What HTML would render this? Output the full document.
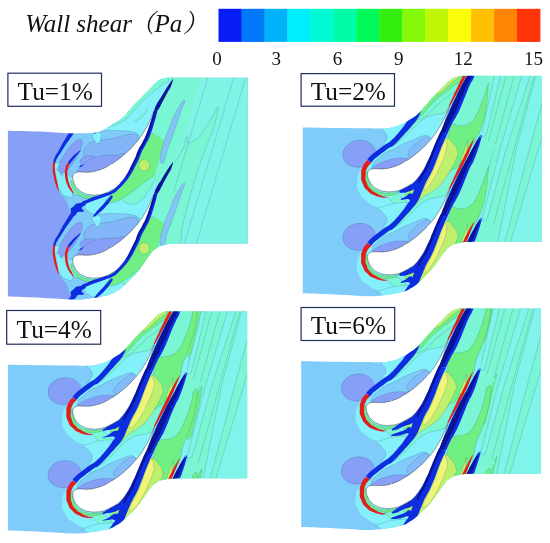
<!DOCTYPE html><html><head><meta charset="utf-8"><title>Wall shear</title>
<style>html,body{margin:0;padding:0;background:#fff}svg{display:block}.p{filter:blur(0.35px)}.s{font-family:"Liberation Serif","Noto Serif CJK SC",serif;fill:#111}</style></head><body>
<svg width="550" height="543" viewBox="0 0 550 543">
<rect width="550" height="543" fill="#fff"/>
<rect x="218.5" y="8.8" width="23.4" height="33.1" fill="rgb(8,28,246)"/>
<rect x="241.5" y="8.8" width="23.4" height="33.1" fill="rgb(0,120,250)"/>
<rect x="264.4" y="8.8" width="23.4" height="33.1" fill="rgb(0,178,250)"/>
<rect x="287.4" y="8.8" width="23.4" height="33.1" fill="rgb(0,238,252)"/>
<rect x="310.4" y="8.8" width="23.4" height="33.1" fill="rgb(0,250,212)"/>
<rect x="333.3" y="8.8" width="23.4" height="33.1" fill="rgb(0,252,168)"/>
<rect x="356.3" y="8.8" width="23.4" height="33.1" fill="rgb(0,250,90)"/>
<rect x="379.3" y="8.8" width="23.4" height="33.1" fill="rgb(52,238,16)"/>
<rect x="402.2" y="8.8" width="23.4" height="33.1" fill="rgb(132,250,8)"/>
<rect x="425.2" y="8.8" width="23.4" height="33.1" fill="rgb(190,246,6)"/>
<rect x="448.1" y="8.8" width="23.4" height="33.1" fill="rgb(252,252,8)"/>
<rect x="471.1" y="8.8" width="23.4" height="33.1" fill="rgb(255,192,4)"/>
<rect x="494.1" y="8.8" width="23.4" height="33.1" fill="rgb(255,132,4)"/>
<rect x="517" y="8.8" width="23.4" height="33.1" fill="rgb(255,52,8)"/>
<text x="217" y="65" font-size="19" text-anchor="middle" class="s">0</text>
<text x="276.2" y="65" font-size="19" text-anchor="middle" class="s">3</text>
<text x="337.4" y="65" font-size="19" text-anchor="middle" class="s">6</text>
<text x="398.8" y="65" font-size="19" text-anchor="middle" class="s">9</text>
<text x="463.3" y="65" font-size="19" text-anchor="middle" class="s">12</text>
<text x="533.6" y="65" font-size="19" text-anchor="middle" class="s">15</text>
<text x="25.2" y="32" font-size="25" font-style="italic" class="s">Wall shear</text>
<text y="32" font-size="25" font-style="italic" class="s"><tspan x="129.5">（</tspan><tspan x="154.5">Pa</tspan><tspan x="182.7">）</tspan></text>
<g class="p" transform="translate(7.7 130.8)">
<clipPath id="c1"><path d="M0 0C10 0.3 11.7 0.1 30 0.8C48.3 1.5 40 1.5 55 2.2C70 2.9 64.1 2.9 75 2.8C85.9 2.7 81.3 2.9 87.6 2C93.9 1.1 90.6 1.3 94 0C97.4 -1.3 95.2 -0.5 97.8 -2C100.4 -3.5 98.4 -2.3 101.8 -4.4C105.2 -6.5 103.3 -5.1 107.9 -8.2C112.5 -11.3 110.5 -9.2 115.5 -13.6C120.5 -18 118.6 -16.9 122.8 -21.5C127 -26.1 124.7 -23.9 128 -27.5C131.3 -31.1 127.7 -27.3 132.6 -32.3C137.5 -37.3 137.7 -37.3 142.8 -42.4C147.9 -47.5 144.4 -44.6 147.8 -47.5C151.2 -50.5 148.9 -49.4 153 -51.2C157.1 -53.1 157.7 -52.5 160 -53.1L240.1 -53.1L240.1 112.8L167.5 112.8C163.8 113.3 162.9 112.6 156.4 114.3C149.9 116 152.8 114.6 148 117.9C143.2 121.2 146 119.4 142 124.3C138 129.2 140.4 126.6 136 132.6C131.6 138.6 133.6 136.6 128.8 142.2C124 147.8 126.5 144.7 121.7 149.4C116.9 154.1 119.3 152.5 114.5 156.4C109.7 160.3 111.3 158.8 107.3 161.2C103.3 163.6 105.9 162.3 102.5 163.6C99.1 164.9 101.8 163.9 97 165C92.2 166.1 95.3 165.7 88 166.8C80.7 167.9 83.7 167.7 75.2 168.4C66.7 169.1 74.2 169.1 62.5 168.8C50.8 168.5 60.8 168.5 40 167.5C19.2 166.5 13.3 166.4 0 165.8Z"/></clipPath>
<g clip-path="url(#c1)">
<rect x="-2" y="-60" width="250" height="240" fill="rgb(134,160,248)"/>
<rect x="140" y="-60" width="110" height="240" fill="rgb(127,244,230)"/>
<path d="M165.5 -54 L193.5 -54 L186 -30 L176 6 L166 33.4 L165.5 33.4Z" fill="rgb(122,246,212)"/>
<path d="M147 64C149.2 56 153.3 52.2 157 46C160.7 39.8 162.7 37 165.5 33C168.3 29 168.9 29.4 171 26C173.1 22.6 174.4 20 176 16C177.6 12 178 6.8 179 6C180 5.2 178.6 12 181 12C183.4 12 187 10 191 6C195 2 197.3 -2.3 201 -8C204.7 -13.7 207.5 -19.9 209.3 -22.3C211.1 -24.7 210.9 -24.5 210 -20C209.1 -15.5 207.6 -8 205 0C202.4 8 200.6 10.2 197 20C193.4 29.8 191.2 35 187 49C182.8 63 179.4 76.6 176 90C172.6 103.4 175.2 110.8 170 116C164.8 121.2 154.8 122 150 116C145.2 110 146.6 96.4 146 86C145.4 75.6 144.8 72 147 64Z" fill="rgb(122,246,212)" stroke="rgb(40,80,110)" stroke-opacity="0.55" stroke-width="0.35"/>
<path d="M200 -53L150 115" fill="none" stroke="rgb(40,80,110)" stroke-opacity="0.55" stroke-width="0.35"/>
<path d="M226 -53L176 115" fill="none" stroke="rgb(40,80,110)" stroke-opacity="0.55" stroke-width="0.35"/>
<path d="M238 -53L188 115" fill="none" stroke="rgb(40,80,110)" stroke-opacity="0.55" stroke-width="0.35"/>
<g transform="translate(0 -83)">
<path d="M67.7 -2.7C69.7 -4.9 69.7 -5.9 73.8 -9.2C77.9 -12.5 75.3 -10.4 80 -12.6C84.7 -14.8 82.6 -13.8 87.9 -15.7C93.2 -17.6 90.6 -16.5 96 -18.4C101.4 -20.3 99.5 -19 104.2 -21.5C108.9 -24 106.3 -22.7 110 -26C113.7 -29.3 112.1 -27.9 115.2 -31.5C118.3 -35.1 116.6 -32.8 119.3 -36.8C122 -40.8 120.8 -38.8 123.3 -43.4C125.8 -48 124.7 -46.1 126.9 -50.6C129.1 -55.1 128.1 -52.7 129.9 -56.8C131.7 -60.9 130 -58.2 132.2 -62.8C134.4 -67.4 133.7 -65.3 136.4 -70.5C139.1 -75.7 137.6 -71.7 140.3 -78.5C143 -85.3 142.4 -84.2 144.6 -91C146.8 -97.8 145.9 -95 147 -99C148.1 -103 146.7 -99.7 148 -103C149.3 -106.3 148.7 -104.7 151 -109C153.3 -113.3 152.3 -111.3 155 -116C157.7 -120.7 156.5 -118.7 159 -123C161.5 -127.3 160.4 -125.2 162.5 -129C164.6 -132.8 164.3 -132.7 165.2 -134.5L165.2 -51.5C164.3 -49.7 164.6 -49.8 162.5 -46C160.4 -42.2 161.5 -44.3 159 -40C156.5 -35.7 157.7 -37.7 155 -33C152.3 -28.3 153.3 -30.3 151 -26C148.7 -21.7 149.3 -23.3 148 -20C146.7 -16.7 148.1 -20 147 -16C145.9 -12 146.8 -14.8 144.6 -8C142.4 -1.2 143 -2.3 140.3 4.5C137.6 11.3 139.1 7.3 136.4 12.5C133.7 17.7 134.4 15.6 132.2 20.2C130 24.8 131.7 22.1 129.9 26.2C128.1 30.3 129.1 27.9 126.9 32.4C124.7 36.9 125.8 35 123.3 39.6C120.8 44.2 122 42.2 119.3 46.2C116.6 50.2 118.3 47.9 115.2 51.5C112.1 55.1 113.7 53.7 110 57C106.3 60.3 108.9 59 104.2 61.5C99.5 64 101.4 62.7 96 64.6C90.6 66.5 93.2 65.4 87.9 67.3C82.6 69.2 84.7 68.2 80 70.4C75.3 72.6 77.9 70.5 73.8 73.8C69.7 77.1 69.7 78.1 67.7 80.3L67.7 80.3C65.8 80.4 64.4 81.6 62 80.5C59.6 79.4 62.1 80.7 60.6 77C59.1 73.3 60.9 75 57.6 69.3C54.3 63.6 53.8 65.6 50.8 59.8C47.8 54 49.9 56.9 48.6 52C47.3 47.1 47.8 49.7 47 45C46.2 40.3 46.3 42.3 46.1 38C45.9 33.7 45.7 35.8 46.5 32C47.3 28.2 46.4 30.6 48.4 26.7C50.4 22.8 50 24.3 52.5 20.2C55 16.1 53.4 18.3 55.8 14.4C58.2 10.5 57 12.5 59.6 8.5C62.2 4.5 60.9 6.1 63.6 2.4C66.3 -1.3 66.3 -1 67.7 -2.7Z" fill="rgb(132,240,250)"/>
<path d="M67.7 -2.7C65.3 -0.2 66.4 -1.6 63.6 2.4C60.8 6.4 59.3 8.7 55.8 14.4C52.3 20.1 50.6 22.6 48.4 26.7C46.2 30.8 45.7 30.8 46.5 32C47.3 33.2 49.3 31.1 52 32C54.7 32.9 56.1 33.2 58 36C59.9 38.8 57.2 41.9 60 44C62.8 46.1 60.7 46.9 70 45C79.3 43.1 90.2 40.2 100 36C109.8 31.8 106.2 32.1 112 27C117.8 21.9 120.5 18.6 125 14C129.5 9.4 130.1 9.8 131.2 7.2C132.3 4.6 132.1 4.6 129.6 3C127.1 1.4 126.5 1.3 120.5 0.5C114.5 -0.3 111.6 -0.2 103.9 -0.3C96.2 -0.4 92.9 0.8 87.3 0.2C81.7 -0.4 83.2 -1 80 -3C76.8 -5 76.7 -8.6 73.8 -8.5C70.9 -8.4 70.1 -5.2 67.7 -2.7Z" fill="rgb(127,203,250)" stroke="rgb(40,80,110)" stroke-opacity="0.55" stroke-width="0.35"/>
<path d="M80 14C83 10.9 80.9 12.1 87.3 10.5C93.7 8.9 96 9.6 103.9 8C111.8 6.4 111.2 5.7 117.1 4.5C123 3.3 122.6 2.8 126 3.5C129.4 4.2 130 4 130 7C130 10 129.2 10.4 125.9 14.6C122.6 18.8 122 19.9 117.8 22.7C113.6 25.5 115.3 24.4 110 25C104.7 25.6 103.9 24.5 98 25C92.1 25.5 92.8 25.7 88 27C83.2 28.3 83.2 31.3 80 30C76.8 28.7 76 26.3 76 22C76 17.7 77 17.1 80 14Z" fill="rgb(131,182,249)" stroke="rgb(40,80,110)" stroke-opacity="0.55" stroke-width="0.35"/>
<path d="M50.8 59.8C50.2 62 55.3 65.3 57.6 69.3C59.9 73.3 59.6 74.4 60.6 77C61.6 79.6 60.3 79.7 62 80.5C63.7 81.3 64.9 81.7 67.7 80.3C70.5 78.9 70.9 76.7 73.8 74.5C76.7 72.3 79.5 73 80 71C80.5 69 78.8 67.6 76 66C73.2 64.4 71.7 65.4 68 64C64.3 62.6 64 61 60 60C56 59 51.4 57.6 50.8 59.8Z" fill="rgb(127,203,250)" stroke="rgb(40,80,110)" stroke-opacity="0.55" stroke-width="0.35"/>
<ellipse cx="62.3" cy="26" rx="20.5" ry="6.2" transform="rotate(-57 62.3 26)" fill="rgb(134,160,248)" stroke="rgb(40,80,110)" stroke-opacity="0.55" stroke-width="0.35"/>
<ellipse cx="80.5" cy="29.5" rx="8.5" ry="4.6" transform="rotate(-12 80.5 29.5)" fill="rgb(134,160,248)" stroke="rgb(40,80,110)" stroke-opacity="0.55" stroke-width="0.35"/>
<path d="M69.2 41.5C69.6 39.4 70.4 38.8 74 35C77.6 31.2 75.3 32.8 80 30C84.7 27.2 82 28.3 88 26.5C94 24.7 91.2 25.3 98 24.6C104.8 23.9 103.2 24.8 108.5 24.3C113.8 23.8 111.5 22.9 114 23C116.5 23.1 118.1 21.8 116 24.5C113.9 27.2 111.9 27.9 107.6 31C103.3 34.1 106.3 31.8 103.1 33.7C99.9 35.6 101.5 35 98.1 36.7C94.7 38.4 96.4 37.7 93 38.9C89.6 40.1 91.4 39.6 88 40.4C84.6 41.2 86.3 41 82.9 41.4C79.5 41.8 81.2 41.6 77.8 41.6C74.4 41.6 75.7 41.4 72.8 41.4C69.9 41.4 68.8 43.6 69.2 41.5Z" fill="rgb(134,160,248)" stroke="rgb(40,80,110)" stroke-opacity="0.55" stroke-width="0.35"/>
<path d="M104 -21C102.7 -16 106 -19.7 112 -16C118 -12.3 115 -11 122 -10C129 -9 127 -9 133 -13C139 -17 136 -16.3 140 -22C144 -27.7 141.7 -24 145 -30C148.3 -36 147 -32.7 150 -40C153 -47.3 155.3 -45.3 154 -52C152.7 -58.7 151.3 -54 146 -60C140.7 -66 143 -71.3 138 -70C133 -68.7 135.7 -65 131 -56C126.3 -47 129 -51.3 124 -43C119 -34.7 122.7 -38.3 116 -31C109.3 -23.7 105.3 -26 104 -21Z" fill="rgb(122,246,212)" stroke="rgb(40,80,110)" stroke-opacity="0.55" stroke-width="0.35"/>
<path d="M98 -12C97.6 -14.3 100.8 -16.3 104.5 -20C108.2 -23.7 108.3 -22.4 112 -26C115.7 -29.6 115.6 -29.8 118.5 -33.5C121.4 -37.2 120.8 -36.3 123 -40C125.2 -43.7 124.9 -43.5 126.8 -47.5C128.7 -51.5 127.9 -50.1 130 -55C132.1 -59.9 131.8 -60.3 134.5 -66C137.2 -71.7 137.1 -72.8 140 -76.5C142.9 -80.2 142.6 -79.9 145.5 -80C148.4 -80.1 148 -78.9 151 -77C154 -75.1 155.6 -76.1 156.6 -72.9C157.6 -69.7 155.9 -68.8 154.8 -65C153.7 -61.2 153.9 -62.7 152.6 -58.7C151.3 -54.7 151.4 -55 150 -50C148.6 -45 151.4 -45.4 147.3 -40C143.2 -34.6 142.2 -35.8 134.5 -29.9C126.8 -24 125.9 -22.7 118.3 -17.8C110.7 -12.9 111.4 -13 106 -11.5C100.6 -10 98.4 -9.7 98 -12Z" fill="rgb(112,240,132)" stroke="rgb(40,80,110)" stroke-opacity="0.55" stroke-width="0.35"/>
<ellipse cx="136.5" cy="-48.5" rx="5.4" ry="5.8" fill="rgb(190,240,110)" stroke="rgb(40,80,110)" stroke-opacity="0.55" stroke-width="0.35"/>
<path d="M146 -80 L147 -102 L157 -120 L165.4 -134.6 L166.4 -134.6 L166.4 -50 L158 -33 L150 -21 L147.3 -40 L152.6 -58.7 L156.6 -72.9 L151 -77Z" fill="rgb(122,246,212)"/>
<path d="M176.9 -113.4C177.9 -112.1 175.6 -109.8 172 -99C168.4 -88.2 170 -92.3 166 -81C162 -69.7 163 -74 160 -65C157 -56 159 -58.7 157 -54C155 -49.3 155.4 -50 154 -51C152.6 -52 152.1 -50.3 152.8 -57C153.5 -63.7 152.9 -61 156 -71C159.1 -81 157.7 -76.3 162 -87C166.3 -97.7 164 -94.2 169 -103C174 -111.8 175.9 -114.7 176.9 -113.4Z" fill="rgb(132,196,246)" stroke="rgb(40,80,110)" stroke-opacity="0.55" stroke-width="0.35"/>
<path d="M63 50.1C63.3 51.6 62.6 51.3 63.8 54.5C65 57.6 63.9 56.2 66.6 59.6C69.3 63 67.7 62.1 71.9 64.7C76.1 67.3 73.9 66.4 79.3 67.4C84.7 68.4 82.5 68.6 88.1 67.7C93.8 66.8 93.5 65.7 96.1 64.7L95.9 63.7C93.2 64.3 93.2 65.1 87.9 65.5C82.5 65.9 84.6 66 79.7 65C74.9 64 77 64.8 73.3 62.5C69.6 60.1 71.1 61 68.6 58C66.1 55 67.4 56.2 65.8 53.5C64.2 50.8 64.4 51.1 63.8 49.9Z" fill="rgb(112,240,132)" stroke="rgb(40,80,110)" stroke-opacity="0.55" stroke-width="0.35"/>
<path d="M48.2 40C48.9 37 49.6 39.3 51.5 41C53.4 42.7 52 44.3 54 45C56 45.7 56.3 41.7 57.6 43C58.9 44.3 57.2 45 58 49C58.8 53 57.7 50.2 60 55C62.3 59.8 65 59.8 65 63.5C65 67.2 64.2 67.2 60 66C55.8 64.8 56 65.3 52.5 60C49 54.7 50.9 56.7 49.5 50C48.1 43.3 47.5 43 48.2 40Z" fill="rgb(132,240,250)" stroke="rgb(40,80,110)" stroke-opacity="0.55" stroke-width="0.35"/>
<path d="M85 3C87 0.8 89.8 0.8 92.5 2.5C95.2 4.2 93.8 4.7 93 8C92.2 11.3 92.2 12.2 90 12.5C87.8 12.8 88.2 12.2 86.5 9C84.8 5.8 83 5.2 85 3Z" fill="rgb(132,240,250)" stroke="rgb(40,80,110)" stroke-opacity="0.55" stroke-width="0.35"/>
</g>
<g transform="translate(0 0)">
<path d="M67.7 -2.7C69.7 -4.9 69.7 -5.9 73.8 -9.2C77.9 -12.5 75.3 -10.4 80 -12.6C84.7 -14.8 82.6 -13.8 87.9 -15.7C93.2 -17.6 90.6 -16.5 96 -18.4C101.4 -20.3 99.5 -19 104.2 -21.5C108.9 -24 106.3 -22.7 110 -26C113.7 -29.3 112.1 -27.9 115.2 -31.5C118.3 -35.1 116.6 -32.8 119.3 -36.8C122 -40.8 120.8 -38.8 123.3 -43.4C125.8 -48 124.7 -46.1 126.9 -50.6C129.1 -55.1 128.1 -52.7 129.9 -56.8C131.7 -60.9 130 -58.2 132.2 -62.8C134.4 -67.4 133.7 -65.3 136.4 -70.5C139.1 -75.7 137.6 -71.7 140.3 -78.5C143 -85.3 142.4 -84.2 144.6 -91C146.8 -97.8 145.9 -95 147 -99C148.1 -103 146.7 -99.7 148 -103C149.3 -106.3 148.7 -104.7 151 -109C153.3 -113.3 152.3 -111.3 155 -116C157.7 -120.7 156.5 -118.7 159 -123C161.5 -127.3 160.4 -125.2 162.5 -129C164.6 -132.8 164.3 -132.7 165.2 -134.5L165.2 -51.5C164.3 -49.7 164.6 -49.8 162.5 -46C160.4 -42.2 161.5 -44.3 159 -40C156.5 -35.7 157.7 -37.7 155 -33C152.3 -28.3 153.3 -30.3 151 -26C148.7 -21.7 149.3 -23.3 148 -20C146.7 -16.7 148.1 -20 147 -16C145.9 -12 146.8 -14.8 144.6 -8C142.4 -1.2 143 -2.3 140.3 4.5C137.6 11.3 139.1 7.3 136.4 12.5C133.7 17.7 134.4 15.6 132.2 20.2C130 24.8 131.7 22.1 129.9 26.2C128.1 30.3 129.1 27.9 126.9 32.4C124.7 36.9 125.8 35 123.3 39.6C120.8 44.2 122 42.2 119.3 46.2C116.6 50.2 118.3 47.9 115.2 51.5C112.1 55.1 113.7 53.7 110 57C106.3 60.3 108.9 59 104.2 61.5C99.5 64 101.4 62.7 96 64.6C90.6 66.5 93.2 65.4 87.9 67.3C82.6 69.2 84.7 68.2 80 70.4C75.3 72.6 77.9 70.5 73.8 73.8C69.7 77.1 69.7 78.1 67.7 80.3L67.7 80.3C65.8 80.4 64.4 81.6 62 80.5C59.6 79.4 62.1 80.7 60.6 77C59.1 73.3 60.9 75 57.6 69.3C54.3 63.6 53.8 65.6 50.8 59.8C47.8 54 49.9 56.9 48.6 52C47.3 47.1 47.8 49.7 47 45C46.2 40.3 46.3 42.3 46.1 38C45.9 33.7 45.7 35.8 46.5 32C47.3 28.2 46.4 30.6 48.4 26.7C50.4 22.8 50 24.3 52.5 20.2C55 16.1 53.4 18.3 55.8 14.4C58.2 10.5 57 12.5 59.6 8.5C62.2 4.5 60.9 6.1 63.6 2.4C66.3 -1.3 66.3 -1 67.7 -2.7Z" fill="rgb(132,240,250)"/>
<path d="M67.7 -2.7C65.3 -0.2 66.4 -1.6 63.6 2.4C60.8 6.4 59.3 8.7 55.8 14.4C52.3 20.1 50.6 22.6 48.4 26.7C46.2 30.8 45.7 30.8 46.5 32C47.3 33.2 49.3 31.1 52 32C54.7 32.9 56.1 33.2 58 36C59.9 38.8 57.2 41.9 60 44C62.8 46.1 60.7 46.9 70 45C79.3 43.1 90.2 40.2 100 36C109.8 31.8 106.2 32.1 112 27C117.8 21.9 120.5 18.6 125 14C129.5 9.4 130.1 9.8 131.2 7.2C132.3 4.6 132.1 4.6 129.6 3C127.1 1.4 126.5 1.3 120.5 0.5C114.5 -0.3 111.6 -0.2 103.9 -0.3C96.2 -0.4 92.9 0.8 87.3 0.2C81.7 -0.4 83.2 -1 80 -3C76.8 -5 76.7 -8.6 73.8 -8.5C70.9 -8.4 70.1 -5.2 67.7 -2.7Z" fill="rgb(127,203,250)" stroke="rgb(40,80,110)" stroke-opacity="0.55" stroke-width="0.35"/>
<path d="M80 14C83 10.9 80.9 12.1 87.3 10.5C93.7 8.9 96 9.6 103.9 8C111.8 6.4 111.2 5.7 117.1 4.5C123 3.3 122.6 2.8 126 3.5C129.4 4.2 130 4 130 7C130 10 129.2 10.4 125.9 14.6C122.6 18.8 122 19.9 117.8 22.7C113.6 25.5 115.3 24.4 110 25C104.7 25.6 103.9 24.5 98 25C92.1 25.5 92.8 25.7 88 27C83.2 28.3 83.2 31.3 80 30C76.8 28.7 76 26.3 76 22C76 17.7 77 17.1 80 14Z" fill="rgb(131,182,249)" stroke="rgb(40,80,110)" stroke-opacity="0.55" stroke-width="0.35"/>
<path d="M50.8 59.8C50.2 62 55.3 65.3 57.6 69.3C59.9 73.3 59.6 74.4 60.6 77C61.6 79.6 60.3 79.7 62 80.5C63.7 81.3 64.9 81.7 67.7 80.3C70.5 78.9 70.9 76.7 73.8 74.5C76.7 72.3 79.5 73 80 71C80.5 69 78.8 67.6 76 66C73.2 64.4 71.7 65.4 68 64C64.3 62.6 64 61 60 60C56 59 51.4 57.6 50.8 59.8Z" fill="rgb(127,203,250)" stroke="rgb(40,80,110)" stroke-opacity="0.55" stroke-width="0.35"/>
<ellipse cx="62.3" cy="26" rx="20.5" ry="6.2" transform="rotate(-57 62.3 26)" fill="rgb(134,160,248)" stroke="rgb(40,80,110)" stroke-opacity="0.55" stroke-width="0.35"/>
<ellipse cx="80.5" cy="29.5" rx="8.5" ry="4.6" transform="rotate(-12 80.5 29.5)" fill="rgb(134,160,248)" stroke="rgb(40,80,110)" stroke-opacity="0.55" stroke-width="0.35"/>
<path d="M69.2 41.5C69.6 39.4 70.4 38.8 74 35C77.6 31.2 75.3 32.8 80 30C84.7 27.2 82 28.3 88 26.5C94 24.7 91.2 25.3 98 24.6C104.8 23.9 103.2 24.8 108.5 24.3C113.8 23.8 111.5 22.9 114 23C116.5 23.1 118.1 21.8 116 24.5C113.9 27.2 111.9 27.9 107.6 31C103.3 34.1 106.3 31.8 103.1 33.7C99.9 35.6 101.5 35 98.1 36.7C94.7 38.4 96.4 37.7 93 38.9C89.6 40.1 91.4 39.6 88 40.4C84.6 41.2 86.3 41 82.9 41.4C79.5 41.8 81.2 41.6 77.8 41.6C74.4 41.6 75.7 41.4 72.8 41.4C69.9 41.4 68.8 43.6 69.2 41.5Z" fill="rgb(134,160,248)" stroke="rgb(40,80,110)" stroke-opacity="0.55" stroke-width="0.35"/>
<path d="M104 -21C102.7 -16 106 -19.7 112 -16C118 -12.3 115 -11 122 -10C129 -9 127 -9 133 -13C139 -17 136 -16.3 140 -22C144 -27.7 141.7 -24 145 -30C148.3 -36 147 -32.7 150 -40C153 -47.3 155.3 -45.3 154 -52C152.7 -58.7 151.3 -54 146 -60C140.7 -66 143 -71.3 138 -70C133 -68.7 135.7 -65 131 -56C126.3 -47 129 -51.3 124 -43C119 -34.7 122.7 -38.3 116 -31C109.3 -23.7 105.3 -26 104 -21Z" fill="rgb(122,246,212)" stroke="rgb(40,80,110)" stroke-opacity="0.55" stroke-width="0.35"/>
<path d="M98 -12C97.6 -14.3 100.8 -16.3 104.5 -20C108.2 -23.7 108.3 -22.4 112 -26C115.7 -29.6 115.6 -29.8 118.5 -33.5C121.4 -37.2 120.8 -36.3 123 -40C125.2 -43.7 124.9 -43.5 126.8 -47.5C128.7 -51.5 127.9 -50.1 130 -55C132.1 -59.9 131.8 -60.3 134.5 -66C137.2 -71.7 137.1 -72.8 140 -76.5C142.9 -80.2 142.6 -79.9 145.5 -80C148.4 -80.1 148 -78.9 151 -77C154 -75.1 155.6 -76.1 156.6 -72.9C157.6 -69.7 155.9 -68.8 154.8 -65C153.7 -61.2 153.9 -62.7 152.6 -58.7C151.3 -54.7 151.4 -55 150 -50C148.6 -45 151.4 -45.4 147.3 -40C143.2 -34.6 142.2 -35.8 134.5 -29.9C126.8 -24 125.9 -22.7 118.3 -17.8C110.7 -12.9 111.4 -13 106 -11.5C100.6 -10 98.4 -9.7 98 -12Z" fill="rgb(112,240,132)" stroke="rgb(40,80,110)" stroke-opacity="0.55" stroke-width="0.35"/>
<ellipse cx="136.5" cy="-48.5" rx="5.4" ry="5.8" fill="rgb(190,240,110)" stroke="rgb(40,80,110)" stroke-opacity="0.55" stroke-width="0.35"/>
<path d="M146 -80 L147 -102 L157 -120 L165.4 -134.6 L166.4 -134.6 L166.4 -50 L158 -33 L150 -21 L147.3 -40 L152.6 -58.7 L156.6 -72.9 L151 -77Z" fill="rgb(122,246,212)"/>
<path d="M176.9 -113.4C177.9 -112.1 175.6 -109.8 172 -99C168.4 -88.2 170 -92.3 166 -81C162 -69.7 163 -74 160 -65C157 -56 159 -58.7 157 -54C155 -49.3 155.4 -50 154 -51C152.6 -52 152.1 -50.3 152.8 -57C153.5 -63.7 152.9 -61 156 -71C159.1 -81 157.7 -76.3 162 -87C166.3 -97.7 164 -94.2 169 -103C174 -111.8 175.9 -114.7 176.9 -113.4Z" fill="rgb(132,196,246)" stroke="rgb(40,80,110)" stroke-opacity="0.55" stroke-width="0.35"/>
<path d="M63 50.1C63.3 51.6 62.6 51.3 63.8 54.5C65 57.6 63.9 56.2 66.6 59.6C69.3 63 67.7 62.1 71.9 64.7C76.1 67.3 73.9 66.4 79.3 67.4C84.7 68.4 82.5 68.6 88.1 67.7C93.8 66.8 93.5 65.7 96.1 64.7L95.9 63.7C93.2 64.3 93.2 65.1 87.9 65.5C82.5 65.9 84.6 66 79.7 65C74.9 64 77 64.8 73.3 62.5C69.6 60.1 71.1 61 68.6 58C66.1 55 67.4 56.2 65.8 53.5C64.2 50.8 64.4 51.1 63.8 49.9Z" fill="rgb(112,240,132)" stroke="rgb(40,80,110)" stroke-opacity="0.55" stroke-width="0.35"/>
<path d="M48.2 40C48.9 37 49.6 39.3 51.5 41C53.4 42.7 52 44.3 54 45C56 45.7 56.3 41.7 57.6 43C58.9 44.3 57.2 45 58 49C58.8 53 57.7 50.2 60 55C62.3 59.8 65 59.8 65 63.5C65 67.2 64.2 67.2 60 66C55.8 64.8 56 65.3 52.5 60C49 54.7 50.9 56.7 49.5 50C48.1 43.3 47.5 43 48.2 40Z" fill="rgb(132,240,250)" stroke="rgb(40,80,110)" stroke-opacity="0.55" stroke-width="0.35"/>
<path d="M85 3C87 0.8 89.8 0.8 92.5 2.5C95.2 4.2 93.8 4.7 93 8C92.2 11.3 92.2 12.2 90 12.5C87.8 12.8 88.2 12.2 86.5 9C84.8 5.8 83 5.2 85 3Z" fill="rgb(132,240,250)" stroke="rgb(40,80,110)" stroke-opacity="0.55" stroke-width="0.35"/>
</g>
<g transform="translate(0 83)">
<path d="M67.7 -2.7C69.7 -4.9 69.7 -5.9 73.8 -9.2C77.9 -12.5 75.3 -10.4 80 -12.6C84.7 -14.8 82.6 -13.8 87.9 -15.7C93.2 -17.6 90.6 -16.5 96 -18.4C101.4 -20.3 99.5 -19 104.2 -21.5C108.9 -24 106.3 -22.7 110 -26C113.7 -29.3 112.1 -27.9 115.2 -31.5C118.3 -35.1 116.6 -32.8 119.3 -36.8C122 -40.8 120.8 -38.8 123.3 -43.4C125.8 -48 124.7 -46.1 126.9 -50.6C129.1 -55.1 128.1 -52.7 129.9 -56.8C131.7 -60.9 130 -58.2 132.2 -62.8C134.4 -67.4 133.7 -65.3 136.4 -70.5C139.1 -75.7 137.6 -71.7 140.3 -78.5C143 -85.3 142.4 -84.2 144.6 -91C146.8 -97.8 145.9 -95 147 -99C148.1 -103 146.7 -99.7 148 -103C149.3 -106.3 148.7 -104.7 151 -109C153.3 -113.3 152.3 -111.3 155 -116C157.7 -120.7 156.5 -118.7 159 -123C161.5 -127.3 160.4 -125.2 162.5 -129C164.6 -132.8 164.3 -132.7 165.2 -134.5L165.2 -51.5C164.3 -49.7 164.6 -49.8 162.5 -46C160.4 -42.2 161.5 -44.3 159 -40C156.5 -35.7 157.7 -37.7 155 -33C152.3 -28.3 153.3 -30.3 151 -26C148.7 -21.7 149.3 -23.3 148 -20C146.7 -16.7 148.1 -20 147 -16C145.9 -12 146.8 -14.8 144.6 -8C142.4 -1.2 143 -2.3 140.3 4.5C137.6 11.3 139.1 7.3 136.4 12.5C133.7 17.7 134.4 15.6 132.2 20.2C130 24.8 131.7 22.1 129.9 26.2C128.1 30.3 129.1 27.9 126.9 32.4C124.7 36.9 125.8 35 123.3 39.6C120.8 44.2 122 42.2 119.3 46.2C116.6 50.2 118.3 47.9 115.2 51.5C112.1 55.1 113.7 53.7 110 57C106.3 60.3 108.9 59 104.2 61.5C99.5 64 101.4 62.7 96 64.6C90.6 66.5 93.2 65.4 87.9 67.3C82.6 69.2 84.7 68.2 80 70.4C75.3 72.6 77.9 70.5 73.8 73.8C69.7 77.1 69.7 78.1 67.7 80.3L67.7 80.3C65.8 80.4 64.4 81.6 62 80.5C59.6 79.4 62.1 80.7 60.6 77C59.1 73.3 60.9 75 57.6 69.3C54.3 63.6 53.8 65.6 50.8 59.8C47.8 54 49.9 56.9 48.6 52C47.3 47.1 47.8 49.7 47 45C46.2 40.3 46.3 42.3 46.1 38C45.9 33.7 45.7 35.8 46.5 32C47.3 28.2 46.4 30.6 48.4 26.7C50.4 22.8 50 24.3 52.5 20.2C55 16.1 53.4 18.3 55.8 14.4C58.2 10.5 57 12.5 59.6 8.5C62.2 4.5 60.9 6.1 63.6 2.4C66.3 -1.3 66.3 -1 67.7 -2.7Z" fill="rgb(132,240,250)"/>
<path d="M67.7 -2.7C65.3 -0.2 66.4 -1.6 63.6 2.4C60.8 6.4 59.3 8.7 55.8 14.4C52.3 20.1 50.6 22.6 48.4 26.7C46.2 30.8 45.7 30.8 46.5 32C47.3 33.2 49.3 31.1 52 32C54.7 32.9 56.1 33.2 58 36C59.9 38.8 57.2 41.9 60 44C62.8 46.1 60.7 46.9 70 45C79.3 43.1 90.2 40.2 100 36C109.8 31.8 106.2 32.1 112 27C117.8 21.9 120.5 18.6 125 14C129.5 9.4 130.1 9.8 131.2 7.2C132.3 4.6 132.1 4.6 129.6 3C127.1 1.4 126.5 1.3 120.5 0.5C114.5 -0.3 111.6 -0.2 103.9 -0.3C96.2 -0.4 92.9 0.8 87.3 0.2C81.7 -0.4 83.2 -1 80 -3C76.8 -5 76.7 -8.6 73.8 -8.5C70.9 -8.4 70.1 -5.2 67.7 -2.7Z" fill="rgb(127,203,250)" stroke="rgb(40,80,110)" stroke-opacity="0.55" stroke-width="0.35"/>
<path d="M80 14C83 10.9 80.9 12.1 87.3 10.5C93.7 8.9 96 9.6 103.9 8C111.8 6.4 111.2 5.7 117.1 4.5C123 3.3 122.6 2.8 126 3.5C129.4 4.2 130 4 130 7C130 10 129.2 10.4 125.9 14.6C122.6 18.8 122 19.9 117.8 22.7C113.6 25.5 115.3 24.4 110 25C104.7 25.6 103.9 24.5 98 25C92.1 25.5 92.8 25.7 88 27C83.2 28.3 83.2 31.3 80 30C76.8 28.7 76 26.3 76 22C76 17.7 77 17.1 80 14Z" fill="rgb(131,182,249)" stroke="rgb(40,80,110)" stroke-opacity="0.55" stroke-width="0.35"/>
<path d="M50.8 59.8C50.2 62 55.3 65.3 57.6 69.3C59.9 73.3 59.6 74.4 60.6 77C61.6 79.6 60.3 79.7 62 80.5C63.7 81.3 64.9 81.7 67.7 80.3C70.5 78.9 70.9 76.7 73.8 74.5C76.7 72.3 79.5 73 80 71C80.5 69 78.8 67.6 76 66C73.2 64.4 71.7 65.4 68 64C64.3 62.6 64 61 60 60C56 59 51.4 57.6 50.8 59.8Z" fill="rgb(127,203,250)" stroke="rgb(40,80,110)" stroke-opacity="0.55" stroke-width="0.35"/>
<ellipse cx="62.3" cy="26" rx="20.5" ry="6.2" transform="rotate(-57 62.3 26)" fill="rgb(134,160,248)" stroke="rgb(40,80,110)" stroke-opacity="0.55" stroke-width="0.35"/>
<ellipse cx="80.5" cy="29.5" rx="8.5" ry="4.6" transform="rotate(-12 80.5 29.5)" fill="rgb(134,160,248)" stroke="rgb(40,80,110)" stroke-opacity="0.55" stroke-width="0.35"/>
<path d="M69.2 41.5C69.6 39.4 70.4 38.8 74 35C77.6 31.2 75.3 32.8 80 30C84.7 27.2 82 28.3 88 26.5C94 24.7 91.2 25.3 98 24.6C104.8 23.9 103.2 24.8 108.5 24.3C113.8 23.8 111.5 22.9 114 23C116.5 23.1 118.1 21.8 116 24.5C113.9 27.2 111.9 27.9 107.6 31C103.3 34.1 106.3 31.8 103.1 33.7C99.9 35.6 101.5 35 98.1 36.7C94.7 38.4 96.4 37.7 93 38.9C89.6 40.1 91.4 39.6 88 40.4C84.6 41.2 86.3 41 82.9 41.4C79.5 41.8 81.2 41.6 77.8 41.6C74.4 41.6 75.7 41.4 72.8 41.4C69.9 41.4 68.8 43.6 69.2 41.5Z" fill="rgb(134,160,248)" stroke="rgb(40,80,110)" stroke-opacity="0.55" stroke-width="0.35"/>
<path d="M104 -21C102.7 -16 106 -19.7 112 -16C118 -12.3 115 -11 122 -10C129 -9 127 -9 133 -13C139 -17 136 -16.3 140 -22C144 -27.7 141.7 -24 145 -30C148.3 -36 147 -32.7 150 -40C153 -47.3 155.3 -45.3 154 -52C152.7 -58.7 151.3 -54 146 -60C140.7 -66 143 -71.3 138 -70C133 -68.7 135.7 -65 131 -56C126.3 -47 129 -51.3 124 -43C119 -34.7 122.7 -38.3 116 -31C109.3 -23.7 105.3 -26 104 -21Z" fill="rgb(122,246,212)" stroke="rgb(40,80,110)" stroke-opacity="0.55" stroke-width="0.35"/>
<path d="M98 -12C97.6 -14.3 100.8 -16.3 104.5 -20C108.2 -23.7 108.3 -22.4 112 -26C115.7 -29.6 115.6 -29.8 118.5 -33.5C121.4 -37.2 120.8 -36.3 123 -40C125.2 -43.7 124.9 -43.5 126.8 -47.5C128.7 -51.5 127.9 -50.1 130 -55C132.1 -59.9 131.8 -60.3 134.5 -66C137.2 -71.7 137.1 -72.8 140 -76.5C142.9 -80.2 142.6 -79.9 145.5 -80C148.4 -80.1 148 -78.9 151 -77C154 -75.1 155.6 -76.1 156.6 -72.9C157.6 -69.7 155.9 -68.8 154.8 -65C153.7 -61.2 153.9 -62.7 152.6 -58.7C151.3 -54.7 151.4 -55 150 -50C148.6 -45 151.4 -45.4 147.3 -40C143.2 -34.6 142.2 -35.8 134.5 -29.9C126.8 -24 125.9 -22.7 118.3 -17.8C110.7 -12.9 111.4 -13 106 -11.5C100.6 -10 98.4 -9.7 98 -12Z" fill="rgb(112,240,132)" stroke="rgb(40,80,110)" stroke-opacity="0.55" stroke-width="0.35"/>
<ellipse cx="136.5" cy="-48.5" rx="5.4" ry="5.8" fill="rgb(190,240,110)" stroke="rgb(40,80,110)" stroke-opacity="0.55" stroke-width="0.35"/>
<path d="M146 -80 L147 -102 L157 -120 L165.4 -134.6 L166.4 -134.6 L166.4 -50 L158 -33 L150 -21 L147.3 -40 L152.6 -58.7 L156.6 -72.9 L151 -77Z" fill="rgb(122,246,212)"/>
<path d="M176.9 -113.4C177.9 -112.1 175.6 -109.8 172 -99C168.4 -88.2 170 -92.3 166 -81C162 -69.7 163 -74 160 -65C157 -56 159 -58.7 157 -54C155 -49.3 155.4 -50 154 -51C152.6 -52 152.1 -50.3 152.8 -57C153.5 -63.7 152.9 -61 156 -71C159.1 -81 157.7 -76.3 162 -87C166.3 -97.7 164 -94.2 169 -103C174 -111.8 175.9 -114.7 176.9 -113.4Z" fill="rgb(132,196,246)" stroke="rgb(40,80,110)" stroke-opacity="0.55" stroke-width="0.35"/>
<path d="M63 50.1C63.3 51.6 62.6 51.3 63.8 54.5C65 57.6 63.9 56.2 66.6 59.6C69.3 63 67.7 62.1 71.9 64.7C76.1 67.3 73.9 66.4 79.3 67.4C84.7 68.4 82.5 68.6 88.1 67.7C93.8 66.8 93.5 65.7 96.1 64.7L95.9 63.7C93.2 64.3 93.2 65.1 87.9 65.5C82.5 65.9 84.6 66 79.7 65C74.9 64 77 64.8 73.3 62.5C69.6 60.1 71.1 61 68.6 58C66.1 55 67.4 56.2 65.8 53.5C64.2 50.8 64.4 51.1 63.8 49.9Z" fill="rgb(112,240,132)" stroke="rgb(40,80,110)" stroke-opacity="0.55" stroke-width="0.35"/>
<path d="M48.2 40C48.9 37 49.6 39.3 51.5 41C53.4 42.7 52 44.3 54 45C56 45.7 56.3 41.7 57.6 43C58.9 44.3 57.2 45 58 49C58.8 53 57.7 50.2 60 55C62.3 59.8 65 59.8 65 63.5C65 67.2 64.2 67.2 60 66C55.8 64.8 56 65.3 52.5 60C49 54.7 50.9 56.7 49.5 50C48.1 43.3 47.5 43 48.2 40Z" fill="rgb(132,240,250)" stroke="rgb(40,80,110)" stroke-opacity="0.55" stroke-width="0.35"/>
<path d="M85 3C87 0.8 89.8 0.8 92.5 2.5C95.2 4.2 93.8 4.7 93 8C92.2 11.3 92.2 12.2 90 12.5C87.8 12.8 88.2 12.2 86.5 9C84.8 5.8 83 5.2 85 3Z" fill="rgb(132,240,250)" stroke="rgb(40,80,110)" stroke-opacity="0.55" stroke-width="0.35"/>
</g>
<g transform="translate(0 166)">
<path d="M67.7 -2.7C69.7 -4.9 69.7 -5.9 73.8 -9.2C77.9 -12.5 75.3 -10.4 80 -12.6C84.7 -14.8 82.6 -13.8 87.9 -15.7C93.2 -17.6 90.6 -16.5 96 -18.4C101.4 -20.3 99.5 -19 104.2 -21.5C108.9 -24 106.3 -22.7 110 -26C113.7 -29.3 112.1 -27.9 115.2 -31.5C118.3 -35.1 116.6 -32.8 119.3 -36.8C122 -40.8 120.8 -38.8 123.3 -43.4C125.8 -48 124.7 -46.1 126.9 -50.6C129.1 -55.1 128.1 -52.7 129.9 -56.8C131.7 -60.9 130 -58.2 132.2 -62.8C134.4 -67.4 133.7 -65.3 136.4 -70.5C139.1 -75.7 137.6 -71.7 140.3 -78.5C143 -85.3 142.4 -84.2 144.6 -91C146.8 -97.8 145.9 -95 147 -99C148.1 -103 146.7 -99.7 148 -103C149.3 -106.3 148.7 -104.7 151 -109C153.3 -113.3 152.3 -111.3 155 -116C157.7 -120.7 156.5 -118.7 159 -123C161.5 -127.3 160.4 -125.2 162.5 -129C164.6 -132.8 164.3 -132.7 165.2 -134.5L165.2 -51.5C164.3 -49.7 164.6 -49.8 162.5 -46C160.4 -42.2 161.5 -44.3 159 -40C156.5 -35.7 157.7 -37.7 155 -33C152.3 -28.3 153.3 -30.3 151 -26C148.7 -21.7 149.3 -23.3 148 -20C146.7 -16.7 148.1 -20 147 -16C145.9 -12 146.8 -14.8 144.6 -8C142.4 -1.2 143 -2.3 140.3 4.5C137.6 11.3 139.1 7.3 136.4 12.5C133.7 17.7 134.4 15.6 132.2 20.2C130 24.8 131.7 22.1 129.9 26.2C128.1 30.3 129.1 27.9 126.9 32.4C124.7 36.9 125.8 35 123.3 39.6C120.8 44.2 122 42.2 119.3 46.2C116.6 50.2 118.3 47.9 115.2 51.5C112.1 55.1 113.7 53.7 110 57C106.3 60.3 108.9 59 104.2 61.5C99.5 64 101.4 62.7 96 64.6C90.6 66.5 93.2 65.4 87.9 67.3C82.6 69.2 84.7 68.2 80 70.4C75.3 72.6 77.9 70.5 73.8 73.8C69.7 77.1 69.7 78.1 67.7 80.3L67.7 80.3C65.8 80.4 64.4 81.6 62 80.5C59.6 79.4 62.1 80.7 60.6 77C59.1 73.3 60.9 75 57.6 69.3C54.3 63.6 53.8 65.6 50.8 59.8C47.8 54 49.9 56.9 48.6 52C47.3 47.1 47.8 49.7 47 45C46.2 40.3 46.3 42.3 46.1 38C45.9 33.7 45.7 35.8 46.5 32C47.3 28.2 46.4 30.6 48.4 26.7C50.4 22.8 50 24.3 52.5 20.2C55 16.1 53.4 18.3 55.8 14.4C58.2 10.5 57 12.5 59.6 8.5C62.2 4.5 60.9 6.1 63.6 2.4C66.3 -1.3 66.3 -1 67.7 -2.7Z" fill="rgb(132,240,250)"/>
<path d="M67.7 -2.7C65.3 -0.2 66.4 -1.6 63.6 2.4C60.8 6.4 59.3 8.7 55.8 14.4C52.3 20.1 50.6 22.6 48.4 26.7C46.2 30.8 45.7 30.8 46.5 32C47.3 33.2 49.3 31.1 52 32C54.7 32.9 56.1 33.2 58 36C59.9 38.8 57.2 41.9 60 44C62.8 46.1 60.7 46.9 70 45C79.3 43.1 90.2 40.2 100 36C109.8 31.8 106.2 32.1 112 27C117.8 21.9 120.5 18.6 125 14C129.5 9.4 130.1 9.8 131.2 7.2C132.3 4.6 132.1 4.6 129.6 3C127.1 1.4 126.5 1.3 120.5 0.5C114.5 -0.3 111.6 -0.2 103.9 -0.3C96.2 -0.4 92.9 0.8 87.3 0.2C81.7 -0.4 83.2 -1 80 -3C76.8 -5 76.7 -8.6 73.8 -8.5C70.9 -8.4 70.1 -5.2 67.7 -2.7Z" fill="rgb(127,203,250)" stroke="rgb(40,80,110)" stroke-opacity="0.55" stroke-width="0.35"/>
<path d="M80 14C83 10.9 80.9 12.1 87.3 10.5C93.7 8.9 96 9.6 103.9 8C111.8 6.4 111.2 5.7 117.1 4.5C123 3.3 122.6 2.8 126 3.5C129.4 4.2 130 4 130 7C130 10 129.2 10.4 125.9 14.6C122.6 18.8 122 19.9 117.8 22.7C113.6 25.5 115.3 24.4 110 25C104.7 25.6 103.9 24.5 98 25C92.1 25.5 92.8 25.7 88 27C83.2 28.3 83.2 31.3 80 30C76.8 28.7 76 26.3 76 22C76 17.7 77 17.1 80 14Z" fill="rgb(131,182,249)" stroke="rgb(40,80,110)" stroke-opacity="0.55" stroke-width="0.35"/>
<path d="M50.8 59.8C50.2 62 55.3 65.3 57.6 69.3C59.9 73.3 59.6 74.4 60.6 77C61.6 79.6 60.3 79.7 62 80.5C63.7 81.3 64.9 81.7 67.7 80.3C70.5 78.9 70.9 76.7 73.8 74.5C76.7 72.3 79.5 73 80 71C80.5 69 78.8 67.6 76 66C73.2 64.4 71.7 65.4 68 64C64.3 62.6 64 61 60 60C56 59 51.4 57.6 50.8 59.8Z" fill="rgb(127,203,250)" stroke="rgb(40,80,110)" stroke-opacity="0.55" stroke-width="0.35"/>
<ellipse cx="62.3" cy="26" rx="20.5" ry="6.2" transform="rotate(-57 62.3 26)" fill="rgb(134,160,248)" stroke="rgb(40,80,110)" stroke-opacity="0.55" stroke-width="0.35"/>
<ellipse cx="80.5" cy="29.5" rx="8.5" ry="4.6" transform="rotate(-12 80.5 29.5)" fill="rgb(134,160,248)" stroke="rgb(40,80,110)" stroke-opacity="0.55" stroke-width="0.35"/>
<path d="M69.2 41.5C69.6 39.4 70.4 38.8 74 35C77.6 31.2 75.3 32.8 80 30C84.7 27.2 82 28.3 88 26.5C94 24.7 91.2 25.3 98 24.6C104.8 23.9 103.2 24.8 108.5 24.3C113.8 23.8 111.5 22.9 114 23C116.5 23.1 118.1 21.8 116 24.5C113.9 27.2 111.9 27.9 107.6 31C103.3 34.1 106.3 31.8 103.1 33.7C99.9 35.6 101.5 35 98.1 36.7C94.7 38.4 96.4 37.7 93 38.9C89.6 40.1 91.4 39.6 88 40.4C84.6 41.2 86.3 41 82.9 41.4C79.5 41.8 81.2 41.6 77.8 41.6C74.4 41.6 75.7 41.4 72.8 41.4C69.9 41.4 68.8 43.6 69.2 41.5Z" fill="rgb(134,160,248)" stroke="rgb(40,80,110)" stroke-opacity="0.55" stroke-width="0.35"/>
<path d="M104 -21C102.7 -16 106 -19.7 112 -16C118 -12.3 115 -11 122 -10C129 -9 127 -9 133 -13C139 -17 136 -16.3 140 -22C144 -27.7 141.7 -24 145 -30C148.3 -36 147 -32.7 150 -40C153 -47.3 155.3 -45.3 154 -52C152.7 -58.7 151.3 -54 146 -60C140.7 -66 143 -71.3 138 -70C133 -68.7 135.7 -65 131 -56C126.3 -47 129 -51.3 124 -43C119 -34.7 122.7 -38.3 116 -31C109.3 -23.7 105.3 -26 104 -21Z" fill="rgb(122,246,212)" stroke="rgb(40,80,110)" stroke-opacity="0.55" stroke-width="0.35"/>
<path d="M98 -12C97.6 -14.3 100.8 -16.3 104.5 -20C108.2 -23.7 108.3 -22.4 112 -26C115.7 -29.6 115.6 -29.8 118.5 -33.5C121.4 -37.2 120.8 -36.3 123 -40C125.2 -43.7 124.9 -43.5 126.8 -47.5C128.7 -51.5 127.9 -50.1 130 -55C132.1 -59.9 131.8 -60.3 134.5 -66C137.2 -71.7 137.1 -72.8 140 -76.5C142.9 -80.2 142.6 -79.9 145.5 -80C148.4 -80.1 148 -78.9 151 -77C154 -75.1 155.6 -76.1 156.6 -72.9C157.6 -69.7 155.9 -68.8 154.8 -65C153.7 -61.2 153.9 -62.7 152.6 -58.7C151.3 -54.7 151.4 -55 150 -50C148.6 -45 151.4 -45.4 147.3 -40C143.2 -34.6 142.2 -35.8 134.5 -29.9C126.8 -24 125.9 -22.7 118.3 -17.8C110.7 -12.9 111.4 -13 106 -11.5C100.6 -10 98.4 -9.7 98 -12Z" fill="rgb(112,240,132)" stroke="rgb(40,80,110)" stroke-opacity="0.55" stroke-width="0.35"/>
<ellipse cx="136.5" cy="-48.5" rx="5.4" ry="5.8" fill="rgb(190,240,110)" stroke="rgb(40,80,110)" stroke-opacity="0.55" stroke-width="0.35"/>
<path d="M146 -80 L147 -102 L157 -120 L165.4 -134.6 L166.4 -134.6 L166.4 -50 L158 -33 L150 -21 L147.3 -40 L152.6 -58.7 L156.6 -72.9 L151 -77Z" fill="rgb(122,246,212)"/>
<path d="M176.9 -113.4C177.9 -112.1 175.6 -109.8 172 -99C168.4 -88.2 170 -92.3 166 -81C162 -69.7 163 -74 160 -65C157 -56 159 -58.7 157 -54C155 -49.3 155.4 -50 154 -51C152.6 -52 152.1 -50.3 152.8 -57C153.5 -63.7 152.9 -61 156 -71C159.1 -81 157.7 -76.3 162 -87C166.3 -97.7 164 -94.2 169 -103C174 -111.8 175.9 -114.7 176.9 -113.4Z" fill="rgb(132,196,246)" stroke="rgb(40,80,110)" stroke-opacity="0.55" stroke-width="0.35"/>
<path d="M63 50.1C63.3 51.6 62.6 51.3 63.8 54.5C65 57.6 63.9 56.2 66.6 59.6C69.3 63 67.7 62.1 71.9 64.7C76.1 67.3 73.9 66.4 79.3 67.4C84.7 68.4 82.5 68.6 88.1 67.7C93.8 66.8 93.5 65.7 96.1 64.7L95.9 63.7C93.2 64.3 93.2 65.1 87.9 65.5C82.5 65.9 84.6 66 79.7 65C74.9 64 77 64.8 73.3 62.5C69.6 60.1 71.1 61 68.6 58C66.1 55 67.4 56.2 65.8 53.5C64.2 50.8 64.4 51.1 63.8 49.9Z" fill="rgb(112,240,132)" stroke="rgb(40,80,110)" stroke-opacity="0.55" stroke-width="0.35"/>
<path d="M48.2 40C48.9 37 49.6 39.3 51.5 41C53.4 42.7 52 44.3 54 45C56 45.7 56.3 41.7 57.6 43C58.9 44.3 57.2 45 58 49C58.8 53 57.7 50.2 60 55C62.3 59.8 65 59.8 65 63.5C65 67.2 64.2 67.2 60 66C55.8 64.8 56 65.3 52.5 60C49 54.7 50.9 56.7 49.5 50C48.1 43.3 47.5 43 48.2 40Z" fill="rgb(132,240,250)" stroke="rgb(40,80,110)" stroke-opacity="0.55" stroke-width="0.35"/>
<path d="M85 3C87 0.8 89.8 0.8 92.5 2.5C95.2 4.2 93.8 4.7 93 8C92.2 11.3 92.2 12.2 90 12.5C87.8 12.8 88.2 12.2 86.5 9C84.8 5.8 83 5.2 85 3Z" fill="rgb(132,240,250)" stroke="rgb(40,80,110)" stroke-opacity="0.55" stroke-width="0.35"/>
</g>
<g transform="translate(0 249)">
<path d="M67.7 -2.7C69.7 -4.9 69.7 -5.9 73.8 -9.2C77.9 -12.5 75.3 -10.4 80 -12.6C84.7 -14.8 82.6 -13.8 87.9 -15.7C93.2 -17.6 90.6 -16.5 96 -18.4C101.4 -20.3 99.5 -19 104.2 -21.5C108.9 -24 106.3 -22.7 110 -26C113.7 -29.3 112.1 -27.9 115.2 -31.5C118.3 -35.1 116.6 -32.8 119.3 -36.8C122 -40.8 120.8 -38.8 123.3 -43.4C125.8 -48 124.7 -46.1 126.9 -50.6C129.1 -55.1 128.1 -52.7 129.9 -56.8C131.7 -60.9 130 -58.2 132.2 -62.8C134.4 -67.4 133.7 -65.3 136.4 -70.5C139.1 -75.7 137.6 -71.7 140.3 -78.5C143 -85.3 142.4 -84.2 144.6 -91C146.8 -97.8 145.9 -95 147 -99C148.1 -103 146.7 -99.7 148 -103C149.3 -106.3 148.7 -104.7 151 -109C153.3 -113.3 152.3 -111.3 155 -116C157.7 -120.7 156.5 -118.7 159 -123C161.5 -127.3 160.4 -125.2 162.5 -129C164.6 -132.8 164.3 -132.7 165.2 -134.5L165.2 -51.5C164.3 -49.7 164.6 -49.8 162.5 -46C160.4 -42.2 161.5 -44.3 159 -40C156.5 -35.7 157.7 -37.7 155 -33C152.3 -28.3 153.3 -30.3 151 -26C148.7 -21.7 149.3 -23.3 148 -20C146.7 -16.7 148.1 -20 147 -16C145.9 -12 146.8 -14.8 144.6 -8C142.4 -1.2 143 -2.3 140.3 4.5C137.6 11.3 139.1 7.3 136.4 12.5C133.7 17.7 134.4 15.6 132.2 20.2C130 24.8 131.7 22.1 129.9 26.2C128.1 30.3 129.1 27.9 126.9 32.4C124.7 36.9 125.8 35 123.3 39.6C120.8 44.2 122 42.2 119.3 46.2C116.6 50.2 118.3 47.9 115.2 51.5C112.1 55.1 113.7 53.7 110 57C106.3 60.3 108.9 59 104.2 61.5C99.5 64 101.4 62.7 96 64.6C90.6 66.5 93.2 65.4 87.9 67.3C82.6 69.2 84.7 68.2 80 70.4C75.3 72.6 77.9 70.5 73.8 73.8C69.7 77.1 69.7 78.1 67.7 80.3L67.7 80.3C65.8 80.4 64.4 81.6 62 80.5C59.6 79.4 62.1 80.7 60.6 77C59.1 73.3 60.9 75 57.6 69.3C54.3 63.6 53.8 65.6 50.8 59.8C47.8 54 49.9 56.9 48.6 52C47.3 47.1 47.8 49.7 47 45C46.2 40.3 46.3 42.3 46.1 38C45.9 33.7 45.7 35.8 46.5 32C47.3 28.2 46.4 30.6 48.4 26.7C50.4 22.8 50 24.3 52.5 20.2C55 16.1 53.4 18.3 55.8 14.4C58.2 10.5 57 12.5 59.6 8.5C62.2 4.5 60.9 6.1 63.6 2.4C66.3 -1.3 66.3 -1 67.7 -2.7Z" fill="rgb(132,240,250)"/>
<path d="M67.7 -2.7C65.3 -0.2 66.4 -1.6 63.6 2.4C60.8 6.4 59.3 8.7 55.8 14.4C52.3 20.1 50.6 22.6 48.4 26.7C46.2 30.8 45.7 30.8 46.5 32C47.3 33.2 49.3 31.1 52 32C54.7 32.9 56.1 33.2 58 36C59.9 38.8 57.2 41.9 60 44C62.8 46.1 60.7 46.9 70 45C79.3 43.1 90.2 40.2 100 36C109.8 31.8 106.2 32.1 112 27C117.8 21.9 120.5 18.6 125 14C129.5 9.4 130.1 9.8 131.2 7.2C132.3 4.6 132.1 4.6 129.6 3C127.1 1.4 126.5 1.3 120.5 0.5C114.5 -0.3 111.6 -0.2 103.9 -0.3C96.2 -0.4 92.9 0.8 87.3 0.2C81.7 -0.4 83.2 -1 80 -3C76.8 -5 76.7 -8.6 73.8 -8.5C70.9 -8.4 70.1 -5.2 67.7 -2.7Z" fill="rgb(127,203,250)" stroke="rgb(40,80,110)" stroke-opacity="0.55" stroke-width="0.35"/>
<path d="M80 14C83 10.9 80.9 12.1 87.3 10.5C93.7 8.9 96 9.6 103.9 8C111.8 6.4 111.2 5.7 117.1 4.5C123 3.3 122.6 2.8 126 3.5C129.4 4.2 130 4 130 7C130 10 129.2 10.4 125.9 14.6C122.6 18.8 122 19.9 117.8 22.7C113.6 25.5 115.3 24.4 110 25C104.7 25.6 103.9 24.5 98 25C92.1 25.5 92.8 25.7 88 27C83.2 28.3 83.2 31.3 80 30C76.8 28.7 76 26.3 76 22C76 17.7 77 17.1 80 14Z" fill="rgb(131,182,249)" stroke="rgb(40,80,110)" stroke-opacity="0.55" stroke-width="0.35"/>
<path d="M50.8 59.8C50.2 62 55.3 65.3 57.6 69.3C59.9 73.3 59.6 74.4 60.6 77C61.6 79.6 60.3 79.7 62 80.5C63.7 81.3 64.9 81.7 67.7 80.3C70.5 78.9 70.9 76.7 73.8 74.5C76.7 72.3 79.5 73 80 71C80.5 69 78.8 67.6 76 66C73.2 64.4 71.7 65.4 68 64C64.3 62.6 64 61 60 60C56 59 51.4 57.6 50.8 59.8Z" fill="rgb(127,203,250)" stroke="rgb(40,80,110)" stroke-opacity="0.55" stroke-width="0.35"/>
<ellipse cx="62.3" cy="26" rx="20.5" ry="6.2" transform="rotate(-57 62.3 26)" fill="rgb(134,160,248)" stroke="rgb(40,80,110)" stroke-opacity="0.55" stroke-width="0.35"/>
<ellipse cx="80.5" cy="29.5" rx="8.5" ry="4.6" transform="rotate(-12 80.5 29.5)" fill="rgb(134,160,248)" stroke="rgb(40,80,110)" stroke-opacity="0.55" stroke-width="0.35"/>
<path d="M69.2 41.5C69.6 39.4 70.4 38.8 74 35C77.6 31.2 75.3 32.8 80 30C84.7 27.2 82 28.3 88 26.5C94 24.7 91.2 25.3 98 24.6C104.8 23.9 103.2 24.8 108.5 24.3C113.8 23.8 111.5 22.9 114 23C116.5 23.1 118.1 21.8 116 24.5C113.9 27.2 111.9 27.9 107.6 31C103.3 34.1 106.3 31.8 103.1 33.7C99.9 35.6 101.5 35 98.1 36.7C94.7 38.4 96.4 37.7 93 38.9C89.6 40.1 91.4 39.6 88 40.4C84.6 41.2 86.3 41 82.9 41.4C79.5 41.8 81.2 41.6 77.8 41.6C74.4 41.6 75.7 41.4 72.8 41.4C69.9 41.4 68.8 43.6 69.2 41.5Z" fill="rgb(134,160,248)" stroke="rgb(40,80,110)" stroke-opacity="0.55" stroke-width="0.35"/>
<path d="M104 -21C102.7 -16 106 -19.7 112 -16C118 -12.3 115 -11 122 -10C129 -9 127 -9 133 -13C139 -17 136 -16.3 140 -22C144 -27.7 141.7 -24 145 -30C148.3 -36 147 -32.7 150 -40C153 -47.3 155.3 -45.3 154 -52C152.7 -58.7 151.3 -54 146 -60C140.7 -66 143 -71.3 138 -70C133 -68.7 135.7 -65 131 -56C126.3 -47 129 -51.3 124 -43C119 -34.7 122.7 -38.3 116 -31C109.3 -23.7 105.3 -26 104 -21Z" fill="rgb(122,246,212)" stroke="rgb(40,80,110)" stroke-opacity="0.55" stroke-width="0.35"/>
<path d="M98 -12C97.6 -14.3 100.8 -16.3 104.5 -20C108.2 -23.7 108.3 -22.4 112 -26C115.7 -29.6 115.6 -29.8 118.5 -33.5C121.4 -37.2 120.8 -36.3 123 -40C125.2 -43.7 124.9 -43.5 126.8 -47.5C128.7 -51.5 127.9 -50.1 130 -55C132.1 -59.9 131.8 -60.3 134.5 -66C137.2 -71.7 137.1 -72.8 140 -76.5C142.9 -80.2 142.6 -79.9 145.5 -80C148.4 -80.1 148 -78.9 151 -77C154 -75.1 155.6 -76.1 156.6 -72.9C157.6 -69.7 155.9 -68.8 154.8 -65C153.7 -61.2 153.9 -62.7 152.6 -58.7C151.3 -54.7 151.4 -55 150 -50C148.6 -45 151.4 -45.4 147.3 -40C143.2 -34.6 142.2 -35.8 134.5 -29.9C126.8 -24 125.9 -22.7 118.3 -17.8C110.7 -12.9 111.4 -13 106 -11.5C100.6 -10 98.4 -9.7 98 -12Z" fill="rgb(112,240,132)" stroke="rgb(40,80,110)" stroke-opacity="0.55" stroke-width="0.35"/>
<ellipse cx="136.5" cy="-48.5" rx="5.4" ry="5.8" fill="rgb(190,240,110)" stroke="rgb(40,80,110)" stroke-opacity="0.55" stroke-width="0.35"/>
<path d="M146 -80 L147 -102 L157 -120 L165.4 -134.6 L166.4 -134.6 L166.4 -50 L158 -33 L150 -21 L147.3 -40 L152.6 -58.7 L156.6 -72.9 L151 -77Z" fill="rgb(122,246,212)"/>
<path d="M176.9 -113.4C177.9 -112.1 175.6 -109.8 172 -99C168.4 -88.2 170 -92.3 166 -81C162 -69.7 163 -74 160 -65C157 -56 159 -58.7 157 -54C155 -49.3 155.4 -50 154 -51C152.6 -52 152.1 -50.3 152.8 -57C153.5 -63.7 152.9 -61 156 -71C159.1 -81 157.7 -76.3 162 -87C166.3 -97.7 164 -94.2 169 -103C174 -111.8 175.9 -114.7 176.9 -113.4Z" fill="rgb(132,196,246)" stroke="rgb(40,80,110)" stroke-opacity="0.55" stroke-width="0.35"/>
<path d="M63 50.1C63.3 51.6 62.6 51.3 63.8 54.5C65 57.6 63.9 56.2 66.6 59.6C69.3 63 67.7 62.1 71.9 64.7C76.1 67.3 73.9 66.4 79.3 67.4C84.7 68.4 82.5 68.6 88.1 67.7C93.8 66.8 93.5 65.7 96.1 64.7L95.9 63.7C93.2 64.3 93.2 65.1 87.9 65.5C82.5 65.9 84.6 66 79.7 65C74.9 64 77 64.8 73.3 62.5C69.6 60.1 71.1 61 68.6 58C66.1 55 67.4 56.2 65.8 53.5C64.2 50.8 64.4 51.1 63.8 49.9Z" fill="rgb(112,240,132)" stroke="rgb(40,80,110)" stroke-opacity="0.55" stroke-width="0.35"/>
<path d="M48.2 40C48.9 37 49.6 39.3 51.5 41C53.4 42.7 52 44.3 54 45C56 45.7 56.3 41.7 57.6 43C58.9 44.3 57.2 45 58 49C58.8 53 57.7 50.2 60 55C62.3 59.8 65 59.8 65 63.5C65 67.2 64.2 67.2 60 66C55.8 64.8 56 65.3 52.5 60C49 54.7 50.9 56.7 49.5 50C48.1 43.3 47.5 43 48.2 40Z" fill="rgb(132,240,250)" stroke="rgb(40,80,110)" stroke-opacity="0.55" stroke-width="0.35"/>
<path d="M85 3C87 0.8 89.8 0.8 92.5 2.5C95.2 4.2 93.8 4.7 93 8C92.2 11.3 92.2 12.2 90 12.5C87.8 12.8 88.2 12.2 86.5 9C84.8 5.8 83 5.2 85 3Z" fill="rgb(132,240,250)" stroke="rgb(40,80,110)" stroke-opacity="0.55" stroke-width="0.35"/>
</g>
<path d="M100.5 -2.6C103.9 -3.1 103.6 -2.6 110.6 -4C117.6 -5.4 114.7 -3.5 121.5 -6.9C128.3 -10.3 125.8 -10 131 -14.1C136.1 -18.3 133.3 -16.4 136.9 -19.4C140.5 -22.4 138.2 -20.4 141.8 -23.2C145.5 -25.9 144.3 -24.6 147.9 -27.7C151.4 -30.7 149.5 -29.4 152.5 -32.3C155.4 -35.1 154.5 -33.8 156.7 -36.2C158.9 -38.5 156.8 -36.7 159.1 -39.3C161.4 -42 162.1 -42.6 163.6 -44.2L156.4 -62.8C153.2 -62.6 152.7 -63.9 146.9 -62.3C141.1 -60.6 143.5 -61.1 138.9 -57.8C134.3 -54.6 136.7 -55.9 133.1 -52.5C129.5 -49.1 131.4 -51.2 128.1 -47.5C124.9 -43.9 126.4 -45.4 123.4 -41.4C120.3 -37.5 122 -39.8 119.1 -35.6C116.2 -31.4 117.8 -33.9 114.6 -28.9C111.4 -23.8 112.7 -25.8 109.5 -20.3C106.4 -14.8 108.5 -17.7 105.2 -12.4C101.8 -7.1 101.4 -7 99.5 -4.4Z" fill="rgb(132,240,250)"/>
<path d="M100.2 -3.2C103 -4.5 102.9 -4.2 108.7 -6.9C114.5 -9.6 111.9 -7.3 117.5 -11.4C123.1 -15.4 121 -14.6 125.4 -19.2C129.8 -23.8 127.4 -21.6 130.6 -25.1C133.8 -28.7 131.7 -26.6 135.1 -29.8C138.5 -33 137.2 -31.7 140.8 -34.8C144.4 -37.9 142.5 -36.4 145.9 -39.2C149.3 -41.9 147.8 -40.7 151 -43.1C154.1 -45.6 151.9 -44.2 155.4 -46.4C158.8 -48.6 159.4 -48.6 161.4 -49.8L158.6 -57.2C155.9 -56.6 155.3 -57.3 150.6 -55.2C146 -53.1 148.3 -54 144.6 -50.9C141 -47.7 142.8 -49.1 139.7 -45.6C136.5 -42.2 138.4 -44.1 135.2 -40.4C132 -36.8 133.4 -38.3 130.1 -34.8C126.9 -31.2 128.7 -33.5 125.4 -29.9C122.1 -26.2 124.2 -28.5 120.2 -23.8C116.2 -19.2 117.9 -20.6 113.5 -15.8C109.1 -11 111.6 -13.5 107.1 -9.5C102.5 -5.4 102.3 -5.7 99.8 -3.8Z" fill="rgb(122,246,212)" stroke="rgb(40,80,110)" stroke-opacity="0.55" stroke-width="0.35"/>
<g transform="translate(0 -83)">
<path d="M68.6 -1.8C70.7 -3.9 70.8 -4.9 74.8 -8C78.8 -11 76.2 -9 80.7 -11.1C85.3 -13.1 83.2 -12.2 88.5 -14.1C93.8 -16 91.1 -14.9 96.5 -16.9C102 -18.9 100.1 -17.5 104.9 -20.2C109.7 -22.8 107.2 -21.5 111 -24.9C114.8 -28.3 113.2 -26.8 116.4 -30.5C119.6 -34.1 117.9 -31.8 120.7 -35.8C123.6 -39.9 122.3 -37.9 125 -42.5C127.6 -47.1 126.4 -45.2 128.7 -49.7C131 -54.2 130 -51.9 131.7 -56C133.5 -60.1 131.9 -57.4 134 -61.9C136.2 -66.5 135.5 -64.3 138.2 -69.6C140.9 -74.9 139.4 -70.8 142.2 -77.8C144.9 -84.7 144.2 -83.5 146.4 -90.4C148.6 -97.3 147.7 -94.5 148.7 -98.5C149.8 -102.6 149.3 -101.2 149.6 -102.6L146.4 -103.4C146 -102.1 146.5 -103.4 145.3 -99.5C144.1 -95.5 145.1 -98.3 142.8 -91.6C140.5 -84.8 141.2 -86 138.4 -79.2C135.7 -72.5 137.3 -76.6 134.6 -71.4C131.9 -66.2 132.6 -68.3 130.4 -63.7C128.2 -59.1 129.8 -61.7 128.1 -57.6C126.3 -53.5 127.2 -55.9 125.1 -51.5C123 -47.1 124 -48.9 121.6 -44.3C119.2 -39.7 120.4 -41.7 117.9 -37.8C115.3 -33.8 117 -36.1 114 -32.5C111 -29 112.5 -30.4 109 -27.1C105.5 -23.9 108 -25.2 103.5 -22.8C99 -20.4 100.9 -21.7 95.5 -19.9C90.1 -18.1 92.7 -19.2 87.3 -17.3C81.9 -15.4 84.1 -16.4 79.3 -14.1C74.4 -11.9 77 -14 72.8 -10.4C68.6 -6.9 68.8 -5.9 66.8 -3.6Z" fill="rgb(14,44,224)"/>
<path d="M119 -37C120.4 -39.2 120.5 -38.9 123.2 -43.4C125.9 -48 124.7 -46.1 127 -50.6C129.3 -55 128.3 -52.7 130.1 -56.7C131.9 -60.8 130.2 -58.2 132.4 -62.7C134.5 -67.3 133.9 -65.2 136.6 -70.4C139.3 -75.6 137.7 -71.6 140.5 -78.4C143.2 -85.3 142.6 -84.1 144.8 -90.9C147 -97.8 146.1 -94.9 147.2 -98.9C148.3 -103 147.9 -101.6 148.2 -103L146.4 -103.4C146.1 -102.1 146.6 -103.4 145.5 -99.4C144.3 -95.5 145.3 -98.3 143.1 -91.5C140.9 -84.7 141.5 -85.8 138.8 -79.1C136.1 -72.3 137.7 -76.4 135 -71.2C132.3 -66 132.9 -68.1 130.8 -63.5C128.6 -58.9 130.2 -61.5 128.4 -57.4C126.7 -53.4 127.6 -55.7 125.6 -51.3C123.5 -46.8 124.5 -48.7 122.2 -44C119.8 -39.4 119.7 -39.6 118.4 -37.3Z" fill="rgb(10,20,150)"/>
<path d="M149.4 -102.3C150.6 -104.2 150.5 -103.7 152.8 -108C155.2 -112.3 154 -110.4 156.5 -115.2C159 -119.9 157.9 -117.8 160.3 -122.3C162.7 -126.7 161.9 -124.4 163.6 -128.4C165.2 -132.5 164.8 -132.4 165.4 -134.4L165 -134.6C163.8 -132.9 163.9 -133.2 161.4 -129.6C159 -126 160.3 -128 157.7 -123.7C155.1 -119.5 156.4 -121.4 153.5 -116.8C150.7 -112.3 151.5 -114.4 149.2 -110C146.8 -105.6 147.4 -105.8 146.6 -103.7Z" fill="rgb(10,20,150)"/>
<path d="M63 -3C62.7 -6 63.3 -5 66 -7.5C68.7 -10 67 -9.8 71 -10.5C75 -11.2 77 -11 78 -9.5C79 -8 74.7 -8.3 74 -6C73.3 -3.7 77.3 -4 76 -2.5C74.7 -1 73 -2.8 70 -1.5C67 -0.2 69.3 2 67 1.5C64.7 1 63.3 0 63 -3Z" fill="rgb(14,44,224)"/>
<path d="M86.6 3.3C88.4 1.7 88.5 1.8 92.1 -1.5C95.7 -4.7 94.1 -3 97.3 -6.4C100.6 -9.9 99.1 -8.1 101.7 -11.8C104.4 -15.4 104.1 -15.5 105.3 -17.4L103.7 -18.6C102.2 -17 102.2 -17.1 99.3 -13.8C96.3 -10.5 98 -12.2 94.9 -8.8C91.7 -5.3 93.1 -7.2 89.9 -3.5C86.8 0.1 86.9 0.3 85.4 2.3Z" fill="rgb(14,44,224)"/>
<path d="M47.6 32.4C48.3 30.7 47.5 31.1 49.5 27.3C51.6 23.5 51.2 24.9 53.7 20.9C56.3 16.9 54.7 19.1 57.2 15.3C59.7 11.5 58.5 13.4 61.2 9.5C63.9 5.7 62.6 7.3 65.3 3.7C68.1 0.1 68.1 0.4 69.5 -1.3L65.9 -4.1C64.6 -2.4 64.5 -2.7 61.9 1.1C59.2 5 60.5 3.3 58 7.5C55.5 11.6 56.6 9.5 54.4 13.5C52.1 17.5 53.6 15.3 51.3 19.5C48.9 23.7 49.2 22.1 47.3 26.1C45.4 30.2 46.1 29.8 45.6 31.6Z" fill="rgb(14,44,224)"/>
<path d="M70.7 36.7 L73 34.4 L76.3 33.2 L74 35.6Z" fill="rgb(14,44,224)"/>
<path d="M61.7 33.7C63.4 31.7 62.8 32.1 66.6 27.5C70.4 22.9 70.9 22.5 73.1 20L72.5 19.4C69.9 21.6 69 21.6 64.8 25.9C60.6 30.2 61.5 30.1 59.9 32.3Z" fill="rgb(14,44,224)"/>
<path d="M45.5 31.1C45.3 33.4 44.9 33.4 45 38C45.1 42.7 45 40.5 45.9 45.2C46.8 49.9 46.1 47.3 47.6 52.2C49.1 57.2 49.5 57.4 50.4 59.9L51.2 59.7C50.6 57 50.6 56.7 49.6 51.8C48.5 46.8 48.9 49.4 48.1 44.8C47.3 40.2 47.4 42.5 47.2 38C47 33.4 47.4 33.5 47.5 31.3Z" fill="rgb(226,30,28)"/>
<path d="M59.8 32.2C59.1 34.1 58.5 34.1 57.7 37.7C56.9 41.3 57.2 39.5 57.3 43C57.4 46.5 57.2 44.7 57.9 48.2C58.6 51.7 58.1 50.1 59.5 53.5C60.8 56.9 60 55.3 62 58.5C64.1 61.6 64.5 61.4 65.7 62.8L66.3 62.4C65.4 60.8 65.2 60.8 63.6 57.5C62 54.3 62.6 56 61.5 52.7C60.4 49.5 60.9 51 60.3 47.8C59.7 44.5 59.8 46.1 59.7 43C59.6 39.8 59.4 41.6 60.1 38.3C60.8 34.9 61.2 34.7 61.8 33Z" fill="rgb(226,30,28)"/>
<path d="M65.2 45.5C65.5 44 65 44.6 66.2 43.3C67.4 42 66.5 42.4 68.7 41.7C70.9 41 69.8 41.3 72.8 41.2C75.8 41.1 74.4 41.4 77.8 41.4C81.2 41.4 79.5 41.6 82.9 41.2C86.3 40.8 84.6 41 88 40.2C91.4 39.4 89.6 39.9 93 38.7C96.4 37.5 94.7 38.2 98.1 36.5C101.5 34.8 99.9 35.4 103.1 33.5C106.3 31.6 102.7 34.4 107.6 30.8C112.5 27.2 111.7 28.1 117.8 22.7C123.9 17.3 121.2 19.7 125.9 14.6C130.6 9.5 128.3 12.3 131.9 7.5C135.5 2.7 133.4 5.6 136.7 0.1C140 -5.4 138.5 -2.4 141.7 -9C144.9 -15.6 145.2 -17.9 146.3 -19.6C147.4 -21.3 146.2 -18.2 145 -14C143.8 -9.8 145.1 -14.2 142.8 -7C140.5 0.2 141 0.2 138.2 7.5C135.4 14.8 137.1 10 134.5 15C131.9 20 132.4 18 130.3 22.5C128.2 27 129.8 24.5 128.1 28.4C126.4 32.3 127.4 29.9 125.2 34.3C123 38.7 124.2 37 121.5 41.7C118.8 46.4 120.3 44.1 117.1 48.3C113.9 52.5 115.1 51.2 111.9 54.2C108.7 57.2 110.5 55.4 107.5 57.3C104.5 59.2 105.8 58.3 103 59.8C100.2 61.3 101.7 60.7 99 61.8C96.3 62.9 98 62.5 95 63.2C92 63.9 94 63.7 90 64C86 64.3 87.6 64.7 82.9 64C78.2 63.3 80 64 75.8 62C71.6 60 73.2 61 70.2 58C67.2 55 68.4 56.3 66.7 52.9C65 49.5 65.7 50.3 65.2 47.8C64.7 45.3 64.9 47 65.2 45.5Z" fill="#fff" stroke="#444" stroke-width="0.5"/>
</g>
<g transform="translate(0 0)">
<path d="M68.6 -1.8C70.7 -3.9 70.8 -4.9 74.8 -8C78.8 -11 76.2 -9 80.7 -11.1C85.3 -13.1 83.2 -12.2 88.5 -14.1C93.8 -16 91.1 -14.9 96.5 -16.9C102 -18.9 100.1 -17.5 104.9 -20.2C109.7 -22.8 107.2 -21.5 111 -24.9C114.8 -28.3 113.2 -26.8 116.4 -30.5C119.6 -34.1 117.9 -31.8 120.7 -35.8C123.6 -39.9 122.3 -37.9 125 -42.5C127.6 -47.1 126.4 -45.2 128.7 -49.7C131 -54.2 130 -51.9 131.7 -56C133.5 -60.1 131.9 -57.4 134 -61.9C136.2 -66.5 135.5 -64.3 138.2 -69.6C140.9 -74.9 139.4 -70.8 142.2 -77.8C144.9 -84.7 144.2 -83.5 146.4 -90.4C148.6 -97.3 147.7 -94.5 148.7 -98.5C149.8 -102.6 149.3 -101.2 149.6 -102.6L146.4 -103.4C146 -102.1 146.5 -103.4 145.3 -99.5C144.1 -95.5 145.1 -98.3 142.8 -91.6C140.5 -84.8 141.2 -86 138.4 -79.2C135.7 -72.5 137.3 -76.6 134.6 -71.4C131.9 -66.2 132.6 -68.3 130.4 -63.7C128.2 -59.1 129.8 -61.7 128.1 -57.6C126.3 -53.5 127.2 -55.9 125.1 -51.5C123 -47.1 124 -48.9 121.6 -44.3C119.2 -39.7 120.4 -41.7 117.9 -37.8C115.3 -33.8 117 -36.1 114 -32.5C111 -29 112.5 -30.4 109 -27.1C105.5 -23.9 108 -25.2 103.5 -22.8C99 -20.4 100.9 -21.7 95.5 -19.9C90.1 -18.1 92.7 -19.2 87.3 -17.3C81.9 -15.4 84.1 -16.4 79.3 -14.1C74.4 -11.9 77 -14 72.8 -10.4C68.6 -6.9 68.8 -5.9 66.8 -3.6Z" fill="rgb(14,44,224)"/>
<path d="M119 -37C120.4 -39.2 120.5 -38.9 123.2 -43.4C125.9 -48 124.7 -46.1 127 -50.6C129.3 -55 128.3 -52.7 130.1 -56.7C131.9 -60.8 130.2 -58.2 132.4 -62.7C134.5 -67.3 133.9 -65.2 136.6 -70.4C139.3 -75.6 137.7 -71.6 140.5 -78.4C143.2 -85.3 142.6 -84.1 144.8 -90.9C147 -97.8 146.1 -94.9 147.2 -98.9C148.3 -103 147.9 -101.6 148.2 -103L146.4 -103.4C146.1 -102.1 146.6 -103.4 145.5 -99.4C144.3 -95.5 145.3 -98.3 143.1 -91.5C140.9 -84.7 141.5 -85.8 138.8 -79.1C136.1 -72.3 137.7 -76.4 135 -71.2C132.3 -66 132.9 -68.1 130.8 -63.5C128.6 -58.9 130.2 -61.5 128.4 -57.4C126.7 -53.4 127.6 -55.7 125.6 -51.3C123.5 -46.8 124.5 -48.7 122.2 -44C119.8 -39.4 119.7 -39.6 118.4 -37.3Z" fill="rgb(10,20,150)"/>
<path d="M149.4 -102.3C150.6 -104.2 150.5 -103.7 152.8 -108C155.2 -112.3 154 -110.4 156.5 -115.2C159 -119.9 157.9 -117.8 160.3 -122.3C162.7 -126.7 161.9 -124.4 163.6 -128.4C165.2 -132.5 164.8 -132.4 165.4 -134.4L165 -134.6C163.8 -132.9 163.9 -133.2 161.4 -129.6C159 -126 160.3 -128 157.7 -123.7C155.1 -119.5 156.4 -121.4 153.5 -116.8C150.7 -112.3 151.5 -114.4 149.2 -110C146.8 -105.6 147.4 -105.8 146.6 -103.7Z" fill="rgb(10,20,150)"/>
<path d="M63 -3C62.7 -6 63.3 -5 66 -7.5C68.7 -10 67 -9.8 71 -10.5C75 -11.2 77 -11 78 -9.5C79 -8 74.7 -8.3 74 -6C73.3 -3.7 77.3 -4 76 -2.5C74.7 -1 73 -2.8 70 -1.5C67 -0.2 69.3 2 67 1.5C64.7 1 63.3 0 63 -3Z" fill="rgb(14,44,224)"/>
<path d="M86.6 3.3C88.4 1.7 88.5 1.8 92.1 -1.5C95.7 -4.7 94.1 -3 97.3 -6.4C100.6 -9.9 99.1 -8.1 101.7 -11.8C104.4 -15.4 104.1 -15.5 105.3 -17.4L103.7 -18.6C102.2 -17 102.2 -17.1 99.3 -13.8C96.3 -10.5 98 -12.2 94.9 -8.8C91.7 -5.3 93.1 -7.2 89.9 -3.5C86.8 0.1 86.9 0.3 85.4 2.3Z" fill="rgb(14,44,224)"/>
<path d="M47.6 32.4C48.3 30.7 47.5 31.1 49.5 27.3C51.6 23.5 51.2 24.9 53.7 20.9C56.3 16.9 54.7 19.1 57.2 15.3C59.7 11.5 58.5 13.4 61.2 9.5C63.9 5.7 62.6 7.3 65.3 3.7C68.1 0.1 68.1 0.4 69.5 -1.3L65.9 -4.1C64.6 -2.4 64.5 -2.7 61.9 1.1C59.2 5 60.5 3.3 58 7.5C55.5 11.6 56.6 9.5 54.4 13.5C52.1 17.5 53.6 15.3 51.3 19.5C48.9 23.7 49.2 22.1 47.3 26.1C45.4 30.2 46.1 29.8 45.6 31.6Z" fill="rgb(14,44,224)"/>
<path d="M70.7 36.7 L73 34.4 L76.3 33.2 L74 35.6Z" fill="rgb(14,44,224)"/>
<path d="M61.7 33.7C63.4 31.7 62.8 32.1 66.6 27.5C70.4 22.9 70.9 22.5 73.1 20L72.5 19.4C69.9 21.6 69 21.6 64.8 25.9C60.6 30.2 61.5 30.1 59.9 32.3Z" fill="rgb(14,44,224)"/>
<path d="M45.5 31.1C45.3 33.4 44.9 33.4 45 38C45.1 42.7 45 40.5 45.9 45.2C46.8 49.9 46.1 47.3 47.6 52.2C49.1 57.2 49.5 57.4 50.4 59.9L51.2 59.7C50.6 57 50.6 56.7 49.6 51.8C48.5 46.8 48.9 49.4 48.1 44.8C47.3 40.2 47.4 42.5 47.2 38C47 33.4 47.4 33.5 47.5 31.3Z" fill="rgb(226,30,28)"/>
<path d="M59.8 32.2C59.1 34.1 58.5 34.1 57.7 37.7C56.9 41.3 57.2 39.5 57.3 43C57.4 46.5 57.2 44.7 57.9 48.2C58.6 51.7 58.1 50.1 59.5 53.5C60.8 56.9 60 55.3 62 58.5C64.1 61.6 64.5 61.4 65.7 62.8L66.3 62.4C65.4 60.8 65.2 60.8 63.6 57.5C62 54.3 62.6 56 61.5 52.7C60.4 49.5 60.9 51 60.3 47.8C59.7 44.5 59.8 46.1 59.7 43C59.6 39.8 59.4 41.6 60.1 38.3C60.8 34.9 61.2 34.7 61.8 33Z" fill="rgb(226,30,28)"/>
<path d="M65.2 45.5C65.5 44 65 44.6 66.2 43.3C67.4 42 66.5 42.4 68.7 41.7C70.9 41 69.8 41.3 72.8 41.2C75.8 41.1 74.4 41.4 77.8 41.4C81.2 41.4 79.5 41.6 82.9 41.2C86.3 40.8 84.6 41 88 40.2C91.4 39.4 89.6 39.9 93 38.7C96.4 37.5 94.7 38.2 98.1 36.5C101.5 34.8 99.9 35.4 103.1 33.5C106.3 31.6 102.7 34.4 107.6 30.8C112.5 27.2 111.7 28.1 117.8 22.7C123.9 17.3 121.2 19.7 125.9 14.6C130.6 9.5 128.3 12.3 131.9 7.5C135.5 2.7 133.4 5.6 136.7 0.1C140 -5.4 138.5 -2.4 141.7 -9C144.9 -15.6 145.2 -17.9 146.3 -19.6C147.4 -21.3 146.2 -18.2 145 -14C143.8 -9.8 145.1 -14.2 142.8 -7C140.5 0.2 141 0.2 138.2 7.5C135.4 14.8 137.1 10 134.5 15C131.9 20 132.4 18 130.3 22.5C128.2 27 129.8 24.5 128.1 28.4C126.4 32.3 127.4 29.9 125.2 34.3C123 38.7 124.2 37 121.5 41.7C118.8 46.4 120.3 44.1 117.1 48.3C113.9 52.5 115.1 51.2 111.9 54.2C108.7 57.2 110.5 55.4 107.5 57.3C104.5 59.2 105.8 58.3 103 59.8C100.2 61.3 101.7 60.7 99 61.8C96.3 62.9 98 62.5 95 63.2C92 63.9 94 63.7 90 64C86 64.3 87.6 64.7 82.9 64C78.2 63.3 80 64 75.8 62C71.6 60 73.2 61 70.2 58C67.2 55 68.4 56.3 66.7 52.9C65 49.5 65.7 50.3 65.2 47.8C64.7 45.3 64.9 47 65.2 45.5Z" fill="#fff" stroke="#444" stroke-width="0.5"/>
</g>
<g transform="translate(0 83)">
<path d="M68.6 -1.8C70.7 -3.9 70.8 -4.9 74.8 -8C78.8 -11 76.2 -9 80.7 -11.1C85.3 -13.1 83.2 -12.2 88.5 -14.1C93.8 -16 91.1 -14.9 96.5 -16.9C102 -18.9 100.1 -17.5 104.9 -20.2C109.7 -22.8 107.2 -21.5 111 -24.9C114.8 -28.3 113.2 -26.8 116.4 -30.5C119.6 -34.1 117.9 -31.8 120.7 -35.8C123.6 -39.9 122.3 -37.9 125 -42.5C127.6 -47.1 126.4 -45.2 128.7 -49.7C131 -54.2 130 -51.9 131.7 -56C133.5 -60.1 131.9 -57.4 134 -61.9C136.2 -66.5 135.5 -64.3 138.2 -69.6C140.9 -74.9 139.4 -70.8 142.2 -77.8C144.9 -84.7 144.2 -83.5 146.4 -90.4C148.6 -97.3 147.7 -94.5 148.7 -98.5C149.8 -102.6 149.3 -101.2 149.6 -102.6L146.4 -103.4C146 -102.1 146.5 -103.4 145.3 -99.5C144.1 -95.5 145.1 -98.3 142.8 -91.6C140.5 -84.8 141.2 -86 138.4 -79.2C135.7 -72.5 137.3 -76.6 134.6 -71.4C131.9 -66.2 132.6 -68.3 130.4 -63.7C128.2 -59.1 129.8 -61.7 128.1 -57.6C126.3 -53.5 127.2 -55.9 125.1 -51.5C123 -47.1 124 -48.9 121.6 -44.3C119.2 -39.7 120.4 -41.7 117.9 -37.8C115.3 -33.8 117 -36.1 114 -32.5C111 -29 112.5 -30.4 109 -27.1C105.5 -23.9 108 -25.2 103.5 -22.8C99 -20.4 100.9 -21.7 95.5 -19.9C90.1 -18.1 92.7 -19.2 87.3 -17.3C81.9 -15.4 84.1 -16.4 79.3 -14.1C74.4 -11.9 77 -14 72.8 -10.4C68.6 -6.9 68.8 -5.9 66.8 -3.6Z" fill="rgb(14,44,224)"/>
<path d="M119 -37C120.4 -39.2 120.5 -38.9 123.2 -43.4C125.9 -48 124.7 -46.1 127 -50.6C129.3 -55 128.3 -52.7 130.1 -56.7C131.9 -60.8 130.2 -58.2 132.4 -62.7C134.5 -67.3 133.9 -65.2 136.6 -70.4C139.3 -75.6 137.7 -71.6 140.5 -78.4C143.2 -85.3 142.6 -84.1 144.8 -90.9C147 -97.8 146.1 -94.9 147.2 -98.9C148.3 -103 147.9 -101.6 148.2 -103L146.4 -103.4C146.1 -102.1 146.6 -103.4 145.5 -99.4C144.3 -95.5 145.3 -98.3 143.1 -91.5C140.9 -84.7 141.5 -85.8 138.8 -79.1C136.1 -72.3 137.7 -76.4 135 -71.2C132.3 -66 132.9 -68.1 130.8 -63.5C128.6 -58.9 130.2 -61.5 128.4 -57.4C126.7 -53.4 127.6 -55.7 125.6 -51.3C123.5 -46.8 124.5 -48.7 122.2 -44C119.8 -39.4 119.7 -39.6 118.4 -37.3Z" fill="rgb(10,20,150)"/>
<path d="M149.4 -102.3C150.6 -104.2 150.5 -103.7 152.8 -108C155.2 -112.3 154 -110.4 156.5 -115.2C159 -119.9 157.9 -117.8 160.3 -122.3C162.7 -126.7 161.9 -124.4 163.6 -128.4C165.2 -132.5 164.8 -132.4 165.4 -134.4L165 -134.6C163.8 -132.9 163.9 -133.2 161.4 -129.6C159 -126 160.3 -128 157.7 -123.7C155.1 -119.5 156.4 -121.4 153.5 -116.8C150.7 -112.3 151.5 -114.4 149.2 -110C146.8 -105.6 147.4 -105.8 146.6 -103.7Z" fill="rgb(10,20,150)"/>
<path d="M63 -3C62.7 -6 63.3 -5 66 -7.5C68.7 -10 67 -9.8 71 -10.5C75 -11.2 77 -11 78 -9.5C79 -8 74.7 -8.3 74 -6C73.3 -3.7 77.3 -4 76 -2.5C74.7 -1 73 -2.8 70 -1.5C67 -0.2 69.3 2 67 1.5C64.7 1 63.3 0 63 -3Z" fill="rgb(14,44,224)"/>
<path d="M86.6 3.3C88.4 1.7 88.5 1.8 92.1 -1.5C95.7 -4.7 94.1 -3 97.3 -6.4C100.6 -9.9 99.1 -8.1 101.7 -11.8C104.4 -15.4 104.1 -15.5 105.3 -17.4L103.7 -18.6C102.2 -17 102.2 -17.1 99.3 -13.8C96.3 -10.5 98 -12.2 94.9 -8.8C91.7 -5.3 93.1 -7.2 89.9 -3.5C86.8 0.1 86.9 0.3 85.4 2.3Z" fill="rgb(14,44,224)"/>
<path d="M47.6 32.4C48.3 30.7 47.5 31.1 49.5 27.3C51.6 23.5 51.2 24.9 53.7 20.9C56.3 16.9 54.7 19.1 57.2 15.3C59.7 11.5 58.5 13.4 61.2 9.5C63.9 5.7 62.6 7.3 65.3 3.7C68.1 0.1 68.1 0.4 69.5 -1.3L65.9 -4.1C64.6 -2.4 64.5 -2.7 61.9 1.1C59.2 5 60.5 3.3 58 7.5C55.5 11.6 56.6 9.5 54.4 13.5C52.1 17.5 53.6 15.3 51.3 19.5C48.9 23.7 49.2 22.1 47.3 26.1C45.4 30.2 46.1 29.8 45.6 31.6Z" fill="rgb(14,44,224)"/>
<path d="M70.7 36.7 L73 34.4 L76.3 33.2 L74 35.6Z" fill="rgb(14,44,224)"/>
<path d="M61.7 33.7C63.4 31.7 62.8 32.1 66.6 27.5C70.4 22.9 70.9 22.5 73.1 20L72.5 19.4C69.9 21.6 69 21.6 64.8 25.9C60.6 30.2 61.5 30.1 59.9 32.3Z" fill="rgb(14,44,224)"/>
<path d="M45.5 31.1C45.3 33.4 44.9 33.4 45 38C45.1 42.7 45 40.5 45.9 45.2C46.8 49.9 46.1 47.3 47.6 52.2C49.1 57.2 49.5 57.4 50.4 59.9L51.2 59.7C50.6 57 50.6 56.7 49.6 51.8C48.5 46.8 48.9 49.4 48.1 44.8C47.3 40.2 47.4 42.5 47.2 38C47 33.4 47.4 33.5 47.5 31.3Z" fill="rgb(226,30,28)"/>
<path d="M59.8 32.2C59.1 34.1 58.5 34.1 57.7 37.7C56.9 41.3 57.2 39.5 57.3 43C57.4 46.5 57.2 44.7 57.9 48.2C58.6 51.7 58.1 50.1 59.5 53.5C60.8 56.9 60 55.3 62 58.5C64.1 61.6 64.5 61.4 65.7 62.8L66.3 62.4C65.4 60.8 65.2 60.8 63.6 57.5C62 54.3 62.6 56 61.5 52.7C60.4 49.5 60.9 51 60.3 47.8C59.7 44.5 59.8 46.1 59.7 43C59.6 39.8 59.4 41.6 60.1 38.3C60.8 34.9 61.2 34.7 61.8 33Z" fill="rgb(226,30,28)"/>
<path d="M65.2 45.5C65.5 44 65 44.6 66.2 43.3C67.4 42 66.5 42.4 68.7 41.7C70.9 41 69.8 41.3 72.8 41.2C75.8 41.1 74.4 41.4 77.8 41.4C81.2 41.4 79.5 41.6 82.9 41.2C86.3 40.8 84.6 41 88 40.2C91.4 39.4 89.6 39.9 93 38.7C96.4 37.5 94.7 38.2 98.1 36.5C101.5 34.8 99.9 35.4 103.1 33.5C106.3 31.6 102.7 34.4 107.6 30.8C112.5 27.2 111.7 28.1 117.8 22.7C123.9 17.3 121.2 19.7 125.9 14.6C130.6 9.5 128.3 12.3 131.9 7.5C135.5 2.7 133.4 5.6 136.7 0.1C140 -5.4 138.5 -2.4 141.7 -9C144.9 -15.6 145.2 -17.9 146.3 -19.6C147.4 -21.3 146.2 -18.2 145 -14C143.8 -9.8 145.1 -14.2 142.8 -7C140.5 0.2 141 0.2 138.2 7.5C135.4 14.8 137.1 10 134.5 15C131.9 20 132.4 18 130.3 22.5C128.2 27 129.8 24.5 128.1 28.4C126.4 32.3 127.4 29.9 125.2 34.3C123 38.7 124.2 37 121.5 41.7C118.8 46.4 120.3 44.1 117.1 48.3C113.9 52.5 115.1 51.2 111.9 54.2C108.7 57.2 110.5 55.4 107.5 57.3C104.5 59.2 105.8 58.3 103 59.8C100.2 61.3 101.7 60.7 99 61.8C96.3 62.9 98 62.5 95 63.2C92 63.9 94 63.7 90 64C86 64.3 87.6 64.7 82.9 64C78.2 63.3 80 64 75.8 62C71.6 60 73.2 61 70.2 58C67.2 55 68.4 56.3 66.7 52.9C65 49.5 65.7 50.3 65.2 47.8C64.7 45.3 64.9 47 65.2 45.5Z" fill="#fff" stroke="#444" stroke-width="0.5"/>
</g>
<g transform="translate(0 166)">
<path d="M68.6 -1.8C70.7 -3.9 70.8 -4.9 74.8 -8C78.8 -11 76.2 -9 80.7 -11.1C85.3 -13.1 83.2 -12.2 88.5 -14.1C93.8 -16 91.1 -14.9 96.5 -16.9C102 -18.9 100.1 -17.5 104.9 -20.2C109.7 -22.8 107.2 -21.5 111 -24.9C114.8 -28.3 113.2 -26.8 116.4 -30.5C119.6 -34.1 117.9 -31.8 120.7 -35.8C123.6 -39.9 122.3 -37.9 125 -42.5C127.6 -47.1 126.4 -45.2 128.7 -49.7C131 -54.2 130 -51.9 131.7 -56C133.5 -60.1 131.9 -57.4 134 -61.9C136.2 -66.5 135.5 -64.3 138.2 -69.6C140.9 -74.9 139.4 -70.8 142.2 -77.8C144.9 -84.7 144.2 -83.5 146.4 -90.4C148.6 -97.3 147.7 -94.5 148.7 -98.5C149.8 -102.6 149.3 -101.2 149.6 -102.6L146.4 -103.4C146 -102.1 146.5 -103.4 145.3 -99.5C144.1 -95.5 145.1 -98.3 142.8 -91.6C140.5 -84.8 141.2 -86 138.4 -79.2C135.7 -72.5 137.3 -76.6 134.6 -71.4C131.9 -66.2 132.6 -68.3 130.4 -63.7C128.2 -59.1 129.8 -61.7 128.1 -57.6C126.3 -53.5 127.2 -55.9 125.1 -51.5C123 -47.1 124 -48.9 121.6 -44.3C119.2 -39.7 120.4 -41.7 117.9 -37.8C115.3 -33.8 117 -36.1 114 -32.5C111 -29 112.5 -30.4 109 -27.1C105.5 -23.9 108 -25.2 103.5 -22.8C99 -20.4 100.9 -21.7 95.5 -19.9C90.1 -18.1 92.7 -19.2 87.3 -17.3C81.9 -15.4 84.1 -16.4 79.3 -14.1C74.4 -11.9 77 -14 72.8 -10.4C68.6 -6.9 68.8 -5.9 66.8 -3.6Z" fill="rgb(14,44,224)"/>
<path d="M119 -37C120.4 -39.2 120.5 -38.9 123.2 -43.4C125.9 -48 124.7 -46.1 127 -50.6C129.3 -55 128.3 -52.7 130.1 -56.7C131.9 -60.8 130.2 -58.2 132.4 -62.7C134.5 -67.3 133.9 -65.2 136.6 -70.4C139.3 -75.6 137.7 -71.6 140.5 -78.4C143.2 -85.3 142.6 -84.1 144.8 -90.9C147 -97.8 146.1 -94.9 147.2 -98.9C148.3 -103 147.9 -101.6 148.2 -103L146.4 -103.4C146.1 -102.1 146.6 -103.4 145.5 -99.4C144.3 -95.5 145.3 -98.3 143.1 -91.5C140.9 -84.7 141.5 -85.8 138.8 -79.1C136.1 -72.3 137.7 -76.4 135 -71.2C132.3 -66 132.9 -68.1 130.8 -63.5C128.6 -58.9 130.2 -61.5 128.4 -57.4C126.7 -53.4 127.6 -55.7 125.6 -51.3C123.5 -46.8 124.5 -48.7 122.2 -44C119.8 -39.4 119.7 -39.6 118.4 -37.3Z" fill="rgb(10,20,150)"/>
<path d="M149.4 -102.3C150.6 -104.2 150.5 -103.7 152.8 -108C155.2 -112.3 154 -110.4 156.5 -115.2C159 -119.9 157.9 -117.8 160.3 -122.3C162.7 -126.7 161.9 -124.4 163.6 -128.4C165.2 -132.5 164.8 -132.4 165.4 -134.4L165 -134.6C163.8 -132.9 163.9 -133.2 161.4 -129.6C159 -126 160.3 -128 157.7 -123.7C155.1 -119.5 156.4 -121.4 153.5 -116.8C150.7 -112.3 151.5 -114.4 149.2 -110C146.8 -105.6 147.4 -105.8 146.6 -103.7Z" fill="rgb(10,20,150)"/>
<path d="M63 -3C62.7 -6 63.3 -5 66 -7.5C68.7 -10 67 -9.8 71 -10.5C75 -11.2 77 -11 78 -9.5C79 -8 74.7 -8.3 74 -6C73.3 -3.7 77.3 -4 76 -2.5C74.7 -1 73 -2.8 70 -1.5C67 -0.2 69.3 2 67 1.5C64.7 1 63.3 0 63 -3Z" fill="rgb(14,44,224)"/>
<path d="M86.6 3.3C88.4 1.7 88.5 1.8 92.1 -1.5C95.7 -4.7 94.1 -3 97.3 -6.4C100.6 -9.9 99.1 -8.1 101.7 -11.8C104.4 -15.4 104.1 -15.5 105.3 -17.4L103.7 -18.6C102.2 -17 102.2 -17.1 99.3 -13.8C96.3 -10.5 98 -12.2 94.9 -8.8C91.7 -5.3 93.1 -7.2 89.9 -3.5C86.8 0.1 86.9 0.3 85.4 2.3Z" fill="rgb(14,44,224)"/>
<path d="M47.6 32.4C48.3 30.7 47.5 31.1 49.5 27.3C51.6 23.5 51.2 24.9 53.7 20.9C56.3 16.9 54.7 19.1 57.2 15.3C59.7 11.5 58.5 13.4 61.2 9.5C63.9 5.7 62.6 7.3 65.3 3.7C68.1 0.1 68.1 0.4 69.5 -1.3L65.9 -4.1C64.6 -2.4 64.5 -2.7 61.9 1.1C59.2 5 60.5 3.3 58 7.5C55.5 11.6 56.6 9.5 54.4 13.5C52.1 17.5 53.6 15.3 51.3 19.5C48.9 23.7 49.2 22.1 47.3 26.1C45.4 30.2 46.1 29.8 45.6 31.6Z" fill="rgb(14,44,224)"/>
<path d="M70.7 36.7 L73 34.4 L76.3 33.2 L74 35.6Z" fill="rgb(14,44,224)"/>
<path d="M61.7 33.7C63.4 31.7 62.8 32.1 66.6 27.5C70.4 22.9 70.9 22.5 73.1 20L72.5 19.4C69.9 21.6 69 21.6 64.8 25.9C60.6 30.2 61.5 30.1 59.9 32.3Z" fill="rgb(14,44,224)"/>
<path d="M45.5 31.1C45.3 33.4 44.9 33.4 45 38C45.1 42.7 45 40.5 45.9 45.2C46.8 49.9 46.1 47.3 47.6 52.2C49.1 57.2 49.5 57.4 50.4 59.9L51.2 59.7C50.6 57 50.6 56.7 49.6 51.8C48.5 46.8 48.9 49.4 48.1 44.8C47.3 40.2 47.4 42.5 47.2 38C47 33.4 47.4 33.5 47.5 31.3Z" fill="rgb(226,30,28)"/>
<path d="M59.8 32.2C59.1 34.1 58.5 34.1 57.7 37.7C56.9 41.3 57.2 39.5 57.3 43C57.4 46.5 57.2 44.7 57.9 48.2C58.6 51.7 58.1 50.1 59.5 53.5C60.8 56.9 60 55.3 62 58.5C64.1 61.6 64.5 61.4 65.7 62.8L66.3 62.4C65.4 60.8 65.2 60.8 63.6 57.5C62 54.3 62.6 56 61.5 52.7C60.4 49.5 60.9 51 60.3 47.8C59.7 44.5 59.8 46.1 59.7 43C59.6 39.8 59.4 41.6 60.1 38.3C60.8 34.9 61.2 34.7 61.8 33Z" fill="rgb(226,30,28)"/>
<path d="M65.2 45.5C65.5 44 65 44.6 66.2 43.3C67.4 42 66.5 42.4 68.7 41.7C70.9 41 69.8 41.3 72.8 41.2C75.8 41.1 74.4 41.4 77.8 41.4C81.2 41.4 79.5 41.6 82.9 41.2C86.3 40.8 84.6 41 88 40.2C91.4 39.4 89.6 39.9 93 38.7C96.4 37.5 94.7 38.2 98.1 36.5C101.5 34.8 99.9 35.4 103.1 33.5C106.3 31.6 102.7 34.4 107.6 30.8C112.5 27.2 111.7 28.1 117.8 22.7C123.9 17.3 121.2 19.7 125.9 14.6C130.6 9.5 128.3 12.3 131.9 7.5C135.5 2.7 133.4 5.6 136.7 0.1C140 -5.4 138.5 -2.4 141.7 -9C144.9 -15.6 145.2 -17.9 146.3 -19.6C147.4 -21.3 146.2 -18.2 145 -14C143.8 -9.8 145.1 -14.2 142.8 -7C140.5 0.2 141 0.2 138.2 7.5C135.4 14.8 137.1 10 134.5 15C131.9 20 132.4 18 130.3 22.5C128.2 27 129.8 24.5 128.1 28.4C126.4 32.3 127.4 29.9 125.2 34.3C123 38.7 124.2 37 121.5 41.7C118.8 46.4 120.3 44.1 117.1 48.3C113.9 52.5 115.1 51.2 111.9 54.2C108.7 57.2 110.5 55.4 107.5 57.3C104.5 59.2 105.8 58.3 103 59.8C100.2 61.3 101.7 60.7 99 61.8C96.3 62.9 98 62.5 95 63.2C92 63.9 94 63.7 90 64C86 64.3 87.6 64.7 82.9 64C78.2 63.3 80 64 75.8 62C71.6 60 73.2 61 70.2 58C67.2 55 68.4 56.3 66.7 52.9C65 49.5 65.7 50.3 65.2 47.8C64.7 45.3 64.9 47 65.2 45.5Z" fill="#fff" stroke="#444" stroke-width="0.5"/>
</g>
<g transform="translate(0 249)">
<path d="M68.6 -1.8C70.7 -3.9 70.8 -4.9 74.8 -8C78.8 -11 76.2 -9 80.7 -11.1C85.3 -13.1 83.2 -12.2 88.5 -14.1C93.8 -16 91.1 -14.9 96.5 -16.9C102 -18.9 100.1 -17.5 104.9 -20.2C109.7 -22.8 107.2 -21.5 111 -24.9C114.8 -28.3 113.2 -26.8 116.4 -30.5C119.6 -34.1 117.9 -31.8 120.7 -35.8C123.6 -39.9 122.3 -37.9 125 -42.5C127.6 -47.1 126.4 -45.2 128.7 -49.7C131 -54.2 130 -51.9 131.7 -56C133.5 -60.1 131.9 -57.4 134 -61.9C136.2 -66.5 135.5 -64.3 138.2 -69.6C140.9 -74.9 139.4 -70.8 142.2 -77.8C144.9 -84.7 144.2 -83.5 146.4 -90.4C148.6 -97.3 147.7 -94.5 148.7 -98.5C149.8 -102.6 149.3 -101.2 149.6 -102.6L146.4 -103.4C146 -102.1 146.5 -103.4 145.3 -99.5C144.1 -95.5 145.1 -98.3 142.8 -91.6C140.5 -84.8 141.2 -86 138.4 -79.2C135.7 -72.5 137.3 -76.6 134.6 -71.4C131.9 -66.2 132.6 -68.3 130.4 -63.7C128.2 -59.1 129.8 -61.7 128.1 -57.6C126.3 -53.5 127.2 -55.9 125.1 -51.5C123 -47.1 124 -48.9 121.6 -44.3C119.2 -39.7 120.4 -41.7 117.9 -37.8C115.3 -33.8 117 -36.1 114 -32.5C111 -29 112.5 -30.4 109 -27.1C105.5 -23.9 108 -25.2 103.5 -22.8C99 -20.4 100.9 -21.7 95.5 -19.9C90.1 -18.1 92.7 -19.2 87.3 -17.3C81.9 -15.4 84.1 -16.4 79.3 -14.1C74.4 -11.9 77 -14 72.8 -10.4C68.6 -6.9 68.8 -5.9 66.8 -3.6Z" fill="rgb(14,44,224)"/>
<path d="M119 -37C120.4 -39.2 120.5 -38.9 123.2 -43.4C125.9 -48 124.7 -46.1 127 -50.6C129.3 -55 128.3 -52.7 130.1 -56.7C131.9 -60.8 130.2 -58.2 132.4 -62.7C134.5 -67.3 133.9 -65.2 136.6 -70.4C139.3 -75.6 137.7 -71.6 140.5 -78.4C143.2 -85.3 142.6 -84.1 144.8 -90.9C147 -97.8 146.1 -94.9 147.2 -98.9C148.3 -103 147.9 -101.6 148.2 -103L146.4 -103.4C146.1 -102.1 146.6 -103.4 145.5 -99.4C144.3 -95.5 145.3 -98.3 143.1 -91.5C140.9 -84.7 141.5 -85.8 138.8 -79.1C136.1 -72.3 137.7 -76.4 135 -71.2C132.3 -66 132.9 -68.1 130.8 -63.5C128.6 -58.9 130.2 -61.5 128.4 -57.4C126.7 -53.4 127.6 -55.7 125.6 -51.3C123.5 -46.8 124.5 -48.7 122.2 -44C119.8 -39.4 119.7 -39.6 118.4 -37.3Z" fill="rgb(10,20,150)"/>
<path d="M149.4 -102.3C150.6 -104.2 150.5 -103.7 152.8 -108C155.2 -112.3 154 -110.4 156.5 -115.2C159 -119.9 157.9 -117.8 160.3 -122.3C162.7 -126.7 161.9 -124.4 163.6 -128.4C165.2 -132.5 164.8 -132.4 165.4 -134.4L165 -134.6C163.8 -132.9 163.9 -133.2 161.4 -129.6C159 -126 160.3 -128 157.7 -123.7C155.1 -119.5 156.4 -121.4 153.5 -116.8C150.7 -112.3 151.5 -114.4 149.2 -110C146.8 -105.6 147.4 -105.8 146.6 -103.7Z" fill="rgb(10,20,150)"/>
<path d="M63 -3C62.7 -6 63.3 -5 66 -7.5C68.7 -10 67 -9.8 71 -10.5C75 -11.2 77 -11 78 -9.5C79 -8 74.7 -8.3 74 -6C73.3 -3.7 77.3 -4 76 -2.5C74.7 -1 73 -2.8 70 -1.5C67 -0.2 69.3 2 67 1.5C64.7 1 63.3 0 63 -3Z" fill="rgb(14,44,224)"/>
<path d="M86.6 3.3C88.4 1.7 88.5 1.8 92.1 -1.5C95.7 -4.7 94.1 -3 97.3 -6.4C100.6 -9.9 99.1 -8.1 101.7 -11.8C104.4 -15.4 104.1 -15.5 105.3 -17.4L103.7 -18.6C102.2 -17 102.2 -17.1 99.3 -13.8C96.3 -10.5 98 -12.2 94.9 -8.8C91.7 -5.3 93.1 -7.2 89.9 -3.5C86.8 0.1 86.9 0.3 85.4 2.3Z" fill="rgb(14,44,224)"/>
<path d="M47.6 32.4C48.3 30.7 47.5 31.1 49.5 27.3C51.6 23.5 51.2 24.9 53.7 20.9C56.3 16.9 54.7 19.1 57.2 15.3C59.7 11.5 58.5 13.4 61.2 9.5C63.9 5.7 62.6 7.3 65.3 3.7C68.1 0.1 68.1 0.4 69.5 -1.3L65.9 -4.1C64.6 -2.4 64.5 -2.7 61.9 1.1C59.2 5 60.5 3.3 58 7.5C55.5 11.6 56.6 9.5 54.4 13.5C52.1 17.5 53.6 15.3 51.3 19.5C48.9 23.7 49.2 22.1 47.3 26.1C45.4 30.2 46.1 29.8 45.6 31.6Z" fill="rgb(14,44,224)"/>
<path d="M70.7 36.7 L73 34.4 L76.3 33.2 L74 35.6Z" fill="rgb(14,44,224)"/>
<path d="M61.7 33.7C63.4 31.7 62.8 32.1 66.6 27.5C70.4 22.9 70.9 22.5 73.1 20L72.5 19.4C69.9 21.6 69 21.6 64.8 25.9C60.6 30.2 61.5 30.1 59.9 32.3Z" fill="rgb(14,44,224)"/>
<path d="M45.5 31.1C45.3 33.4 44.9 33.4 45 38C45.1 42.7 45 40.5 45.9 45.2C46.8 49.9 46.1 47.3 47.6 52.2C49.1 57.2 49.5 57.4 50.4 59.9L51.2 59.7C50.6 57 50.6 56.7 49.6 51.8C48.5 46.8 48.9 49.4 48.1 44.8C47.3 40.2 47.4 42.5 47.2 38C47 33.4 47.4 33.5 47.5 31.3Z" fill="rgb(226,30,28)"/>
<path d="M59.8 32.2C59.1 34.1 58.5 34.1 57.7 37.7C56.9 41.3 57.2 39.5 57.3 43C57.4 46.5 57.2 44.7 57.9 48.2C58.6 51.7 58.1 50.1 59.5 53.5C60.8 56.9 60 55.3 62 58.5C64.1 61.6 64.5 61.4 65.7 62.8L66.3 62.4C65.4 60.8 65.2 60.8 63.6 57.5C62 54.3 62.6 56 61.5 52.7C60.4 49.5 60.9 51 60.3 47.8C59.7 44.5 59.8 46.1 59.7 43C59.6 39.8 59.4 41.6 60.1 38.3C60.8 34.9 61.2 34.7 61.8 33Z" fill="rgb(226,30,28)"/>
<path d="M65.2 45.5C65.5 44 65 44.6 66.2 43.3C67.4 42 66.5 42.4 68.7 41.7C70.9 41 69.8 41.3 72.8 41.2C75.8 41.1 74.4 41.4 77.8 41.4C81.2 41.4 79.5 41.6 82.9 41.2C86.3 40.8 84.6 41 88 40.2C91.4 39.4 89.6 39.9 93 38.7C96.4 37.5 94.7 38.2 98.1 36.5C101.5 34.8 99.9 35.4 103.1 33.5C106.3 31.6 102.7 34.4 107.6 30.8C112.5 27.2 111.7 28.1 117.8 22.7C123.9 17.3 121.2 19.7 125.9 14.6C130.6 9.5 128.3 12.3 131.9 7.5C135.5 2.7 133.4 5.6 136.7 0.1C140 -5.4 138.5 -2.4 141.7 -9C144.9 -15.6 145.2 -17.9 146.3 -19.6C147.4 -21.3 146.2 -18.2 145 -14C143.8 -9.8 145.1 -14.2 142.8 -7C140.5 0.2 141 0.2 138.2 7.5C135.4 14.8 137.1 10 134.5 15C131.9 20 132.4 18 130.3 22.5C128.2 27 129.8 24.5 128.1 28.4C126.4 32.3 127.4 29.9 125.2 34.3C123 38.7 124.2 37 121.5 41.7C118.8 46.4 120.3 44.1 117.1 48.3C113.9 52.5 115.1 51.2 111.9 54.2C108.7 57.2 110.5 55.4 107.5 57.3C104.5 59.2 105.8 58.3 103 59.8C100.2 61.3 101.7 60.7 99 61.8C96.3 62.9 98 62.5 95 63.2C92 63.9 94 63.7 90 64C86 64.3 87.6 64.7 82.9 64C78.2 63.3 80 64 75.8 62C71.6 60 73.2 61 70.2 58C67.2 55 68.4 56.3 66.7 52.9C65 49.5 65.7 50.3 65.2 47.8C64.7 45.3 64.9 47 65.2 45.5Z" fill="#fff" stroke="#444" stroke-width="0.5"/>
</g>
</g>
</g>
<g class="p" transform="translate(302.5 127.5)">
<clipPath id="c2"><path d="M0 0C20 0.3 33.3 0.5 60 0.8C86.7 1.1 70.8 1.1 80 1C89.2 0.9 82.9 1.1 87.6 0.4C92.3 -0.3 90.6 -0.2 94 -1.2C97.4 -2.2 95.2 -1.6 97.8 -2.7C100.4 -3.8 98.4 -2.6 101.8 -4.4C105.2 -6.2 103.3 -5.1 107.9 -8.2C112.5 -11.3 110.5 -9.2 115.5 -13.6C120.5 -18 118.6 -16.9 122.8 -21.5C127 -26.1 124.7 -23.9 128 -27.5C131.3 -31.1 127.7 -27.3 132.6 -32.3C137.5 -37.3 137.7 -37.5 142.8 -42.4C147.9 -47.3 144.4 -44.3 147.8 -46.9C151.2 -49.5 148.9 -48.5 153 -50.1C157.1 -51.8 157.7 -51.2 160 -51.8L239.4 -51.8L239.4 114.2L167.5 114.2C163.8 114.6 162.9 114 156.4 115.5C149.9 116.9 152.8 115.7 148 118.6C143.2 121.5 146 119.6 142 124.3C138 129 140.4 126.6 136 132.6C131.6 138.6 133.6 136.6 128.8 142.2C124 147.8 126.5 144.7 121.7 149.4C116.9 154.1 119.3 152.5 114.5 156.4C109.7 160.3 111.3 158.8 107.3 161.2C103.3 163.6 105.9 162.3 102.5 163.6C99.1 164.9 101.8 163.9 97 165C92.2 166.1 95.3 165.7 88 166.8C80.7 167.9 83.7 167.7 75.2 168.4C66.7 169.1 74.2 169.1 62.5 168.8C50.8 168.5 60.8 168.5 40 167.5C19.2 166.5 13.3 166.4 0 165.8Z"/></clipPath>
<g clip-path="url(#c2)">
<rect x="-2" y="-60" width="250" height="240" fill="rgb(127,203,250)"/>
<rect x="150" y="-60" width="100" height="240" fill="rgb(122,246,212)"/>
<path d="M178.5 10 L183.5 8 L198.3 -53 L192.2 -53Z" fill="rgb(128,244,234)" stroke="rgb(40,80,110)" stroke-opacity="0.55" stroke-width="0.35"/>
<path d="M179 94 L184.5 92 L203.5 22.5 L228 -53 L219.6 -53 L197.3 22.5Z" fill="rgb(128,244,234)" stroke="rgb(40,80,110)" stroke-opacity="0.55" stroke-width="0.35"/>
<path d="M195.2 115 L202.3 115 L226.6 22.5 L241 -30 L241 -53 L233.6 -53 L213.5 22.5Z" fill="rgb(128,244,234)" stroke="rgb(40,80,110)" stroke-opacity="0.55" stroke-width="0.35"/>
<path d="M241 5 L226.6 52.5 L207.8 115 L241 115Z" fill="rgb(128,244,234)" stroke="rgb(40,80,110)" stroke-opacity="0.55" stroke-width="0.35"/>
<path d="M204 -53L158 115" fill="none" stroke="rgb(40,80,110)" stroke-opacity="0.55" stroke-width="0.35"/>
<path d="M212 -53L166 115" fill="none" stroke="rgb(40,80,110)" stroke-opacity="0.55" stroke-width="0.35"/>
<path d="M232 -53L186 115" fill="none" stroke="rgb(40,80,110)" stroke-opacity="0.55" stroke-width="0.35"/>
<g transform="translate(0 -83)">
<path d="M66.8 33.6C67.9 32.4 67.5 32.4 70 30C72.5 27.6 71.1 29 74.3 26.5C77.5 24 75.9 25.2 79.5 22.5C83.1 19.8 81.3 21.1 85 18.5C88.7 15.9 85.5 19.4 90.5 14.8C95.5 10.2 94.7 10.7 100 4.7C105.3 -1.3 102.7 1.8 106.5 -3.2C110.3 -8.2 108.7 -5.1 111.5 -10.2C114.3 -15.3 112.8 -13.1 115 -18.5C117.2 -23.9 116 -21.7 118 -26.5C120 -31.3 118.7 -28.4 121.1 -32.9C123.5 -37.4 122.7 -35.1 125.2 -39.9C127.7 -44.7 126.4 -42.5 128.5 -47.2C130.6 -51.9 129.6 -49.5 131.4 -53.9C133.2 -58.3 131.8 -55.1 134 -60.5C136.2 -65.9 135.5 -64.3 138 -70C140.5 -75.7 138.8 -71.5 141.5 -77.5C144.2 -83.5 143.2 -81.8 146 -88C148.8 -94.2 147.7 -91.1 150 -96C152.3 -100.9 150.7 -97.4 153 -102.6C155.3 -107.8 154.3 -105.6 157 -111.5C159.7 -117.4 158.3 -114.7 161 -120.4C163.7 -126.1 162.5 -123.6 165 -128.5C167.5 -133.4 165.5 -128.8 168.5 -135C171.5 -141.2 170.3 -139.2 174 -147C177.7 -154.8 177.7 -154.7 179.5 -158.5L179.5 -75.5C177.7 -71.7 177.7 -71.8 174 -64C170.3 -56.2 171.5 -58.2 168.5 -52C165.5 -45.8 167.5 -50.4 165 -45.5C162.5 -40.6 163.7 -43.1 161 -37.4C158.3 -31.7 159.7 -34.4 157 -28.5C154.3 -22.6 155.3 -24.8 153 -19.6C150.7 -14.4 152.3 -17.9 150 -13C147.7 -8.1 148.8 -11.2 146 -5C143.2 1.2 144.2 -0.5 141.5 5.5C138.8 11.5 140.5 7.3 138 13C135.5 18.7 136.2 17.1 134 22.5C131.8 27.9 133.2 24.7 131.4 29.1C129.6 33.5 130.6 31.1 128.5 35.8C126.4 40.5 127.7 38.3 125.2 43.1C122.7 47.9 123.5 45.6 121.1 50.1C118.7 54.6 120 51.7 118 56.5C116 61.3 117.2 59.1 115 64.5C112.8 69.9 114.3 67.7 111.5 72.8C108.7 77.9 110.3 74.8 106.5 79.8C102.7 84.8 105.3 81.7 100 87.7C94.7 93.7 95.5 93.2 90.5 97.8C85.5 102.4 88.7 98.9 85 101.5C81.3 104.1 83.1 102.8 79.5 105.5C75.9 108.2 77.5 107 74.3 109.5C71.1 112 72.5 110.6 70 113C67.5 115.4 67.9 115.4 66.8 116.6L69 114C71 111.8 71 111.5 75 107.3C79 103.1 77.4 106 81.1 101.3C84.8 96.6 84.8 98.2 86.1 93.1C87.4 88 87.8 90.1 85.1 86.1C82.4 82.1 84.4 84.7 78 81C71.6 77.3 73 80.3 65.9 74.9C58.8 69.5 60.4 72.2 56.7 64.8C53 57.4 54.3 60 54.7 52.6C55.1 45.2 56.2 46.9 57.8 42.5C59.4 38.1 57.8 41.5 59.5 39.5C61.2 37.5 61.8 37.5 63 36.5Z" fill="rgb(132,240,250)"/>
<path d="M146 -85.5C146.6 -84.4 145.8 -87 149.7 -86.8C153.6 -86.6 151.7 -84.5 157.8 -84.8C163.9 -85.1 162.5 -84.1 167.9 -87.8C173.3 -91.5 170 -88.5 174 -95.9C178 -103.3 176.3 -100.6 180 -110.1C183.7 -119.6 181.8 -114.3 185.1 -124.3C188.4 -134.3 187.7 -131.4 190 -140C192.3 -148.6 196.7 -146.7 192 -150C187.3 -153.3 183.6 -154 176 -150C168.4 -146 175 -150 169.2 -138C163.4 -126 165.6 -130 158.5 -114C151.4 -98 152 -99.5 147.8 -90C143.6 -80.5 145.4 -86.6 146 -85.5Z" fill="rgb(122,246,212)"/>
<path d="M78 -3C86 -6.3 95 -8.3 104 -8C113 -7.7 106.3 -6.2 105 -2C103.7 2.2 104.8 -0.9 100 4.7C95.2 10.3 95.5 10.2 90.5 14.8C85.5 19.4 88.5 16.4 85 18.5C81.5 20.6 81.2 21.8 80 21C78.8 20.2 80 20 81.5 16C83 12 85 13.7 84.5 9C84 4.3 82.2 6 80 2C77.8 -2 70 0.3 78 -3Z" fill="rgb(132,240,250)" stroke="rgb(40,80,110)" stroke-opacity="0.55" stroke-width="0.35"/>
<path d="M70.5 36.5C72.2 32.8 72.7 33.8 77 30C81.3 26.2 78.3 28.1 83.5 25C88.7 21.9 86.1 24 92.5 20.8C98.9 17.6 95.8 18.6 102.6 15.5C109.4 12.4 106.4 13.9 112.8 11.4C119.2 8.9 117.4 8.8 121.9 8.1C126.4 7.4 124.2 8.1 126.4 9.4C128.6 10.7 128.7 10.3 128.5 12C128.3 13.7 129.5 11 125.9 14.6C122.3 18.2 123.9 17.3 117.8 22.7C111.7 28.1 114.2 26.2 107.6 30.8C101 35.4 104.5 33.4 98 36.5C91.5 39.6 94.7 38.5 88 40C81.3 41.5 83.3 40.7 78 41C72.7 41.3 74.5 42.5 72 41C69.5 39.5 68.8 40.2 70.5 36.5Z" fill="rgb(127,203,250)" stroke="rgb(40,80,110)" stroke-opacity="0.55" stroke-width="0.35"/>
<path d="M106.5 24C108.2 20.4 108 21.4 112 17.5C116 13.6 114.5 15 118.5 12.4C122.5 9.8 121 10.2 124 9.6C127 9 126.1 9.5 127.4 10.5C128.7 11.5 128.5 11.2 128 12.6C127.5 14 129.3 11.4 125.9 14.8C122.5 18.2 122.8 18.4 117.8 22.9C112.8 27.4 114.6 26.5 111 28.3C107.4 30.1 108.5 29.8 107 28.4C105.5 27 104.8 27.6 106.5 24Z" fill="rgb(131,186,249)" stroke="rgb(40,80,110)" stroke-opacity="0.55" stroke-width="0.35"/>
<ellipse cx="56.7" cy="26.3" rx="16.5" ry="13.6" transform="rotate(-8 56.7 26.3)" fill="rgb(134,160,248)" stroke="rgb(40,80,110)" stroke-opacity="0.55" stroke-width="0.35"/>
<path d="M69.2 41.5C69.9 40 70.4 39.6 75 37C79.6 34.4 77.6 35.5 82.9 33.6C88.2 31.7 85.9 32.3 91 31.3C96.1 30.3 93.8 30.8 98.1 30.6C102.4 30.4 100.5 30.8 104 30.8C107.5 30.8 108.8 29.6 108.5 30.6C108.2 31.6 106.6 31.7 103.1 33.7C99.6 35.7 101.5 35 98.1 36.7C94.7 38.4 96.4 37.7 93 38.9C89.6 40.1 91.4 39.6 88 40.4C84.6 41.2 86.3 41 82.9 41.4C79.5 41.8 81.2 41.6 77.8 41.6C74.4 41.6 75.7 41.4 72.8 41.4C69.9 41.4 68.5 43 69.2 41.5Z" fill="rgb(134,160,248)" stroke="rgb(40,80,110)" stroke-opacity="0.55" stroke-width="0.35"/>
<path d="M92.3 17C93.5 17.3 95.8 15 102.6 8.9C109.4 2.8 106 4.8 112.8 -1.3C119.6 -7.4 116.2 -5.5 122.9 -9.4C129.6 -13.3 127.3 -11.2 133 -12.9C138.7 -14.6 136.1 -12.5 140.1 -14.4C144.1 -16.3 141.7 -13.3 145 -18.5C148.3 -23.7 146 -21.2 150 -30C154 -38.8 152.7 -35.7 157 -45C161.3 -54.3 159 -49.3 163 -58C167 -66.7 166.3 -65.3 169 -71C171.7 -76.7 171.3 -75.3 171 -75C170.7 -74.7 170.7 -74.7 168 -70C165.3 -65.3 167 -66.3 163 -61C159 -55.7 161 -61.2 155.9 -54C150.8 -46.8 154.8 -48.8 147.8 -39.5C140.8 -30.2 143.3 -33.5 135 -26C126.7 -18.5 130.5 -22.7 122.8 -17C115.1 -11.3 117.6 -14.3 112 -9C106.4 -3.7 110.3 -6.7 106 -1C101.7 4.7 103.6 2 99 8C94.4 14 91.1 16.7 92.3 17Z" fill="rgb(122,246,212)" stroke="rgb(40,80,110)" stroke-opacity="0.55" stroke-width="0.35"/>
<path d="M114.5 -8.8C116.4 -11.3 116.7 -13.2 119 -18.5C121.3 -23.8 121 -23.5 123.3 -28.7C125.6 -33.9 125.1 -33.5 127.7 -38C130.3 -42.5 130.1 -39.9 133 -45.5C135.9 -51.1 135.2 -51.3 138.6 -59C142 -66.7 143.8 -67.4 145.8 -74.5C147.8 -81.6 145 -82.2 146 -85.5C147 -88.8 146.6 -87 149.7 -86.8C152.8 -86.6 152.9 -84.5 157.8 -84.8C162.7 -85.1 163.6 -84.8 167.9 -87.8C172.2 -90.8 170.8 -90 174 -95.9C177.2 -101.8 177 -102.5 180 -110.1C183 -117.7 183.6 -121 185.1 -124.3C186.6 -127.6 186 -128.8 185.5 -122.3C185 -115.8 184.8 -110.3 183.1 -100C181.4 -89.7 181.4 -91.4 179 -83.8C176.6 -76.2 176.4 -76.5 174 -71.6C171.6 -66.7 173.2 -70.3 170 -65.5C166.8 -60.7 166.3 -59.5 162 -53.5C157.7 -47.5 157.8 -46.7 154 -43C150.2 -39.3 152.9 -44 147.8 -39.5C142.7 -35 141.7 -32 135 -26C128.3 -20 128.9 -21.5 122.8 -17C116.7 -12.5 114.2 -11.2 112 -9C109.8 -6.8 112.6 -6.3 114.5 -8.8Z" fill="rgb(112,240,132)" stroke="rgb(40,80,110)" stroke-opacity="0.55" stroke-width="0.35"/>
<path d="M114 -8C114.3 -5 115.2 -8.7 117.9 -10.9C120.6 -13.1 117.4 -11.1 122.2 -14.5C127 -17.9 126.1 -15.9 132.4 -21C138.7 -26.1 135.8 -23 141.1 -29.8C146.4 -36.6 144.3 -34.1 148.4 -41.4C152.5 -48.7 151.3 -45.8 153.5 -51.6C155.7 -57.4 156.2 -53.4 155 -58.9C153.8 -64.4 153.5 -63.5 150 -68C146.5 -72.5 147.5 -71.2 144.5 -72.5C141.5 -73.8 144.5 -77.2 141 -72C137.5 -66.8 138.3 -65.7 134 -57C129.7 -48.3 132 -53.7 128 -46C124 -38.3 125.7 -42.7 122 -34C118.3 -25.3 119.7 -28.7 117 -20C114.3 -11.3 113.7 -11 114 -8Z" fill="rgb(190,240,110)" stroke="rgb(40,80,110)" stroke-opacity="0.55" stroke-width="0.35"/>
<path d="M165.4 -70.2 L164 -50 L157.8 -50 L162 -61Z" fill="rgb(190,240,110)" stroke="rgb(40,80,110)" stroke-opacity="0.55" stroke-width="0.35"/>
<path d="M121.8 -20.5C122.5 -19.8 121.4 -18.6 124.8 -22.8C128.2 -27 127.5 -25.6 131.9 -33C136.3 -40.4 134.6 -37.7 138 -45.1C141.4 -52.5 140.1 -48.8 142.1 -55.2C144.1 -61.6 143.8 -59.7 144.1 -64.4C144.4 -69.1 144.1 -68.4 143.1 -69.4C142.1 -70.4 143.1 -71.4 141.1 -67.4C139.1 -63.4 139.7 -64.4 137 -57.3C134.3 -50.2 136 -53.5 133 -46.1C130 -38.7 131.3 -42.1 127.9 -35C124.5 -27.9 124.8 -29.7 122.8 -24.9C120.8 -20.1 121.1 -21.2 121.8 -20.5Z" fill="rgb(240,245,120)" stroke="rgb(40,80,110)" stroke-opacity="0.55" stroke-width="0.35"/>
<path d="M84.1 66.8C85.1 64.7 86.3 65.8 91 66.5C95.7 67.2 93.8 65.3 98.3 68.8C102.8 72.3 104.4 72.8 104.4 76.9C104.4 81 103.7 82.3 98.3 81C92.9 79.7 92.8 77.6 88.1 72.9C83.4 68.2 83.1 68.9 84.1 66.8Z" fill="rgb(122,246,212)" stroke="rgb(40,80,110)" stroke-opacity="0.55" stroke-width="0.35"/>
<path d="M63.7 43.9C63.3 45.3 62.6 44.9 62.5 48C62.4 51.2 62.1 49.6 63.5 53.4C64.9 57.2 63.8 55.8 66.6 59.5C69.5 63.3 67.8 62 72 64.6C76.2 67.2 73.9 66.4 79.3 67.4C84.7 68.4 82.5 68.6 88.1 67.7C93.8 66.8 93.5 65.7 96.1 64.7L95.9 63.7C93.2 64.3 93.2 65.1 87.9 65.5C82.5 65.9 84.6 66 79.7 65C74.9 64 77 64.9 73.2 62.6C69.5 60.3 71.1 61.4 68.6 58.1C66.1 54.7 67 56 65.7 52.6C64.4 49.2 65 50.8 64.7 48C64.4 45.1 64.7 45.4 64.7 44.1Z" fill="rgb(112,240,132)" stroke="rgb(40,80,110)" stroke-opacity="0.55" stroke-width="0.35"/>
</g>
<g transform="translate(0 0)">
<path d="M66.8 33.6C67.9 32.4 67.5 32.4 70 30C72.5 27.6 71.1 29 74.3 26.5C77.5 24 75.9 25.2 79.5 22.5C83.1 19.8 81.3 21.1 85 18.5C88.7 15.9 85.5 19.4 90.5 14.8C95.5 10.2 94.7 10.7 100 4.7C105.3 -1.3 102.7 1.8 106.5 -3.2C110.3 -8.2 108.7 -5.1 111.5 -10.2C114.3 -15.3 112.8 -13.1 115 -18.5C117.2 -23.9 116 -21.7 118 -26.5C120 -31.3 118.7 -28.4 121.1 -32.9C123.5 -37.4 122.7 -35.1 125.2 -39.9C127.7 -44.7 126.4 -42.5 128.5 -47.2C130.6 -51.9 129.6 -49.5 131.4 -53.9C133.2 -58.3 131.8 -55.1 134 -60.5C136.2 -65.9 135.5 -64.3 138 -70C140.5 -75.7 138.8 -71.5 141.5 -77.5C144.2 -83.5 143.2 -81.8 146 -88C148.8 -94.2 147.7 -91.1 150 -96C152.3 -100.9 150.7 -97.4 153 -102.6C155.3 -107.8 154.3 -105.6 157 -111.5C159.7 -117.4 158.3 -114.7 161 -120.4C163.7 -126.1 162.5 -123.6 165 -128.5C167.5 -133.4 165.5 -128.8 168.5 -135C171.5 -141.2 170.3 -139.2 174 -147C177.7 -154.8 177.7 -154.7 179.5 -158.5L179.5 -75.5C177.7 -71.7 177.7 -71.8 174 -64C170.3 -56.2 171.5 -58.2 168.5 -52C165.5 -45.8 167.5 -50.4 165 -45.5C162.5 -40.6 163.7 -43.1 161 -37.4C158.3 -31.7 159.7 -34.4 157 -28.5C154.3 -22.6 155.3 -24.8 153 -19.6C150.7 -14.4 152.3 -17.9 150 -13C147.7 -8.1 148.8 -11.2 146 -5C143.2 1.2 144.2 -0.5 141.5 5.5C138.8 11.5 140.5 7.3 138 13C135.5 18.7 136.2 17.1 134 22.5C131.8 27.9 133.2 24.7 131.4 29.1C129.6 33.5 130.6 31.1 128.5 35.8C126.4 40.5 127.7 38.3 125.2 43.1C122.7 47.9 123.5 45.6 121.1 50.1C118.7 54.6 120 51.7 118 56.5C116 61.3 117.2 59.1 115 64.5C112.8 69.9 114.3 67.7 111.5 72.8C108.7 77.9 110.3 74.8 106.5 79.8C102.7 84.8 105.3 81.7 100 87.7C94.7 93.7 95.5 93.2 90.5 97.8C85.5 102.4 88.7 98.9 85 101.5C81.3 104.1 83.1 102.8 79.5 105.5C75.9 108.2 77.5 107 74.3 109.5C71.1 112 72.5 110.6 70 113C67.5 115.4 67.9 115.4 66.8 116.6L69 114C71 111.8 71 111.5 75 107.3C79 103.1 77.4 106 81.1 101.3C84.8 96.6 84.8 98.2 86.1 93.1C87.4 88 87.8 90.1 85.1 86.1C82.4 82.1 84.4 84.7 78 81C71.6 77.3 73 80.3 65.9 74.9C58.8 69.5 60.4 72.2 56.7 64.8C53 57.4 54.3 60 54.7 52.6C55.1 45.2 56.2 46.9 57.8 42.5C59.4 38.1 57.8 41.5 59.5 39.5C61.2 37.5 61.8 37.5 63 36.5Z" fill="rgb(132,240,250)"/>
<path d="M146 -85.5C146.6 -84.4 145.8 -87 149.7 -86.8C153.6 -86.6 151.7 -84.5 157.8 -84.8C163.9 -85.1 162.5 -84.1 167.9 -87.8C173.3 -91.5 170 -88.5 174 -95.9C178 -103.3 176.3 -100.6 180 -110.1C183.7 -119.6 181.8 -114.3 185.1 -124.3C188.4 -134.3 187.7 -131.4 190 -140C192.3 -148.6 196.7 -146.7 192 -150C187.3 -153.3 183.6 -154 176 -150C168.4 -146 175 -150 169.2 -138C163.4 -126 165.6 -130 158.5 -114C151.4 -98 152 -99.5 147.8 -90C143.6 -80.5 145.4 -86.6 146 -85.5Z" fill="rgb(122,246,212)"/>
<path d="M78 -3C86 -6.3 95 -8.3 104 -8C113 -7.7 106.3 -6.2 105 -2C103.7 2.2 104.8 -0.9 100 4.7C95.2 10.3 95.5 10.2 90.5 14.8C85.5 19.4 88.5 16.4 85 18.5C81.5 20.6 81.2 21.8 80 21C78.8 20.2 80 20 81.5 16C83 12 85 13.7 84.5 9C84 4.3 82.2 6 80 2C77.8 -2 70 0.3 78 -3Z" fill="rgb(132,240,250)" stroke="rgb(40,80,110)" stroke-opacity="0.55" stroke-width="0.35"/>
<path d="M70.5 36.5C72.2 32.8 72.7 33.8 77 30C81.3 26.2 78.3 28.1 83.5 25C88.7 21.9 86.1 24 92.5 20.8C98.9 17.6 95.8 18.6 102.6 15.5C109.4 12.4 106.4 13.9 112.8 11.4C119.2 8.9 117.4 8.8 121.9 8.1C126.4 7.4 124.2 8.1 126.4 9.4C128.6 10.7 128.7 10.3 128.5 12C128.3 13.7 129.5 11 125.9 14.6C122.3 18.2 123.9 17.3 117.8 22.7C111.7 28.1 114.2 26.2 107.6 30.8C101 35.4 104.5 33.4 98 36.5C91.5 39.6 94.7 38.5 88 40C81.3 41.5 83.3 40.7 78 41C72.7 41.3 74.5 42.5 72 41C69.5 39.5 68.8 40.2 70.5 36.5Z" fill="rgb(127,203,250)" stroke="rgb(40,80,110)" stroke-opacity="0.55" stroke-width="0.35"/>
<path d="M106.5 24C108.2 20.4 108 21.4 112 17.5C116 13.6 114.5 15 118.5 12.4C122.5 9.8 121 10.2 124 9.6C127 9 126.1 9.5 127.4 10.5C128.7 11.5 128.5 11.2 128 12.6C127.5 14 129.3 11.4 125.9 14.8C122.5 18.2 122.8 18.4 117.8 22.9C112.8 27.4 114.6 26.5 111 28.3C107.4 30.1 108.5 29.8 107 28.4C105.5 27 104.8 27.6 106.5 24Z" fill="rgb(131,186,249)" stroke="rgb(40,80,110)" stroke-opacity="0.55" stroke-width="0.35"/>
<ellipse cx="56.7" cy="26.3" rx="16.5" ry="13.6" transform="rotate(-8 56.7 26.3)" fill="rgb(134,160,248)" stroke="rgb(40,80,110)" stroke-opacity="0.55" stroke-width="0.35"/>
<path d="M69.2 41.5C69.9 40 70.4 39.6 75 37C79.6 34.4 77.6 35.5 82.9 33.6C88.2 31.7 85.9 32.3 91 31.3C96.1 30.3 93.8 30.8 98.1 30.6C102.4 30.4 100.5 30.8 104 30.8C107.5 30.8 108.8 29.6 108.5 30.6C108.2 31.6 106.6 31.7 103.1 33.7C99.6 35.7 101.5 35 98.1 36.7C94.7 38.4 96.4 37.7 93 38.9C89.6 40.1 91.4 39.6 88 40.4C84.6 41.2 86.3 41 82.9 41.4C79.5 41.8 81.2 41.6 77.8 41.6C74.4 41.6 75.7 41.4 72.8 41.4C69.9 41.4 68.5 43 69.2 41.5Z" fill="rgb(134,160,248)" stroke="rgb(40,80,110)" stroke-opacity="0.55" stroke-width="0.35"/>
<path d="M92.3 17C93.5 17.3 95.8 15 102.6 8.9C109.4 2.8 106 4.8 112.8 -1.3C119.6 -7.4 116.2 -5.5 122.9 -9.4C129.6 -13.3 127.3 -11.2 133 -12.9C138.7 -14.6 136.1 -12.5 140.1 -14.4C144.1 -16.3 141.7 -13.3 145 -18.5C148.3 -23.7 146 -21.2 150 -30C154 -38.8 152.7 -35.7 157 -45C161.3 -54.3 159 -49.3 163 -58C167 -66.7 166.3 -65.3 169 -71C171.7 -76.7 171.3 -75.3 171 -75C170.7 -74.7 170.7 -74.7 168 -70C165.3 -65.3 167 -66.3 163 -61C159 -55.7 161 -61.2 155.9 -54C150.8 -46.8 154.8 -48.8 147.8 -39.5C140.8 -30.2 143.3 -33.5 135 -26C126.7 -18.5 130.5 -22.7 122.8 -17C115.1 -11.3 117.6 -14.3 112 -9C106.4 -3.7 110.3 -6.7 106 -1C101.7 4.7 103.6 2 99 8C94.4 14 91.1 16.7 92.3 17Z" fill="rgb(122,246,212)" stroke="rgb(40,80,110)" stroke-opacity="0.55" stroke-width="0.35"/>
<path d="M114.5 -8.8C116.4 -11.3 116.7 -13.2 119 -18.5C121.3 -23.8 121 -23.5 123.3 -28.7C125.6 -33.9 125.1 -33.5 127.7 -38C130.3 -42.5 130.1 -39.9 133 -45.5C135.9 -51.1 135.2 -51.3 138.6 -59C142 -66.7 143.8 -67.4 145.8 -74.5C147.8 -81.6 145 -82.2 146 -85.5C147 -88.8 146.6 -87 149.7 -86.8C152.8 -86.6 152.9 -84.5 157.8 -84.8C162.7 -85.1 163.6 -84.8 167.9 -87.8C172.2 -90.8 170.8 -90 174 -95.9C177.2 -101.8 177 -102.5 180 -110.1C183 -117.7 183.6 -121 185.1 -124.3C186.6 -127.6 186 -128.8 185.5 -122.3C185 -115.8 184.8 -110.3 183.1 -100C181.4 -89.7 181.4 -91.4 179 -83.8C176.6 -76.2 176.4 -76.5 174 -71.6C171.6 -66.7 173.2 -70.3 170 -65.5C166.8 -60.7 166.3 -59.5 162 -53.5C157.7 -47.5 157.8 -46.7 154 -43C150.2 -39.3 152.9 -44 147.8 -39.5C142.7 -35 141.7 -32 135 -26C128.3 -20 128.9 -21.5 122.8 -17C116.7 -12.5 114.2 -11.2 112 -9C109.8 -6.8 112.6 -6.3 114.5 -8.8Z" fill="rgb(112,240,132)" stroke="rgb(40,80,110)" stroke-opacity="0.55" stroke-width="0.35"/>
<path d="M114 -8C114.3 -5 115.2 -8.7 117.9 -10.9C120.6 -13.1 117.4 -11.1 122.2 -14.5C127 -17.9 126.1 -15.9 132.4 -21C138.7 -26.1 135.8 -23 141.1 -29.8C146.4 -36.6 144.3 -34.1 148.4 -41.4C152.5 -48.7 151.3 -45.8 153.5 -51.6C155.7 -57.4 156.2 -53.4 155 -58.9C153.8 -64.4 153.5 -63.5 150 -68C146.5 -72.5 147.5 -71.2 144.5 -72.5C141.5 -73.8 144.5 -77.2 141 -72C137.5 -66.8 138.3 -65.7 134 -57C129.7 -48.3 132 -53.7 128 -46C124 -38.3 125.7 -42.7 122 -34C118.3 -25.3 119.7 -28.7 117 -20C114.3 -11.3 113.7 -11 114 -8Z" fill="rgb(190,240,110)" stroke="rgb(40,80,110)" stroke-opacity="0.55" stroke-width="0.35"/>
<path d="M165.4 -70.2 L164 -50 L157.8 -50 L162 -61Z" fill="rgb(190,240,110)" stroke="rgb(40,80,110)" stroke-opacity="0.55" stroke-width="0.35"/>
<path d="M121.8 -20.5C122.5 -19.8 121.4 -18.6 124.8 -22.8C128.2 -27 127.5 -25.6 131.9 -33C136.3 -40.4 134.6 -37.7 138 -45.1C141.4 -52.5 140.1 -48.8 142.1 -55.2C144.1 -61.6 143.8 -59.7 144.1 -64.4C144.4 -69.1 144.1 -68.4 143.1 -69.4C142.1 -70.4 143.1 -71.4 141.1 -67.4C139.1 -63.4 139.7 -64.4 137 -57.3C134.3 -50.2 136 -53.5 133 -46.1C130 -38.7 131.3 -42.1 127.9 -35C124.5 -27.9 124.8 -29.7 122.8 -24.9C120.8 -20.1 121.1 -21.2 121.8 -20.5Z" fill="rgb(240,245,120)" stroke="rgb(40,80,110)" stroke-opacity="0.55" stroke-width="0.35"/>
<path d="M84.1 66.8C85.1 64.7 86.3 65.8 91 66.5C95.7 67.2 93.8 65.3 98.3 68.8C102.8 72.3 104.4 72.8 104.4 76.9C104.4 81 103.7 82.3 98.3 81C92.9 79.7 92.8 77.6 88.1 72.9C83.4 68.2 83.1 68.9 84.1 66.8Z" fill="rgb(122,246,212)" stroke="rgb(40,80,110)" stroke-opacity="0.55" stroke-width="0.35"/>
<path d="M63.7 43.9C63.3 45.3 62.6 44.9 62.5 48C62.4 51.2 62.1 49.6 63.5 53.4C64.9 57.2 63.8 55.8 66.6 59.5C69.5 63.3 67.8 62 72 64.6C76.2 67.2 73.9 66.4 79.3 67.4C84.7 68.4 82.5 68.6 88.1 67.7C93.8 66.8 93.5 65.7 96.1 64.7L95.9 63.7C93.2 64.3 93.2 65.1 87.9 65.5C82.5 65.9 84.6 66 79.7 65C74.9 64 77 64.9 73.2 62.6C69.5 60.3 71.1 61.4 68.6 58.1C66.1 54.7 67 56 65.7 52.6C64.4 49.2 65 50.8 64.7 48C64.4 45.1 64.7 45.4 64.7 44.1Z" fill="rgb(112,240,132)" stroke="rgb(40,80,110)" stroke-opacity="0.55" stroke-width="0.35"/>
</g>
<g transform="translate(0 83)">
<path d="M66.8 33.6C67.9 32.4 67.5 32.4 70 30C72.5 27.6 71.1 29 74.3 26.5C77.5 24 75.9 25.2 79.5 22.5C83.1 19.8 81.3 21.1 85 18.5C88.7 15.9 85.5 19.4 90.5 14.8C95.5 10.2 94.7 10.7 100 4.7C105.3 -1.3 102.7 1.8 106.5 -3.2C110.3 -8.2 108.7 -5.1 111.5 -10.2C114.3 -15.3 112.8 -13.1 115 -18.5C117.2 -23.9 116 -21.7 118 -26.5C120 -31.3 118.7 -28.4 121.1 -32.9C123.5 -37.4 122.7 -35.1 125.2 -39.9C127.7 -44.7 126.4 -42.5 128.5 -47.2C130.6 -51.9 129.6 -49.5 131.4 -53.9C133.2 -58.3 131.8 -55.1 134 -60.5C136.2 -65.9 135.5 -64.3 138 -70C140.5 -75.7 138.8 -71.5 141.5 -77.5C144.2 -83.5 143.2 -81.8 146 -88C148.8 -94.2 147.7 -91.1 150 -96C152.3 -100.9 150.7 -97.4 153 -102.6C155.3 -107.8 154.3 -105.6 157 -111.5C159.7 -117.4 158.3 -114.7 161 -120.4C163.7 -126.1 162.5 -123.6 165 -128.5C167.5 -133.4 165.5 -128.8 168.5 -135C171.5 -141.2 170.3 -139.2 174 -147C177.7 -154.8 177.7 -154.7 179.5 -158.5L179.5 -75.5C177.7 -71.7 177.7 -71.8 174 -64C170.3 -56.2 171.5 -58.2 168.5 -52C165.5 -45.8 167.5 -50.4 165 -45.5C162.5 -40.6 163.7 -43.1 161 -37.4C158.3 -31.7 159.7 -34.4 157 -28.5C154.3 -22.6 155.3 -24.8 153 -19.6C150.7 -14.4 152.3 -17.9 150 -13C147.7 -8.1 148.8 -11.2 146 -5C143.2 1.2 144.2 -0.5 141.5 5.5C138.8 11.5 140.5 7.3 138 13C135.5 18.7 136.2 17.1 134 22.5C131.8 27.9 133.2 24.7 131.4 29.1C129.6 33.5 130.6 31.1 128.5 35.8C126.4 40.5 127.7 38.3 125.2 43.1C122.7 47.9 123.5 45.6 121.1 50.1C118.7 54.6 120 51.7 118 56.5C116 61.3 117.2 59.1 115 64.5C112.8 69.9 114.3 67.7 111.5 72.8C108.7 77.9 110.3 74.8 106.5 79.8C102.7 84.8 105.3 81.7 100 87.7C94.7 93.7 95.5 93.2 90.5 97.8C85.5 102.4 88.7 98.9 85 101.5C81.3 104.1 83.1 102.8 79.5 105.5C75.9 108.2 77.5 107 74.3 109.5C71.1 112 72.5 110.6 70 113C67.5 115.4 67.9 115.4 66.8 116.6L69 114C71 111.8 71 111.5 75 107.3C79 103.1 77.4 106 81.1 101.3C84.8 96.6 84.8 98.2 86.1 93.1C87.4 88 87.8 90.1 85.1 86.1C82.4 82.1 84.4 84.7 78 81C71.6 77.3 73 80.3 65.9 74.9C58.8 69.5 60.4 72.2 56.7 64.8C53 57.4 54.3 60 54.7 52.6C55.1 45.2 56.2 46.9 57.8 42.5C59.4 38.1 57.8 41.5 59.5 39.5C61.2 37.5 61.8 37.5 63 36.5Z" fill="rgb(132,240,250)"/>
<path d="M146 -85.5C146.6 -84.4 145.8 -87 149.7 -86.8C153.6 -86.6 151.7 -84.5 157.8 -84.8C163.9 -85.1 162.5 -84.1 167.9 -87.8C173.3 -91.5 170 -88.5 174 -95.9C178 -103.3 176.3 -100.6 180 -110.1C183.7 -119.6 181.8 -114.3 185.1 -124.3C188.4 -134.3 187.7 -131.4 190 -140C192.3 -148.6 196.7 -146.7 192 -150C187.3 -153.3 183.6 -154 176 -150C168.4 -146 175 -150 169.2 -138C163.4 -126 165.6 -130 158.5 -114C151.4 -98 152 -99.5 147.8 -90C143.6 -80.5 145.4 -86.6 146 -85.5Z" fill="rgb(122,246,212)"/>
<path d="M78 -3C86 -6.3 95 -8.3 104 -8C113 -7.7 106.3 -6.2 105 -2C103.7 2.2 104.8 -0.9 100 4.7C95.2 10.3 95.5 10.2 90.5 14.8C85.5 19.4 88.5 16.4 85 18.5C81.5 20.6 81.2 21.8 80 21C78.8 20.2 80 20 81.5 16C83 12 85 13.7 84.5 9C84 4.3 82.2 6 80 2C77.8 -2 70 0.3 78 -3Z" fill="rgb(132,240,250)" stroke="rgb(40,80,110)" stroke-opacity="0.55" stroke-width="0.35"/>
<path d="M70.5 36.5C72.2 32.8 72.7 33.8 77 30C81.3 26.2 78.3 28.1 83.5 25C88.7 21.9 86.1 24 92.5 20.8C98.9 17.6 95.8 18.6 102.6 15.5C109.4 12.4 106.4 13.9 112.8 11.4C119.2 8.9 117.4 8.8 121.9 8.1C126.4 7.4 124.2 8.1 126.4 9.4C128.6 10.7 128.7 10.3 128.5 12C128.3 13.7 129.5 11 125.9 14.6C122.3 18.2 123.9 17.3 117.8 22.7C111.7 28.1 114.2 26.2 107.6 30.8C101 35.4 104.5 33.4 98 36.5C91.5 39.6 94.7 38.5 88 40C81.3 41.5 83.3 40.7 78 41C72.7 41.3 74.5 42.5 72 41C69.5 39.5 68.8 40.2 70.5 36.5Z" fill="rgb(127,203,250)" stroke="rgb(40,80,110)" stroke-opacity="0.55" stroke-width="0.35"/>
<path d="M106.5 24C108.2 20.4 108 21.4 112 17.5C116 13.6 114.5 15 118.5 12.4C122.5 9.8 121 10.2 124 9.6C127 9 126.1 9.5 127.4 10.5C128.7 11.5 128.5 11.2 128 12.6C127.5 14 129.3 11.4 125.9 14.8C122.5 18.2 122.8 18.4 117.8 22.9C112.8 27.4 114.6 26.5 111 28.3C107.4 30.1 108.5 29.8 107 28.4C105.5 27 104.8 27.6 106.5 24Z" fill="rgb(131,186,249)" stroke="rgb(40,80,110)" stroke-opacity="0.55" stroke-width="0.35"/>
<ellipse cx="56.7" cy="26.3" rx="16.5" ry="13.6" transform="rotate(-8 56.7 26.3)" fill="rgb(134,160,248)" stroke="rgb(40,80,110)" stroke-opacity="0.55" stroke-width="0.35"/>
<path d="M69.2 41.5C69.9 40 70.4 39.6 75 37C79.6 34.4 77.6 35.5 82.9 33.6C88.2 31.7 85.9 32.3 91 31.3C96.1 30.3 93.8 30.8 98.1 30.6C102.4 30.4 100.5 30.8 104 30.8C107.5 30.8 108.8 29.6 108.5 30.6C108.2 31.6 106.6 31.7 103.1 33.7C99.6 35.7 101.5 35 98.1 36.7C94.7 38.4 96.4 37.7 93 38.9C89.6 40.1 91.4 39.6 88 40.4C84.6 41.2 86.3 41 82.9 41.4C79.5 41.8 81.2 41.6 77.8 41.6C74.4 41.6 75.7 41.4 72.8 41.4C69.9 41.4 68.5 43 69.2 41.5Z" fill="rgb(134,160,248)" stroke="rgb(40,80,110)" stroke-opacity="0.55" stroke-width="0.35"/>
<path d="M92.3 17C93.5 17.3 95.8 15 102.6 8.9C109.4 2.8 106 4.8 112.8 -1.3C119.6 -7.4 116.2 -5.5 122.9 -9.4C129.6 -13.3 127.3 -11.2 133 -12.9C138.7 -14.6 136.1 -12.5 140.1 -14.4C144.1 -16.3 141.7 -13.3 145 -18.5C148.3 -23.7 146 -21.2 150 -30C154 -38.8 152.7 -35.7 157 -45C161.3 -54.3 159 -49.3 163 -58C167 -66.7 166.3 -65.3 169 -71C171.7 -76.7 171.3 -75.3 171 -75C170.7 -74.7 170.7 -74.7 168 -70C165.3 -65.3 167 -66.3 163 -61C159 -55.7 161 -61.2 155.9 -54C150.8 -46.8 154.8 -48.8 147.8 -39.5C140.8 -30.2 143.3 -33.5 135 -26C126.7 -18.5 130.5 -22.7 122.8 -17C115.1 -11.3 117.6 -14.3 112 -9C106.4 -3.7 110.3 -6.7 106 -1C101.7 4.7 103.6 2 99 8C94.4 14 91.1 16.7 92.3 17Z" fill="rgb(122,246,212)" stroke="rgb(40,80,110)" stroke-opacity="0.55" stroke-width="0.35"/>
<path d="M114.5 -8.8C116.4 -11.3 116.7 -13.2 119 -18.5C121.3 -23.8 121 -23.5 123.3 -28.7C125.6 -33.9 125.1 -33.5 127.7 -38C130.3 -42.5 130.1 -39.9 133 -45.5C135.9 -51.1 135.2 -51.3 138.6 -59C142 -66.7 143.8 -67.4 145.8 -74.5C147.8 -81.6 145 -82.2 146 -85.5C147 -88.8 146.6 -87 149.7 -86.8C152.8 -86.6 152.9 -84.5 157.8 -84.8C162.7 -85.1 163.6 -84.8 167.9 -87.8C172.2 -90.8 170.8 -90 174 -95.9C177.2 -101.8 177 -102.5 180 -110.1C183 -117.7 183.6 -121 185.1 -124.3C186.6 -127.6 186 -128.8 185.5 -122.3C185 -115.8 184.8 -110.3 183.1 -100C181.4 -89.7 181.4 -91.4 179 -83.8C176.6 -76.2 176.4 -76.5 174 -71.6C171.6 -66.7 173.2 -70.3 170 -65.5C166.8 -60.7 166.3 -59.5 162 -53.5C157.7 -47.5 157.8 -46.7 154 -43C150.2 -39.3 152.9 -44 147.8 -39.5C142.7 -35 141.7 -32 135 -26C128.3 -20 128.9 -21.5 122.8 -17C116.7 -12.5 114.2 -11.2 112 -9C109.8 -6.8 112.6 -6.3 114.5 -8.8Z" fill="rgb(112,240,132)" stroke="rgb(40,80,110)" stroke-opacity="0.55" stroke-width="0.35"/>
<path d="M114 -8C114.3 -5 115.2 -8.7 117.9 -10.9C120.6 -13.1 117.4 -11.1 122.2 -14.5C127 -17.9 126.1 -15.9 132.4 -21C138.7 -26.1 135.8 -23 141.1 -29.8C146.4 -36.6 144.3 -34.1 148.4 -41.4C152.5 -48.7 151.3 -45.8 153.5 -51.6C155.7 -57.4 156.2 -53.4 155 -58.9C153.8 -64.4 153.5 -63.5 150 -68C146.5 -72.5 147.5 -71.2 144.5 -72.5C141.5 -73.8 144.5 -77.2 141 -72C137.5 -66.8 138.3 -65.7 134 -57C129.7 -48.3 132 -53.7 128 -46C124 -38.3 125.7 -42.7 122 -34C118.3 -25.3 119.7 -28.7 117 -20C114.3 -11.3 113.7 -11 114 -8Z" fill="rgb(190,240,110)" stroke="rgb(40,80,110)" stroke-opacity="0.55" stroke-width="0.35"/>
<path d="M165.4 -70.2 L164 -50 L157.8 -50 L162 -61Z" fill="rgb(190,240,110)" stroke="rgb(40,80,110)" stroke-opacity="0.55" stroke-width="0.35"/>
<path d="M121.8 -20.5C122.5 -19.8 121.4 -18.6 124.8 -22.8C128.2 -27 127.5 -25.6 131.9 -33C136.3 -40.4 134.6 -37.7 138 -45.1C141.4 -52.5 140.1 -48.8 142.1 -55.2C144.1 -61.6 143.8 -59.7 144.1 -64.4C144.4 -69.1 144.1 -68.4 143.1 -69.4C142.1 -70.4 143.1 -71.4 141.1 -67.4C139.1 -63.4 139.7 -64.4 137 -57.3C134.3 -50.2 136 -53.5 133 -46.1C130 -38.7 131.3 -42.1 127.9 -35C124.5 -27.9 124.8 -29.7 122.8 -24.9C120.8 -20.1 121.1 -21.2 121.8 -20.5Z" fill="rgb(240,245,120)" stroke="rgb(40,80,110)" stroke-opacity="0.55" stroke-width="0.35"/>
<path d="M84.1 66.8C85.1 64.7 86.3 65.8 91 66.5C95.7 67.2 93.8 65.3 98.3 68.8C102.8 72.3 104.4 72.8 104.4 76.9C104.4 81 103.7 82.3 98.3 81C92.9 79.7 92.8 77.6 88.1 72.9C83.4 68.2 83.1 68.9 84.1 66.8Z" fill="rgb(122,246,212)" stroke="rgb(40,80,110)" stroke-opacity="0.55" stroke-width="0.35"/>
<path d="M63.7 43.9C63.3 45.3 62.6 44.9 62.5 48C62.4 51.2 62.1 49.6 63.5 53.4C64.9 57.2 63.8 55.8 66.6 59.5C69.5 63.3 67.8 62 72 64.6C76.2 67.2 73.9 66.4 79.3 67.4C84.7 68.4 82.5 68.6 88.1 67.7C93.8 66.8 93.5 65.7 96.1 64.7L95.9 63.7C93.2 64.3 93.2 65.1 87.9 65.5C82.5 65.9 84.6 66 79.7 65C74.9 64 77 64.9 73.2 62.6C69.5 60.3 71.1 61.4 68.6 58.1C66.1 54.7 67 56 65.7 52.6C64.4 49.2 65 50.8 64.7 48C64.4 45.1 64.7 45.4 64.7 44.1Z" fill="rgb(112,240,132)" stroke="rgb(40,80,110)" stroke-opacity="0.55" stroke-width="0.35"/>
</g>
<g transform="translate(0 166)">
<path d="M66.8 33.6C67.9 32.4 67.5 32.4 70 30C72.5 27.6 71.1 29 74.3 26.5C77.5 24 75.9 25.2 79.5 22.5C83.1 19.8 81.3 21.1 85 18.5C88.7 15.9 85.5 19.4 90.5 14.8C95.5 10.2 94.7 10.7 100 4.7C105.3 -1.3 102.7 1.8 106.5 -3.2C110.3 -8.2 108.7 -5.1 111.5 -10.2C114.3 -15.3 112.8 -13.1 115 -18.5C117.2 -23.9 116 -21.7 118 -26.5C120 -31.3 118.7 -28.4 121.1 -32.9C123.5 -37.4 122.7 -35.1 125.2 -39.9C127.7 -44.7 126.4 -42.5 128.5 -47.2C130.6 -51.9 129.6 -49.5 131.4 -53.9C133.2 -58.3 131.8 -55.1 134 -60.5C136.2 -65.9 135.5 -64.3 138 -70C140.5 -75.7 138.8 -71.5 141.5 -77.5C144.2 -83.5 143.2 -81.8 146 -88C148.8 -94.2 147.7 -91.1 150 -96C152.3 -100.9 150.7 -97.4 153 -102.6C155.3 -107.8 154.3 -105.6 157 -111.5C159.7 -117.4 158.3 -114.7 161 -120.4C163.7 -126.1 162.5 -123.6 165 -128.5C167.5 -133.4 165.5 -128.8 168.5 -135C171.5 -141.2 170.3 -139.2 174 -147C177.7 -154.8 177.7 -154.7 179.5 -158.5L179.5 -75.5C177.7 -71.7 177.7 -71.8 174 -64C170.3 -56.2 171.5 -58.2 168.5 -52C165.5 -45.8 167.5 -50.4 165 -45.5C162.5 -40.6 163.7 -43.1 161 -37.4C158.3 -31.7 159.7 -34.4 157 -28.5C154.3 -22.6 155.3 -24.8 153 -19.6C150.7 -14.4 152.3 -17.9 150 -13C147.7 -8.1 148.8 -11.2 146 -5C143.2 1.2 144.2 -0.5 141.5 5.5C138.8 11.5 140.5 7.3 138 13C135.5 18.7 136.2 17.1 134 22.5C131.8 27.9 133.2 24.7 131.4 29.1C129.6 33.5 130.6 31.1 128.5 35.8C126.4 40.5 127.7 38.3 125.2 43.1C122.7 47.9 123.5 45.6 121.1 50.1C118.7 54.6 120 51.7 118 56.5C116 61.3 117.2 59.1 115 64.5C112.8 69.9 114.3 67.7 111.5 72.8C108.7 77.9 110.3 74.8 106.5 79.8C102.7 84.8 105.3 81.7 100 87.7C94.7 93.7 95.5 93.2 90.5 97.8C85.5 102.4 88.7 98.9 85 101.5C81.3 104.1 83.1 102.8 79.5 105.5C75.9 108.2 77.5 107 74.3 109.5C71.1 112 72.5 110.6 70 113C67.5 115.4 67.9 115.4 66.8 116.6L69 114C71 111.8 71 111.5 75 107.3C79 103.1 77.4 106 81.1 101.3C84.8 96.6 84.8 98.2 86.1 93.1C87.4 88 87.8 90.1 85.1 86.1C82.4 82.1 84.4 84.7 78 81C71.6 77.3 73 80.3 65.9 74.9C58.8 69.5 60.4 72.2 56.7 64.8C53 57.4 54.3 60 54.7 52.6C55.1 45.2 56.2 46.9 57.8 42.5C59.4 38.1 57.8 41.5 59.5 39.5C61.2 37.5 61.8 37.5 63 36.5Z" fill="rgb(132,240,250)"/>
<path d="M146 -85.5C146.6 -84.4 145.8 -87 149.7 -86.8C153.6 -86.6 151.7 -84.5 157.8 -84.8C163.9 -85.1 162.5 -84.1 167.9 -87.8C173.3 -91.5 170 -88.5 174 -95.9C178 -103.3 176.3 -100.6 180 -110.1C183.7 -119.6 181.8 -114.3 185.1 -124.3C188.4 -134.3 187.7 -131.4 190 -140C192.3 -148.6 196.7 -146.7 192 -150C187.3 -153.3 183.6 -154 176 -150C168.4 -146 175 -150 169.2 -138C163.4 -126 165.6 -130 158.5 -114C151.4 -98 152 -99.5 147.8 -90C143.6 -80.5 145.4 -86.6 146 -85.5Z" fill="rgb(122,246,212)"/>
<path d="M78 -3C86 -6.3 95 -8.3 104 -8C113 -7.7 106.3 -6.2 105 -2C103.7 2.2 104.8 -0.9 100 4.7C95.2 10.3 95.5 10.2 90.5 14.8C85.5 19.4 88.5 16.4 85 18.5C81.5 20.6 81.2 21.8 80 21C78.8 20.2 80 20 81.5 16C83 12 85 13.7 84.5 9C84 4.3 82.2 6 80 2C77.8 -2 70 0.3 78 -3Z" fill="rgb(132,240,250)" stroke="rgb(40,80,110)" stroke-opacity="0.55" stroke-width="0.35"/>
<path d="M70.5 36.5C72.2 32.8 72.7 33.8 77 30C81.3 26.2 78.3 28.1 83.5 25C88.7 21.9 86.1 24 92.5 20.8C98.9 17.6 95.8 18.6 102.6 15.5C109.4 12.4 106.4 13.9 112.8 11.4C119.2 8.9 117.4 8.8 121.9 8.1C126.4 7.4 124.2 8.1 126.4 9.4C128.6 10.7 128.7 10.3 128.5 12C128.3 13.7 129.5 11 125.9 14.6C122.3 18.2 123.9 17.3 117.8 22.7C111.7 28.1 114.2 26.2 107.6 30.8C101 35.4 104.5 33.4 98 36.5C91.5 39.6 94.7 38.5 88 40C81.3 41.5 83.3 40.7 78 41C72.7 41.3 74.5 42.5 72 41C69.5 39.5 68.8 40.2 70.5 36.5Z" fill="rgb(127,203,250)" stroke="rgb(40,80,110)" stroke-opacity="0.55" stroke-width="0.35"/>
<path d="M106.5 24C108.2 20.4 108 21.4 112 17.5C116 13.6 114.5 15 118.5 12.4C122.5 9.8 121 10.2 124 9.6C127 9 126.1 9.5 127.4 10.5C128.7 11.5 128.5 11.2 128 12.6C127.5 14 129.3 11.4 125.9 14.8C122.5 18.2 122.8 18.4 117.8 22.9C112.8 27.4 114.6 26.5 111 28.3C107.4 30.1 108.5 29.8 107 28.4C105.5 27 104.8 27.6 106.5 24Z" fill="rgb(131,186,249)" stroke="rgb(40,80,110)" stroke-opacity="0.55" stroke-width="0.35"/>
<ellipse cx="56.7" cy="26.3" rx="16.5" ry="13.6" transform="rotate(-8 56.7 26.3)" fill="rgb(134,160,248)" stroke="rgb(40,80,110)" stroke-opacity="0.55" stroke-width="0.35"/>
<path d="M69.2 41.5C69.9 40 70.4 39.6 75 37C79.6 34.4 77.6 35.5 82.9 33.6C88.2 31.7 85.9 32.3 91 31.3C96.1 30.3 93.8 30.8 98.1 30.6C102.4 30.4 100.5 30.8 104 30.8C107.5 30.8 108.8 29.6 108.5 30.6C108.2 31.6 106.6 31.7 103.1 33.7C99.6 35.7 101.5 35 98.1 36.7C94.7 38.4 96.4 37.7 93 38.9C89.6 40.1 91.4 39.6 88 40.4C84.6 41.2 86.3 41 82.9 41.4C79.5 41.8 81.2 41.6 77.8 41.6C74.4 41.6 75.7 41.4 72.8 41.4C69.9 41.4 68.5 43 69.2 41.5Z" fill="rgb(134,160,248)" stroke="rgb(40,80,110)" stroke-opacity="0.55" stroke-width="0.35"/>
<path d="M92.3 17C93.5 17.3 95.8 15 102.6 8.9C109.4 2.8 106 4.8 112.8 -1.3C119.6 -7.4 116.2 -5.5 122.9 -9.4C129.6 -13.3 127.3 -11.2 133 -12.9C138.7 -14.6 136.1 -12.5 140.1 -14.4C144.1 -16.3 141.7 -13.3 145 -18.5C148.3 -23.7 146 -21.2 150 -30C154 -38.8 152.7 -35.7 157 -45C161.3 -54.3 159 -49.3 163 -58C167 -66.7 166.3 -65.3 169 -71C171.7 -76.7 171.3 -75.3 171 -75C170.7 -74.7 170.7 -74.7 168 -70C165.3 -65.3 167 -66.3 163 -61C159 -55.7 161 -61.2 155.9 -54C150.8 -46.8 154.8 -48.8 147.8 -39.5C140.8 -30.2 143.3 -33.5 135 -26C126.7 -18.5 130.5 -22.7 122.8 -17C115.1 -11.3 117.6 -14.3 112 -9C106.4 -3.7 110.3 -6.7 106 -1C101.7 4.7 103.6 2 99 8C94.4 14 91.1 16.7 92.3 17Z" fill="rgb(122,246,212)" stroke="rgb(40,80,110)" stroke-opacity="0.55" stroke-width="0.35"/>
<path d="M114.5 -8.8C116.4 -11.3 116.7 -13.2 119 -18.5C121.3 -23.8 121 -23.5 123.3 -28.7C125.6 -33.9 125.1 -33.5 127.7 -38C130.3 -42.5 130.1 -39.9 133 -45.5C135.9 -51.1 135.2 -51.3 138.6 -59C142 -66.7 143.8 -67.4 145.8 -74.5C147.8 -81.6 145 -82.2 146 -85.5C147 -88.8 146.6 -87 149.7 -86.8C152.8 -86.6 152.9 -84.5 157.8 -84.8C162.7 -85.1 163.6 -84.8 167.9 -87.8C172.2 -90.8 170.8 -90 174 -95.9C177.2 -101.8 177 -102.5 180 -110.1C183 -117.7 183.6 -121 185.1 -124.3C186.6 -127.6 186 -128.8 185.5 -122.3C185 -115.8 184.8 -110.3 183.1 -100C181.4 -89.7 181.4 -91.4 179 -83.8C176.6 -76.2 176.4 -76.5 174 -71.6C171.6 -66.7 173.2 -70.3 170 -65.5C166.8 -60.7 166.3 -59.5 162 -53.5C157.7 -47.5 157.8 -46.7 154 -43C150.2 -39.3 152.9 -44 147.8 -39.5C142.7 -35 141.7 -32 135 -26C128.3 -20 128.9 -21.5 122.8 -17C116.7 -12.5 114.2 -11.2 112 -9C109.8 -6.8 112.6 -6.3 114.5 -8.8Z" fill="rgb(112,240,132)" stroke="rgb(40,80,110)" stroke-opacity="0.55" stroke-width="0.35"/>
<path d="M114 -8C114.3 -5 115.2 -8.7 117.9 -10.9C120.6 -13.1 117.4 -11.1 122.2 -14.5C127 -17.9 126.1 -15.9 132.4 -21C138.7 -26.1 135.8 -23 141.1 -29.8C146.4 -36.6 144.3 -34.1 148.4 -41.4C152.5 -48.7 151.3 -45.8 153.5 -51.6C155.7 -57.4 156.2 -53.4 155 -58.9C153.8 -64.4 153.5 -63.5 150 -68C146.5 -72.5 147.5 -71.2 144.5 -72.5C141.5 -73.8 144.5 -77.2 141 -72C137.5 -66.8 138.3 -65.7 134 -57C129.7 -48.3 132 -53.7 128 -46C124 -38.3 125.7 -42.7 122 -34C118.3 -25.3 119.7 -28.7 117 -20C114.3 -11.3 113.7 -11 114 -8Z" fill="rgb(190,240,110)" stroke="rgb(40,80,110)" stroke-opacity="0.55" stroke-width="0.35"/>
<path d="M165.4 -70.2 L164 -50 L157.8 -50 L162 -61Z" fill="rgb(190,240,110)" stroke="rgb(40,80,110)" stroke-opacity="0.55" stroke-width="0.35"/>
<path d="M121.8 -20.5C122.5 -19.8 121.4 -18.6 124.8 -22.8C128.2 -27 127.5 -25.6 131.9 -33C136.3 -40.4 134.6 -37.7 138 -45.1C141.4 -52.5 140.1 -48.8 142.1 -55.2C144.1 -61.6 143.8 -59.7 144.1 -64.4C144.4 -69.1 144.1 -68.4 143.1 -69.4C142.1 -70.4 143.1 -71.4 141.1 -67.4C139.1 -63.4 139.7 -64.4 137 -57.3C134.3 -50.2 136 -53.5 133 -46.1C130 -38.7 131.3 -42.1 127.9 -35C124.5 -27.9 124.8 -29.7 122.8 -24.9C120.8 -20.1 121.1 -21.2 121.8 -20.5Z" fill="rgb(240,245,120)" stroke="rgb(40,80,110)" stroke-opacity="0.55" stroke-width="0.35"/>
<path d="M84.1 66.8C85.1 64.7 86.3 65.8 91 66.5C95.7 67.2 93.8 65.3 98.3 68.8C102.8 72.3 104.4 72.8 104.4 76.9C104.4 81 103.7 82.3 98.3 81C92.9 79.7 92.8 77.6 88.1 72.9C83.4 68.2 83.1 68.9 84.1 66.8Z" fill="rgb(122,246,212)" stroke="rgb(40,80,110)" stroke-opacity="0.55" stroke-width="0.35"/>
<path d="M63.7 43.9C63.3 45.3 62.6 44.9 62.5 48C62.4 51.2 62.1 49.6 63.5 53.4C64.9 57.2 63.8 55.8 66.6 59.5C69.5 63.3 67.8 62 72 64.6C76.2 67.2 73.9 66.4 79.3 67.4C84.7 68.4 82.5 68.6 88.1 67.7C93.8 66.8 93.5 65.7 96.1 64.7L95.9 63.7C93.2 64.3 93.2 65.1 87.9 65.5C82.5 65.9 84.6 66 79.7 65C74.9 64 77 64.9 73.2 62.6C69.5 60.3 71.1 61.4 68.6 58.1C66.1 54.7 67 56 65.7 52.6C64.4 49.2 65 50.8 64.7 48C64.4 45.1 64.7 45.4 64.7 44.1Z" fill="rgb(112,240,132)" stroke="rgb(40,80,110)" stroke-opacity="0.55" stroke-width="0.35"/>
</g>
<g transform="translate(0 249)">
<path d="M66.8 33.6C67.9 32.4 67.5 32.4 70 30C72.5 27.6 71.1 29 74.3 26.5C77.5 24 75.9 25.2 79.5 22.5C83.1 19.8 81.3 21.1 85 18.5C88.7 15.9 85.5 19.4 90.5 14.8C95.5 10.2 94.7 10.7 100 4.7C105.3 -1.3 102.7 1.8 106.5 -3.2C110.3 -8.2 108.7 -5.1 111.5 -10.2C114.3 -15.3 112.8 -13.1 115 -18.5C117.2 -23.9 116 -21.7 118 -26.5C120 -31.3 118.7 -28.4 121.1 -32.9C123.5 -37.4 122.7 -35.1 125.2 -39.9C127.7 -44.7 126.4 -42.5 128.5 -47.2C130.6 -51.9 129.6 -49.5 131.4 -53.9C133.2 -58.3 131.8 -55.1 134 -60.5C136.2 -65.9 135.5 -64.3 138 -70C140.5 -75.7 138.8 -71.5 141.5 -77.5C144.2 -83.5 143.2 -81.8 146 -88C148.8 -94.2 147.7 -91.1 150 -96C152.3 -100.9 150.7 -97.4 153 -102.6C155.3 -107.8 154.3 -105.6 157 -111.5C159.7 -117.4 158.3 -114.7 161 -120.4C163.7 -126.1 162.5 -123.6 165 -128.5C167.5 -133.4 165.5 -128.8 168.5 -135C171.5 -141.2 170.3 -139.2 174 -147C177.7 -154.8 177.7 -154.7 179.5 -158.5L179.5 -75.5C177.7 -71.7 177.7 -71.8 174 -64C170.3 -56.2 171.5 -58.2 168.5 -52C165.5 -45.8 167.5 -50.4 165 -45.5C162.5 -40.6 163.7 -43.1 161 -37.4C158.3 -31.7 159.7 -34.4 157 -28.5C154.3 -22.6 155.3 -24.8 153 -19.6C150.7 -14.4 152.3 -17.9 150 -13C147.7 -8.1 148.8 -11.2 146 -5C143.2 1.2 144.2 -0.5 141.5 5.5C138.8 11.5 140.5 7.3 138 13C135.5 18.7 136.2 17.1 134 22.5C131.8 27.9 133.2 24.7 131.4 29.1C129.6 33.5 130.6 31.1 128.5 35.8C126.4 40.5 127.7 38.3 125.2 43.1C122.7 47.9 123.5 45.6 121.1 50.1C118.7 54.6 120 51.7 118 56.5C116 61.3 117.2 59.1 115 64.5C112.8 69.9 114.3 67.7 111.5 72.8C108.7 77.9 110.3 74.8 106.5 79.8C102.7 84.8 105.3 81.7 100 87.7C94.7 93.7 95.5 93.2 90.5 97.8C85.5 102.4 88.7 98.9 85 101.5C81.3 104.1 83.1 102.8 79.5 105.5C75.9 108.2 77.5 107 74.3 109.5C71.1 112 72.5 110.6 70 113C67.5 115.4 67.9 115.4 66.8 116.6L69 114C71 111.8 71 111.5 75 107.3C79 103.1 77.4 106 81.1 101.3C84.8 96.6 84.8 98.2 86.1 93.1C87.4 88 87.8 90.1 85.1 86.1C82.4 82.1 84.4 84.7 78 81C71.6 77.3 73 80.3 65.9 74.9C58.8 69.5 60.4 72.2 56.7 64.8C53 57.4 54.3 60 54.7 52.6C55.1 45.2 56.2 46.9 57.8 42.5C59.4 38.1 57.8 41.5 59.5 39.5C61.2 37.5 61.8 37.5 63 36.5Z" fill="rgb(132,240,250)"/>
<path d="M146 -85.5C146.6 -84.4 145.8 -87 149.7 -86.8C153.6 -86.6 151.7 -84.5 157.8 -84.8C163.9 -85.1 162.5 -84.1 167.9 -87.8C173.3 -91.5 170 -88.5 174 -95.9C178 -103.3 176.3 -100.6 180 -110.1C183.7 -119.6 181.8 -114.3 185.1 -124.3C188.4 -134.3 187.7 -131.4 190 -140C192.3 -148.6 196.7 -146.7 192 -150C187.3 -153.3 183.6 -154 176 -150C168.4 -146 175 -150 169.2 -138C163.4 -126 165.6 -130 158.5 -114C151.4 -98 152 -99.5 147.8 -90C143.6 -80.5 145.4 -86.6 146 -85.5Z" fill="rgb(122,246,212)"/>
<path d="M78 -3C86 -6.3 95 -8.3 104 -8C113 -7.7 106.3 -6.2 105 -2C103.7 2.2 104.8 -0.9 100 4.7C95.2 10.3 95.5 10.2 90.5 14.8C85.5 19.4 88.5 16.4 85 18.5C81.5 20.6 81.2 21.8 80 21C78.8 20.2 80 20 81.5 16C83 12 85 13.7 84.5 9C84 4.3 82.2 6 80 2C77.8 -2 70 0.3 78 -3Z" fill="rgb(132,240,250)" stroke="rgb(40,80,110)" stroke-opacity="0.55" stroke-width="0.35"/>
<path d="M70.5 36.5C72.2 32.8 72.7 33.8 77 30C81.3 26.2 78.3 28.1 83.5 25C88.7 21.9 86.1 24 92.5 20.8C98.9 17.6 95.8 18.6 102.6 15.5C109.4 12.4 106.4 13.9 112.8 11.4C119.2 8.9 117.4 8.8 121.9 8.1C126.4 7.4 124.2 8.1 126.4 9.4C128.6 10.7 128.7 10.3 128.5 12C128.3 13.7 129.5 11 125.9 14.6C122.3 18.2 123.9 17.3 117.8 22.7C111.7 28.1 114.2 26.2 107.6 30.8C101 35.4 104.5 33.4 98 36.5C91.5 39.6 94.7 38.5 88 40C81.3 41.5 83.3 40.7 78 41C72.7 41.3 74.5 42.5 72 41C69.5 39.5 68.8 40.2 70.5 36.5Z" fill="rgb(127,203,250)" stroke="rgb(40,80,110)" stroke-opacity="0.55" stroke-width="0.35"/>
<path d="M106.5 24C108.2 20.4 108 21.4 112 17.5C116 13.6 114.5 15 118.5 12.4C122.5 9.8 121 10.2 124 9.6C127 9 126.1 9.5 127.4 10.5C128.7 11.5 128.5 11.2 128 12.6C127.5 14 129.3 11.4 125.9 14.8C122.5 18.2 122.8 18.4 117.8 22.9C112.8 27.4 114.6 26.5 111 28.3C107.4 30.1 108.5 29.8 107 28.4C105.5 27 104.8 27.6 106.5 24Z" fill="rgb(131,186,249)" stroke="rgb(40,80,110)" stroke-opacity="0.55" stroke-width="0.35"/>
<ellipse cx="56.7" cy="26.3" rx="16.5" ry="13.6" transform="rotate(-8 56.7 26.3)" fill="rgb(134,160,248)" stroke="rgb(40,80,110)" stroke-opacity="0.55" stroke-width="0.35"/>
<path d="M69.2 41.5C69.9 40 70.4 39.6 75 37C79.6 34.4 77.6 35.5 82.9 33.6C88.2 31.7 85.9 32.3 91 31.3C96.1 30.3 93.8 30.8 98.1 30.6C102.4 30.4 100.5 30.8 104 30.8C107.5 30.8 108.8 29.6 108.5 30.6C108.2 31.6 106.6 31.7 103.1 33.7C99.6 35.7 101.5 35 98.1 36.7C94.7 38.4 96.4 37.7 93 38.9C89.6 40.1 91.4 39.6 88 40.4C84.6 41.2 86.3 41 82.9 41.4C79.5 41.8 81.2 41.6 77.8 41.6C74.4 41.6 75.7 41.4 72.8 41.4C69.9 41.4 68.5 43 69.2 41.5Z" fill="rgb(134,160,248)" stroke="rgb(40,80,110)" stroke-opacity="0.55" stroke-width="0.35"/>
<path d="M92.3 17C93.5 17.3 95.8 15 102.6 8.9C109.4 2.8 106 4.8 112.8 -1.3C119.6 -7.4 116.2 -5.5 122.9 -9.4C129.6 -13.3 127.3 -11.2 133 -12.9C138.7 -14.6 136.1 -12.5 140.1 -14.4C144.1 -16.3 141.7 -13.3 145 -18.5C148.3 -23.7 146 -21.2 150 -30C154 -38.8 152.7 -35.7 157 -45C161.3 -54.3 159 -49.3 163 -58C167 -66.7 166.3 -65.3 169 -71C171.7 -76.7 171.3 -75.3 171 -75C170.7 -74.7 170.7 -74.7 168 -70C165.3 -65.3 167 -66.3 163 -61C159 -55.7 161 -61.2 155.9 -54C150.8 -46.8 154.8 -48.8 147.8 -39.5C140.8 -30.2 143.3 -33.5 135 -26C126.7 -18.5 130.5 -22.7 122.8 -17C115.1 -11.3 117.6 -14.3 112 -9C106.4 -3.7 110.3 -6.7 106 -1C101.7 4.7 103.6 2 99 8C94.4 14 91.1 16.7 92.3 17Z" fill="rgb(122,246,212)" stroke="rgb(40,80,110)" stroke-opacity="0.55" stroke-width="0.35"/>
<path d="M114.5 -8.8C116.4 -11.3 116.7 -13.2 119 -18.5C121.3 -23.8 121 -23.5 123.3 -28.7C125.6 -33.9 125.1 -33.5 127.7 -38C130.3 -42.5 130.1 -39.9 133 -45.5C135.9 -51.1 135.2 -51.3 138.6 -59C142 -66.7 143.8 -67.4 145.8 -74.5C147.8 -81.6 145 -82.2 146 -85.5C147 -88.8 146.6 -87 149.7 -86.8C152.8 -86.6 152.9 -84.5 157.8 -84.8C162.7 -85.1 163.6 -84.8 167.9 -87.8C172.2 -90.8 170.8 -90 174 -95.9C177.2 -101.8 177 -102.5 180 -110.1C183 -117.7 183.6 -121 185.1 -124.3C186.6 -127.6 186 -128.8 185.5 -122.3C185 -115.8 184.8 -110.3 183.1 -100C181.4 -89.7 181.4 -91.4 179 -83.8C176.6 -76.2 176.4 -76.5 174 -71.6C171.6 -66.7 173.2 -70.3 170 -65.5C166.8 -60.7 166.3 -59.5 162 -53.5C157.7 -47.5 157.8 -46.7 154 -43C150.2 -39.3 152.9 -44 147.8 -39.5C142.7 -35 141.7 -32 135 -26C128.3 -20 128.9 -21.5 122.8 -17C116.7 -12.5 114.2 -11.2 112 -9C109.8 -6.8 112.6 -6.3 114.5 -8.8Z" fill="rgb(112,240,132)" stroke="rgb(40,80,110)" stroke-opacity="0.55" stroke-width="0.35"/>
<path d="M114 -8C114.3 -5 115.2 -8.7 117.9 -10.9C120.6 -13.1 117.4 -11.1 122.2 -14.5C127 -17.9 126.1 -15.9 132.4 -21C138.7 -26.1 135.8 -23 141.1 -29.8C146.4 -36.6 144.3 -34.1 148.4 -41.4C152.5 -48.7 151.3 -45.8 153.5 -51.6C155.7 -57.4 156.2 -53.4 155 -58.9C153.8 -64.4 153.5 -63.5 150 -68C146.5 -72.5 147.5 -71.2 144.5 -72.5C141.5 -73.8 144.5 -77.2 141 -72C137.5 -66.8 138.3 -65.7 134 -57C129.7 -48.3 132 -53.7 128 -46C124 -38.3 125.7 -42.7 122 -34C118.3 -25.3 119.7 -28.7 117 -20C114.3 -11.3 113.7 -11 114 -8Z" fill="rgb(190,240,110)" stroke="rgb(40,80,110)" stroke-opacity="0.55" stroke-width="0.35"/>
<path d="M165.4 -70.2 L164 -50 L157.8 -50 L162 -61Z" fill="rgb(190,240,110)" stroke="rgb(40,80,110)" stroke-opacity="0.55" stroke-width="0.35"/>
<path d="M121.8 -20.5C122.5 -19.8 121.4 -18.6 124.8 -22.8C128.2 -27 127.5 -25.6 131.9 -33C136.3 -40.4 134.6 -37.7 138 -45.1C141.4 -52.5 140.1 -48.8 142.1 -55.2C144.1 -61.6 143.8 -59.7 144.1 -64.4C144.4 -69.1 144.1 -68.4 143.1 -69.4C142.1 -70.4 143.1 -71.4 141.1 -67.4C139.1 -63.4 139.7 -64.4 137 -57.3C134.3 -50.2 136 -53.5 133 -46.1C130 -38.7 131.3 -42.1 127.9 -35C124.5 -27.9 124.8 -29.7 122.8 -24.9C120.8 -20.1 121.1 -21.2 121.8 -20.5Z" fill="rgb(240,245,120)" stroke="rgb(40,80,110)" stroke-opacity="0.55" stroke-width="0.35"/>
<path d="M84.1 66.8C85.1 64.7 86.3 65.8 91 66.5C95.7 67.2 93.8 65.3 98.3 68.8C102.8 72.3 104.4 72.8 104.4 76.9C104.4 81 103.7 82.3 98.3 81C92.9 79.7 92.8 77.6 88.1 72.9C83.4 68.2 83.1 68.9 84.1 66.8Z" fill="rgb(122,246,212)" stroke="rgb(40,80,110)" stroke-opacity="0.55" stroke-width="0.35"/>
<path d="M63.7 43.9C63.3 45.3 62.6 44.9 62.5 48C62.4 51.2 62.1 49.6 63.5 53.4C64.9 57.2 63.8 55.8 66.6 59.5C69.5 63.3 67.8 62 72 64.6C76.2 67.2 73.9 66.4 79.3 67.4C84.7 68.4 82.5 68.6 88.1 67.7C93.8 66.8 93.5 65.7 96.1 64.7L95.9 63.7C93.2 64.3 93.2 65.1 87.9 65.5C82.5 65.9 84.6 66 79.7 65C74.9 64 77 64.9 73.2 62.6C69.5 60.3 71.1 61.4 68.6 58.1C66.1 54.7 67 56 65.7 52.6C64.4 49.2 65 50.8 64.7 48C64.4 45.1 64.7 45.4 64.7 44.1Z" fill="rgb(112,240,132)" stroke="rgb(40,80,110)" stroke-opacity="0.55" stroke-width="0.35"/>
</g>
<path d="M112.7 -9.8C115 -9.6 114.4 -7.3 119.8 -9.4C125.1 -11.5 123.9 -12 128.7 -16.2C133.6 -20.3 130.9 -18.5 134.3 -21.8C137.7 -25.1 135.4 -23.1 139 -26C142.6 -28.9 141.2 -27.7 145 -30.5C148.8 -33.3 147 -32.1 150.4 -34.5C153.8 -36.8 152.7 -35.9 155.1 -37.5C157.6 -39.1 155.3 -37.6 157.9 -39.3C160.4 -41.1 161.2 -41.7 162.9 -42.8L157.1 -62C154.1 -61.7 153.7 -63.1 148.1 -61.3C142.6 -59.4 144.8 -60.1 140.5 -56.5C136.1 -52.8 138.3 -54.3 135.2 -50.3C132 -46.4 134 -48.6 131 -44.7C128 -40.8 129.3 -42.5 126.2 -38.6C123.1 -34.8 124.8 -37.1 121.7 -33.2C118.6 -29.3 120.3 -32 116.9 -26.8C113.4 -21.7 113.1 -23 111.2 -17.8C109.4 -12.6 111.3 -13.4 111.3 -11.2Z" fill="rgb(122,246,212)" stroke="rgb(40,80,110)" stroke-opacity="0.55" stroke-width="0.35"/>
<path d="M112.3 -10.1C114.1 -10.6 113.3 -8.5 117.6 -11.5C122 -14.5 121.1 -14.6 125.4 -19.2C129.7 -23.7 127.2 -21.7 130.6 -25.1C133.9 -28.6 131.8 -26.5 135.4 -29.5C139.1 -32.5 137.7 -31.2 141.5 -34C145.4 -36.9 143.5 -35.5 147 -38.1C150.4 -40.7 148.9 -39.8 151.8 -41.9C154.7 -44 152.4 -42.4 155.6 -44.4C158.8 -46.3 159.5 -46.5 161.4 -47.6L158.6 -57.2C155.8 -56.9 155.3 -57.9 150.4 -56.2C145.5 -54.6 147.7 -55.3 143.8 -52.1C139.9 -49 141.8 -50.4 138.6 -46.7C135.5 -43.1 137.4 -45 134.5 -41.2C131.5 -37.3 132.8 -38.9 129.8 -35.1C126.7 -31.3 128.6 -33.6 125.4 -29.9C122.2 -26.1 124.2 -28.6 120.2 -23.8C116.2 -19.1 116.2 -20 113.4 -15.7C110.5 -11.4 112.2 -12.5 111.7 -10.9Z" fill="rgb(112,240,132)" stroke="rgb(40,80,110)" stroke-opacity="0.55" stroke-width="0.35"/>
<path d="M132.7 -32.2C135.1 -33.4 135.7 -33.2 139.7 -35.9C143.7 -38.6 141.5 -37.4 144.7 -40.4C148 -43.3 146.4 -42.2 149.5 -44.8C152.6 -47.4 150.4 -45.7 154 -48.1C157.5 -50.5 158.1 -50.7 160.1 -52L159.9 -52.8C157.3 -52.7 156.6 -53.7 152 -52.5C147.4 -51.3 149.8 -51.9 146.1 -49.2C142.4 -46.5 144.1 -47.7 140.9 -44.4C137.6 -41.1 139.1 -43.3 136.3 -39.3C133.5 -35.3 133.7 -34.7 132.5 -32.4Z" fill="rgb(190,240,110)" stroke="rgb(40,80,110)" stroke-opacity="0.55" stroke-width="0.35"/>
<g transform="translate(0 -83)">
<path d="M68.7 35.3C69.7 34.1 69.3 34.1 71.7 31.8C74.1 29.5 72.8 30.9 75.8 28.5C78.9 26 77.5 27.1 81 24.5C84.5 21.9 82.7 23.1 86.4 20.5C90.2 18 87.1 21.4 92.3 16.7C97.5 12 96.5 12.5 102.1 6.5C107.6 0.5 104.8 3.7 109 -1.2C113.3 -6.2 111.5 -3.2 114.7 -8.4C118 -13.6 116.4 -11.5 118.8 -17C121.2 -22.5 119.9 -20.2 122 -24.8C124 -29.5 122.6 -26.5 124.9 -30.9C127.2 -35.3 126.4 -33.1 128.8 -38C131.2 -42.9 130.1 -40.8 132.1 -45.6C134.1 -50.4 133.1 -48 134.8 -52.5C136.6 -57 135.2 -53.8 137.3 -59.1C139.5 -64.5 138.8 -63 141.2 -68.6C143.6 -74.2 143.5 -73.5 144.7 -76L138.3 -79C137.2 -76.5 137.4 -77.1 134.8 -71.4C132.2 -65.7 132.9 -67.2 130.7 -61.9C128.4 -56.5 129.9 -59.7 128 -55.3C126.1 -51 127.1 -53.3 124.9 -48.8C122.8 -44.3 124.1 -46.4 121.6 -41.8C119 -37.2 119.8 -39.5 117.3 -34.9C114.8 -30.4 116.1 -33.1 114 -28.2C112 -23.2 113.1 -25.4 111.2 -20C109.3 -14.6 110.7 -17 108.3 -12C105.9 -7 107.4 -10.1 104 -5.2C100.5 -0.2 103 -3.1 97.9 2.9C92.9 8.9 93.5 8.4 88.7 12.9C83.9 17.4 87.1 13.9 83.6 16.5C80 19 81.6 17.8 78 20.5C74.4 23.2 76 22 72.8 24.5C69.5 27.1 70.9 25.7 68.3 28.2C65.7 30.7 66 30.7 64.9 31.9Z" fill="rgb(14,44,224)"/>
<path d="M116.6 -27.2C117.8 -29.3 117.5 -29.1 120 -33.5C122.6 -37.9 121.7 -35.7 124.2 -40.4C126.7 -45.1 125.4 -43 127.5 -47.6C129.5 -52.3 128.6 -49.9 130.4 -54.3C132.2 -58.7 130.7 -55.6 133 -60.9C135.2 -66.3 134.5 -64.7 137.1 -70.4C139.7 -76.1 139.5 -75.4 140.7 -77.9L138.1 -79.1C137 -76.5 137.2 -77.2 134.7 -71.5C132.2 -65.7 132.9 -67.2 130.8 -61.8C128.6 -56.4 130 -59.6 128.2 -55.2C126.3 -50.8 127.3 -53.2 125.3 -48.6C123.3 -44 124.5 -46.2 122.1 -41.5C119.7 -36.8 120.4 -39.1 118.1 -34.5C115.8 -29.9 116.2 -30.1 115.3 -27.8Z" fill="rgb(10,20,150)"/>
<path d="M144.7 -76.1C146.3 -79.6 146.4 -80.4 149.4 -86.4C152.4 -92.4 151.3 -89.4 153.8 -94.2C156.4 -98.9 154.8 -95.5 157.1 -100.7C159.4 -105.9 158.4 -103.8 160.9 -109.8C163.4 -115.8 162.1 -113 164.5 -118.7C166.9 -124.5 165.8 -122 168.1 -126.9C170.4 -131.8 168.8 -127.2 171.5 -133.6C174.1 -139.9 173.3 -137.7 176.1 -146C178.8 -154.3 178.5 -154.3 179.7 -158.4L179.3 -158.6C176.9 -155 176.5 -155.4 171.9 -148C167.3 -140.6 168.9 -142.4 165.5 -136.4C162.2 -130.5 164.6 -134.9 161.9 -130.1C159.2 -125.3 160.4 -127.7 157.5 -122.1C154.6 -116.4 156 -119.1 153.1 -113.2C150.3 -107.4 151.2 -109.6 148.9 -104.5C146.6 -99.3 148.3 -102.8 146.2 -97.8C144.1 -92.9 145.2 -95.9 142.6 -89.6C140 -83.2 139.7 -82.4 138.3 -78.9Z" fill="rgb(14,44,224)"/>
<path d="M142.4 -77.1C143.9 -80.6 144.1 -81.4 147 -87.5C150 -93.6 148.8 -90.6 151.3 -95.4C153.8 -100.2 152.1 -96.8 154.4 -101.9C156.8 -107.1 155.8 -104.9 158.3 -110.9C160.9 -116.9 159.6 -114.2 162.1 -119.9C164.6 -125.6 163.5 -123.1 165.9 -128.1C168.2 -133 166.5 -128.3 169.3 -134.6C172 -140.9 171.1 -138.8 174.2 -146.9C177.3 -155 177.1 -154.9 178.5 -159L178.3 -159.1C176.1 -155.4 175.9 -155.7 171.6 -148.1C167.4 -140.6 168.8 -142.4 165.6 -136.4C162.4 -130.4 164.6 -134.9 162 -130C159.4 -125.2 160.6 -127.6 157.7 -121.9C154.9 -116.3 156.3 -119 153.5 -113.1C150.7 -107.2 151.7 -109.4 149.4 -104.2C147 -99.1 148.7 -102.6 146.5 -97.7C144.4 -92.7 145.5 -95.7 142.8 -89.5C140.1 -83.2 139.9 -82.4 138.4 -78.8Z" fill="rgb(10,20,150)"/>
<path d="M147.1 -103.5C149 -107 149.2 -107.1 152.8 -113.9C156.4 -120.6 154.7 -117.5 158.1 -123.8C161.4 -130.2 159.6 -126.3 162.8 -132.9C165.9 -139.4 164.5 -136 167.6 -143.5C170.6 -151 170.5 -151.5 171.9 -155.4L171.7 -155.6C169.6 -151.9 169.2 -151.7 165.4 -144.5C161.6 -137.4 163.5 -140.6 160.2 -134.1C157 -127.6 158.8 -131.4 155.7 -125C152.7 -118.5 154.2 -121.7 151 -114.7C147.8 -107.8 147.7 -107.6 146.1 -104.1Z" fill="rgb(226,30,28)"/>
<path d="M104 64.5 L116 58 L112 70 L106 68Z" fill="rgb(190,240,110)"/>
<path d="M101 66.5 L110 64 L108 69 L103 69.5Z" fill="rgb(112,240,132)"/>
<path d="M96.7 64.6C96.4 63.5 96.9 63.6 99 62.1C101.1 60.6 100.2 61.5 103 60C105.8 58.5 104.5 59.4 107.5 57.5C110.5 55.6 108.7 57.4 111.9 54.4C115.1 51.4 114.1 49.6 117.1 48.5C120.1 47.4 121.4 47.5 121 51C120.6 54.5 119.7 55.1 116 59C112.3 62.9 113.7 60.8 110 62.6C106.3 64.4 108.3 63.5 105 64.4C101.7 65.3 102.8 65.2 100 65.3C97.2 65.4 97 65.7 96.7 64.6Z" fill="rgb(14,44,224)"/>
<path d="M98.3 71.9C98.6 70.9 99.6 71 103 69C106.4 67 105.5 65.7 108.5 66C111.5 66.3 111.8 67.8 112 70C112.2 72.2 111.3 72 109 72.5C106.7 73 107.3 71.8 105 71.6C102.7 71.4 104.2 71.9 102 72C99.8 72.1 98 72.9 98.3 71.9Z" fill="rgb(14,44,224)"/>
<path d="M64.9 32.6C63.4 34.9 62.3 34.3 60.2 39.3C58.1 44.3 58.7 42.2 58.7 47.8C58.7 53.4 58 50.8 60.2 56.1C62.5 61.4 61.3 59.7 65.5 63.7C69.6 67.7 68.1 65.9 72.7 68.1C77.3 70.2 75.4 69.3 79.3 70C83.2 70.7 82.7 70.1 84.5 70.1L84.5 69.5C82.9 69.1 83.3 69.6 79.7 68.4C76.2 67.1 77.8 68.1 73.9 65.7C70 63.4 71.2 65 67.9 61.3C64.6 57.6 65.6 59.2 64 54.7C62.4 50.2 62.9 52.3 63.1 47.8C63.3 43.3 62.6 45.3 64.4 41.1C66.3 36.9 67.2 37.3 68.7 35.4Z" fill="rgb(226,30,28)"/>
<path d="M65.2 45.5C65.5 44 65 44.6 66.2 43.3C67.4 42 66.5 42.4 68.7 41.7C70.9 41 69.8 41.3 72.8 41.2C75.8 41.1 74.4 41.4 77.8 41.4C81.2 41.4 79.5 41.6 82.9 41.2C86.3 40.8 84.6 41 88 40.2C91.4 39.4 89.6 39.9 93 38.7C96.4 37.5 94.7 38.2 98.1 36.5C101.5 34.8 99.9 35.4 103.1 33.5C106.3 31.6 102.7 34.4 107.6 30.8C112.5 27.2 111.7 28.1 117.8 22.7C123.9 17.3 121.2 19.7 125.9 14.6C130.6 9.5 128.3 12.3 131.9 7.5C135.5 2.7 133.4 5.6 136.7 0.1C140 -5.4 138.5 -2.4 141.7 -9C144.9 -15.6 145.2 -17.9 146.3 -19.6C147.4 -21.3 146.2 -18.2 145 -14C143.8 -9.8 145.1 -14.2 142.8 -7C140.5 0.2 141 0.2 138.2 7.5C135.4 14.8 137.1 10 134.5 15C131.9 20 132.4 18 130.3 22.5C128.2 27 129.8 24.5 128.1 28.4C126.4 32.3 127.4 29.9 125.2 34.3C123 38.7 124.2 37 121.5 41.7C118.8 46.4 120.3 44.1 117.1 48.3C113.9 52.5 115.1 51.2 111.9 54.2C108.7 57.2 110.5 55.4 107.5 57.3C104.5 59.2 105.8 58.3 103 59.8C100.2 61.3 101.7 60.7 99 61.8C96.3 62.9 98 62.5 95 63.2C92 63.9 94 63.7 90 64C86 64.3 87.6 64.7 82.9 64C78.2 63.3 80 64 75.8 62C71.6 60 73.2 61 70.2 58C67.2 55 68.4 56.3 66.7 52.9C65 49.5 65.7 50.3 65.2 47.8C64.7 45.3 64.9 47 65.2 45.5Z" fill="#fff" stroke="#444" stroke-width="0.5"/>
</g>
<g transform="translate(0 0)">
<path d="M68.7 35.3C69.7 34.1 69.3 34.1 71.7 31.8C74.1 29.5 72.8 30.9 75.8 28.5C78.9 26 77.5 27.1 81 24.5C84.5 21.9 82.7 23.1 86.4 20.5C90.2 18 87.1 21.4 92.3 16.7C97.5 12 96.5 12.5 102.1 6.5C107.6 0.5 104.8 3.7 109 -1.2C113.3 -6.2 111.5 -3.2 114.7 -8.4C118 -13.6 116.4 -11.5 118.8 -17C121.2 -22.5 119.9 -20.2 122 -24.8C124 -29.5 122.6 -26.5 124.9 -30.9C127.2 -35.3 126.4 -33.1 128.8 -38C131.2 -42.9 130.1 -40.8 132.1 -45.6C134.1 -50.4 133.1 -48 134.8 -52.5C136.6 -57 135.2 -53.8 137.3 -59.1C139.5 -64.5 138.8 -63 141.2 -68.6C143.6 -74.2 143.5 -73.5 144.7 -76L138.3 -79C137.2 -76.5 137.4 -77.1 134.8 -71.4C132.2 -65.7 132.9 -67.2 130.7 -61.9C128.4 -56.5 129.9 -59.7 128 -55.3C126.1 -51 127.1 -53.3 124.9 -48.8C122.8 -44.3 124.1 -46.4 121.6 -41.8C119 -37.2 119.8 -39.5 117.3 -34.9C114.8 -30.4 116.1 -33.1 114 -28.2C112 -23.2 113.1 -25.4 111.2 -20C109.3 -14.6 110.7 -17 108.3 -12C105.9 -7 107.4 -10.1 104 -5.2C100.5 -0.2 103 -3.1 97.9 2.9C92.9 8.9 93.5 8.4 88.7 12.9C83.9 17.4 87.1 13.9 83.6 16.5C80 19 81.6 17.8 78 20.5C74.4 23.2 76 22 72.8 24.5C69.5 27.1 70.9 25.7 68.3 28.2C65.7 30.7 66 30.7 64.9 31.9Z" fill="rgb(14,44,224)"/>
<path d="M116.6 -27.2C117.8 -29.3 117.5 -29.1 120 -33.5C122.6 -37.9 121.7 -35.7 124.2 -40.4C126.7 -45.1 125.4 -43 127.5 -47.6C129.5 -52.3 128.6 -49.9 130.4 -54.3C132.2 -58.7 130.7 -55.6 133 -60.9C135.2 -66.3 134.5 -64.7 137.1 -70.4C139.7 -76.1 139.5 -75.4 140.7 -77.9L138.1 -79.1C137 -76.5 137.2 -77.2 134.7 -71.5C132.2 -65.7 132.9 -67.2 130.8 -61.8C128.6 -56.4 130 -59.6 128.2 -55.2C126.3 -50.8 127.3 -53.2 125.3 -48.6C123.3 -44 124.5 -46.2 122.1 -41.5C119.7 -36.8 120.4 -39.1 118.1 -34.5C115.8 -29.9 116.2 -30.1 115.3 -27.8Z" fill="rgb(10,20,150)"/>
<path d="M144.7 -76.1C146.3 -79.6 146.4 -80.4 149.4 -86.4C152.4 -92.4 151.3 -89.4 153.8 -94.2C156.4 -98.9 154.8 -95.5 157.1 -100.7C159.4 -105.9 158.4 -103.8 160.9 -109.8C163.4 -115.8 162.1 -113 164.5 -118.7C166.9 -124.5 165.8 -122 168.1 -126.9C170.4 -131.8 168.8 -127.2 171.5 -133.6C174.1 -139.9 173.3 -137.7 176.1 -146C178.8 -154.3 178.5 -154.3 179.7 -158.4L179.3 -158.6C176.9 -155 176.5 -155.4 171.9 -148C167.3 -140.6 168.9 -142.4 165.5 -136.4C162.2 -130.5 164.6 -134.9 161.9 -130.1C159.2 -125.3 160.4 -127.7 157.5 -122.1C154.6 -116.4 156 -119.1 153.1 -113.2C150.3 -107.4 151.2 -109.6 148.9 -104.5C146.6 -99.3 148.3 -102.8 146.2 -97.8C144.1 -92.9 145.2 -95.9 142.6 -89.6C140 -83.2 139.7 -82.4 138.3 -78.9Z" fill="rgb(14,44,224)"/>
<path d="M142.4 -77.1C143.9 -80.6 144.1 -81.4 147 -87.5C150 -93.6 148.8 -90.6 151.3 -95.4C153.8 -100.2 152.1 -96.8 154.4 -101.9C156.8 -107.1 155.8 -104.9 158.3 -110.9C160.9 -116.9 159.6 -114.2 162.1 -119.9C164.6 -125.6 163.5 -123.1 165.9 -128.1C168.2 -133 166.5 -128.3 169.3 -134.6C172 -140.9 171.1 -138.8 174.2 -146.9C177.3 -155 177.1 -154.9 178.5 -159L178.3 -159.1C176.1 -155.4 175.9 -155.7 171.6 -148.1C167.4 -140.6 168.8 -142.4 165.6 -136.4C162.4 -130.4 164.6 -134.9 162 -130C159.4 -125.2 160.6 -127.6 157.7 -121.9C154.9 -116.3 156.3 -119 153.5 -113.1C150.7 -107.2 151.7 -109.4 149.4 -104.2C147 -99.1 148.7 -102.6 146.5 -97.7C144.4 -92.7 145.5 -95.7 142.8 -89.5C140.1 -83.2 139.9 -82.4 138.4 -78.8Z" fill="rgb(10,20,150)"/>
<path d="M147.1 -103.5C149 -107 149.2 -107.1 152.8 -113.9C156.4 -120.6 154.7 -117.5 158.1 -123.8C161.4 -130.2 159.6 -126.3 162.8 -132.9C165.9 -139.4 164.5 -136 167.6 -143.5C170.6 -151 170.5 -151.5 171.9 -155.4L171.7 -155.6C169.6 -151.9 169.2 -151.7 165.4 -144.5C161.6 -137.4 163.5 -140.6 160.2 -134.1C157 -127.6 158.8 -131.4 155.7 -125C152.7 -118.5 154.2 -121.7 151 -114.7C147.8 -107.8 147.7 -107.6 146.1 -104.1Z" fill="rgb(226,30,28)"/>
<path d="M104 64.5 L116 58 L112 70 L106 68Z" fill="rgb(190,240,110)"/>
<path d="M101 66.5 L110 64 L108 69 L103 69.5Z" fill="rgb(112,240,132)"/>
<path d="M96.7 64.6C96.4 63.5 96.9 63.6 99 62.1C101.1 60.6 100.2 61.5 103 60C105.8 58.5 104.5 59.4 107.5 57.5C110.5 55.6 108.7 57.4 111.9 54.4C115.1 51.4 114.1 49.6 117.1 48.5C120.1 47.4 121.4 47.5 121 51C120.6 54.5 119.7 55.1 116 59C112.3 62.9 113.7 60.8 110 62.6C106.3 64.4 108.3 63.5 105 64.4C101.7 65.3 102.8 65.2 100 65.3C97.2 65.4 97 65.7 96.7 64.6Z" fill="rgb(14,44,224)"/>
<path d="M98.3 71.9C98.6 70.9 99.6 71 103 69C106.4 67 105.5 65.7 108.5 66C111.5 66.3 111.8 67.8 112 70C112.2 72.2 111.3 72 109 72.5C106.7 73 107.3 71.8 105 71.6C102.7 71.4 104.2 71.9 102 72C99.8 72.1 98 72.9 98.3 71.9Z" fill="rgb(14,44,224)"/>
<path d="M64.9 32.6C63.4 34.9 62.3 34.3 60.2 39.3C58.1 44.3 58.7 42.2 58.7 47.8C58.7 53.4 58 50.8 60.2 56.1C62.5 61.4 61.3 59.7 65.5 63.7C69.6 67.7 68.1 65.9 72.7 68.1C77.3 70.2 75.4 69.3 79.3 70C83.2 70.7 82.7 70.1 84.5 70.1L84.5 69.5C82.9 69.1 83.3 69.6 79.7 68.4C76.2 67.1 77.8 68.1 73.9 65.7C70 63.4 71.2 65 67.9 61.3C64.6 57.6 65.6 59.2 64 54.7C62.4 50.2 62.9 52.3 63.1 47.8C63.3 43.3 62.6 45.3 64.4 41.1C66.3 36.9 67.2 37.3 68.7 35.4Z" fill="rgb(226,30,28)"/>
<path d="M65.2 45.5C65.5 44 65 44.6 66.2 43.3C67.4 42 66.5 42.4 68.7 41.7C70.9 41 69.8 41.3 72.8 41.2C75.8 41.1 74.4 41.4 77.8 41.4C81.2 41.4 79.5 41.6 82.9 41.2C86.3 40.8 84.6 41 88 40.2C91.4 39.4 89.6 39.9 93 38.7C96.4 37.5 94.7 38.2 98.1 36.5C101.5 34.8 99.9 35.4 103.1 33.5C106.3 31.6 102.7 34.4 107.6 30.8C112.5 27.2 111.7 28.1 117.8 22.7C123.9 17.3 121.2 19.7 125.9 14.6C130.6 9.5 128.3 12.3 131.9 7.5C135.5 2.7 133.4 5.6 136.7 0.1C140 -5.4 138.5 -2.4 141.7 -9C144.9 -15.6 145.2 -17.9 146.3 -19.6C147.4 -21.3 146.2 -18.2 145 -14C143.8 -9.8 145.1 -14.2 142.8 -7C140.5 0.2 141 0.2 138.2 7.5C135.4 14.8 137.1 10 134.5 15C131.9 20 132.4 18 130.3 22.5C128.2 27 129.8 24.5 128.1 28.4C126.4 32.3 127.4 29.9 125.2 34.3C123 38.7 124.2 37 121.5 41.7C118.8 46.4 120.3 44.1 117.1 48.3C113.9 52.5 115.1 51.2 111.9 54.2C108.7 57.2 110.5 55.4 107.5 57.3C104.5 59.2 105.8 58.3 103 59.8C100.2 61.3 101.7 60.7 99 61.8C96.3 62.9 98 62.5 95 63.2C92 63.9 94 63.7 90 64C86 64.3 87.6 64.7 82.9 64C78.2 63.3 80 64 75.8 62C71.6 60 73.2 61 70.2 58C67.2 55 68.4 56.3 66.7 52.9C65 49.5 65.7 50.3 65.2 47.8C64.7 45.3 64.9 47 65.2 45.5Z" fill="#fff" stroke="#444" stroke-width="0.5"/>
</g>
<g transform="translate(0 83)">
<path d="M68.7 35.3C69.7 34.1 69.3 34.1 71.7 31.8C74.1 29.5 72.8 30.9 75.8 28.5C78.9 26 77.5 27.1 81 24.5C84.5 21.9 82.7 23.1 86.4 20.5C90.2 18 87.1 21.4 92.3 16.7C97.5 12 96.5 12.5 102.1 6.5C107.6 0.5 104.8 3.7 109 -1.2C113.3 -6.2 111.5 -3.2 114.7 -8.4C118 -13.6 116.4 -11.5 118.8 -17C121.2 -22.5 119.9 -20.2 122 -24.8C124 -29.5 122.6 -26.5 124.9 -30.9C127.2 -35.3 126.4 -33.1 128.8 -38C131.2 -42.9 130.1 -40.8 132.1 -45.6C134.1 -50.4 133.1 -48 134.8 -52.5C136.6 -57 135.2 -53.8 137.3 -59.1C139.5 -64.5 138.8 -63 141.2 -68.6C143.6 -74.2 143.5 -73.5 144.7 -76L138.3 -79C137.2 -76.5 137.4 -77.1 134.8 -71.4C132.2 -65.7 132.9 -67.2 130.7 -61.9C128.4 -56.5 129.9 -59.7 128 -55.3C126.1 -51 127.1 -53.3 124.9 -48.8C122.8 -44.3 124.1 -46.4 121.6 -41.8C119 -37.2 119.8 -39.5 117.3 -34.9C114.8 -30.4 116.1 -33.1 114 -28.2C112 -23.2 113.1 -25.4 111.2 -20C109.3 -14.6 110.7 -17 108.3 -12C105.9 -7 107.4 -10.1 104 -5.2C100.5 -0.2 103 -3.1 97.9 2.9C92.9 8.9 93.5 8.4 88.7 12.9C83.9 17.4 87.1 13.9 83.6 16.5C80 19 81.6 17.8 78 20.5C74.4 23.2 76 22 72.8 24.5C69.5 27.1 70.9 25.7 68.3 28.2C65.7 30.7 66 30.7 64.9 31.9Z" fill="rgb(14,44,224)"/>
<path d="M116.6 -27.2C117.8 -29.3 117.5 -29.1 120 -33.5C122.6 -37.9 121.7 -35.7 124.2 -40.4C126.7 -45.1 125.4 -43 127.5 -47.6C129.5 -52.3 128.6 -49.9 130.4 -54.3C132.2 -58.7 130.7 -55.6 133 -60.9C135.2 -66.3 134.5 -64.7 137.1 -70.4C139.7 -76.1 139.5 -75.4 140.7 -77.9L138.1 -79.1C137 -76.5 137.2 -77.2 134.7 -71.5C132.2 -65.7 132.9 -67.2 130.8 -61.8C128.6 -56.4 130 -59.6 128.2 -55.2C126.3 -50.8 127.3 -53.2 125.3 -48.6C123.3 -44 124.5 -46.2 122.1 -41.5C119.7 -36.8 120.4 -39.1 118.1 -34.5C115.8 -29.9 116.2 -30.1 115.3 -27.8Z" fill="rgb(10,20,150)"/>
<path d="M144.7 -76.1C146.3 -79.6 146.4 -80.4 149.4 -86.4C152.4 -92.4 151.3 -89.4 153.8 -94.2C156.4 -98.9 154.8 -95.5 157.1 -100.7C159.4 -105.9 158.4 -103.8 160.9 -109.8C163.4 -115.8 162.1 -113 164.5 -118.7C166.9 -124.5 165.8 -122 168.1 -126.9C170.4 -131.8 168.8 -127.2 171.5 -133.6C174.1 -139.9 173.3 -137.7 176.1 -146C178.8 -154.3 178.5 -154.3 179.7 -158.4L179.3 -158.6C176.9 -155 176.5 -155.4 171.9 -148C167.3 -140.6 168.9 -142.4 165.5 -136.4C162.2 -130.5 164.6 -134.9 161.9 -130.1C159.2 -125.3 160.4 -127.7 157.5 -122.1C154.6 -116.4 156 -119.1 153.1 -113.2C150.3 -107.4 151.2 -109.6 148.9 -104.5C146.6 -99.3 148.3 -102.8 146.2 -97.8C144.1 -92.9 145.2 -95.9 142.6 -89.6C140 -83.2 139.7 -82.4 138.3 -78.9Z" fill="rgb(14,44,224)"/>
<path d="M142.4 -77.1C143.9 -80.6 144.1 -81.4 147 -87.5C150 -93.6 148.8 -90.6 151.3 -95.4C153.8 -100.2 152.1 -96.8 154.4 -101.9C156.8 -107.1 155.8 -104.9 158.3 -110.9C160.9 -116.9 159.6 -114.2 162.1 -119.9C164.6 -125.6 163.5 -123.1 165.9 -128.1C168.2 -133 166.5 -128.3 169.3 -134.6C172 -140.9 171.1 -138.8 174.2 -146.9C177.3 -155 177.1 -154.9 178.5 -159L178.3 -159.1C176.1 -155.4 175.9 -155.7 171.6 -148.1C167.4 -140.6 168.8 -142.4 165.6 -136.4C162.4 -130.4 164.6 -134.9 162 -130C159.4 -125.2 160.6 -127.6 157.7 -121.9C154.9 -116.3 156.3 -119 153.5 -113.1C150.7 -107.2 151.7 -109.4 149.4 -104.2C147 -99.1 148.7 -102.6 146.5 -97.7C144.4 -92.7 145.5 -95.7 142.8 -89.5C140.1 -83.2 139.9 -82.4 138.4 -78.8Z" fill="rgb(10,20,150)"/>
<path d="M147.1 -103.5C149 -107 149.2 -107.1 152.8 -113.9C156.4 -120.6 154.7 -117.5 158.1 -123.8C161.4 -130.2 159.6 -126.3 162.8 -132.9C165.9 -139.4 164.5 -136 167.6 -143.5C170.6 -151 170.5 -151.5 171.9 -155.4L171.7 -155.6C169.6 -151.9 169.2 -151.7 165.4 -144.5C161.6 -137.4 163.5 -140.6 160.2 -134.1C157 -127.6 158.8 -131.4 155.7 -125C152.7 -118.5 154.2 -121.7 151 -114.7C147.8 -107.8 147.7 -107.6 146.1 -104.1Z" fill="rgb(226,30,28)"/>
<path d="M104 64.5 L116 58 L112 70 L106 68Z" fill="rgb(190,240,110)"/>
<path d="M101 66.5 L110 64 L108 69 L103 69.5Z" fill="rgb(112,240,132)"/>
<path d="M96.7 64.6C96.4 63.5 96.9 63.6 99 62.1C101.1 60.6 100.2 61.5 103 60C105.8 58.5 104.5 59.4 107.5 57.5C110.5 55.6 108.7 57.4 111.9 54.4C115.1 51.4 114.1 49.6 117.1 48.5C120.1 47.4 121.4 47.5 121 51C120.6 54.5 119.7 55.1 116 59C112.3 62.9 113.7 60.8 110 62.6C106.3 64.4 108.3 63.5 105 64.4C101.7 65.3 102.8 65.2 100 65.3C97.2 65.4 97 65.7 96.7 64.6Z" fill="rgb(14,44,224)"/>
<path d="M98.3 71.9C98.6 70.9 99.6 71 103 69C106.4 67 105.5 65.7 108.5 66C111.5 66.3 111.8 67.8 112 70C112.2 72.2 111.3 72 109 72.5C106.7 73 107.3 71.8 105 71.6C102.7 71.4 104.2 71.9 102 72C99.8 72.1 98 72.9 98.3 71.9Z" fill="rgb(14,44,224)"/>
<path d="M64.9 32.6C63.4 34.9 62.3 34.3 60.2 39.3C58.1 44.3 58.7 42.2 58.7 47.8C58.7 53.4 58 50.8 60.2 56.1C62.5 61.4 61.3 59.7 65.5 63.7C69.6 67.7 68.1 65.9 72.7 68.1C77.3 70.2 75.4 69.3 79.3 70C83.2 70.7 82.7 70.1 84.5 70.1L84.5 69.5C82.9 69.1 83.3 69.6 79.7 68.4C76.2 67.1 77.8 68.1 73.9 65.7C70 63.4 71.2 65 67.9 61.3C64.6 57.6 65.6 59.2 64 54.7C62.4 50.2 62.9 52.3 63.1 47.8C63.3 43.3 62.6 45.3 64.4 41.1C66.3 36.9 67.2 37.3 68.7 35.4Z" fill="rgb(226,30,28)"/>
<path d="M65.2 45.5C65.5 44 65 44.6 66.2 43.3C67.4 42 66.5 42.4 68.7 41.7C70.9 41 69.8 41.3 72.8 41.2C75.8 41.1 74.4 41.4 77.8 41.4C81.2 41.4 79.5 41.6 82.9 41.2C86.3 40.8 84.6 41 88 40.2C91.4 39.4 89.6 39.9 93 38.7C96.4 37.5 94.7 38.2 98.1 36.5C101.5 34.8 99.9 35.4 103.1 33.5C106.3 31.6 102.7 34.4 107.6 30.8C112.5 27.2 111.7 28.1 117.8 22.7C123.9 17.3 121.2 19.7 125.9 14.6C130.6 9.5 128.3 12.3 131.9 7.5C135.5 2.7 133.4 5.6 136.7 0.1C140 -5.4 138.5 -2.4 141.7 -9C144.9 -15.6 145.2 -17.9 146.3 -19.6C147.4 -21.3 146.2 -18.2 145 -14C143.8 -9.8 145.1 -14.2 142.8 -7C140.5 0.2 141 0.2 138.2 7.5C135.4 14.8 137.1 10 134.5 15C131.9 20 132.4 18 130.3 22.5C128.2 27 129.8 24.5 128.1 28.4C126.4 32.3 127.4 29.9 125.2 34.3C123 38.7 124.2 37 121.5 41.7C118.8 46.4 120.3 44.1 117.1 48.3C113.9 52.5 115.1 51.2 111.9 54.2C108.7 57.2 110.5 55.4 107.5 57.3C104.5 59.2 105.8 58.3 103 59.8C100.2 61.3 101.7 60.7 99 61.8C96.3 62.9 98 62.5 95 63.2C92 63.9 94 63.7 90 64C86 64.3 87.6 64.7 82.9 64C78.2 63.3 80 64 75.8 62C71.6 60 73.2 61 70.2 58C67.2 55 68.4 56.3 66.7 52.9C65 49.5 65.7 50.3 65.2 47.8C64.7 45.3 64.9 47 65.2 45.5Z" fill="#fff" stroke="#444" stroke-width="0.5"/>
</g>
<g transform="translate(0 166)">
<path d="M68.7 35.3C69.7 34.1 69.3 34.1 71.7 31.8C74.1 29.5 72.8 30.9 75.8 28.5C78.9 26 77.5 27.1 81 24.5C84.5 21.9 82.7 23.1 86.4 20.5C90.2 18 87.1 21.4 92.3 16.7C97.5 12 96.5 12.5 102.1 6.5C107.6 0.5 104.8 3.7 109 -1.2C113.3 -6.2 111.5 -3.2 114.7 -8.4C118 -13.6 116.4 -11.5 118.8 -17C121.2 -22.5 119.9 -20.2 122 -24.8C124 -29.5 122.6 -26.5 124.9 -30.9C127.2 -35.3 126.4 -33.1 128.8 -38C131.2 -42.9 130.1 -40.8 132.1 -45.6C134.1 -50.4 133.1 -48 134.8 -52.5C136.6 -57 135.2 -53.8 137.3 -59.1C139.5 -64.5 138.8 -63 141.2 -68.6C143.6 -74.2 143.5 -73.5 144.7 -76L138.3 -79C137.2 -76.5 137.4 -77.1 134.8 -71.4C132.2 -65.7 132.9 -67.2 130.7 -61.9C128.4 -56.5 129.9 -59.7 128 -55.3C126.1 -51 127.1 -53.3 124.9 -48.8C122.8 -44.3 124.1 -46.4 121.6 -41.8C119 -37.2 119.8 -39.5 117.3 -34.9C114.8 -30.4 116.1 -33.1 114 -28.2C112 -23.2 113.1 -25.4 111.2 -20C109.3 -14.6 110.7 -17 108.3 -12C105.9 -7 107.4 -10.1 104 -5.2C100.5 -0.2 103 -3.1 97.9 2.9C92.9 8.9 93.5 8.4 88.7 12.9C83.9 17.4 87.1 13.9 83.6 16.5C80 19 81.6 17.8 78 20.5C74.4 23.2 76 22 72.8 24.5C69.5 27.1 70.9 25.7 68.3 28.2C65.7 30.7 66 30.7 64.9 31.9Z" fill="rgb(14,44,224)"/>
<path d="M116.6 -27.2C117.8 -29.3 117.5 -29.1 120 -33.5C122.6 -37.9 121.7 -35.7 124.2 -40.4C126.7 -45.1 125.4 -43 127.5 -47.6C129.5 -52.3 128.6 -49.9 130.4 -54.3C132.2 -58.7 130.7 -55.6 133 -60.9C135.2 -66.3 134.5 -64.7 137.1 -70.4C139.7 -76.1 139.5 -75.4 140.7 -77.9L138.1 -79.1C137 -76.5 137.2 -77.2 134.7 -71.5C132.2 -65.7 132.9 -67.2 130.8 -61.8C128.6 -56.4 130 -59.6 128.2 -55.2C126.3 -50.8 127.3 -53.2 125.3 -48.6C123.3 -44 124.5 -46.2 122.1 -41.5C119.7 -36.8 120.4 -39.1 118.1 -34.5C115.8 -29.9 116.2 -30.1 115.3 -27.8Z" fill="rgb(10,20,150)"/>
<path d="M144.7 -76.1C146.3 -79.6 146.4 -80.4 149.4 -86.4C152.4 -92.4 151.3 -89.4 153.8 -94.2C156.4 -98.9 154.8 -95.5 157.1 -100.7C159.4 -105.9 158.4 -103.8 160.9 -109.8C163.4 -115.8 162.1 -113 164.5 -118.7C166.9 -124.5 165.8 -122 168.1 -126.9C170.4 -131.8 168.8 -127.2 171.5 -133.6C174.1 -139.9 173.3 -137.7 176.1 -146C178.8 -154.3 178.5 -154.3 179.7 -158.4L179.3 -158.6C176.9 -155 176.5 -155.4 171.9 -148C167.3 -140.6 168.9 -142.4 165.5 -136.4C162.2 -130.5 164.6 -134.9 161.9 -130.1C159.2 -125.3 160.4 -127.7 157.5 -122.1C154.6 -116.4 156 -119.1 153.1 -113.2C150.3 -107.4 151.2 -109.6 148.9 -104.5C146.6 -99.3 148.3 -102.8 146.2 -97.8C144.1 -92.9 145.2 -95.9 142.6 -89.6C140 -83.2 139.7 -82.4 138.3 -78.9Z" fill="rgb(14,44,224)"/>
<path d="M142.4 -77.1C143.9 -80.6 144.1 -81.4 147 -87.5C150 -93.6 148.8 -90.6 151.3 -95.4C153.8 -100.2 152.1 -96.8 154.4 -101.9C156.8 -107.1 155.8 -104.9 158.3 -110.9C160.9 -116.9 159.6 -114.2 162.1 -119.9C164.6 -125.6 163.5 -123.1 165.9 -128.1C168.2 -133 166.5 -128.3 169.3 -134.6C172 -140.9 171.1 -138.8 174.2 -146.9C177.3 -155 177.1 -154.9 178.5 -159L178.3 -159.1C176.1 -155.4 175.9 -155.7 171.6 -148.1C167.4 -140.6 168.8 -142.4 165.6 -136.4C162.4 -130.4 164.6 -134.9 162 -130C159.4 -125.2 160.6 -127.6 157.7 -121.9C154.9 -116.3 156.3 -119 153.5 -113.1C150.7 -107.2 151.7 -109.4 149.4 -104.2C147 -99.1 148.7 -102.6 146.5 -97.7C144.4 -92.7 145.5 -95.7 142.8 -89.5C140.1 -83.2 139.9 -82.4 138.4 -78.8Z" fill="rgb(10,20,150)"/>
<path d="M147.1 -103.5C149 -107 149.2 -107.1 152.8 -113.9C156.4 -120.6 154.7 -117.5 158.1 -123.8C161.4 -130.2 159.6 -126.3 162.8 -132.9C165.9 -139.4 164.5 -136 167.6 -143.5C170.6 -151 170.5 -151.5 171.9 -155.4L171.7 -155.6C169.6 -151.9 169.2 -151.7 165.4 -144.5C161.6 -137.4 163.5 -140.6 160.2 -134.1C157 -127.6 158.8 -131.4 155.7 -125C152.7 -118.5 154.2 -121.7 151 -114.7C147.8 -107.8 147.7 -107.6 146.1 -104.1Z" fill="rgb(226,30,28)"/>
<path d="M104 64.5 L116 58 L112 70 L106 68Z" fill="rgb(190,240,110)"/>
<path d="M101 66.5 L110 64 L108 69 L103 69.5Z" fill="rgb(112,240,132)"/>
<path d="M96.7 64.6C96.4 63.5 96.9 63.6 99 62.1C101.1 60.6 100.2 61.5 103 60C105.8 58.5 104.5 59.4 107.5 57.5C110.5 55.6 108.7 57.4 111.9 54.4C115.1 51.4 114.1 49.6 117.1 48.5C120.1 47.4 121.4 47.5 121 51C120.6 54.5 119.7 55.1 116 59C112.3 62.9 113.7 60.8 110 62.6C106.3 64.4 108.3 63.5 105 64.4C101.7 65.3 102.8 65.2 100 65.3C97.2 65.4 97 65.7 96.7 64.6Z" fill="rgb(14,44,224)"/>
<path d="M98.3 71.9C98.6 70.9 99.6 71 103 69C106.4 67 105.5 65.7 108.5 66C111.5 66.3 111.8 67.8 112 70C112.2 72.2 111.3 72 109 72.5C106.7 73 107.3 71.8 105 71.6C102.7 71.4 104.2 71.9 102 72C99.8 72.1 98 72.9 98.3 71.9Z" fill="rgb(14,44,224)"/>
<path d="M64.9 32.6C63.4 34.9 62.3 34.3 60.2 39.3C58.1 44.3 58.7 42.2 58.7 47.8C58.7 53.4 58 50.8 60.2 56.1C62.5 61.4 61.3 59.7 65.5 63.7C69.6 67.7 68.1 65.9 72.7 68.1C77.3 70.2 75.4 69.3 79.3 70C83.2 70.7 82.7 70.1 84.5 70.1L84.5 69.5C82.9 69.1 83.3 69.6 79.7 68.4C76.2 67.1 77.8 68.1 73.9 65.7C70 63.4 71.2 65 67.9 61.3C64.6 57.6 65.6 59.2 64 54.7C62.4 50.2 62.9 52.3 63.1 47.8C63.3 43.3 62.6 45.3 64.4 41.1C66.3 36.9 67.2 37.3 68.7 35.4Z" fill="rgb(226,30,28)"/>
<path d="M65.2 45.5C65.5 44 65 44.6 66.2 43.3C67.4 42 66.5 42.4 68.7 41.7C70.9 41 69.8 41.3 72.8 41.2C75.8 41.1 74.4 41.4 77.8 41.4C81.2 41.4 79.5 41.6 82.9 41.2C86.3 40.8 84.6 41 88 40.2C91.4 39.4 89.6 39.9 93 38.7C96.4 37.5 94.7 38.2 98.1 36.5C101.5 34.8 99.9 35.4 103.1 33.5C106.3 31.6 102.7 34.4 107.6 30.8C112.5 27.2 111.7 28.1 117.8 22.7C123.9 17.3 121.2 19.7 125.9 14.6C130.6 9.5 128.3 12.3 131.9 7.5C135.5 2.7 133.4 5.6 136.7 0.1C140 -5.4 138.5 -2.4 141.7 -9C144.9 -15.6 145.2 -17.9 146.3 -19.6C147.4 -21.3 146.2 -18.2 145 -14C143.8 -9.8 145.1 -14.2 142.8 -7C140.5 0.2 141 0.2 138.2 7.5C135.4 14.8 137.1 10 134.5 15C131.9 20 132.4 18 130.3 22.5C128.2 27 129.8 24.5 128.1 28.4C126.4 32.3 127.4 29.9 125.2 34.3C123 38.7 124.2 37 121.5 41.7C118.8 46.4 120.3 44.1 117.1 48.3C113.9 52.5 115.1 51.2 111.9 54.2C108.7 57.2 110.5 55.4 107.5 57.3C104.5 59.2 105.8 58.3 103 59.8C100.2 61.3 101.7 60.7 99 61.8C96.3 62.9 98 62.5 95 63.2C92 63.9 94 63.7 90 64C86 64.3 87.6 64.7 82.9 64C78.2 63.3 80 64 75.8 62C71.6 60 73.2 61 70.2 58C67.2 55 68.4 56.3 66.7 52.9C65 49.5 65.7 50.3 65.2 47.8C64.7 45.3 64.9 47 65.2 45.5Z" fill="#fff" stroke="#444" stroke-width="0.5"/>
</g>
<g transform="translate(0 249)">
<path d="M68.7 35.3C69.7 34.1 69.3 34.1 71.7 31.8C74.1 29.5 72.8 30.9 75.8 28.5C78.9 26 77.5 27.1 81 24.5C84.5 21.9 82.7 23.1 86.4 20.5C90.2 18 87.1 21.4 92.3 16.7C97.5 12 96.5 12.5 102.1 6.5C107.6 0.5 104.8 3.7 109 -1.2C113.3 -6.2 111.5 -3.2 114.7 -8.4C118 -13.6 116.4 -11.5 118.8 -17C121.2 -22.5 119.9 -20.2 122 -24.8C124 -29.5 122.6 -26.5 124.9 -30.9C127.2 -35.3 126.4 -33.1 128.8 -38C131.2 -42.9 130.1 -40.8 132.1 -45.6C134.1 -50.4 133.1 -48 134.8 -52.5C136.6 -57 135.2 -53.8 137.3 -59.1C139.5 -64.5 138.8 -63 141.2 -68.6C143.6 -74.2 143.5 -73.5 144.7 -76L138.3 -79C137.2 -76.5 137.4 -77.1 134.8 -71.4C132.2 -65.7 132.9 -67.2 130.7 -61.9C128.4 -56.5 129.9 -59.7 128 -55.3C126.1 -51 127.1 -53.3 124.9 -48.8C122.8 -44.3 124.1 -46.4 121.6 -41.8C119 -37.2 119.8 -39.5 117.3 -34.9C114.8 -30.4 116.1 -33.1 114 -28.2C112 -23.2 113.1 -25.4 111.2 -20C109.3 -14.6 110.7 -17 108.3 -12C105.9 -7 107.4 -10.1 104 -5.2C100.5 -0.2 103 -3.1 97.9 2.9C92.9 8.9 93.5 8.4 88.7 12.9C83.9 17.4 87.1 13.9 83.6 16.5C80 19 81.6 17.8 78 20.5C74.4 23.2 76 22 72.8 24.5C69.5 27.1 70.9 25.7 68.3 28.2C65.7 30.7 66 30.7 64.9 31.9Z" fill="rgb(14,44,224)"/>
<path d="M116.6 -27.2C117.8 -29.3 117.5 -29.1 120 -33.5C122.6 -37.9 121.7 -35.7 124.2 -40.4C126.7 -45.1 125.4 -43 127.5 -47.6C129.5 -52.3 128.6 -49.9 130.4 -54.3C132.2 -58.7 130.7 -55.6 133 -60.9C135.2 -66.3 134.5 -64.7 137.1 -70.4C139.7 -76.1 139.5 -75.4 140.7 -77.9L138.1 -79.1C137 -76.5 137.2 -77.2 134.7 -71.5C132.2 -65.7 132.9 -67.2 130.8 -61.8C128.6 -56.4 130 -59.6 128.2 -55.2C126.3 -50.8 127.3 -53.2 125.3 -48.6C123.3 -44 124.5 -46.2 122.1 -41.5C119.7 -36.8 120.4 -39.1 118.1 -34.5C115.8 -29.9 116.2 -30.1 115.3 -27.8Z" fill="rgb(10,20,150)"/>
<path d="M144.7 -76.1C146.3 -79.6 146.4 -80.4 149.4 -86.4C152.4 -92.4 151.3 -89.4 153.8 -94.2C156.4 -98.9 154.8 -95.5 157.1 -100.7C159.4 -105.9 158.4 -103.8 160.9 -109.8C163.4 -115.8 162.1 -113 164.5 -118.7C166.9 -124.5 165.8 -122 168.1 -126.9C170.4 -131.8 168.8 -127.2 171.5 -133.6C174.1 -139.9 173.3 -137.7 176.1 -146C178.8 -154.3 178.5 -154.3 179.7 -158.4L179.3 -158.6C176.9 -155 176.5 -155.4 171.9 -148C167.3 -140.6 168.9 -142.4 165.5 -136.4C162.2 -130.5 164.6 -134.9 161.9 -130.1C159.2 -125.3 160.4 -127.7 157.5 -122.1C154.6 -116.4 156 -119.1 153.1 -113.2C150.3 -107.4 151.2 -109.6 148.9 -104.5C146.6 -99.3 148.3 -102.8 146.2 -97.8C144.1 -92.9 145.2 -95.9 142.6 -89.6C140 -83.2 139.7 -82.4 138.3 -78.9Z" fill="rgb(14,44,224)"/>
<path d="M142.4 -77.1C143.9 -80.6 144.1 -81.4 147 -87.5C150 -93.6 148.8 -90.6 151.3 -95.4C153.8 -100.2 152.1 -96.8 154.4 -101.9C156.8 -107.1 155.8 -104.9 158.3 -110.9C160.9 -116.9 159.6 -114.2 162.1 -119.9C164.6 -125.6 163.5 -123.1 165.9 -128.1C168.2 -133 166.5 -128.3 169.3 -134.6C172 -140.9 171.1 -138.8 174.2 -146.9C177.3 -155 177.1 -154.9 178.5 -159L178.3 -159.1C176.1 -155.4 175.9 -155.7 171.6 -148.1C167.4 -140.6 168.8 -142.4 165.6 -136.4C162.4 -130.4 164.6 -134.9 162 -130C159.4 -125.2 160.6 -127.6 157.7 -121.9C154.9 -116.3 156.3 -119 153.5 -113.1C150.7 -107.2 151.7 -109.4 149.4 -104.2C147 -99.1 148.7 -102.6 146.5 -97.7C144.4 -92.7 145.5 -95.7 142.8 -89.5C140.1 -83.2 139.9 -82.4 138.4 -78.8Z" fill="rgb(10,20,150)"/>
<path d="M147.1 -103.5C149 -107 149.2 -107.1 152.8 -113.9C156.4 -120.6 154.7 -117.5 158.1 -123.8C161.4 -130.2 159.6 -126.3 162.8 -132.9C165.9 -139.4 164.5 -136 167.6 -143.5C170.6 -151 170.5 -151.5 171.9 -155.4L171.7 -155.6C169.6 -151.9 169.2 -151.7 165.4 -144.5C161.6 -137.4 163.5 -140.6 160.2 -134.1C157 -127.6 158.8 -131.4 155.7 -125C152.7 -118.5 154.2 -121.7 151 -114.7C147.8 -107.8 147.7 -107.6 146.1 -104.1Z" fill="rgb(226,30,28)"/>
<path d="M104 64.5 L116 58 L112 70 L106 68Z" fill="rgb(190,240,110)"/>
<path d="M101 66.5 L110 64 L108 69 L103 69.5Z" fill="rgb(112,240,132)"/>
<path d="M96.7 64.6C96.4 63.5 96.9 63.6 99 62.1C101.1 60.6 100.2 61.5 103 60C105.8 58.5 104.5 59.4 107.5 57.5C110.5 55.6 108.7 57.4 111.9 54.4C115.1 51.4 114.1 49.6 117.1 48.5C120.1 47.4 121.4 47.5 121 51C120.6 54.5 119.7 55.1 116 59C112.3 62.9 113.7 60.8 110 62.6C106.3 64.4 108.3 63.5 105 64.4C101.7 65.3 102.8 65.2 100 65.3C97.2 65.4 97 65.7 96.7 64.6Z" fill="rgb(14,44,224)"/>
<path d="M98.3 71.9C98.6 70.9 99.6 71 103 69C106.4 67 105.5 65.7 108.5 66C111.5 66.3 111.8 67.8 112 70C112.2 72.2 111.3 72 109 72.5C106.7 73 107.3 71.8 105 71.6C102.7 71.4 104.2 71.9 102 72C99.8 72.1 98 72.9 98.3 71.9Z" fill="rgb(14,44,224)"/>
<path d="M64.9 32.6C63.4 34.9 62.3 34.3 60.2 39.3C58.1 44.3 58.7 42.2 58.7 47.8C58.7 53.4 58 50.8 60.2 56.1C62.5 61.4 61.3 59.7 65.5 63.7C69.6 67.7 68.1 65.9 72.7 68.1C77.3 70.2 75.4 69.3 79.3 70C83.2 70.7 82.7 70.1 84.5 70.1L84.5 69.5C82.9 69.1 83.3 69.6 79.7 68.4C76.2 67.1 77.8 68.1 73.9 65.7C70 63.4 71.2 65 67.9 61.3C64.6 57.6 65.6 59.2 64 54.7C62.4 50.2 62.9 52.3 63.1 47.8C63.3 43.3 62.6 45.3 64.4 41.1C66.3 36.9 67.2 37.3 68.7 35.4Z" fill="rgb(226,30,28)"/>
<path d="M65.2 45.5C65.5 44 65 44.6 66.2 43.3C67.4 42 66.5 42.4 68.7 41.7C70.9 41 69.8 41.3 72.8 41.2C75.8 41.1 74.4 41.4 77.8 41.4C81.2 41.4 79.5 41.6 82.9 41.2C86.3 40.8 84.6 41 88 40.2C91.4 39.4 89.6 39.9 93 38.7C96.4 37.5 94.7 38.2 98.1 36.5C101.5 34.8 99.9 35.4 103.1 33.5C106.3 31.6 102.7 34.4 107.6 30.8C112.5 27.2 111.7 28.1 117.8 22.7C123.9 17.3 121.2 19.7 125.9 14.6C130.6 9.5 128.3 12.3 131.9 7.5C135.5 2.7 133.4 5.6 136.7 0.1C140 -5.4 138.5 -2.4 141.7 -9C144.9 -15.6 145.2 -17.9 146.3 -19.6C147.4 -21.3 146.2 -18.2 145 -14C143.8 -9.8 145.1 -14.2 142.8 -7C140.5 0.2 141 0.2 138.2 7.5C135.4 14.8 137.1 10 134.5 15C131.9 20 132.4 18 130.3 22.5C128.2 27 129.8 24.5 128.1 28.4C126.4 32.3 127.4 29.9 125.2 34.3C123 38.7 124.2 37 121.5 41.7C118.8 46.4 120.3 44.1 117.1 48.3C113.9 52.5 115.1 51.2 111.9 54.2C108.7 57.2 110.5 55.4 107.5 57.3C104.5 59.2 105.8 58.3 103 59.8C100.2 61.3 101.7 60.7 99 61.8C96.3 62.9 98 62.5 95 63.2C92 63.9 94 63.7 90 64C86 64.3 87.6 64.7 82.9 64C78.2 63.3 80 64 75.8 62C71.6 60 73.2 61 70.2 58C67.2 55 68.4 56.3 66.7 52.9C65 49.5 65.7 50.3 65.2 47.8C64.7 45.3 64.9 47 65.2 45.5Z" fill="#fff" stroke="#444" stroke-width="0.5"/>
</g>
</g>
</g>
<g class="p" transform="translate(7.7 364.8)">
<clipPath id="c3"><path d="M0 0C20 0.3 33.3 0.5 60 0.8C86.7 1.1 70.8 1.1 80 1C89.2 0.9 82.9 1.1 87.6 0.4C92.3 -0.3 90.6 -0.2 94 -1.2C97.4 -2.2 95.2 -1.6 97.8 -2.7C100.4 -3.8 98.4 -2.6 101.8 -4.4C105.2 -6.2 103.3 -5.1 107.9 -8.2C112.5 -11.3 110.5 -9.2 115.5 -13.6C120.5 -18 118.6 -16.9 122.8 -21.5C127 -26.1 124.7 -23.9 128 -27.5C131.3 -31.1 127.7 -27.3 132.6 -32.3C137.5 -37.3 137.7 -37.3 142.8 -42.4C147.9 -47.5 144.4 -44.6 147.8 -47.6C151.2 -50.7 148.9 -49.5 153 -51.4C157.1 -53.3 157.7 -52.7 160 -53.3L239.5 -53.3L239.5 113.4L167.5 113.4C163.8 113.9 162.9 113.2 156.4 114.8C149.9 116.4 152.8 115 148 118.2C143.2 121.4 146 119.5 142 124.3C138 129.1 140.4 126.6 136 132.6C131.6 138.6 133.6 136.6 128.8 142.2C124 147.8 126.5 144.7 121.7 149.4C116.9 154.1 119.3 152.5 114.5 156.4C109.7 160.3 111.3 158.8 107.3 161.2C103.3 163.6 105.9 162.3 102.5 163.6C99.1 164.9 101.8 163.9 97 165C92.2 166.1 95.3 165.7 88 166.8C80.7 167.9 83.7 167.7 75.2 168.4C66.7 169.1 74.2 169.1 62.5 168.8C50.8 168.5 60.8 168.5 40 167.5C19.2 166.5 13.3 166.4 0 165.8Z"/></clipPath>
<g clip-path="url(#c3)">
<rect x="-2" y="-60" width="250" height="240" fill="rgb(127,203,250)"/>
<rect x="150" y="-60" width="100" height="240" fill="rgb(122,246,212)"/>
<path d="M178.5 10 L183.5 8 L198.3 -53 L192.2 -53Z" fill="rgb(128,244,234)" stroke="rgb(40,80,110)" stroke-opacity="0.55" stroke-width="0.35"/>
<path d="M179 94 L184.5 92 L203.5 22.5 L228 -53 L219.6 -53 L197.3 22.5Z" fill="rgb(128,244,234)" stroke="rgb(40,80,110)" stroke-opacity="0.55" stroke-width="0.35"/>
<path d="M195.2 115 L202.3 115 L226.6 22.5 L241 -30 L241 -53 L233.6 -53 L213.5 22.5Z" fill="rgb(128,244,234)" stroke="rgb(40,80,110)" stroke-opacity="0.55" stroke-width="0.35"/>
<path d="M241 5 L226.6 52.5 L207.8 115 L241 115Z" fill="rgb(128,244,234)" stroke="rgb(40,80,110)" stroke-opacity="0.55" stroke-width="0.35"/>
<path d="M204 -53L158 115" fill="none" stroke="rgb(40,80,110)" stroke-opacity="0.55" stroke-width="0.35"/>
<path d="M212 -53L166 115" fill="none" stroke="rgb(40,80,110)" stroke-opacity="0.55" stroke-width="0.35"/>
<path d="M232 -53L186 115" fill="none" stroke="rgb(40,80,110)" stroke-opacity="0.55" stroke-width="0.35"/>
<g transform="translate(0 -83)">
<path d="M66.8 33.6C67.9 32.4 67.5 32.4 70 30C72.5 27.6 71.1 29 74.3 26.5C77.5 24 75.9 25.2 79.5 22.5C83.1 19.8 81.3 21.1 85 18.5C88.7 15.9 85.5 19.4 90.5 14.8C95.5 10.2 94.7 10.7 100 4.7C105.3 -1.3 102.7 1.8 106.5 -3.2C110.3 -8.2 108.7 -5.1 111.5 -10.2C114.3 -15.3 112.8 -13.1 115 -18.5C117.2 -23.9 116 -21.7 118 -26.5C120 -31.3 118.7 -28.4 121.1 -32.9C123.5 -37.4 122.7 -35.1 125.2 -39.9C127.7 -44.7 126.4 -42.5 128.5 -47.2C130.6 -51.9 129.6 -49.5 131.4 -53.9C133.2 -58.3 131.8 -55.1 134 -60.5C136.2 -65.9 135.5 -64.3 138 -70C140.5 -75.7 138.8 -71.5 141.5 -77.5C144.2 -83.5 143.2 -81.8 146 -88C148.8 -94.2 147.7 -91.1 150 -96C152.3 -100.9 150.7 -97.4 153 -102.6C155.3 -107.8 154.3 -105.6 157 -111.5C159.7 -117.4 158.3 -114.7 161 -120.4C163.7 -126.1 162.5 -123.6 165 -128.5C167.5 -133.4 165.5 -128.8 168.5 -135C171.5 -141.2 170.3 -139.2 174 -147C177.7 -154.8 177.7 -154.7 179.5 -158.5L179.5 -75.5C177.7 -71.7 177.7 -71.8 174 -64C170.3 -56.2 171.5 -58.2 168.5 -52C165.5 -45.8 167.5 -50.4 165 -45.5C162.5 -40.6 163.7 -43.1 161 -37.4C158.3 -31.7 159.7 -34.4 157 -28.5C154.3 -22.6 155.3 -24.8 153 -19.6C150.7 -14.4 152.3 -17.9 150 -13C147.7 -8.1 148.8 -11.2 146 -5C143.2 1.2 144.2 -0.5 141.5 5.5C138.8 11.5 140.5 7.3 138 13C135.5 18.7 136.2 17.1 134 22.5C131.8 27.9 133.2 24.7 131.4 29.1C129.6 33.5 130.6 31.1 128.5 35.8C126.4 40.5 127.7 38.3 125.2 43.1C122.7 47.9 123.5 45.6 121.1 50.1C118.7 54.6 120 51.7 118 56.5C116 61.3 117.2 59.1 115 64.5C112.8 69.9 114.3 67.7 111.5 72.8C108.7 77.9 110.3 74.8 106.5 79.8C102.7 84.8 105.3 81.7 100 87.7C94.7 93.7 95.5 93.2 90.5 97.8C85.5 102.4 88.7 98.9 85 101.5C81.3 104.1 83.1 102.8 79.5 105.5C75.9 108.2 77.5 107 74.3 109.5C71.1 112 72.5 110.6 70 113C67.5 115.4 67.9 115.4 66.8 116.6L69 114C71 111.8 71 111.5 75 107.3C79 103.1 77.4 106 81.1 101.3C84.8 96.6 84.8 98.2 86.1 93.1C87.4 88 87.8 90.1 85.1 86.1C82.4 82.1 84.4 84.7 78 81C71.6 77.3 73 80.3 65.9 74.9C58.8 69.5 60.4 72.2 56.7 64.8C53 57.4 54.3 60 54.7 52.6C55.1 45.2 56.2 46.9 57.8 42.5C59.4 38.1 57.8 41.5 59.5 39.5C61.2 37.5 61.8 37.5 63 36.5Z" fill="rgb(132,240,250)"/>
<path d="M146 -85.5C146.6 -84.4 145.8 -87 149.7 -86.8C153.6 -86.6 151.7 -84.5 157.8 -84.8C163.9 -85.1 162.5 -84.1 167.9 -87.8C173.3 -91.5 170 -88.5 174 -95.9C178 -103.3 176.3 -100.6 180 -110.1C183.7 -119.6 181.8 -114.3 185.1 -124.3C188.4 -134.3 187.7 -131.4 190 -140C192.3 -148.6 196.7 -146.7 192 -150C187.3 -153.3 183.6 -154 176 -150C168.4 -146 175 -150 169.2 -138C163.4 -126 165.6 -130 158.5 -114C151.4 -98 152 -99.5 147.8 -90C143.6 -80.5 145.4 -86.6 146 -85.5Z" fill="rgb(122,246,212)"/>
<path d="M78 -3C86 -6.3 95 -8.3 104 -8C113 -7.7 106.3 -6.2 105 -2C103.7 2.2 104.8 -0.9 100 4.7C95.2 10.3 95.5 10.2 90.5 14.8C85.5 19.4 88.5 16.4 85 18.5C81.5 20.6 81.2 21.8 80 21C78.8 20.2 80 20 81.5 16C83 12 85 13.7 84.5 9C84 4.3 82.2 6 80 2C77.8 -2 70 0.3 78 -3Z" fill="rgb(132,240,250)" stroke="rgb(40,80,110)" stroke-opacity="0.55" stroke-width="0.35"/>
<path d="M70.5 36.5C72.2 32.8 72.7 33.8 77 30C81.3 26.2 78.3 28.1 83.5 25C88.7 21.9 86.1 24 92.5 20.8C98.9 17.6 95.8 18.6 102.6 15.5C109.4 12.4 106.4 13.9 112.8 11.4C119.2 8.9 117.4 8.8 121.9 8.1C126.4 7.4 124.2 8.1 126.4 9.4C128.6 10.7 128.7 10.3 128.5 12C128.3 13.7 129.5 11 125.9 14.6C122.3 18.2 123.9 17.3 117.8 22.7C111.7 28.1 114.2 26.2 107.6 30.8C101 35.4 104.5 33.4 98 36.5C91.5 39.6 94.7 38.5 88 40C81.3 41.5 83.3 40.7 78 41C72.7 41.3 74.5 42.5 72 41C69.5 39.5 68.8 40.2 70.5 36.5Z" fill="rgb(127,203,250)" stroke="rgb(40,80,110)" stroke-opacity="0.55" stroke-width="0.35"/>
<path d="M106.5 24C108.2 20.4 108 21.4 112 17.5C116 13.6 114.5 15 118.5 12.4C122.5 9.8 121 10.2 124 9.6C127 9 126.1 9.5 127.4 10.5C128.7 11.5 128.5 11.2 128 12.6C127.5 14 129.3 11.4 125.9 14.8C122.5 18.2 122.8 18.4 117.8 22.9C112.8 27.4 114.6 26.5 111 28.3C107.4 30.1 108.5 29.8 107 28.4C105.5 27 104.8 27.6 106.5 24Z" fill="rgb(131,186,249)" stroke="rgb(40,80,110)" stroke-opacity="0.55" stroke-width="0.35"/>
<ellipse cx="56.7" cy="26.3" rx="16.5" ry="13.6" transform="rotate(-8 56.7 26.3)" fill="rgb(134,160,248)" stroke="rgb(40,80,110)" stroke-opacity="0.55" stroke-width="0.35"/>
<path d="M69.2 41.5C69.9 40 70.4 39.6 75 37C79.6 34.4 77.6 35.5 82.9 33.6C88.2 31.7 85.9 32.3 91 31.3C96.1 30.3 93.8 30.8 98.1 30.6C102.4 30.4 100.5 30.8 104 30.8C107.5 30.8 108.8 29.6 108.5 30.6C108.2 31.6 106.6 31.7 103.1 33.7C99.6 35.7 101.5 35 98.1 36.7C94.7 38.4 96.4 37.7 93 38.9C89.6 40.1 91.4 39.6 88 40.4C84.6 41.2 86.3 41 82.9 41.4C79.5 41.8 81.2 41.6 77.8 41.6C74.4 41.6 75.7 41.4 72.8 41.4C69.9 41.4 68.5 43 69.2 41.5Z" fill="rgb(134,160,248)" stroke="rgb(40,80,110)" stroke-opacity="0.55" stroke-width="0.35"/>
<path d="M92.3 17C93.5 17.3 95.8 15 102.6 8.9C109.4 2.8 106 4.8 112.8 -1.3C119.6 -7.4 116.2 -5.5 122.9 -9.4C129.6 -13.3 127.3 -11.2 133 -12.9C138.7 -14.6 136.1 -12.5 140.1 -14.4C144.1 -16.3 141.7 -13.3 145 -18.5C148.3 -23.7 146 -21.2 150 -30C154 -38.8 152.7 -35.7 157 -45C161.3 -54.3 159 -49.3 163 -58C167 -66.7 166.3 -65.3 169 -71C171.7 -76.7 171.3 -75.3 171 -75C170.7 -74.7 170.7 -74.7 168 -70C165.3 -65.3 167 -66.3 163 -61C159 -55.7 161 -61.2 155.9 -54C150.8 -46.8 154.8 -48.8 147.8 -39.5C140.8 -30.2 143.3 -33.5 135 -26C126.7 -18.5 130.5 -22.7 122.8 -17C115.1 -11.3 117.6 -14.3 112 -9C106.4 -3.7 110.3 -6.7 106 -1C101.7 4.7 103.6 2 99 8C94.4 14 91.1 16.7 92.3 17Z" fill="rgb(122,246,212)" stroke="rgb(40,80,110)" stroke-opacity="0.55" stroke-width="0.35"/>
<path d="M114.5 -8.8C116.4 -11.3 116.7 -13.2 119 -18.5C121.3 -23.8 121 -23.5 123.3 -28.7C125.6 -33.9 125.1 -33.5 127.7 -38C130.3 -42.5 130.1 -39.9 133 -45.5C135.9 -51.1 135.2 -51.3 138.6 -59C142 -66.7 143.8 -67.4 145.8 -74.5C147.8 -81.6 145 -81.6 146 -85.5C147 -89.4 147.4 -87.5 149.7 -89C152 -90.5 151.1 -90.2 154.6 -91.1C158.1 -92 158.4 -90.3 162.7 -92.2C167 -94.1 166.5 -92.3 170.8 -98.2C175.1 -104.1 175.4 -105.8 178.9 -114.4C182.4 -123 182.2 -124 184 -130.6C185.8 -137.2 184 -136.8 185.5 -139C187 -141.2 189.1 -144.5 189.5 -139C189.9 -133.5 189 -128.3 187 -118.5C185 -108.7 184.5 -109.9 182 -102.3C179.5 -94.7 179.5 -95.5 177.5 -90.1C175.5 -84.7 175.8 -87 174.5 -82C173.2 -77 174.2 -76.4 172.5 -71.3C170.8 -66.2 170.8 -67.7 168 -63C165.2 -58.3 165.7 -58.8 162 -53.5C158.3 -48.2 157.8 -46.7 154 -43C150.2 -39.3 152.9 -44 147.8 -39.5C142.7 -35 141.7 -32 135 -26C128.3 -20 128.9 -21.5 122.8 -17C116.7 -12.5 114.2 -11.2 112 -9C109.8 -6.8 112.6 -6.3 114.5 -8.8Z" fill="rgb(112,240,132)" stroke="rgb(40,80,110)" stroke-opacity="0.55" stroke-width="0.35"/>
<path d="M194 -61.8C194.6 -61.4 193.4 -55 192.5 -49.8C191.6 -44.6 190.8 -41.4 189.5 -35.8C188.2 -30.2 187.5 -27 186 -21.8C184.5 -16.6 184.4 -12.2 182 -9.8C179.6 -7.4 174.6 -6.6 174 -9.8C173.4 -13 176.9 -19.8 179 -25.8C181.1 -31.8 182.4 -34.6 184.5 -39.8C186.6 -45 187.6 -47.4 189.5 -51.8C191.4 -56.2 193.4 -62.2 194 -61.8Z" fill="rgb(112,240,132)" stroke="rgb(40,80,110)" stroke-opacity="0.55" stroke-width="0.35"/>
<path d="M114 -8C114.3 -5 115.2 -8.7 117.9 -10.9C120.6 -13.1 117.4 -11.1 122.2 -14.5C127 -17.9 126.1 -15.9 132.4 -21C138.7 -26.1 135.8 -23 141.1 -29.8C146.4 -36.6 144.3 -34.1 148.4 -41.4C152.5 -48.7 151.3 -45.8 153.5 -51.6C155.7 -57.4 156.2 -53.4 155 -58.9C153.8 -64.4 153.5 -63.5 150 -68C146.5 -72.5 147.5 -71.2 144.5 -72.5C141.5 -73.8 144.5 -77.2 141 -72C137.5 -66.8 138.3 -65.7 134 -57C129.7 -48.3 132 -53.7 128 -46C124 -38.3 125.7 -42.7 122 -34C118.3 -25.3 119.7 -28.7 117 -20C114.3 -11.3 113.7 -11 114 -8Z" fill="rgb(190,240,110)" stroke="rgb(40,80,110)" stroke-opacity="0.55" stroke-width="0.35"/>
<path d="M165.4 -70.2 L164 -50 L157.8 -50 L162 -61Z" fill="rgb(190,240,110)" stroke="rgb(40,80,110)" stroke-opacity="0.55" stroke-width="0.35"/>
<path d="M121.8 -20.5C123.2 -19.8 122.9 -18.6 127 -22.8C131.1 -27 129.7 -25.6 134.1 -33C138.5 -40.4 136.8 -37.7 140.2 -45.1C143.6 -52.5 142.3 -48.8 144.3 -55.2C146.3 -61.6 146.7 -58.9 146.3 -64.4C145.9 -69.9 144.8 -70.6 143.1 -71.6C141.4 -72.6 143.1 -72.2 141.1 -67.4C139.1 -62.6 139.7 -64.4 137 -57.3C134.3 -50.2 136 -53.5 133 -46.1C130 -38.7 131.3 -42.1 127.9 -35C124.5 -27.9 124.8 -29.7 122.8 -24.9C120.8 -20.1 120.4 -21.2 121.8 -20.5Z" fill="rgb(240,245,120)" stroke="rgb(40,80,110)" stroke-opacity="0.55" stroke-width="0.35"/>
<path d="M84.1 66.8C85.1 64.7 86.3 65.8 91 66.5C95.7 67.2 93.8 65.3 98.3 68.8C102.8 72.3 104.4 72.8 104.4 76.9C104.4 81 103.7 82.3 98.3 81C92.9 79.7 92.8 77.6 88.1 72.9C83.4 68.2 83.1 68.9 84.1 66.8Z" fill="rgb(122,246,212)" stroke="rgb(40,80,110)" stroke-opacity="0.55" stroke-width="0.35"/>
<path d="M63.7 43.9C63.3 45.3 62.6 44.9 62.5 48C62.4 51.2 62.1 49.6 63.5 53.4C64.9 57.2 63.8 55.8 66.6 59.5C69.5 63.3 67.8 62 72 64.6C76.2 67.2 73.9 66.4 79.3 67.4C84.7 68.4 82.5 68.6 88.1 67.7C93.8 66.8 93.5 65.7 96.1 64.7L95.9 63.7C93.2 64.3 93.2 65.1 87.9 65.5C82.5 65.9 84.6 66 79.7 65C74.9 64 77 64.9 73.2 62.6C69.5 60.3 71.1 61.4 68.6 58.1C66.1 54.7 67 56 65.7 52.6C64.4 49.2 65 50.8 64.7 48C64.4 45.1 64.7 45.4 64.7 44.1Z" fill="rgb(112,240,132)" stroke="rgb(40,80,110)" stroke-opacity="0.55" stroke-width="0.35"/>
</g>
<g transform="translate(0 0)">
<path d="M66.8 33.6C67.9 32.4 67.5 32.4 70 30C72.5 27.6 71.1 29 74.3 26.5C77.5 24 75.9 25.2 79.5 22.5C83.1 19.8 81.3 21.1 85 18.5C88.7 15.9 85.5 19.4 90.5 14.8C95.5 10.2 94.7 10.7 100 4.7C105.3 -1.3 102.7 1.8 106.5 -3.2C110.3 -8.2 108.7 -5.1 111.5 -10.2C114.3 -15.3 112.8 -13.1 115 -18.5C117.2 -23.9 116 -21.7 118 -26.5C120 -31.3 118.7 -28.4 121.1 -32.9C123.5 -37.4 122.7 -35.1 125.2 -39.9C127.7 -44.7 126.4 -42.5 128.5 -47.2C130.6 -51.9 129.6 -49.5 131.4 -53.9C133.2 -58.3 131.8 -55.1 134 -60.5C136.2 -65.9 135.5 -64.3 138 -70C140.5 -75.7 138.8 -71.5 141.5 -77.5C144.2 -83.5 143.2 -81.8 146 -88C148.8 -94.2 147.7 -91.1 150 -96C152.3 -100.9 150.7 -97.4 153 -102.6C155.3 -107.8 154.3 -105.6 157 -111.5C159.7 -117.4 158.3 -114.7 161 -120.4C163.7 -126.1 162.5 -123.6 165 -128.5C167.5 -133.4 165.5 -128.8 168.5 -135C171.5 -141.2 170.3 -139.2 174 -147C177.7 -154.8 177.7 -154.7 179.5 -158.5L179.5 -75.5C177.7 -71.7 177.7 -71.8 174 -64C170.3 -56.2 171.5 -58.2 168.5 -52C165.5 -45.8 167.5 -50.4 165 -45.5C162.5 -40.6 163.7 -43.1 161 -37.4C158.3 -31.7 159.7 -34.4 157 -28.5C154.3 -22.6 155.3 -24.8 153 -19.6C150.7 -14.4 152.3 -17.9 150 -13C147.7 -8.1 148.8 -11.2 146 -5C143.2 1.2 144.2 -0.5 141.5 5.5C138.8 11.5 140.5 7.3 138 13C135.5 18.7 136.2 17.1 134 22.5C131.8 27.9 133.2 24.7 131.4 29.1C129.6 33.5 130.6 31.1 128.5 35.8C126.4 40.5 127.7 38.3 125.2 43.1C122.7 47.9 123.5 45.6 121.1 50.1C118.7 54.6 120 51.7 118 56.5C116 61.3 117.2 59.1 115 64.5C112.8 69.9 114.3 67.7 111.5 72.8C108.7 77.9 110.3 74.8 106.5 79.8C102.7 84.8 105.3 81.7 100 87.7C94.7 93.7 95.5 93.2 90.5 97.8C85.5 102.4 88.7 98.9 85 101.5C81.3 104.1 83.1 102.8 79.5 105.5C75.9 108.2 77.5 107 74.3 109.5C71.1 112 72.5 110.6 70 113C67.5 115.4 67.9 115.4 66.8 116.6L69 114C71 111.8 71 111.5 75 107.3C79 103.1 77.4 106 81.1 101.3C84.8 96.6 84.8 98.2 86.1 93.1C87.4 88 87.8 90.1 85.1 86.1C82.4 82.1 84.4 84.7 78 81C71.6 77.3 73 80.3 65.9 74.9C58.8 69.5 60.4 72.2 56.7 64.8C53 57.4 54.3 60 54.7 52.6C55.1 45.2 56.2 46.9 57.8 42.5C59.4 38.1 57.8 41.5 59.5 39.5C61.2 37.5 61.8 37.5 63 36.5Z" fill="rgb(132,240,250)"/>
<path d="M146 -85.5C146.6 -84.4 145.8 -87 149.7 -86.8C153.6 -86.6 151.7 -84.5 157.8 -84.8C163.9 -85.1 162.5 -84.1 167.9 -87.8C173.3 -91.5 170 -88.5 174 -95.9C178 -103.3 176.3 -100.6 180 -110.1C183.7 -119.6 181.8 -114.3 185.1 -124.3C188.4 -134.3 187.7 -131.4 190 -140C192.3 -148.6 196.7 -146.7 192 -150C187.3 -153.3 183.6 -154 176 -150C168.4 -146 175 -150 169.2 -138C163.4 -126 165.6 -130 158.5 -114C151.4 -98 152 -99.5 147.8 -90C143.6 -80.5 145.4 -86.6 146 -85.5Z" fill="rgb(122,246,212)"/>
<path d="M78 -3C86 -6.3 95 -8.3 104 -8C113 -7.7 106.3 -6.2 105 -2C103.7 2.2 104.8 -0.9 100 4.7C95.2 10.3 95.5 10.2 90.5 14.8C85.5 19.4 88.5 16.4 85 18.5C81.5 20.6 81.2 21.8 80 21C78.8 20.2 80 20 81.5 16C83 12 85 13.7 84.5 9C84 4.3 82.2 6 80 2C77.8 -2 70 0.3 78 -3Z" fill="rgb(132,240,250)" stroke="rgb(40,80,110)" stroke-opacity="0.55" stroke-width="0.35"/>
<path d="M70.5 36.5C72.2 32.8 72.7 33.8 77 30C81.3 26.2 78.3 28.1 83.5 25C88.7 21.9 86.1 24 92.5 20.8C98.9 17.6 95.8 18.6 102.6 15.5C109.4 12.4 106.4 13.9 112.8 11.4C119.2 8.9 117.4 8.8 121.9 8.1C126.4 7.4 124.2 8.1 126.4 9.4C128.6 10.7 128.7 10.3 128.5 12C128.3 13.7 129.5 11 125.9 14.6C122.3 18.2 123.9 17.3 117.8 22.7C111.7 28.1 114.2 26.2 107.6 30.8C101 35.4 104.5 33.4 98 36.5C91.5 39.6 94.7 38.5 88 40C81.3 41.5 83.3 40.7 78 41C72.7 41.3 74.5 42.5 72 41C69.5 39.5 68.8 40.2 70.5 36.5Z" fill="rgb(127,203,250)" stroke="rgb(40,80,110)" stroke-opacity="0.55" stroke-width="0.35"/>
<path d="M106.5 24C108.2 20.4 108 21.4 112 17.5C116 13.6 114.5 15 118.5 12.4C122.5 9.8 121 10.2 124 9.6C127 9 126.1 9.5 127.4 10.5C128.7 11.5 128.5 11.2 128 12.6C127.5 14 129.3 11.4 125.9 14.8C122.5 18.2 122.8 18.4 117.8 22.9C112.8 27.4 114.6 26.5 111 28.3C107.4 30.1 108.5 29.8 107 28.4C105.5 27 104.8 27.6 106.5 24Z" fill="rgb(131,186,249)" stroke="rgb(40,80,110)" stroke-opacity="0.55" stroke-width="0.35"/>
<ellipse cx="56.7" cy="26.3" rx="16.5" ry="13.6" transform="rotate(-8 56.7 26.3)" fill="rgb(134,160,248)" stroke="rgb(40,80,110)" stroke-opacity="0.55" stroke-width="0.35"/>
<path d="M69.2 41.5C69.9 40 70.4 39.6 75 37C79.6 34.4 77.6 35.5 82.9 33.6C88.2 31.7 85.9 32.3 91 31.3C96.1 30.3 93.8 30.8 98.1 30.6C102.4 30.4 100.5 30.8 104 30.8C107.5 30.8 108.8 29.6 108.5 30.6C108.2 31.6 106.6 31.7 103.1 33.7C99.6 35.7 101.5 35 98.1 36.7C94.7 38.4 96.4 37.7 93 38.9C89.6 40.1 91.4 39.6 88 40.4C84.6 41.2 86.3 41 82.9 41.4C79.5 41.8 81.2 41.6 77.8 41.6C74.4 41.6 75.7 41.4 72.8 41.4C69.9 41.4 68.5 43 69.2 41.5Z" fill="rgb(134,160,248)" stroke="rgb(40,80,110)" stroke-opacity="0.55" stroke-width="0.35"/>
<path d="M92.3 17C93.5 17.3 95.8 15 102.6 8.9C109.4 2.8 106 4.8 112.8 -1.3C119.6 -7.4 116.2 -5.5 122.9 -9.4C129.6 -13.3 127.3 -11.2 133 -12.9C138.7 -14.6 136.1 -12.5 140.1 -14.4C144.1 -16.3 141.7 -13.3 145 -18.5C148.3 -23.7 146 -21.2 150 -30C154 -38.8 152.7 -35.7 157 -45C161.3 -54.3 159 -49.3 163 -58C167 -66.7 166.3 -65.3 169 -71C171.7 -76.7 171.3 -75.3 171 -75C170.7 -74.7 170.7 -74.7 168 -70C165.3 -65.3 167 -66.3 163 -61C159 -55.7 161 -61.2 155.9 -54C150.8 -46.8 154.8 -48.8 147.8 -39.5C140.8 -30.2 143.3 -33.5 135 -26C126.7 -18.5 130.5 -22.7 122.8 -17C115.1 -11.3 117.6 -14.3 112 -9C106.4 -3.7 110.3 -6.7 106 -1C101.7 4.7 103.6 2 99 8C94.4 14 91.1 16.7 92.3 17Z" fill="rgb(122,246,212)" stroke="rgb(40,80,110)" stroke-opacity="0.55" stroke-width="0.35"/>
<path d="M114.5 -8.8C116.4 -11.3 116.7 -13.2 119 -18.5C121.3 -23.8 121 -23.5 123.3 -28.7C125.6 -33.9 125.1 -33.5 127.7 -38C130.3 -42.5 130.1 -39.9 133 -45.5C135.9 -51.1 135.2 -51.3 138.6 -59C142 -66.7 143.8 -67.4 145.8 -74.5C147.8 -81.6 145 -81.6 146 -85.5C147 -89.4 147.4 -87.5 149.7 -89C152 -90.5 151.1 -90.2 154.6 -91.1C158.1 -92 158.4 -90.3 162.7 -92.2C167 -94.1 166.5 -92.3 170.8 -98.2C175.1 -104.1 175.4 -105.8 178.9 -114.4C182.4 -123 182.2 -124 184 -130.6C185.8 -137.2 184 -136.8 185.5 -139C187 -141.2 189.1 -144.5 189.5 -139C189.9 -133.5 189 -128.3 187 -118.5C185 -108.7 184.5 -109.9 182 -102.3C179.5 -94.7 179.5 -95.5 177.5 -90.1C175.5 -84.7 175.8 -87 174.5 -82C173.2 -77 174.2 -76.4 172.5 -71.3C170.8 -66.2 170.8 -67.7 168 -63C165.2 -58.3 165.7 -58.8 162 -53.5C158.3 -48.2 157.8 -46.7 154 -43C150.2 -39.3 152.9 -44 147.8 -39.5C142.7 -35 141.7 -32 135 -26C128.3 -20 128.9 -21.5 122.8 -17C116.7 -12.5 114.2 -11.2 112 -9C109.8 -6.8 112.6 -6.3 114.5 -8.8Z" fill="rgb(112,240,132)" stroke="rgb(40,80,110)" stroke-opacity="0.55" stroke-width="0.35"/>
<path d="M194 -61.8C194.6 -61.4 193.4 -55 192.5 -49.8C191.6 -44.6 190.8 -41.4 189.5 -35.8C188.2 -30.2 187.5 -27 186 -21.8C184.5 -16.6 184.4 -12.2 182 -9.8C179.6 -7.4 174.6 -6.6 174 -9.8C173.4 -13 176.9 -19.8 179 -25.8C181.1 -31.8 182.4 -34.6 184.5 -39.8C186.6 -45 187.6 -47.4 189.5 -51.8C191.4 -56.2 193.4 -62.2 194 -61.8Z" fill="rgb(112,240,132)" stroke="rgb(40,80,110)" stroke-opacity="0.55" stroke-width="0.35"/>
<path d="M114 -8C114.3 -5 115.2 -8.7 117.9 -10.9C120.6 -13.1 117.4 -11.1 122.2 -14.5C127 -17.9 126.1 -15.9 132.4 -21C138.7 -26.1 135.8 -23 141.1 -29.8C146.4 -36.6 144.3 -34.1 148.4 -41.4C152.5 -48.7 151.3 -45.8 153.5 -51.6C155.7 -57.4 156.2 -53.4 155 -58.9C153.8 -64.4 153.5 -63.5 150 -68C146.5 -72.5 147.5 -71.2 144.5 -72.5C141.5 -73.8 144.5 -77.2 141 -72C137.5 -66.8 138.3 -65.7 134 -57C129.7 -48.3 132 -53.7 128 -46C124 -38.3 125.7 -42.7 122 -34C118.3 -25.3 119.7 -28.7 117 -20C114.3 -11.3 113.7 -11 114 -8Z" fill="rgb(190,240,110)" stroke="rgb(40,80,110)" stroke-opacity="0.55" stroke-width="0.35"/>
<path d="M165.4 -70.2 L164 -50 L157.8 -50 L162 -61Z" fill="rgb(190,240,110)" stroke="rgb(40,80,110)" stroke-opacity="0.55" stroke-width="0.35"/>
<path d="M121.8 -20.5C123.2 -19.8 122.9 -18.6 127 -22.8C131.1 -27 129.7 -25.6 134.1 -33C138.5 -40.4 136.8 -37.7 140.2 -45.1C143.6 -52.5 142.3 -48.8 144.3 -55.2C146.3 -61.6 146.7 -58.9 146.3 -64.4C145.9 -69.9 144.8 -70.6 143.1 -71.6C141.4 -72.6 143.1 -72.2 141.1 -67.4C139.1 -62.6 139.7 -64.4 137 -57.3C134.3 -50.2 136 -53.5 133 -46.1C130 -38.7 131.3 -42.1 127.9 -35C124.5 -27.9 124.8 -29.7 122.8 -24.9C120.8 -20.1 120.4 -21.2 121.8 -20.5Z" fill="rgb(240,245,120)" stroke="rgb(40,80,110)" stroke-opacity="0.55" stroke-width="0.35"/>
<path d="M84.1 66.8C85.1 64.7 86.3 65.8 91 66.5C95.7 67.2 93.8 65.3 98.3 68.8C102.8 72.3 104.4 72.8 104.4 76.9C104.4 81 103.7 82.3 98.3 81C92.9 79.7 92.8 77.6 88.1 72.9C83.4 68.2 83.1 68.9 84.1 66.8Z" fill="rgb(122,246,212)" stroke="rgb(40,80,110)" stroke-opacity="0.55" stroke-width="0.35"/>
<path d="M63.7 43.9C63.3 45.3 62.6 44.9 62.5 48C62.4 51.2 62.1 49.6 63.5 53.4C64.9 57.2 63.8 55.8 66.6 59.5C69.5 63.3 67.8 62 72 64.6C76.2 67.2 73.9 66.4 79.3 67.4C84.7 68.4 82.5 68.6 88.1 67.7C93.8 66.8 93.5 65.7 96.1 64.7L95.9 63.7C93.2 64.3 93.2 65.1 87.9 65.5C82.5 65.9 84.6 66 79.7 65C74.9 64 77 64.9 73.2 62.6C69.5 60.3 71.1 61.4 68.6 58.1C66.1 54.7 67 56 65.7 52.6C64.4 49.2 65 50.8 64.7 48C64.4 45.1 64.7 45.4 64.7 44.1Z" fill="rgb(112,240,132)" stroke="rgb(40,80,110)" stroke-opacity="0.55" stroke-width="0.35"/>
</g>
<g transform="translate(0 83)">
<path d="M66.8 33.6C67.9 32.4 67.5 32.4 70 30C72.5 27.6 71.1 29 74.3 26.5C77.5 24 75.9 25.2 79.5 22.5C83.1 19.8 81.3 21.1 85 18.5C88.7 15.9 85.5 19.4 90.5 14.8C95.5 10.2 94.7 10.7 100 4.7C105.3 -1.3 102.7 1.8 106.5 -3.2C110.3 -8.2 108.7 -5.1 111.5 -10.2C114.3 -15.3 112.8 -13.1 115 -18.5C117.2 -23.9 116 -21.7 118 -26.5C120 -31.3 118.7 -28.4 121.1 -32.9C123.5 -37.4 122.7 -35.1 125.2 -39.9C127.7 -44.7 126.4 -42.5 128.5 -47.2C130.6 -51.9 129.6 -49.5 131.4 -53.9C133.2 -58.3 131.8 -55.1 134 -60.5C136.2 -65.9 135.5 -64.3 138 -70C140.5 -75.7 138.8 -71.5 141.5 -77.5C144.2 -83.5 143.2 -81.8 146 -88C148.8 -94.2 147.7 -91.1 150 -96C152.3 -100.9 150.7 -97.4 153 -102.6C155.3 -107.8 154.3 -105.6 157 -111.5C159.7 -117.4 158.3 -114.7 161 -120.4C163.7 -126.1 162.5 -123.6 165 -128.5C167.5 -133.4 165.5 -128.8 168.5 -135C171.5 -141.2 170.3 -139.2 174 -147C177.7 -154.8 177.7 -154.7 179.5 -158.5L179.5 -75.5C177.7 -71.7 177.7 -71.8 174 -64C170.3 -56.2 171.5 -58.2 168.5 -52C165.5 -45.8 167.5 -50.4 165 -45.5C162.5 -40.6 163.7 -43.1 161 -37.4C158.3 -31.7 159.7 -34.4 157 -28.5C154.3 -22.6 155.3 -24.8 153 -19.6C150.7 -14.4 152.3 -17.9 150 -13C147.7 -8.1 148.8 -11.2 146 -5C143.2 1.2 144.2 -0.5 141.5 5.5C138.8 11.5 140.5 7.3 138 13C135.5 18.7 136.2 17.1 134 22.5C131.8 27.9 133.2 24.7 131.4 29.1C129.6 33.5 130.6 31.1 128.5 35.8C126.4 40.5 127.7 38.3 125.2 43.1C122.7 47.9 123.5 45.6 121.1 50.1C118.7 54.6 120 51.7 118 56.5C116 61.3 117.2 59.1 115 64.5C112.8 69.9 114.3 67.7 111.5 72.8C108.7 77.9 110.3 74.8 106.5 79.8C102.7 84.8 105.3 81.7 100 87.7C94.7 93.7 95.5 93.2 90.5 97.8C85.5 102.4 88.7 98.9 85 101.5C81.3 104.1 83.1 102.8 79.5 105.5C75.9 108.2 77.5 107 74.3 109.5C71.1 112 72.5 110.6 70 113C67.5 115.4 67.9 115.4 66.8 116.6L69 114C71 111.8 71 111.5 75 107.3C79 103.1 77.4 106 81.1 101.3C84.8 96.6 84.8 98.2 86.1 93.1C87.4 88 87.8 90.1 85.1 86.1C82.4 82.1 84.4 84.7 78 81C71.6 77.3 73 80.3 65.9 74.9C58.8 69.5 60.4 72.2 56.7 64.8C53 57.4 54.3 60 54.7 52.6C55.1 45.2 56.2 46.9 57.8 42.5C59.4 38.1 57.8 41.5 59.5 39.5C61.2 37.5 61.8 37.5 63 36.5Z" fill="rgb(132,240,250)"/>
<path d="M146 -85.5C146.6 -84.4 145.8 -87 149.7 -86.8C153.6 -86.6 151.7 -84.5 157.8 -84.8C163.9 -85.1 162.5 -84.1 167.9 -87.8C173.3 -91.5 170 -88.5 174 -95.9C178 -103.3 176.3 -100.6 180 -110.1C183.7 -119.6 181.8 -114.3 185.1 -124.3C188.4 -134.3 187.7 -131.4 190 -140C192.3 -148.6 196.7 -146.7 192 -150C187.3 -153.3 183.6 -154 176 -150C168.4 -146 175 -150 169.2 -138C163.4 -126 165.6 -130 158.5 -114C151.4 -98 152 -99.5 147.8 -90C143.6 -80.5 145.4 -86.6 146 -85.5Z" fill="rgb(122,246,212)"/>
<path d="M78 -3C86 -6.3 95 -8.3 104 -8C113 -7.7 106.3 -6.2 105 -2C103.7 2.2 104.8 -0.9 100 4.7C95.2 10.3 95.5 10.2 90.5 14.8C85.5 19.4 88.5 16.4 85 18.5C81.5 20.6 81.2 21.8 80 21C78.8 20.2 80 20 81.5 16C83 12 85 13.7 84.5 9C84 4.3 82.2 6 80 2C77.8 -2 70 0.3 78 -3Z" fill="rgb(132,240,250)" stroke="rgb(40,80,110)" stroke-opacity="0.55" stroke-width="0.35"/>
<path d="M70.5 36.5C72.2 32.8 72.7 33.8 77 30C81.3 26.2 78.3 28.1 83.5 25C88.7 21.9 86.1 24 92.5 20.8C98.9 17.6 95.8 18.6 102.6 15.5C109.4 12.4 106.4 13.9 112.8 11.4C119.2 8.9 117.4 8.8 121.9 8.1C126.4 7.4 124.2 8.1 126.4 9.4C128.6 10.7 128.7 10.3 128.5 12C128.3 13.7 129.5 11 125.9 14.6C122.3 18.2 123.9 17.3 117.8 22.7C111.7 28.1 114.2 26.2 107.6 30.8C101 35.4 104.5 33.4 98 36.5C91.5 39.6 94.7 38.5 88 40C81.3 41.5 83.3 40.7 78 41C72.7 41.3 74.5 42.5 72 41C69.5 39.5 68.8 40.2 70.5 36.5Z" fill="rgb(127,203,250)" stroke="rgb(40,80,110)" stroke-opacity="0.55" stroke-width="0.35"/>
<path d="M106.5 24C108.2 20.4 108 21.4 112 17.5C116 13.6 114.5 15 118.5 12.4C122.5 9.8 121 10.2 124 9.6C127 9 126.1 9.5 127.4 10.5C128.7 11.5 128.5 11.2 128 12.6C127.5 14 129.3 11.4 125.9 14.8C122.5 18.2 122.8 18.4 117.8 22.9C112.8 27.4 114.6 26.5 111 28.3C107.4 30.1 108.5 29.8 107 28.4C105.5 27 104.8 27.6 106.5 24Z" fill="rgb(131,186,249)" stroke="rgb(40,80,110)" stroke-opacity="0.55" stroke-width="0.35"/>
<ellipse cx="56.7" cy="26.3" rx="16.5" ry="13.6" transform="rotate(-8 56.7 26.3)" fill="rgb(134,160,248)" stroke="rgb(40,80,110)" stroke-opacity="0.55" stroke-width="0.35"/>
<path d="M69.2 41.5C69.9 40 70.4 39.6 75 37C79.6 34.4 77.6 35.5 82.9 33.6C88.2 31.7 85.9 32.3 91 31.3C96.1 30.3 93.8 30.8 98.1 30.6C102.4 30.4 100.5 30.8 104 30.8C107.5 30.8 108.8 29.6 108.5 30.6C108.2 31.6 106.6 31.7 103.1 33.7C99.6 35.7 101.5 35 98.1 36.7C94.7 38.4 96.4 37.7 93 38.9C89.6 40.1 91.4 39.6 88 40.4C84.6 41.2 86.3 41 82.9 41.4C79.5 41.8 81.2 41.6 77.8 41.6C74.4 41.6 75.7 41.4 72.8 41.4C69.9 41.4 68.5 43 69.2 41.5Z" fill="rgb(134,160,248)" stroke="rgb(40,80,110)" stroke-opacity="0.55" stroke-width="0.35"/>
<path d="M92.3 17C93.5 17.3 95.8 15 102.6 8.9C109.4 2.8 106 4.8 112.8 -1.3C119.6 -7.4 116.2 -5.5 122.9 -9.4C129.6 -13.3 127.3 -11.2 133 -12.9C138.7 -14.6 136.1 -12.5 140.1 -14.4C144.1 -16.3 141.7 -13.3 145 -18.5C148.3 -23.7 146 -21.2 150 -30C154 -38.8 152.7 -35.7 157 -45C161.3 -54.3 159 -49.3 163 -58C167 -66.7 166.3 -65.3 169 -71C171.7 -76.7 171.3 -75.3 171 -75C170.7 -74.7 170.7 -74.7 168 -70C165.3 -65.3 167 -66.3 163 -61C159 -55.7 161 -61.2 155.9 -54C150.8 -46.8 154.8 -48.8 147.8 -39.5C140.8 -30.2 143.3 -33.5 135 -26C126.7 -18.5 130.5 -22.7 122.8 -17C115.1 -11.3 117.6 -14.3 112 -9C106.4 -3.7 110.3 -6.7 106 -1C101.7 4.7 103.6 2 99 8C94.4 14 91.1 16.7 92.3 17Z" fill="rgb(122,246,212)" stroke="rgb(40,80,110)" stroke-opacity="0.55" stroke-width="0.35"/>
<path d="M114.5 -8.8C116.4 -11.3 116.7 -13.2 119 -18.5C121.3 -23.8 121 -23.5 123.3 -28.7C125.6 -33.9 125.1 -33.5 127.7 -38C130.3 -42.5 130.1 -39.9 133 -45.5C135.9 -51.1 135.2 -51.3 138.6 -59C142 -66.7 143.8 -67.4 145.8 -74.5C147.8 -81.6 145 -81.6 146 -85.5C147 -89.4 147.4 -87.5 149.7 -89C152 -90.5 151.1 -90.2 154.6 -91.1C158.1 -92 158.4 -90.3 162.7 -92.2C167 -94.1 166.5 -92.3 170.8 -98.2C175.1 -104.1 175.4 -105.8 178.9 -114.4C182.4 -123 182.2 -124 184 -130.6C185.8 -137.2 184 -136.8 185.5 -139C187 -141.2 189.1 -144.5 189.5 -139C189.9 -133.5 189 -128.3 187 -118.5C185 -108.7 184.5 -109.9 182 -102.3C179.5 -94.7 179.5 -95.5 177.5 -90.1C175.5 -84.7 175.8 -87 174.5 -82C173.2 -77 174.2 -76.4 172.5 -71.3C170.8 -66.2 170.8 -67.7 168 -63C165.2 -58.3 165.7 -58.8 162 -53.5C158.3 -48.2 157.8 -46.7 154 -43C150.2 -39.3 152.9 -44 147.8 -39.5C142.7 -35 141.7 -32 135 -26C128.3 -20 128.9 -21.5 122.8 -17C116.7 -12.5 114.2 -11.2 112 -9C109.8 -6.8 112.6 -6.3 114.5 -8.8Z" fill="rgb(112,240,132)" stroke="rgb(40,80,110)" stroke-opacity="0.55" stroke-width="0.35"/>
<path d="M194 -61.8C194.6 -61.4 193.4 -55 192.5 -49.8C191.6 -44.6 190.8 -41.4 189.5 -35.8C188.2 -30.2 187.5 -27 186 -21.8C184.5 -16.6 184.4 -12.2 182 -9.8C179.6 -7.4 174.6 -6.6 174 -9.8C173.4 -13 176.9 -19.8 179 -25.8C181.1 -31.8 182.4 -34.6 184.5 -39.8C186.6 -45 187.6 -47.4 189.5 -51.8C191.4 -56.2 193.4 -62.2 194 -61.8Z" fill="rgb(112,240,132)" stroke="rgb(40,80,110)" stroke-opacity="0.55" stroke-width="0.35"/>
<path d="M114 -8C114.3 -5 115.2 -8.7 117.9 -10.9C120.6 -13.1 117.4 -11.1 122.2 -14.5C127 -17.9 126.1 -15.9 132.4 -21C138.7 -26.1 135.8 -23 141.1 -29.8C146.4 -36.6 144.3 -34.1 148.4 -41.4C152.5 -48.7 151.3 -45.8 153.5 -51.6C155.7 -57.4 156.2 -53.4 155 -58.9C153.8 -64.4 153.5 -63.5 150 -68C146.5 -72.5 147.5 -71.2 144.5 -72.5C141.5 -73.8 144.5 -77.2 141 -72C137.5 -66.8 138.3 -65.7 134 -57C129.7 -48.3 132 -53.7 128 -46C124 -38.3 125.7 -42.7 122 -34C118.3 -25.3 119.7 -28.7 117 -20C114.3 -11.3 113.7 -11 114 -8Z" fill="rgb(190,240,110)" stroke="rgb(40,80,110)" stroke-opacity="0.55" stroke-width="0.35"/>
<path d="M165.4 -70.2 L164 -50 L157.8 -50 L162 -61Z" fill="rgb(190,240,110)" stroke="rgb(40,80,110)" stroke-opacity="0.55" stroke-width="0.35"/>
<path d="M121.8 -20.5C123.2 -19.8 122.9 -18.6 127 -22.8C131.1 -27 129.7 -25.6 134.1 -33C138.5 -40.4 136.8 -37.7 140.2 -45.1C143.6 -52.5 142.3 -48.8 144.3 -55.2C146.3 -61.6 146.7 -58.9 146.3 -64.4C145.9 -69.9 144.8 -70.6 143.1 -71.6C141.4 -72.6 143.1 -72.2 141.1 -67.4C139.1 -62.6 139.7 -64.4 137 -57.3C134.3 -50.2 136 -53.5 133 -46.1C130 -38.7 131.3 -42.1 127.9 -35C124.5 -27.9 124.8 -29.7 122.8 -24.9C120.8 -20.1 120.4 -21.2 121.8 -20.5Z" fill="rgb(240,245,120)" stroke="rgb(40,80,110)" stroke-opacity="0.55" stroke-width="0.35"/>
<path d="M84.1 66.8C85.1 64.7 86.3 65.8 91 66.5C95.7 67.2 93.8 65.3 98.3 68.8C102.8 72.3 104.4 72.8 104.4 76.9C104.4 81 103.7 82.3 98.3 81C92.9 79.7 92.8 77.6 88.1 72.9C83.4 68.2 83.1 68.9 84.1 66.8Z" fill="rgb(122,246,212)" stroke="rgb(40,80,110)" stroke-opacity="0.55" stroke-width="0.35"/>
<path d="M63.7 43.9C63.3 45.3 62.6 44.9 62.5 48C62.4 51.2 62.1 49.6 63.5 53.4C64.9 57.2 63.8 55.8 66.6 59.5C69.5 63.3 67.8 62 72 64.6C76.2 67.2 73.9 66.4 79.3 67.4C84.7 68.4 82.5 68.6 88.1 67.7C93.8 66.8 93.5 65.7 96.1 64.7L95.9 63.7C93.2 64.3 93.2 65.1 87.9 65.5C82.5 65.9 84.6 66 79.7 65C74.9 64 77 64.9 73.2 62.6C69.5 60.3 71.1 61.4 68.6 58.1C66.1 54.7 67 56 65.7 52.6C64.4 49.2 65 50.8 64.7 48C64.4 45.1 64.7 45.4 64.7 44.1Z" fill="rgb(112,240,132)" stroke="rgb(40,80,110)" stroke-opacity="0.55" stroke-width="0.35"/>
</g>
<g transform="translate(0 166)">
<path d="M66.8 33.6C67.9 32.4 67.5 32.4 70 30C72.5 27.6 71.1 29 74.3 26.5C77.5 24 75.9 25.2 79.5 22.5C83.1 19.8 81.3 21.1 85 18.5C88.7 15.9 85.5 19.4 90.5 14.8C95.5 10.2 94.7 10.7 100 4.7C105.3 -1.3 102.7 1.8 106.5 -3.2C110.3 -8.2 108.7 -5.1 111.5 -10.2C114.3 -15.3 112.8 -13.1 115 -18.5C117.2 -23.9 116 -21.7 118 -26.5C120 -31.3 118.7 -28.4 121.1 -32.9C123.5 -37.4 122.7 -35.1 125.2 -39.9C127.7 -44.7 126.4 -42.5 128.5 -47.2C130.6 -51.9 129.6 -49.5 131.4 -53.9C133.2 -58.3 131.8 -55.1 134 -60.5C136.2 -65.9 135.5 -64.3 138 -70C140.5 -75.7 138.8 -71.5 141.5 -77.5C144.2 -83.5 143.2 -81.8 146 -88C148.8 -94.2 147.7 -91.1 150 -96C152.3 -100.9 150.7 -97.4 153 -102.6C155.3 -107.8 154.3 -105.6 157 -111.5C159.7 -117.4 158.3 -114.7 161 -120.4C163.7 -126.1 162.5 -123.6 165 -128.5C167.5 -133.4 165.5 -128.8 168.5 -135C171.5 -141.2 170.3 -139.2 174 -147C177.7 -154.8 177.7 -154.7 179.5 -158.5L179.5 -75.5C177.7 -71.7 177.7 -71.8 174 -64C170.3 -56.2 171.5 -58.2 168.5 -52C165.5 -45.8 167.5 -50.4 165 -45.5C162.5 -40.6 163.7 -43.1 161 -37.4C158.3 -31.7 159.7 -34.4 157 -28.5C154.3 -22.6 155.3 -24.8 153 -19.6C150.7 -14.4 152.3 -17.9 150 -13C147.7 -8.1 148.8 -11.2 146 -5C143.2 1.2 144.2 -0.5 141.5 5.5C138.8 11.5 140.5 7.3 138 13C135.5 18.7 136.2 17.1 134 22.5C131.8 27.9 133.2 24.7 131.4 29.1C129.6 33.5 130.6 31.1 128.5 35.8C126.4 40.5 127.7 38.3 125.2 43.1C122.7 47.9 123.5 45.6 121.1 50.1C118.7 54.6 120 51.7 118 56.5C116 61.3 117.2 59.1 115 64.5C112.8 69.9 114.3 67.7 111.5 72.8C108.7 77.9 110.3 74.8 106.5 79.8C102.7 84.8 105.3 81.7 100 87.7C94.7 93.7 95.5 93.2 90.5 97.8C85.5 102.4 88.7 98.9 85 101.5C81.3 104.1 83.1 102.8 79.5 105.5C75.9 108.2 77.5 107 74.3 109.5C71.1 112 72.5 110.6 70 113C67.5 115.4 67.9 115.4 66.8 116.6L69 114C71 111.8 71 111.5 75 107.3C79 103.1 77.4 106 81.1 101.3C84.8 96.6 84.8 98.2 86.1 93.1C87.4 88 87.8 90.1 85.1 86.1C82.4 82.1 84.4 84.7 78 81C71.6 77.3 73 80.3 65.9 74.9C58.8 69.5 60.4 72.2 56.7 64.8C53 57.4 54.3 60 54.7 52.6C55.1 45.2 56.2 46.9 57.8 42.5C59.4 38.1 57.8 41.5 59.5 39.5C61.2 37.5 61.8 37.5 63 36.5Z" fill="rgb(132,240,250)"/>
<path d="M146 -85.5C146.6 -84.4 145.8 -87 149.7 -86.8C153.6 -86.6 151.7 -84.5 157.8 -84.8C163.9 -85.1 162.5 -84.1 167.9 -87.8C173.3 -91.5 170 -88.5 174 -95.9C178 -103.3 176.3 -100.6 180 -110.1C183.7 -119.6 181.8 -114.3 185.1 -124.3C188.4 -134.3 187.7 -131.4 190 -140C192.3 -148.6 196.7 -146.7 192 -150C187.3 -153.3 183.6 -154 176 -150C168.4 -146 175 -150 169.2 -138C163.4 -126 165.6 -130 158.5 -114C151.4 -98 152 -99.5 147.8 -90C143.6 -80.5 145.4 -86.6 146 -85.5Z" fill="rgb(122,246,212)"/>
<path d="M78 -3C86 -6.3 95 -8.3 104 -8C113 -7.7 106.3 -6.2 105 -2C103.7 2.2 104.8 -0.9 100 4.7C95.2 10.3 95.5 10.2 90.5 14.8C85.5 19.4 88.5 16.4 85 18.5C81.5 20.6 81.2 21.8 80 21C78.8 20.2 80 20 81.5 16C83 12 85 13.7 84.5 9C84 4.3 82.2 6 80 2C77.8 -2 70 0.3 78 -3Z" fill="rgb(132,240,250)" stroke="rgb(40,80,110)" stroke-opacity="0.55" stroke-width="0.35"/>
<path d="M70.5 36.5C72.2 32.8 72.7 33.8 77 30C81.3 26.2 78.3 28.1 83.5 25C88.7 21.9 86.1 24 92.5 20.8C98.9 17.6 95.8 18.6 102.6 15.5C109.4 12.4 106.4 13.9 112.8 11.4C119.2 8.9 117.4 8.8 121.9 8.1C126.4 7.4 124.2 8.1 126.4 9.4C128.6 10.7 128.7 10.3 128.5 12C128.3 13.7 129.5 11 125.9 14.6C122.3 18.2 123.9 17.3 117.8 22.7C111.7 28.1 114.2 26.2 107.6 30.8C101 35.4 104.5 33.4 98 36.5C91.5 39.6 94.7 38.5 88 40C81.3 41.5 83.3 40.7 78 41C72.7 41.3 74.5 42.5 72 41C69.5 39.5 68.8 40.2 70.5 36.5Z" fill="rgb(127,203,250)" stroke="rgb(40,80,110)" stroke-opacity="0.55" stroke-width="0.35"/>
<path d="M106.5 24C108.2 20.4 108 21.4 112 17.5C116 13.6 114.5 15 118.5 12.4C122.5 9.8 121 10.2 124 9.6C127 9 126.1 9.5 127.4 10.5C128.7 11.5 128.5 11.2 128 12.6C127.5 14 129.3 11.4 125.9 14.8C122.5 18.2 122.8 18.4 117.8 22.9C112.8 27.4 114.6 26.5 111 28.3C107.4 30.1 108.5 29.8 107 28.4C105.5 27 104.8 27.6 106.5 24Z" fill="rgb(131,186,249)" stroke="rgb(40,80,110)" stroke-opacity="0.55" stroke-width="0.35"/>
<ellipse cx="56.7" cy="26.3" rx="16.5" ry="13.6" transform="rotate(-8 56.7 26.3)" fill="rgb(134,160,248)" stroke="rgb(40,80,110)" stroke-opacity="0.55" stroke-width="0.35"/>
<path d="M69.2 41.5C69.9 40 70.4 39.6 75 37C79.6 34.4 77.6 35.5 82.9 33.6C88.2 31.7 85.9 32.3 91 31.3C96.1 30.3 93.8 30.8 98.1 30.6C102.4 30.4 100.5 30.8 104 30.8C107.5 30.8 108.8 29.6 108.5 30.6C108.2 31.6 106.6 31.7 103.1 33.7C99.6 35.7 101.5 35 98.1 36.7C94.7 38.4 96.4 37.7 93 38.9C89.6 40.1 91.4 39.6 88 40.4C84.6 41.2 86.3 41 82.9 41.4C79.5 41.8 81.2 41.6 77.8 41.6C74.4 41.6 75.7 41.4 72.8 41.4C69.9 41.4 68.5 43 69.2 41.5Z" fill="rgb(134,160,248)" stroke="rgb(40,80,110)" stroke-opacity="0.55" stroke-width="0.35"/>
<path d="M92.3 17C93.5 17.3 95.8 15 102.6 8.9C109.4 2.8 106 4.8 112.8 -1.3C119.6 -7.4 116.2 -5.5 122.9 -9.4C129.6 -13.3 127.3 -11.2 133 -12.9C138.7 -14.6 136.1 -12.5 140.1 -14.4C144.1 -16.3 141.7 -13.3 145 -18.5C148.3 -23.7 146 -21.2 150 -30C154 -38.8 152.7 -35.7 157 -45C161.3 -54.3 159 -49.3 163 -58C167 -66.7 166.3 -65.3 169 -71C171.7 -76.7 171.3 -75.3 171 -75C170.7 -74.7 170.7 -74.7 168 -70C165.3 -65.3 167 -66.3 163 -61C159 -55.7 161 -61.2 155.9 -54C150.8 -46.8 154.8 -48.8 147.8 -39.5C140.8 -30.2 143.3 -33.5 135 -26C126.7 -18.5 130.5 -22.7 122.8 -17C115.1 -11.3 117.6 -14.3 112 -9C106.4 -3.7 110.3 -6.7 106 -1C101.7 4.7 103.6 2 99 8C94.4 14 91.1 16.7 92.3 17Z" fill="rgb(122,246,212)" stroke="rgb(40,80,110)" stroke-opacity="0.55" stroke-width="0.35"/>
<path d="M114.5 -8.8C116.4 -11.3 116.7 -13.2 119 -18.5C121.3 -23.8 121 -23.5 123.3 -28.7C125.6 -33.9 125.1 -33.5 127.7 -38C130.3 -42.5 130.1 -39.9 133 -45.5C135.9 -51.1 135.2 -51.3 138.6 -59C142 -66.7 143.8 -67.4 145.8 -74.5C147.8 -81.6 145 -81.6 146 -85.5C147 -89.4 147.4 -87.5 149.7 -89C152 -90.5 151.1 -90.2 154.6 -91.1C158.1 -92 158.4 -90.3 162.7 -92.2C167 -94.1 166.5 -92.3 170.8 -98.2C175.1 -104.1 175.4 -105.8 178.9 -114.4C182.4 -123 182.2 -124 184 -130.6C185.8 -137.2 184 -136.8 185.5 -139C187 -141.2 189.1 -144.5 189.5 -139C189.9 -133.5 189 -128.3 187 -118.5C185 -108.7 184.5 -109.9 182 -102.3C179.5 -94.7 179.5 -95.5 177.5 -90.1C175.5 -84.7 175.8 -87 174.5 -82C173.2 -77 174.2 -76.4 172.5 -71.3C170.8 -66.2 170.8 -67.7 168 -63C165.2 -58.3 165.7 -58.8 162 -53.5C158.3 -48.2 157.8 -46.7 154 -43C150.2 -39.3 152.9 -44 147.8 -39.5C142.7 -35 141.7 -32 135 -26C128.3 -20 128.9 -21.5 122.8 -17C116.7 -12.5 114.2 -11.2 112 -9C109.8 -6.8 112.6 -6.3 114.5 -8.8Z" fill="rgb(112,240,132)" stroke="rgb(40,80,110)" stroke-opacity="0.55" stroke-width="0.35"/>
<path d="M194 -61.8C194.6 -61.4 193.4 -55 192.5 -49.8C191.6 -44.6 190.8 -41.4 189.5 -35.8C188.2 -30.2 187.5 -27 186 -21.8C184.5 -16.6 184.4 -12.2 182 -9.8C179.6 -7.4 174.6 -6.6 174 -9.8C173.4 -13 176.9 -19.8 179 -25.8C181.1 -31.8 182.4 -34.6 184.5 -39.8C186.6 -45 187.6 -47.4 189.5 -51.8C191.4 -56.2 193.4 -62.2 194 -61.8Z" fill="rgb(112,240,132)" stroke="rgb(40,80,110)" stroke-opacity="0.55" stroke-width="0.35"/>
<path d="M114 -8C114.3 -5 115.2 -8.7 117.9 -10.9C120.6 -13.1 117.4 -11.1 122.2 -14.5C127 -17.9 126.1 -15.9 132.4 -21C138.7 -26.1 135.8 -23 141.1 -29.8C146.4 -36.6 144.3 -34.1 148.4 -41.4C152.5 -48.7 151.3 -45.8 153.5 -51.6C155.7 -57.4 156.2 -53.4 155 -58.9C153.8 -64.4 153.5 -63.5 150 -68C146.5 -72.5 147.5 -71.2 144.5 -72.5C141.5 -73.8 144.5 -77.2 141 -72C137.5 -66.8 138.3 -65.7 134 -57C129.7 -48.3 132 -53.7 128 -46C124 -38.3 125.7 -42.7 122 -34C118.3 -25.3 119.7 -28.7 117 -20C114.3 -11.3 113.7 -11 114 -8Z" fill="rgb(190,240,110)" stroke="rgb(40,80,110)" stroke-opacity="0.55" stroke-width="0.35"/>
<path d="M165.4 -70.2 L164 -50 L157.8 -50 L162 -61Z" fill="rgb(190,240,110)" stroke="rgb(40,80,110)" stroke-opacity="0.55" stroke-width="0.35"/>
<path d="M121.8 -20.5C123.2 -19.8 122.9 -18.6 127 -22.8C131.1 -27 129.7 -25.6 134.1 -33C138.5 -40.4 136.8 -37.7 140.2 -45.1C143.6 -52.5 142.3 -48.8 144.3 -55.2C146.3 -61.6 146.7 -58.9 146.3 -64.4C145.9 -69.9 144.8 -70.6 143.1 -71.6C141.4 -72.6 143.1 -72.2 141.1 -67.4C139.1 -62.6 139.7 -64.4 137 -57.3C134.3 -50.2 136 -53.5 133 -46.1C130 -38.7 131.3 -42.1 127.9 -35C124.5 -27.9 124.8 -29.7 122.8 -24.9C120.8 -20.1 120.4 -21.2 121.8 -20.5Z" fill="rgb(240,245,120)" stroke="rgb(40,80,110)" stroke-opacity="0.55" stroke-width="0.35"/>
<path d="M84.1 66.8C85.1 64.7 86.3 65.8 91 66.5C95.7 67.2 93.8 65.3 98.3 68.8C102.8 72.3 104.4 72.8 104.4 76.9C104.4 81 103.7 82.3 98.3 81C92.9 79.7 92.8 77.6 88.1 72.9C83.4 68.2 83.1 68.9 84.1 66.8Z" fill="rgb(122,246,212)" stroke="rgb(40,80,110)" stroke-opacity="0.55" stroke-width="0.35"/>
<path d="M63.7 43.9C63.3 45.3 62.6 44.9 62.5 48C62.4 51.2 62.1 49.6 63.5 53.4C64.9 57.2 63.8 55.8 66.6 59.5C69.5 63.3 67.8 62 72 64.6C76.2 67.2 73.9 66.4 79.3 67.4C84.7 68.4 82.5 68.6 88.1 67.7C93.8 66.8 93.5 65.7 96.1 64.7L95.9 63.7C93.2 64.3 93.2 65.1 87.9 65.5C82.5 65.9 84.6 66 79.7 65C74.9 64 77 64.9 73.2 62.6C69.5 60.3 71.1 61.4 68.6 58.1C66.1 54.7 67 56 65.7 52.6C64.4 49.2 65 50.8 64.7 48C64.4 45.1 64.7 45.4 64.7 44.1Z" fill="rgb(112,240,132)" stroke="rgb(40,80,110)" stroke-opacity="0.55" stroke-width="0.35"/>
</g>
<g transform="translate(0 249)">
<path d="M66.8 33.6C67.9 32.4 67.5 32.4 70 30C72.5 27.6 71.1 29 74.3 26.5C77.5 24 75.9 25.2 79.5 22.5C83.1 19.8 81.3 21.1 85 18.5C88.7 15.9 85.5 19.4 90.5 14.8C95.5 10.2 94.7 10.7 100 4.7C105.3 -1.3 102.7 1.8 106.5 -3.2C110.3 -8.2 108.7 -5.1 111.5 -10.2C114.3 -15.3 112.8 -13.1 115 -18.5C117.2 -23.9 116 -21.7 118 -26.5C120 -31.3 118.7 -28.4 121.1 -32.9C123.5 -37.4 122.7 -35.1 125.2 -39.9C127.7 -44.7 126.4 -42.5 128.5 -47.2C130.6 -51.9 129.6 -49.5 131.4 -53.9C133.2 -58.3 131.8 -55.1 134 -60.5C136.2 -65.9 135.5 -64.3 138 -70C140.5 -75.7 138.8 -71.5 141.5 -77.5C144.2 -83.5 143.2 -81.8 146 -88C148.8 -94.2 147.7 -91.1 150 -96C152.3 -100.9 150.7 -97.4 153 -102.6C155.3 -107.8 154.3 -105.6 157 -111.5C159.7 -117.4 158.3 -114.7 161 -120.4C163.7 -126.1 162.5 -123.6 165 -128.5C167.5 -133.4 165.5 -128.8 168.5 -135C171.5 -141.2 170.3 -139.2 174 -147C177.7 -154.8 177.7 -154.7 179.5 -158.5L179.5 -75.5C177.7 -71.7 177.7 -71.8 174 -64C170.3 -56.2 171.5 -58.2 168.5 -52C165.5 -45.8 167.5 -50.4 165 -45.5C162.5 -40.6 163.7 -43.1 161 -37.4C158.3 -31.7 159.7 -34.4 157 -28.5C154.3 -22.6 155.3 -24.8 153 -19.6C150.7 -14.4 152.3 -17.9 150 -13C147.7 -8.1 148.8 -11.2 146 -5C143.2 1.2 144.2 -0.5 141.5 5.5C138.8 11.5 140.5 7.3 138 13C135.5 18.7 136.2 17.1 134 22.5C131.8 27.9 133.2 24.7 131.4 29.1C129.6 33.5 130.6 31.1 128.5 35.8C126.4 40.5 127.7 38.3 125.2 43.1C122.7 47.9 123.5 45.6 121.1 50.1C118.7 54.6 120 51.7 118 56.5C116 61.3 117.2 59.1 115 64.5C112.8 69.9 114.3 67.7 111.5 72.8C108.7 77.9 110.3 74.8 106.5 79.8C102.7 84.8 105.3 81.7 100 87.7C94.7 93.7 95.5 93.2 90.5 97.8C85.5 102.4 88.7 98.9 85 101.5C81.3 104.1 83.1 102.8 79.5 105.5C75.9 108.2 77.5 107 74.3 109.5C71.1 112 72.5 110.6 70 113C67.5 115.4 67.9 115.4 66.8 116.6L69 114C71 111.8 71 111.5 75 107.3C79 103.1 77.4 106 81.1 101.3C84.8 96.6 84.8 98.2 86.1 93.1C87.4 88 87.8 90.1 85.1 86.1C82.4 82.1 84.4 84.7 78 81C71.6 77.3 73 80.3 65.9 74.9C58.8 69.5 60.4 72.2 56.7 64.8C53 57.4 54.3 60 54.7 52.6C55.1 45.2 56.2 46.9 57.8 42.5C59.4 38.1 57.8 41.5 59.5 39.5C61.2 37.5 61.8 37.5 63 36.5Z" fill="rgb(132,240,250)"/>
<path d="M146 -85.5C146.6 -84.4 145.8 -87 149.7 -86.8C153.6 -86.6 151.7 -84.5 157.8 -84.8C163.9 -85.1 162.5 -84.1 167.9 -87.8C173.3 -91.5 170 -88.5 174 -95.9C178 -103.3 176.3 -100.6 180 -110.1C183.7 -119.6 181.8 -114.3 185.1 -124.3C188.4 -134.3 187.7 -131.4 190 -140C192.3 -148.6 196.7 -146.7 192 -150C187.3 -153.3 183.6 -154 176 -150C168.4 -146 175 -150 169.2 -138C163.4 -126 165.6 -130 158.5 -114C151.4 -98 152 -99.5 147.8 -90C143.6 -80.5 145.4 -86.6 146 -85.5Z" fill="rgb(122,246,212)"/>
<path d="M78 -3C86 -6.3 95 -8.3 104 -8C113 -7.7 106.3 -6.2 105 -2C103.7 2.2 104.8 -0.9 100 4.7C95.2 10.3 95.5 10.2 90.5 14.8C85.5 19.4 88.5 16.4 85 18.5C81.5 20.6 81.2 21.8 80 21C78.8 20.2 80 20 81.5 16C83 12 85 13.7 84.5 9C84 4.3 82.2 6 80 2C77.8 -2 70 0.3 78 -3Z" fill="rgb(132,240,250)" stroke="rgb(40,80,110)" stroke-opacity="0.55" stroke-width="0.35"/>
<path d="M70.5 36.5C72.2 32.8 72.7 33.8 77 30C81.3 26.2 78.3 28.1 83.5 25C88.7 21.9 86.1 24 92.5 20.8C98.9 17.6 95.8 18.6 102.6 15.5C109.4 12.4 106.4 13.9 112.8 11.4C119.2 8.9 117.4 8.8 121.9 8.1C126.4 7.4 124.2 8.1 126.4 9.4C128.6 10.7 128.7 10.3 128.5 12C128.3 13.7 129.5 11 125.9 14.6C122.3 18.2 123.9 17.3 117.8 22.7C111.7 28.1 114.2 26.2 107.6 30.8C101 35.4 104.5 33.4 98 36.5C91.5 39.6 94.7 38.5 88 40C81.3 41.5 83.3 40.7 78 41C72.7 41.3 74.5 42.5 72 41C69.5 39.5 68.8 40.2 70.5 36.5Z" fill="rgb(127,203,250)" stroke="rgb(40,80,110)" stroke-opacity="0.55" stroke-width="0.35"/>
<path d="M106.5 24C108.2 20.4 108 21.4 112 17.5C116 13.6 114.5 15 118.5 12.4C122.5 9.8 121 10.2 124 9.6C127 9 126.1 9.5 127.4 10.5C128.7 11.5 128.5 11.2 128 12.6C127.5 14 129.3 11.4 125.9 14.8C122.5 18.2 122.8 18.4 117.8 22.9C112.8 27.4 114.6 26.5 111 28.3C107.4 30.1 108.5 29.8 107 28.4C105.5 27 104.8 27.6 106.5 24Z" fill="rgb(131,186,249)" stroke="rgb(40,80,110)" stroke-opacity="0.55" stroke-width="0.35"/>
<ellipse cx="56.7" cy="26.3" rx="16.5" ry="13.6" transform="rotate(-8 56.7 26.3)" fill="rgb(134,160,248)" stroke="rgb(40,80,110)" stroke-opacity="0.55" stroke-width="0.35"/>
<path d="M69.2 41.5C69.9 40 70.4 39.6 75 37C79.6 34.4 77.6 35.5 82.9 33.6C88.2 31.7 85.9 32.3 91 31.3C96.1 30.3 93.8 30.8 98.1 30.6C102.4 30.4 100.5 30.8 104 30.8C107.5 30.8 108.8 29.6 108.5 30.6C108.2 31.6 106.6 31.7 103.1 33.7C99.6 35.7 101.5 35 98.1 36.7C94.7 38.4 96.4 37.7 93 38.9C89.6 40.1 91.4 39.6 88 40.4C84.6 41.2 86.3 41 82.9 41.4C79.5 41.8 81.2 41.6 77.8 41.6C74.4 41.6 75.7 41.4 72.8 41.4C69.9 41.4 68.5 43 69.2 41.5Z" fill="rgb(134,160,248)" stroke="rgb(40,80,110)" stroke-opacity="0.55" stroke-width="0.35"/>
<path d="M92.3 17C93.5 17.3 95.8 15 102.6 8.9C109.4 2.8 106 4.8 112.8 -1.3C119.6 -7.4 116.2 -5.5 122.9 -9.4C129.6 -13.3 127.3 -11.2 133 -12.9C138.7 -14.6 136.1 -12.5 140.1 -14.4C144.1 -16.3 141.7 -13.3 145 -18.5C148.3 -23.7 146 -21.2 150 -30C154 -38.8 152.7 -35.7 157 -45C161.3 -54.3 159 -49.3 163 -58C167 -66.7 166.3 -65.3 169 -71C171.7 -76.7 171.3 -75.3 171 -75C170.7 -74.7 170.7 -74.7 168 -70C165.3 -65.3 167 -66.3 163 -61C159 -55.7 161 -61.2 155.9 -54C150.8 -46.8 154.8 -48.8 147.8 -39.5C140.8 -30.2 143.3 -33.5 135 -26C126.7 -18.5 130.5 -22.7 122.8 -17C115.1 -11.3 117.6 -14.3 112 -9C106.4 -3.7 110.3 -6.7 106 -1C101.7 4.7 103.6 2 99 8C94.4 14 91.1 16.7 92.3 17Z" fill="rgb(122,246,212)" stroke="rgb(40,80,110)" stroke-opacity="0.55" stroke-width="0.35"/>
<path d="M114.5 -8.8C116.4 -11.3 116.7 -13.2 119 -18.5C121.3 -23.8 121 -23.5 123.3 -28.7C125.6 -33.9 125.1 -33.5 127.7 -38C130.3 -42.5 130.1 -39.9 133 -45.5C135.9 -51.1 135.2 -51.3 138.6 -59C142 -66.7 143.8 -67.4 145.8 -74.5C147.8 -81.6 145 -81.6 146 -85.5C147 -89.4 147.4 -87.5 149.7 -89C152 -90.5 151.1 -90.2 154.6 -91.1C158.1 -92 158.4 -90.3 162.7 -92.2C167 -94.1 166.5 -92.3 170.8 -98.2C175.1 -104.1 175.4 -105.8 178.9 -114.4C182.4 -123 182.2 -124 184 -130.6C185.8 -137.2 184 -136.8 185.5 -139C187 -141.2 189.1 -144.5 189.5 -139C189.9 -133.5 189 -128.3 187 -118.5C185 -108.7 184.5 -109.9 182 -102.3C179.5 -94.7 179.5 -95.5 177.5 -90.1C175.5 -84.7 175.8 -87 174.5 -82C173.2 -77 174.2 -76.4 172.5 -71.3C170.8 -66.2 170.8 -67.7 168 -63C165.2 -58.3 165.7 -58.8 162 -53.5C158.3 -48.2 157.8 -46.7 154 -43C150.2 -39.3 152.9 -44 147.8 -39.5C142.7 -35 141.7 -32 135 -26C128.3 -20 128.9 -21.5 122.8 -17C116.7 -12.5 114.2 -11.2 112 -9C109.8 -6.8 112.6 -6.3 114.5 -8.8Z" fill="rgb(112,240,132)" stroke="rgb(40,80,110)" stroke-opacity="0.55" stroke-width="0.35"/>
<path d="M194 -61.8C194.6 -61.4 193.4 -55 192.5 -49.8C191.6 -44.6 190.8 -41.4 189.5 -35.8C188.2 -30.2 187.5 -27 186 -21.8C184.5 -16.6 184.4 -12.2 182 -9.8C179.6 -7.4 174.6 -6.6 174 -9.8C173.4 -13 176.9 -19.8 179 -25.8C181.1 -31.8 182.4 -34.6 184.5 -39.8C186.6 -45 187.6 -47.4 189.5 -51.8C191.4 -56.2 193.4 -62.2 194 -61.8Z" fill="rgb(112,240,132)" stroke="rgb(40,80,110)" stroke-opacity="0.55" stroke-width="0.35"/>
<path d="M114 -8C114.3 -5 115.2 -8.7 117.9 -10.9C120.6 -13.1 117.4 -11.1 122.2 -14.5C127 -17.9 126.1 -15.9 132.4 -21C138.7 -26.1 135.8 -23 141.1 -29.8C146.4 -36.6 144.3 -34.1 148.4 -41.4C152.5 -48.7 151.3 -45.8 153.5 -51.6C155.7 -57.4 156.2 -53.4 155 -58.9C153.8 -64.4 153.5 -63.5 150 -68C146.5 -72.5 147.5 -71.2 144.5 -72.5C141.5 -73.8 144.5 -77.2 141 -72C137.5 -66.8 138.3 -65.7 134 -57C129.7 -48.3 132 -53.7 128 -46C124 -38.3 125.7 -42.7 122 -34C118.3 -25.3 119.7 -28.7 117 -20C114.3 -11.3 113.7 -11 114 -8Z" fill="rgb(190,240,110)" stroke="rgb(40,80,110)" stroke-opacity="0.55" stroke-width="0.35"/>
<path d="M165.4 -70.2 L164 -50 L157.8 -50 L162 -61Z" fill="rgb(190,240,110)" stroke="rgb(40,80,110)" stroke-opacity="0.55" stroke-width="0.35"/>
<path d="M121.8 -20.5C123.2 -19.8 122.9 -18.6 127 -22.8C131.1 -27 129.7 -25.6 134.1 -33C138.5 -40.4 136.8 -37.7 140.2 -45.1C143.6 -52.5 142.3 -48.8 144.3 -55.2C146.3 -61.6 146.7 -58.9 146.3 -64.4C145.9 -69.9 144.8 -70.6 143.1 -71.6C141.4 -72.6 143.1 -72.2 141.1 -67.4C139.1 -62.6 139.7 -64.4 137 -57.3C134.3 -50.2 136 -53.5 133 -46.1C130 -38.7 131.3 -42.1 127.9 -35C124.5 -27.9 124.8 -29.7 122.8 -24.9C120.8 -20.1 120.4 -21.2 121.8 -20.5Z" fill="rgb(240,245,120)" stroke="rgb(40,80,110)" stroke-opacity="0.55" stroke-width="0.35"/>
<path d="M84.1 66.8C85.1 64.7 86.3 65.8 91 66.5C95.7 67.2 93.8 65.3 98.3 68.8C102.8 72.3 104.4 72.8 104.4 76.9C104.4 81 103.7 82.3 98.3 81C92.9 79.7 92.8 77.6 88.1 72.9C83.4 68.2 83.1 68.9 84.1 66.8Z" fill="rgb(122,246,212)" stroke="rgb(40,80,110)" stroke-opacity="0.55" stroke-width="0.35"/>
<path d="M63.7 43.9C63.3 45.3 62.6 44.9 62.5 48C62.4 51.2 62.1 49.6 63.5 53.4C64.9 57.2 63.8 55.8 66.6 59.5C69.5 63.3 67.8 62 72 64.6C76.2 67.2 73.9 66.4 79.3 67.4C84.7 68.4 82.5 68.6 88.1 67.7C93.8 66.8 93.5 65.7 96.1 64.7L95.9 63.7C93.2 64.3 93.2 65.1 87.9 65.5C82.5 65.9 84.6 66 79.7 65C74.9 64 77 64.9 73.2 62.6C69.5 60.3 71.1 61.4 68.6 58.1C66.1 54.7 67 56 65.7 52.6C64.4 49.2 65 50.8 64.7 48C64.4 45.1 64.7 45.4 64.7 44.1Z" fill="rgb(112,240,132)" stroke="rgb(40,80,110)" stroke-opacity="0.55" stroke-width="0.35"/>
</g>
<path d="M112.7 -9.8C115 -9.6 114.4 -7.3 119.8 -9.4C125.1 -11.5 123.9 -12 128.7 -16.2C133.6 -20.3 130.9 -18.5 134.3 -21.8C137.7 -25.1 135.4 -23.1 139 -26C142.6 -28.9 141.2 -27.7 145 -30.5C148.8 -33.3 147 -32.1 150.4 -34.5C153.8 -36.8 152.7 -35.9 155.1 -37.5C157.6 -39.1 155.3 -37.6 157.9 -39.3C160.4 -41.1 161.2 -41.7 162.9 -42.8L157.1 -62C154.1 -61.7 153.7 -63.1 148.1 -61.3C142.6 -59.4 144.8 -60.1 140.5 -56.5C136.1 -52.8 138.3 -54.3 135.2 -50.3C132 -46.4 134 -48.6 131 -44.7C128 -40.8 129.3 -42.5 126.2 -38.6C123.1 -34.8 124.8 -37.1 121.7 -33.2C118.6 -29.3 120.3 -32 116.9 -26.8C113.4 -21.7 113.1 -23 111.2 -17.8C109.4 -12.6 111.3 -13.4 111.3 -11.2Z" fill="rgb(122,246,212)" stroke="rgb(40,80,110)" stroke-opacity="0.55" stroke-width="0.35"/>
<path d="M112.3 -10.1C114.1 -10.6 113.3 -8.5 117.6 -11.5C122 -14.5 121.1 -14.6 125.4 -19.2C129.7 -23.7 127.2 -21.7 130.6 -25.1C133.9 -28.6 131.8 -26.5 135.4 -29.5C139.1 -32.5 137.7 -31.2 141.5 -34C145.4 -36.9 143.5 -35.5 147 -38.1C150.4 -40.7 148.9 -39.8 151.8 -41.9C154.7 -44 152.4 -42.4 155.6 -44.4C158.8 -46.3 159.5 -46.5 161.4 -47.6L158.6 -57.2C155.8 -56.9 155.3 -57.9 150.4 -56.2C145.5 -54.6 147.7 -55.3 143.8 -52.1C139.9 -49 141.8 -50.4 138.6 -46.7C135.5 -43.1 137.4 -45 134.5 -41.2C131.5 -37.3 132.8 -38.9 129.8 -35.1C126.7 -31.3 128.6 -33.6 125.4 -29.9C122.2 -26.1 124.2 -28.6 120.2 -23.8C116.2 -19.1 116.2 -20 113.4 -15.7C110.5 -11.4 112.2 -12.5 111.7 -10.9Z" fill="rgb(112,240,132)" stroke="rgb(40,80,110)" stroke-opacity="0.55" stroke-width="0.35"/>
<path d="M132.7 -32.2C135.1 -33.4 135.7 -33.2 139.7 -35.9C143.7 -38.6 141.5 -37.4 144.7 -40.4C148 -43.3 146.4 -42.2 149.5 -44.8C152.6 -47.4 150.4 -45.7 154 -48.1C157.5 -50.5 158.1 -50.7 160.1 -52L159.9 -52.8C157.3 -52.7 156.6 -53.7 152 -52.5C147.4 -51.3 149.8 -51.9 146.1 -49.2C142.4 -46.5 144.1 -47.7 140.9 -44.4C137.6 -41.1 139.1 -43.3 136.3 -39.3C133.5 -35.3 133.7 -34.7 132.5 -32.4Z" fill="rgb(190,240,110)" stroke="rgb(40,80,110)" stroke-opacity="0.55" stroke-width="0.35"/>
<g transform="translate(0 -83)">
<path d="M68.7 35.3C69.7 34.1 69.3 34.1 71.7 31.8C74.1 29.5 72.8 30.9 75.8 28.5C78.9 26 77.5 27.1 81 24.5C84.5 21.9 82.7 23.1 86.4 20.5C90.2 18 87.1 21.4 92.3 16.7C97.5 12 96.5 12.5 102.1 6.5C107.6 0.5 104.8 3.7 109 -1.2C113.3 -6.2 111.5 -3.2 114.7 -8.4C118 -13.6 116.4 -11.5 118.8 -17C121.2 -22.5 119.9 -20.2 122 -24.8C124 -29.5 122.6 -26.5 124.9 -30.9C127.2 -35.3 126.4 -33.1 128.8 -38C131.2 -42.9 130.1 -40.8 132.1 -45.6C134.1 -50.4 133.1 -48 134.8 -52.5C136.6 -57 135.2 -53.8 137.3 -59.1C139.5 -64.5 138.8 -63 141.2 -68.6C143.6 -74.2 143.5 -73.5 144.7 -76L138.3 -79C137.2 -76.5 137.4 -77.1 134.8 -71.4C132.2 -65.7 132.9 -67.2 130.7 -61.9C128.4 -56.5 129.9 -59.7 128 -55.3C126.1 -51 127.1 -53.3 124.9 -48.8C122.8 -44.3 124.1 -46.4 121.6 -41.8C119 -37.2 119.8 -39.5 117.3 -34.9C114.8 -30.4 116.1 -33.1 114 -28.2C112 -23.2 113.1 -25.4 111.2 -20C109.3 -14.6 110.7 -17 108.3 -12C105.9 -7 107.4 -10.1 104 -5.2C100.5 -0.2 103 -3.1 97.9 2.9C92.9 8.9 93.5 8.4 88.7 12.9C83.9 17.4 87.1 13.9 83.6 16.5C80 19 81.6 17.8 78 20.5C74.4 23.2 76 22 72.8 24.5C69.5 27.1 70.9 25.7 68.3 28.2C65.7 30.7 66 30.7 64.9 31.9Z" fill="rgb(14,44,224)"/>
<path d="M116.6 -27.2C117.8 -29.3 117.5 -29.1 120 -33.5C122.6 -37.9 121.7 -35.7 124.2 -40.4C126.7 -45.1 125.4 -43 127.5 -47.6C129.5 -52.3 128.6 -49.9 130.4 -54.3C132.2 -58.7 130.7 -55.6 133 -60.9C135.2 -66.3 134.5 -64.7 137.1 -70.4C139.7 -76.1 139.5 -75.4 140.7 -77.9L138.1 -79.1C137 -76.5 137.2 -77.2 134.7 -71.5C132.2 -65.7 132.9 -67.2 130.8 -61.8C128.6 -56.4 130 -59.6 128.2 -55.2C126.3 -50.8 127.3 -53.2 125.3 -48.6C123.3 -44 124.5 -46.2 122.1 -41.5C119.7 -36.8 120.4 -39.1 118.1 -34.5C115.8 -29.9 116.2 -30.1 115.3 -27.8Z" fill="rgb(10,20,150)"/>
<path d="M144.7 -76.1C146.3 -79.6 146.4 -80.4 149.4 -86.4C152.4 -92.4 151.3 -89.4 153.8 -94.2C156.4 -98.9 154.8 -95.5 157.1 -100.7C159.4 -105.9 158.4 -103.8 160.9 -109.8C163.4 -115.8 162.1 -113 164.5 -118.7C166.9 -124.5 165.8 -122 168.1 -126.9C170.4 -131.8 168.8 -127.2 171.5 -133.6C174.1 -139.9 173.3 -137.7 176.1 -146C178.8 -154.3 178.5 -154.3 179.7 -158.4L179.3 -158.6C176.9 -155 176.5 -155.4 171.9 -148C167.3 -140.6 168.9 -142.4 165.5 -136.4C162.2 -130.5 164.6 -134.9 161.9 -130.1C159.2 -125.3 160.4 -127.7 157.5 -122.1C154.6 -116.4 156 -119.1 153.1 -113.2C150.3 -107.4 151.2 -109.6 148.9 -104.5C146.6 -99.3 148.3 -102.8 146.2 -97.8C144.1 -92.9 145.2 -95.9 142.6 -89.6C140 -83.2 139.7 -82.4 138.3 -78.9Z" fill="rgb(14,44,224)"/>
<path d="M142.4 -77.1C143.9 -80.6 144.1 -81.4 147 -87.5C150 -93.6 148.8 -90.6 151.3 -95.4C153.8 -100.2 152.1 -96.8 154.4 -101.9C156.8 -107.1 155.8 -104.9 158.3 -110.9C160.9 -116.9 159.6 -114.2 162.1 -119.9C164.6 -125.6 163.5 -123.1 165.9 -128.1C168.2 -133 166.5 -128.3 169.3 -134.6C172 -140.9 171.1 -138.8 174.2 -146.9C177.3 -155 177.1 -154.9 178.5 -159L178.3 -159.1C176.1 -155.4 175.9 -155.7 171.6 -148.1C167.4 -140.6 168.8 -142.4 165.6 -136.4C162.4 -130.4 164.6 -134.9 162 -130C159.4 -125.2 160.6 -127.6 157.7 -121.9C154.9 -116.3 156.3 -119 153.5 -113.1C150.7 -107.2 151.7 -109.4 149.4 -104.2C147 -99.1 148.7 -102.6 146.5 -97.7C144.4 -92.7 145.5 -95.7 142.8 -89.5C140.1 -83.2 139.9 -82.4 138.4 -78.8Z" fill="rgb(10,20,150)"/>
<path d="M147.1 -103.5C149 -107 149.2 -107.1 152.8 -113.9C156.4 -120.6 154.7 -117.5 158.1 -123.8C161.4 -130.2 159.6 -126.3 162.8 -132.9C165.9 -139.4 164.5 -136 167.6 -143.5C170.6 -151 170.5 -151.5 171.9 -155.4L171.7 -155.6C169.6 -151.9 169.2 -151.7 165.4 -144.5C161.6 -137.4 163.5 -140.6 160.2 -134.1C157 -127.6 158.8 -131.4 155.7 -125C152.7 -118.5 154.2 -121.7 151 -114.7C147.8 -107.8 147.7 -107.6 146.1 -104.1Z" fill="rgb(226,30,28)"/>
<path d="M104 64.5 L116 58 L112 70 L106 68Z" fill="rgb(190,240,110)"/>
<path d="M101 66.5 L110 64 L108 69 L103 69.5Z" fill="rgb(112,240,132)"/>
<path d="M95 66C94.3 65.2 95.3 65 98 63C100.7 61 99.8 61.8 103 60C106.2 58.2 104.5 59.4 107.5 57.5C110.5 55.6 108.7 57.4 111.9 54.4C115.1 51.4 114.1 49.6 117.1 48.5C120.1 47.4 121.4 47.5 121 51C120.6 54.5 119.7 55.1 116 59C112.3 62.9 113.7 60.8 110 62.6C106.3 64.4 108.3 63.5 105 64.4C101.7 65.3 103.3 64.8 100 65.3C96.7 65.8 95.7 66.8 95 66Z" fill="rgb(14,44,224)"/>
<path d="M95 72.6C94.3 72.1 95.5 72.6 100 70.4C104.5 68.2 104.5 66.1 108.5 66C112.5 65.9 111.8 67.8 112 70C112.2 72.2 111.3 72 109 72.5C106.7 73 107.3 71.8 105 71.6C102.7 71.4 105.3 71.7 102 72C98.7 72.3 95.7 73.1 95 72.6Z" fill="rgb(14,44,224)"/>
<path d="M64.9 32.6C63.4 34.9 62.3 34.3 60.2 39.3C58.1 44.3 58.7 42.2 58.7 47.8C58.7 53.4 58 50.8 60.2 56.1C62.5 61.4 61.3 59.7 65.5 63.7C69.6 67.7 68.1 65.9 72.7 68.1C77.3 70.2 75.4 69.3 79.3 70C83.2 70.7 82.7 70.1 84.5 70.1L84.5 69.5C82.9 69.1 83.3 69.6 79.7 68.4C76.2 67.1 77.8 68.1 73.9 65.7C70 63.4 71.2 65 67.9 61.3C64.6 57.6 65.6 59.2 64 54.7C62.4 50.2 62.9 52.3 63.1 47.8C63.3 43.3 62.6 45.3 64.4 41.1C66.3 36.9 67.2 37.3 68.7 35.4Z" fill="rgb(226,30,28)"/>
<path d="M65.2 45.5C65.5 44 65 44.6 66.2 43.3C67.4 42 66.5 42.4 68.7 41.7C70.9 41 69.8 41.3 72.8 41.2C75.8 41.1 74.4 41.4 77.8 41.4C81.2 41.4 79.5 41.6 82.9 41.2C86.3 40.8 84.6 41 88 40.2C91.4 39.4 89.6 39.9 93 38.7C96.4 37.5 94.7 38.2 98.1 36.5C101.5 34.8 99.9 35.4 103.1 33.5C106.3 31.6 102.7 34.4 107.6 30.8C112.5 27.2 111.7 28.1 117.8 22.7C123.9 17.3 121.2 19.7 125.9 14.6C130.6 9.5 128.3 12.3 131.9 7.5C135.5 2.7 133.4 5.6 136.7 0.1C140 -5.4 138.5 -2.4 141.7 -9C144.9 -15.6 145.2 -17.9 146.3 -19.6C147.4 -21.3 146.2 -18.2 145 -14C143.8 -9.8 145.1 -14.2 142.8 -7C140.5 0.2 141 0.2 138.2 7.5C135.4 14.8 137.1 10 134.5 15C131.9 20 132.4 18 130.3 22.5C128.2 27 129.8 24.5 128.1 28.4C126.4 32.3 127.4 29.9 125.2 34.3C123 38.7 124.2 37 121.5 41.7C118.8 46.4 120.3 44.1 117.1 48.3C113.9 52.5 115.1 51.2 111.9 54.2C108.7 57.2 110.5 55.4 107.5 57.3C104.5 59.2 105.8 58.3 103 59.8C100.2 61.3 101.7 60.7 99 61.8C96.3 62.9 98 62.5 95 63.2C92 63.9 94 63.7 90 64C86 64.3 87.6 64.7 82.9 64C78.2 63.3 80 64 75.8 62C71.6 60 73.2 61 70.2 58C67.2 55 68.4 56.3 66.7 52.9C65 49.5 65.7 50.3 65.2 47.8C64.7 45.3 64.9 47 65.2 45.5Z" fill="#fff" stroke="#444" stroke-width="0.5"/>
</g>
<g transform="translate(0 0)">
<path d="M68.7 35.3C69.7 34.1 69.3 34.1 71.7 31.8C74.1 29.5 72.8 30.9 75.8 28.5C78.9 26 77.5 27.1 81 24.5C84.5 21.9 82.7 23.1 86.4 20.5C90.2 18 87.1 21.4 92.3 16.7C97.5 12 96.5 12.5 102.1 6.5C107.6 0.5 104.8 3.7 109 -1.2C113.3 -6.2 111.5 -3.2 114.7 -8.4C118 -13.6 116.4 -11.5 118.8 -17C121.2 -22.5 119.9 -20.2 122 -24.8C124 -29.5 122.6 -26.5 124.9 -30.9C127.2 -35.3 126.4 -33.1 128.8 -38C131.2 -42.9 130.1 -40.8 132.1 -45.6C134.1 -50.4 133.1 -48 134.8 -52.5C136.6 -57 135.2 -53.8 137.3 -59.1C139.5 -64.5 138.8 -63 141.2 -68.6C143.6 -74.2 143.5 -73.5 144.7 -76L138.3 -79C137.2 -76.5 137.4 -77.1 134.8 -71.4C132.2 -65.7 132.9 -67.2 130.7 -61.9C128.4 -56.5 129.9 -59.7 128 -55.3C126.1 -51 127.1 -53.3 124.9 -48.8C122.8 -44.3 124.1 -46.4 121.6 -41.8C119 -37.2 119.8 -39.5 117.3 -34.9C114.8 -30.4 116.1 -33.1 114 -28.2C112 -23.2 113.1 -25.4 111.2 -20C109.3 -14.6 110.7 -17 108.3 -12C105.9 -7 107.4 -10.1 104 -5.2C100.5 -0.2 103 -3.1 97.9 2.9C92.9 8.9 93.5 8.4 88.7 12.9C83.9 17.4 87.1 13.9 83.6 16.5C80 19 81.6 17.8 78 20.5C74.4 23.2 76 22 72.8 24.5C69.5 27.1 70.9 25.7 68.3 28.2C65.7 30.7 66 30.7 64.9 31.9Z" fill="rgb(14,44,224)"/>
<path d="M116.6 -27.2C117.8 -29.3 117.5 -29.1 120 -33.5C122.6 -37.9 121.7 -35.7 124.2 -40.4C126.7 -45.1 125.4 -43 127.5 -47.6C129.5 -52.3 128.6 -49.9 130.4 -54.3C132.2 -58.7 130.7 -55.6 133 -60.9C135.2 -66.3 134.5 -64.7 137.1 -70.4C139.7 -76.1 139.5 -75.4 140.7 -77.9L138.1 -79.1C137 -76.5 137.2 -77.2 134.7 -71.5C132.2 -65.7 132.9 -67.2 130.8 -61.8C128.6 -56.4 130 -59.6 128.2 -55.2C126.3 -50.8 127.3 -53.2 125.3 -48.6C123.3 -44 124.5 -46.2 122.1 -41.5C119.7 -36.8 120.4 -39.1 118.1 -34.5C115.8 -29.9 116.2 -30.1 115.3 -27.8Z" fill="rgb(10,20,150)"/>
<path d="M144.7 -76.1C146.3 -79.6 146.4 -80.4 149.4 -86.4C152.4 -92.4 151.3 -89.4 153.8 -94.2C156.4 -98.9 154.8 -95.5 157.1 -100.7C159.4 -105.9 158.4 -103.8 160.9 -109.8C163.4 -115.8 162.1 -113 164.5 -118.7C166.9 -124.5 165.8 -122 168.1 -126.9C170.4 -131.8 168.8 -127.2 171.5 -133.6C174.1 -139.9 173.3 -137.7 176.1 -146C178.8 -154.3 178.5 -154.3 179.7 -158.4L179.3 -158.6C176.9 -155 176.5 -155.4 171.9 -148C167.3 -140.6 168.9 -142.4 165.5 -136.4C162.2 -130.5 164.6 -134.9 161.9 -130.1C159.2 -125.3 160.4 -127.7 157.5 -122.1C154.6 -116.4 156 -119.1 153.1 -113.2C150.3 -107.4 151.2 -109.6 148.9 -104.5C146.6 -99.3 148.3 -102.8 146.2 -97.8C144.1 -92.9 145.2 -95.9 142.6 -89.6C140 -83.2 139.7 -82.4 138.3 -78.9Z" fill="rgb(14,44,224)"/>
<path d="M142.4 -77.1C143.9 -80.6 144.1 -81.4 147 -87.5C150 -93.6 148.8 -90.6 151.3 -95.4C153.8 -100.2 152.1 -96.8 154.4 -101.9C156.8 -107.1 155.8 -104.9 158.3 -110.9C160.9 -116.9 159.6 -114.2 162.1 -119.9C164.6 -125.6 163.5 -123.1 165.9 -128.1C168.2 -133 166.5 -128.3 169.3 -134.6C172 -140.9 171.1 -138.8 174.2 -146.9C177.3 -155 177.1 -154.9 178.5 -159L178.3 -159.1C176.1 -155.4 175.9 -155.7 171.6 -148.1C167.4 -140.6 168.8 -142.4 165.6 -136.4C162.4 -130.4 164.6 -134.9 162 -130C159.4 -125.2 160.6 -127.6 157.7 -121.9C154.9 -116.3 156.3 -119 153.5 -113.1C150.7 -107.2 151.7 -109.4 149.4 -104.2C147 -99.1 148.7 -102.6 146.5 -97.7C144.4 -92.7 145.5 -95.7 142.8 -89.5C140.1 -83.2 139.9 -82.4 138.4 -78.8Z" fill="rgb(10,20,150)"/>
<path d="M147.1 -103.5C149 -107 149.2 -107.1 152.8 -113.9C156.4 -120.6 154.7 -117.5 158.1 -123.8C161.4 -130.2 159.6 -126.3 162.8 -132.9C165.9 -139.4 164.5 -136 167.6 -143.5C170.6 -151 170.5 -151.5 171.9 -155.4L171.7 -155.6C169.6 -151.9 169.2 -151.7 165.4 -144.5C161.6 -137.4 163.5 -140.6 160.2 -134.1C157 -127.6 158.8 -131.4 155.7 -125C152.7 -118.5 154.2 -121.7 151 -114.7C147.8 -107.8 147.7 -107.6 146.1 -104.1Z" fill="rgb(226,30,28)"/>
<path d="M104 64.5 L116 58 L112 70 L106 68Z" fill="rgb(190,240,110)"/>
<path d="M101 66.5 L110 64 L108 69 L103 69.5Z" fill="rgb(112,240,132)"/>
<path d="M95 66C94.3 65.2 95.3 65 98 63C100.7 61 99.8 61.8 103 60C106.2 58.2 104.5 59.4 107.5 57.5C110.5 55.6 108.7 57.4 111.9 54.4C115.1 51.4 114.1 49.6 117.1 48.5C120.1 47.4 121.4 47.5 121 51C120.6 54.5 119.7 55.1 116 59C112.3 62.9 113.7 60.8 110 62.6C106.3 64.4 108.3 63.5 105 64.4C101.7 65.3 103.3 64.8 100 65.3C96.7 65.8 95.7 66.8 95 66Z" fill="rgb(14,44,224)"/>
<path d="M95 72.6C94.3 72.1 95.5 72.6 100 70.4C104.5 68.2 104.5 66.1 108.5 66C112.5 65.9 111.8 67.8 112 70C112.2 72.2 111.3 72 109 72.5C106.7 73 107.3 71.8 105 71.6C102.7 71.4 105.3 71.7 102 72C98.7 72.3 95.7 73.1 95 72.6Z" fill="rgb(14,44,224)"/>
<path d="M64.9 32.6C63.4 34.9 62.3 34.3 60.2 39.3C58.1 44.3 58.7 42.2 58.7 47.8C58.7 53.4 58 50.8 60.2 56.1C62.5 61.4 61.3 59.7 65.5 63.7C69.6 67.7 68.1 65.9 72.7 68.1C77.3 70.2 75.4 69.3 79.3 70C83.2 70.7 82.7 70.1 84.5 70.1L84.5 69.5C82.9 69.1 83.3 69.6 79.7 68.4C76.2 67.1 77.8 68.1 73.9 65.7C70 63.4 71.2 65 67.9 61.3C64.6 57.6 65.6 59.2 64 54.7C62.4 50.2 62.9 52.3 63.1 47.8C63.3 43.3 62.6 45.3 64.4 41.1C66.3 36.9 67.2 37.3 68.7 35.4Z" fill="rgb(226,30,28)"/>
<path d="M65.2 45.5C65.5 44 65 44.6 66.2 43.3C67.4 42 66.5 42.4 68.7 41.7C70.9 41 69.8 41.3 72.8 41.2C75.8 41.1 74.4 41.4 77.8 41.4C81.2 41.4 79.5 41.6 82.9 41.2C86.3 40.8 84.6 41 88 40.2C91.4 39.4 89.6 39.9 93 38.7C96.4 37.5 94.7 38.2 98.1 36.5C101.5 34.8 99.9 35.4 103.1 33.5C106.3 31.6 102.7 34.4 107.6 30.8C112.5 27.2 111.7 28.1 117.8 22.7C123.9 17.3 121.2 19.7 125.9 14.6C130.6 9.5 128.3 12.3 131.9 7.5C135.5 2.7 133.4 5.6 136.7 0.1C140 -5.4 138.5 -2.4 141.7 -9C144.9 -15.6 145.2 -17.9 146.3 -19.6C147.4 -21.3 146.2 -18.2 145 -14C143.8 -9.8 145.1 -14.2 142.8 -7C140.5 0.2 141 0.2 138.2 7.5C135.4 14.8 137.1 10 134.5 15C131.9 20 132.4 18 130.3 22.5C128.2 27 129.8 24.5 128.1 28.4C126.4 32.3 127.4 29.9 125.2 34.3C123 38.7 124.2 37 121.5 41.7C118.8 46.4 120.3 44.1 117.1 48.3C113.9 52.5 115.1 51.2 111.9 54.2C108.7 57.2 110.5 55.4 107.5 57.3C104.5 59.2 105.8 58.3 103 59.8C100.2 61.3 101.7 60.7 99 61.8C96.3 62.9 98 62.5 95 63.2C92 63.9 94 63.7 90 64C86 64.3 87.6 64.7 82.9 64C78.2 63.3 80 64 75.8 62C71.6 60 73.2 61 70.2 58C67.2 55 68.4 56.3 66.7 52.9C65 49.5 65.7 50.3 65.2 47.8C64.7 45.3 64.9 47 65.2 45.5Z" fill="#fff" stroke="#444" stroke-width="0.5"/>
</g>
<g transform="translate(0 83)">
<path d="M68.7 35.3C69.7 34.1 69.3 34.1 71.7 31.8C74.1 29.5 72.8 30.9 75.8 28.5C78.9 26 77.5 27.1 81 24.5C84.5 21.9 82.7 23.1 86.4 20.5C90.2 18 87.1 21.4 92.3 16.7C97.5 12 96.5 12.5 102.1 6.5C107.6 0.5 104.8 3.7 109 -1.2C113.3 -6.2 111.5 -3.2 114.7 -8.4C118 -13.6 116.4 -11.5 118.8 -17C121.2 -22.5 119.9 -20.2 122 -24.8C124 -29.5 122.6 -26.5 124.9 -30.9C127.2 -35.3 126.4 -33.1 128.8 -38C131.2 -42.9 130.1 -40.8 132.1 -45.6C134.1 -50.4 133.1 -48 134.8 -52.5C136.6 -57 135.2 -53.8 137.3 -59.1C139.5 -64.5 138.8 -63 141.2 -68.6C143.6 -74.2 143.5 -73.5 144.7 -76L138.3 -79C137.2 -76.5 137.4 -77.1 134.8 -71.4C132.2 -65.7 132.9 -67.2 130.7 -61.9C128.4 -56.5 129.9 -59.7 128 -55.3C126.1 -51 127.1 -53.3 124.9 -48.8C122.8 -44.3 124.1 -46.4 121.6 -41.8C119 -37.2 119.8 -39.5 117.3 -34.9C114.8 -30.4 116.1 -33.1 114 -28.2C112 -23.2 113.1 -25.4 111.2 -20C109.3 -14.6 110.7 -17 108.3 -12C105.9 -7 107.4 -10.1 104 -5.2C100.5 -0.2 103 -3.1 97.9 2.9C92.9 8.9 93.5 8.4 88.7 12.9C83.9 17.4 87.1 13.9 83.6 16.5C80 19 81.6 17.8 78 20.5C74.4 23.2 76 22 72.8 24.5C69.5 27.1 70.9 25.7 68.3 28.2C65.7 30.7 66 30.7 64.9 31.9Z" fill="rgb(14,44,224)"/>
<path d="M116.6 -27.2C117.8 -29.3 117.5 -29.1 120 -33.5C122.6 -37.9 121.7 -35.7 124.2 -40.4C126.7 -45.1 125.4 -43 127.5 -47.6C129.5 -52.3 128.6 -49.9 130.4 -54.3C132.2 -58.7 130.7 -55.6 133 -60.9C135.2 -66.3 134.5 -64.7 137.1 -70.4C139.7 -76.1 139.5 -75.4 140.7 -77.9L138.1 -79.1C137 -76.5 137.2 -77.2 134.7 -71.5C132.2 -65.7 132.9 -67.2 130.8 -61.8C128.6 -56.4 130 -59.6 128.2 -55.2C126.3 -50.8 127.3 -53.2 125.3 -48.6C123.3 -44 124.5 -46.2 122.1 -41.5C119.7 -36.8 120.4 -39.1 118.1 -34.5C115.8 -29.9 116.2 -30.1 115.3 -27.8Z" fill="rgb(10,20,150)"/>
<path d="M144.7 -76.1C146.3 -79.6 146.4 -80.4 149.4 -86.4C152.4 -92.4 151.3 -89.4 153.8 -94.2C156.4 -98.9 154.8 -95.5 157.1 -100.7C159.4 -105.9 158.4 -103.8 160.9 -109.8C163.4 -115.8 162.1 -113 164.5 -118.7C166.9 -124.5 165.8 -122 168.1 -126.9C170.4 -131.8 168.8 -127.2 171.5 -133.6C174.1 -139.9 173.3 -137.7 176.1 -146C178.8 -154.3 178.5 -154.3 179.7 -158.4L179.3 -158.6C176.9 -155 176.5 -155.4 171.9 -148C167.3 -140.6 168.9 -142.4 165.5 -136.4C162.2 -130.5 164.6 -134.9 161.9 -130.1C159.2 -125.3 160.4 -127.7 157.5 -122.1C154.6 -116.4 156 -119.1 153.1 -113.2C150.3 -107.4 151.2 -109.6 148.9 -104.5C146.6 -99.3 148.3 -102.8 146.2 -97.8C144.1 -92.9 145.2 -95.9 142.6 -89.6C140 -83.2 139.7 -82.4 138.3 -78.9Z" fill="rgb(14,44,224)"/>
<path d="M142.4 -77.1C143.9 -80.6 144.1 -81.4 147 -87.5C150 -93.6 148.8 -90.6 151.3 -95.4C153.8 -100.2 152.1 -96.8 154.4 -101.9C156.8 -107.1 155.8 -104.9 158.3 -110.9C160.9 -116.9 159.6 -114.2 162.1 -119.9C164.6 -125.6 163.5 -123.1 165.9 -128.1C168.2 -133 166.5 -128.3 169.3 -134.6C172 -140.9 171.1 -138.8 174.2 -146.9C177.3 -155 177.1 -154.9 178.5 -159L178.3 -159.1C176.1 -155.4 175.9 -155.7 171.6 -148.1C167.4 -140.6 168.8 -142.4 165.6 -136.4C162.4 -130.4 164.6 -134.9 162 -130C159.4 -125.2 160.6 -127.6 157.7 -121.9C154.9 -116.3 156.3 -119 153.5 -113.1C150.7 -107.2 151.7 -109.4 149.4 -104.2C147 -99.1 148.7 -102.6 146.5 -97.7C144.4 -92.7 145.5 -95.7 142.8 -89.5C140.1 -83.2 139.9 -82.4 138.4 -78.8Z" fill="rgb(10,20,150)"/>
<path d="M147.1 -103.5C149 -107 149.2 -107.1 152.8 -113.9C156.4 -120.6 154.7 -117.5 158.1 -123.8C161.4 -130.2 159.6 -126.3 162.8 -132.9C165.9 -139.4 164.5 -136 167.6 -143.5C170.6 -151 170.5 -151.5 171.9 -155.4L171.7 -155.6C169.6 -151.9 169.2 -151.7 165.4 -144.5C161.6 -137.4 163.5 -140.6 160.2 -134.1C157 -127.6 158.8 -131.4 155.7 -125C152.7 -118.5 154.2 -121.7 151 -114.7C147.8 -107.8 147.7 -107.6 146.1 -104.1Z" fill="rgb(226,30,28)"/>
<path d="M104 64.5 L116 58 L112 70 L106 68Z" fill="rgb(190,240,110)"/>
<path d="M101 66.5 L110 64 L108 69 L103 69.5Z" fill="rgb(112,240,132)"/>
<path d="M95 66C94.3 65.2 95.3 65 98 63C100.7 61 99.8 61.8 103 60C106.2 58.2 104.5 59.4 107.5 57.5C110.5 55.6 108.7 57.4 111.9 54.4C115.1 51.4 114.1 49.6 117.1 48.5C120.1 47.4 121.4 47.5 121 51C120.6 54.5 119.7 55.1 116 59C112.3 62.9 113.7 60.8 110 62.6C106.3 64.4 108.3 63.5 105 64.4C101.7 65.3 103.3 64.8 100 65.3C96.7 65.8 95.7 66.8 95 66Z" fill="rgb(14,44,224)"/>
<path d="M95 72.6C94.3 72.1 95.5 72.6 100 70.4C104.5 68.2 104.5 66.1 108.5 66C112.5 65.9 111.8 67.8 112 70C112.2 72.2 111.3 72 109 72.5C106.7 73 107.3 71.8 105 71.6C102.7 71.4 105.3 71.7 102 72C98.7 72.3 95.7 73.1 95 72.6Z" fill="rgb(14,44,224)"/>
<path d="M64.9 32.6C63.4 34.9 62.3 34.3 60.2 39.3C58.1 44.3 58.7 42.2 58.7 47.8C58.7 53.4 58 50.8 60.2 56.1C62.5 61.4 61.3 59.7 65.5 63.7C69.6 67.7 68.1 65.9 72.7 68.1C77.3 70.2 75.4 69.3 79.3 70C83.2 70.7 82.7 70.1 84.5 70.1L84.5 69.5C82.9 69.1 83.3 69.6 79.7 68.4C76.2 67.1 77.8 68.1 73.9 65.7C70 63.4 71.2 65 67.9 61.3C64.6 57.6 65.6 59.2 64 54.7C62.4 50.2 62.9 52.3 63.1 47.8C63.3 43.3 62.6 45.3 64.4 41.1C66.3 36.9 67.2 37.3 68.7 35.4Z" fill="rgb(226,30,28)"/>
<path d="M65.2 45.5C65.5 44 65 44.6 66.2 43.3C67.4 42 66.5 42.4 68.7 41.7C70.9 41 69.8 41.3 72.8 41.2C75.8 41.1 74.4 41.4 77.8 41.4C81.2 41.4 79.5 41.6 82.9 41.2C86.3 40.8 84.6 41 88 40.2C91.4 39.4 89.6 39.9 93 38.7C96.4 37.5 94.7 38.2 98.1 36.5C101.5 34.8 99.9 35.4 103.1 33.5C106.3 31.6 102.7 34.4 107.6 30.8C112.5 27.2 111.7 28.1 117.8 22.7C123.9 17.3 121.2 19.7 125.9 14.6C130.6 9.5 128.3 12.3 131.9 7.5C135.5 2.7 133.4 5.6 136.7 0.1C140 -5.4 138.5 -2.4 141.7 -9C144.9 -15.6 145.2 -17.9 146.3 -19.6C147.4 -21.3 146.2 -18.2 145 -14C143.8 -9.8 145.1 -14.2 142.8 -7C140.5 0.2 141 0.2 138.2 7.5C135.4 14.8 137.1 10 134.5 15C131.9 20 132.4 18 130.3 22.5C128.2 27 129.8 24.5 128.1 28.4C126.4 32.3 127.4 29.9 125.2 34.3C123 38.7 124.2 37 121.5 41.7C118.8 46.4 120.3 44.1 117.1 48.3C113.9 52.5 115.1 51.2 111.9 54.2C108.7 57.2 110.5 55.4 107.5 57.3C104.5 59.2 105.8 58.3 103 59.8C100.2 61.3 101.7 60.7 99 61.8C96.3 62.9 98 62.5 95 63.2C92 63.9 94 63.7 90 64C86 64.3 87.6 64.7 82.9 64C78.2 63.3 80 64 75.8 62C71.6 60 73.2 61 70.2 58C67.2 55 68.4 56.3 66.7 52.9C65 49.5 65.7 50.3 65.2 47.8C64.7 45.3 64.9 47 65.2 45.5Z" fill="#fff" stroke="#444" stroke-width="0.5"/>
</g>
<g transform="translate(0 166)">
<path d="M68.7 35.3C69.7 34.1 69.3 34.1 71.7 31.8C74.1 29.5 72.8 30.9 75.8 28.5C78.9 26 77.5 27.1 81 24.5C84.5 21.9 82.7 23.1 86.4 20.5C90.2 18 87.1 21.4 92.3 16.7C97.5 12 96.5 12.5 102.1 6.5C107.6 0.5 104.8 3.7 109 -1.2C113.3 -6.2 111.5 -3.2 114.7 -8.4C118 -13.6 116.4 -11.5 118.8 -17C121.2 -22.5 119.9 -20.2 122 -24.8C124 -29.5 122.6 -26.5 124.9 -30.9C127.2 -35.3 126.4 -33.1 128.8 -38C131.2 -42.9 130.1 -40.8 132.1 -45.6C134.1 -50.4 133.1 -48 134.8 -52.5C136.6 -57 135.2 -53.8 137.3 -59.1C139.5 -64.5 138.8 -63 141.2 -68.6C143.6 -74.2 143.5 -73.5 144.7 -76L138.3 -79C137.2 -76.5 137.4 -77.1 134.8 -71.4C132.2 -65.7 132.9 -67.2 130.7 -61.9C128.4 -56.5 129.9 -59.7 128 -55.3C126.1 -51 127.1 -53.3 124.9 -48.8C122.8 -44.3 124.1 -46.4 121.6 -41.8C119 -37.2 119.8 -39.5 117.3 -34.9C114.8 -30.4 116.1 -33.1 114 -28.2C112 -23.2 113.1 -25.4 111.2 -20C109.3 -14.6 110.7 -17 108.3 -12C105.9 -7 107.4 -10.1 104 -5.2C100.5 -0.2 103 -3.1 97.9 2.9C92.9 8.9 93.5 8.4 88.7 12.9C83.9 17.4 87.1 13.9 83.6 16.5C80 19 81.6 17.8 78 20.5C74.4 23.2 76 22 72.8 24.5C69.5 27.1 70.9 25.7 68.3 28.2C65.7 30.7 66 30.7 64.9 31.9Z" fill="rgb(14,44,224)"/>
<path d="M116.6 -27.2C117.8 -29.3 117.5 -29.1 120 -33.5C122.6 -37.9 121.7 -35.7 124.2 -40.4C126.7 -45.1 125.4 -43 127.5 -47.6C129.5 -52.3 128.6 -49.9 130.4 -54.3C132.2 -58.7 130.7 -55.6 133 -60.9C135.2 -66.3 134.5 -64.7 137.1 -70.4C139.7 -76.1 139.5 -75.4 140.7 -77.9L138.1 -79.1C137 -76.5 137.2 -77.2 134.7 -71.5C132.2 -65.7 132.9 -67.2 130.8 -61.8C128.6 -56.4 130 -59.6 128.2 -55.2C126.3 -50.8 127.3 -53.2 125.3 -48.6C123.3 -44 124.5 -46.2 122.1 -41.5C119.7 -36.8 120.4 -39.1 118.1 -34.5C115.8 -29.9 116.2 -30.1 115.3 -27.8Z" fill="rgb(10,20,150)"/>
<path d="M144.7 -76.1C146.3 -79.6 146.4 -80.4 149.4 -86.4C152.4 -92.4 151.3 -89.4 153.8 -94.2C156.4 -98.9 154.8 -95.5 157.1 -100.7C159.4 -105.9 158.4 -103.8 160.9 -109.8C163.4 -115.8 162.1 -113 164.5 -118.7C166.9 -124.5 165.8 -122 168.1 -126.9C170.4 -131.8 168.8 -127.2 171.5 -133.6C174.1 -139.9 173.3 -137.7 176.1 -146C178.8 -154.3 178.5 -154.3 179.7 -158.4L179.3 -158.6C176.9 -155 176.5 -155.4 171.9 -148C167.3 -140.6 168.9 -142.4 165.5 -136.4C162.2 -130.5 164.6 -134.9 161.9 -130.1C159.2 -125.3 160.4 -127.7 157.5 -122.1C154.6 -116.4 156 -119.1 153.1 -113.2C150.3 -107.4 151.2 -109.6 148.9 -104.5C146.6 -99.3 148.3 -102.8 146.2 -97.8C144.1 -92.9 145.2 -95.9 142.6 -89.6C140 -83.2 139.7 -82.4 138.3 -78.9Z" fill="rgb(14,44,224)"/>
<path d="M142.4 -77.1C143.9 -80.6 144.1 -81.4 147 -87.5C150 -93.6 148.8 -90.6 151.3 -95.4C153.8 -100.2 152.1 -96.8 154.4 -101.9C156.8 -107.1 155.8 -104.9 158.3 -110.9C160.9 -116.9 159.6 -114.2 162.1 -119.9C164.6 -125.6 163.5 -123.1 165.9 -128.1C168.2 -133 166.5 -128.3 169.3 -134.6C172 -140.9 171.1 -138.8 174.2 -146.9C177.3 -155 177.1 -154.9 178.5 -159L178.3 -159.1C176.1 -155.4 175.9 -155.7 171.6 -148.1C167.4 -140.6 168.8 -142.4 165.6 -136.4C162.4 -130.4 164.6 -134.9 162 -130C159.4 -125.2 160.6 -127.6 157.7 -121.9C154.9 -116.3 156.3 -119 153.5 -113.1C150.7 -107.2 151.7 -109.4 149.4 -104.2C147 -99.1 148.7 -102.6 146.5 -97.7C144.4 -92.7 145.5 -95.7 142.8 -89.5C140.1 -83.2 139.9 -82.4 138.4 -78.8Z" fill="rgb(10,20,150)"/>
<path d="M147.1 -103.5C149 -107 149.2 -107.1 152.8 -113.9C156.4 -120.6 154.7 -117.5 158.1 -123.8C161.4 -130.2 159.6 -126.3 162.8 -132.9C165.9 -139.4 164.5 -136 167.6 -143.5C170.6 -151 170.5 -151.5 171.9 -155.4L171.7 -155.6C169.6 -151.9 169.2 -151.7 165.4 -144.5C161.6 -137.4 163.5 -140.6 160.2 -134.1C157 -127.6 158.8 -131.4 155.7 -125C152.7 -118.5 154.2 -121.7 151 -114.7C147.8 -107.8 147.7 -107.6 146.1 -104.1Z" fill="rgb(226,30,28)"/>
<path d="M104 64.5 L116 58 L112 70 L106 68Z" fill="rgb(190,240,110)"/>
<path d="M101 66.5 L110 64 L108 69 L103 69.5Z" fill="rgb(112,240,132)"/>
<path d="M95 66C94.3 65.2 95.3 65 98 63C100.7 61 99.8 61.8 103 60C106.2 58.2 104.5 59.4 107.5 57.5C110.5 55.6 108.7 57.4 111.9 54.4C115.1 51.4 114.1 49.6 117.1 48.5C120.1 47.4 121.4 47.5 121 51C120.6 54.5 119.7 55.1 116 59C112.3 62.9 113.7 60.8 110 62.6C106.3 64.4 108.3 63.5 105 64.4C101.7 65.3 103.3 64.8 100 65.3C96.7 65.8 95.7 66.8 95 66Z" fill="rgb(14,44,224)"/>
<path d="M95 72.6C94.3 72.1 95.5 72.6 100 70.4C104.5 68.2 104.5 66.1 108.5 66C112.5 65.9 111.8 67.8 112 70C112.2 72.2 111.3 72 109 72.5C106.7 73 107.3 71.8 105 71.6C102.7 71.4 105.3 71.7 102 72C98.7 72.3 95.7 73.1 95 72.6Z" fill="rgb(14,44,224)"/>
<path d="M64.9 32.6C63.4 34.9 62.3 34.3 60.2 39.3C58.1 44.3 58.7 42.2 58.7 47.8C58.7 53.4 58 50.8 60.2 56.1C62.5 61.4 61.3 59.7 65.5 63.7C69.6 67.7 68.1 65.9 72.7 68.1C77.3 70.2 75.4 69.3 79.3 70C83.2 70.7 82.7 70.1 84.5 70.1L84.5 69.5C82.9 69.1 83.3 69.6 79.7 68.4C76.2 67.1 77.8 68.1 73.9 65.7C70 63.4 71.2 65 67.9 61.3C64.6 57.6 65.6 59.2 64 54.7C62.4 50.2 62.9 52.3 63.1 47.8C63.3 43.3 62.6 45.3 64.4 41.1C66.3 36.9 67.2 37.3 68.7 35.4Z" fill="rgb(226,30,28)"/>
<path d="M65.2 45.5C65.5 44 65 44.6 66.2 43.3C67.4 42 66.5 42.4 68.7 41.7C70.9 41 69.8 41.3 72.8 41.2C75.8 41.1 74.4 41.4 77.8 41.4C81.2 41.4 79.5 41.6 82.9 41.2C86.3 40.8 84.6 41 88 40.2C91.4 39.4 89.6 39.9 93 38.7C96.4 37.5 94.7 38.2 98.1 36.5C101.5 34.8 99.9 35.4 103.1 33.5C106.3 31.6 102.7 34.4 107.6 30.8C112.5 27.2 111.7 28.1 117.8 22.7C123.9 17.3 121.2 19.7 125.9 14.6C130.6 9.5 128.3 12.3 131.9 7.5C135.5 2.7 133.4 5.6 136.7 0.1C140 -5.4 138.5 -2.4 141.7 -9C144.9 -15.6 145.2 -17.9 146.3 -19.6C147.4 -21.3 146.2 -18.2 145 -14C143.8 -9.8 145.1 -14.2 142.8 -7C140.5 0.2 141 0.2 138.2 7.5C135.4 14.8 137.1 10 134.5 15C131.9 20 132.4 18 130.3 22.5C128.2 27 129.8 24.5 128.1 28.4C126.4 32.3 127.4 29.9 125.2 34.3C123 38.7 124.2 37 121.5 41.7C118.8 46.4 120.3 44.1 117.1 48.3C113.9 52.5 115.1 51.2 111.9 54.2C108.7 57.2 110.5 55.4 107.5 57.3C104.5 59.2 105.8 58.3 103 59.8C100.2 61.3 101.7 60.7 99 61.8C96.3 62.9 98 62.5 95 63.2C92 63.9 94 63.7 90 64C86 64.3 87.6 64.7 82.9 64C78.2 63.3 80 64 75.8 62C71.6 60 73.2 61 70.2 58C67.2 55 68.4 56.3 66.7 52.9C65 49.5 65.7 50.3 65.2 47.8C64.7 45.3 64.9 47 65.2 45.5Z" fill="#fff" stroke="#444" stroke-width="0.5"/>
</g>
<g transform="translate(0 249)">
<path d="M68.7 35.3C69.7 34.1 69.3 34.1 71.7 31.8C74.1 29.5 72.8 30.9 75.8 28.5C78.9 26 77.5 27.1 81 24.5C84.5 21.9 82.7 23.1 86.4 20.5C90.2 18 87.1 21.4 92.3 16.7C97.5 12 96.5 12.5 102.1 6.5C107.6 0.5 104.8 3.7 109 -1.2C113.3 -6.2 111.5 -3.2 114.7 -8.4C118 -13.6 116.4 -11.5 118.8 -17C121.2 -22.5 119.9 -20.2 122 -24.8C124 -29.5 122.6 -26.5 124.9 -30.9C127.2 -35.3 126.4 -33.1 128.8 -38C131.2 -42.9 130.1 -40.8 132.1 -45.6C134.1 -50.4 133.1 -48 134.8 -52.5C136.6 -57 135.2 -53.8 137.3 -59.1C139.5 -64.5 138.8 -63 141.2 -68.6C143.6 -74.2 143.5 -73.5 144.7 -76L138.3 -79C137.2 -76.5 137.4 -77.1 134.8 -71.4C132.2 -65.7 132.9 -67.2 130.7 -61.9C128.4 -56.5 129.9 -59.7 128 -55.3C126.1 -51 127.1 -53.3 124.9 -48.8C122.8 -44.3 124.1 -46.4 121.6 -41.8C119 -37.2 119.8 -39.5 117.3 -34.9C114.8 -30.4 116.1 -33.1 114 -28.2C112 -23.2 113.1 -25.4 111.2 -20C109.3 -14.6 110.7 -17 108.3 -12C105.9 -7 107.4 -10.1 104 -5.2C100.5 -0.2 103 -3.1 97.9 2.9C92.9 8.9 93.5 8.4 88.7 12.9C83.9 17.4 87.1 13.9 83.6 16.5C80 19 81.6 17.8 78 20.5C74.4 23.2 76 22 72.8 24.5C69.5 27.1 70.9 25.7 68.3 28.2C65.7 30.7 66 30.7 64.9 31.9Z" fill="rgb(14,44,224)"/>
<path d="M116.6 -27.2C117.8 -29.3 117.5 -29.1 120 -33.5C122.6 -37.9 121.7 -35.7 124.2 -40.4C126.7 -45.1 125.4 -43 127.5 -47.6C129.5 -52.3 128.6 -49.9 130.4 -54.3C132.2 -58.7 130.7 -55.6 133 -60.9C135.2 -66.3 134.5 -64.7 137.1 -70.4C139.7 -76.1 139.5 -75.4 140.7 -77.9L138.1 -79.1C137 -76.5 137.2 -77.2 134.7 -71.5C132.2 -65.7 132.9 -67.2 130.8 -61.8C128.6 -56.4 130 -59.6 128.2 -55.2C126.3 -50.8 127.3 -53.2 125.3 -48.6C123.3 -44 124.5 -46.2 122.1 -41.5C119.7 -36.8 120.4 -39.1 118.1 -34.5C115.8 -29.9 116.2 -30.1 115.3 -27.8Z" fill="rgb(10,20,150)"/>
<path d="M144.7 -76.1C146.3 -79.6 146.4 -80.4 149.4 -86.4C152.4 -92.4 151.3 -89.4 153.8 -94.2C156.4 -98.9 154.8 -95.5 157.1 -100.7C159.4 -105.9 158.4 -103.8 160.9 -109.8C163.4 -115.8 162.1 -113 164.5 -118.7C166.9 -124.5 165.8 -122 168.1 -126.9C170.4 -131.8 168.8 -127.2 171.5 -133.6C174.1 -139.9 173.3 -137.7 176.1 -146C178.8 -154.3 178.5 -154.3 179.7 -158.4L179.3 -158.6C176.9 -155 176.5 -155.4 171.9 -148C167.3 -140.6 168.9 -142.4 165.5 -136.4C162.2 -130.5 164.6 -134.9 161.9 -130.1C159.2 -125.3 160.4 -127.7 157.5 -122.1C154.6 -116.4 156 -119.1 153.1 -113.2C150.3 -107.4 151.2 -109.6 148.9 -104.5C146.6 -99.3 148.3 -102.8 146.2 -97.8C144.1 -92.9 145.2 -95.9 142.6 -89.6C140 -83.2 139.7 -82.4 138.3 -78.9Z" fill="rgb(14,44,224)"/>
<path d="M142.4 -77.1C143.9 -80.6 144.1 -81.4 147 -87.5C150 -93.6 148.8 -90.6 151.3 -95.4C153.8 -100.2 152.1 -96.8 154.4 -101.9C156.8 -107.1 155.8 -104.9 158.3 -110.9C160.9 -116.9 159.6 -114.2 162.1 -119.9C164.6 -125.6 163.5 -123.1 165.9 -128.1C168.2 -133 166.5 -128.3 169.3 -134.6C172 -140.9 171.1 -138.8 174.2 -146.9C177.3 -155 177.1 -154.9 178.5 -159L178.3 -159.1C176.1 -155.4 175.9 -155.7 171.6 -148.1C167.4 -140.6 168.8 -142.4 165.6 -136.4C162.4 -130.4 164.6 -134.9 162 -130C159.4 -125.2 160.6 -127.6 157.7 -121.9C154.9 -116.3 156.3 -119 153.5 -113.1C150.7 -107.2 151.7 -109.4 149.4 -104.2C147 -99.1 148.7 -102.6 146.5 -97.7C144.4 -92.7 145.5 -95.7 142.8 -89.5C140.1 -83.2 139.9 -82.4 138.4 -78.8Z" fill="rgb(10,20,150)"/>
<path d="M147.1 -103.5C149 -107 149.2 -107.1 152.8 -113.9C156.4 -120.6 154.7 -117.5 158.1 -123.8C161.4 -130.2 159.6 -126.3 162.8 -132.9C165.9 -139.4 164.5 -136 167.6 -143.5C170.6 -151 170.5 -151.5 171.9 -155.4L171.7 -155.6C169.6 -151.9 169.2 -151.7 165.4 -144.5C161.6 -137.4 163.5 -140.6 160.2 -134.1C157 -127.6 158.8 -131.4 155.7 -125C152.7 -118.5 154.2 -121.7 151 -114.7C147.8 -107.8 147.7 -107.6 146.1 -104.1Z" fill="rgb(226,30,28)"/>
<path d="M104 64.5 L116 58 L112 70 L106 68Z" fill="rgb(190,240,110)"/>
<path d="M101 66.5 L110 64 L108 69 L103 69.5Z" fill="rgb(112,240,132)"/>
<path d="M95 66C94.3 65.2 95.3 65 98 63C100.7 61 99.8 61.8 103 60C106.2 58.2 104.5 59.4 107.5 57.5C110.5 55.6 108.7 57.4 111.9 54.4C115.1 51.4 114.1 49.6 117.1 48.5C120.1 47.4 121.4 47.5 121 51C120.6 54.5 119.7 55.1 116 59C112.3 62.9 113.7 60.8 110 62.6C106.3 64.4 108.3 63.5 105 64.4C101.7 65.3 103.3 64.8 100 65.3C96.7 65.8 95.7 66.8 95 66Z" fill="rgb(14,44,224)"/>
<path d="M95 72.6C94.3 72.1 95.5 72.6 100 70.4C104.5 68.2 104.5 66.1 108.5 66C112.5 65.9 111.8 67.8 112 70C112.2 72.2 111.3 72 109 72.5C106.7 73 107.3 71.8 105 71.6C102.7 71.4 105.3 71.7 102 72C98.7 72.3 95.7 73.1 95 72.6Z" fill="rgb(14,44,224)"/>
<path d="M64.9 32.6C63.4 34.9 62.3 34.3 60.2 39.3C58.1 44.3 58.7 42.2 58.7 47.8C58.7 53.4 58 50.8 60.2 56.1C62.5 61.4 61.3 59.7 65.5 63.7C69.6 67.7 68.1 65.9 72.7 68.1C77.3 70.2 75.4 69.3 79.3 70C83.2 70.7 82.7 70.1 84.5 70.1L84.5 69.5C82.9 69.1 83.3 69.6 79.7 68.4C76.2 67.1 77.8 68.1 73.9 65.7C70 63.4 71.2 65 67.9 61.3C64.6 57.6 65.6 59.2 64 54.7C62.4 50.2 62.9 52.3 63.1 47.8C63.3 43.3 62.6 45.3 64.4 41.1C66.3 36.9 67.2 37.3 68.7 35.4Z" fill="rgb(226,30,28)"/>
<path d="M65.2 45.5C65.5 44 65 44.6 66.2 43.3C67.4 42 66.5 42.4 68.7 41.7C70.9 41 69.8 41.3 72.8 41.2C75.8 41.1 74.4 41.4 77.8 41.4C81.2 41.4 79.5 41.6 82.9 41.2C86.3 40.8 84.6 41 88 40.2C91.4 39.4 89.6 39.9 93 38.7C96.4 37.5 94.7 38.2 98.1 36.5C101.5 34.8 99.9 35.4 103.1 33.5C106.3 31.6 102.7 34.4 107.6 30.8C112.5 27.2 111.7 28.1 117.8 22.7C123.9 17.3 121.2 19.7 125.9 14.6C130.6 9.5 128.3 12.3 131.9 7.5C135.5 2.7 133.4 5.6 136.7 0.1C140 -5.4 138.5 -2.4 141.7 -9C144.9 -15.6 145.2 -17.9 146.3 -19.6C147.4 -21.3 146.2 -18.2 145 -14C143.8 -9.8 145.1 -14.2 142.8 -7C140.5 0.2 141 0.2 138.2 7.5C135.4 14.8 137.1 10 134.5 15C131.9 20 132.4 18 130.3 22.5C128.2 27 129.8 24.5 128.1 28.4C126.4 32.3 127.4 29.9 125.2 34.3C123 38.7 124.2 37 121.5 41.7C118.8 46.4 120.3 44.1 117.1 48.3C113.9 52.5 115.1 51.2 111.9 54.2C108.7 57.2 110.5 55.4 107.5 57.3C104.5 59.2 105.8 58.3 103 59.8C100.2 61.3 101.7 60.7 99 61.8C96.3 62.9 98 62.5 95 63.2C92 63.9 94 63.7 90 64C86 64.3 87.6 64.7 82.9 64C78.2 63.3 80 64 75.8 62C71.6 60 73.2 61 70.2 58C67.2 55 68.4 56.3 66.7 52.9C65 49.5 65.7 50.3 65.2 47.8C64.7 45.3 64.9 47 65.2 45.5Z" fill="#fff" stroke="#444" stroke-width="0.5"/>
</g>
</g>
</g>
<g class="p" transform="translate(301.1 361.2)">
<clipPath id="c4"><path d="M0 0C20 0.3 33.3 0.5 60 0.8C86.7 1.1 70.8 1.1 80 1C89.2 0.9 82.9 1.1 87.6 0.4C92.3 -0.3 90.6 -0.2 94 -1.2C97.4 -2.2 95.2 -1.6 97.8 -2.7C100.4 -3.8 98.4 -2.6 101.8 -4.4C105.2 -6.2 103.3 -5.1 107.9 -8.2C112.5 -11.3 110.5 -9.2 115.5 -13.6C120.5 -18 118.6 -16.9 122.8 -21.5C127 -26.1 124.7 -23.9 128 -27.5C131.3 -31.1 127.7 -27.3 132.6 -32.3C137.5 -37.3 137.7 -37.4 142.8 -42.4C147.9 -47.4 144.4 -44.5 147.8 -47.4C151.2 -50.3 148.9 -49.2 153 -51C157.1 -52.8 157.7 -52.2 160 -52.8L239.6 -52.8L239.6 112.6L167.5 112.6C163.8 113.1 162.9 112.4 156.4 114.1C149.9 115.8 152.8 114.4 148 117.8C143.2 121.2 146 119.4 142 124.3C138 129.2 140.4 126.6 136 132.6C131.6 138.6 133.6 136.6 128.8 142.2C124 147.8 126.5 144.7 121.7 149.4C116.9 154.1 119.3 152.5 114.5 156.4C109.7 160.3 111.3 158.8 107.3 161.2C103.3 163.6 105.9 162.3 102.5 163.6C99.1 164.9 101.8 163.9 97 165C92.2 166.1 95.3 165.7 88 166.8C80.7 167.9 83.7 167.7 75.2 168.4C66.7 169.1 74.2 169.1 62.5 168.8C50.8 168.5 60.8 168.5 40 167.5C19.2 166.5 13.3 166.4 0 165.8Z"/></clipPath>
<g clip-path="url(#c4)">
<rect x="-2" y="-60" width="250" height="240" fill="rgb(127,203,250)"/>
<rect x="150" y="-60" width="100" height="240" fill="rgb(122,246,212)"/>
<path d="M178.5 10 L183.5 8 L198.3 -53 L192.2 -53Z" fill="rgb(128,244,234)" stroke="rgb(40,80,110)" stroke-opacity="0.55" stroke-width="0.35"/>
<path d="M179 94 L184.5 92 L203.5 22.5 L228 -53 L219.6 -53 L197.3 22.5Z" fill="rgb(128,244,234)" stroke="rgb(40,80,110)" stroke-opacity="0.55" stroke-width="0.35"/>
<path d="M195.2 115 L202.3 115 L226.6 22.5 L241 -30 L241 -53 L233.6 -53 L213.5 22.5Z" fill="rgb(128,244,234)" stroke="rgb(40,80,110)" stroke-opacity="0.55" stroke-width="0.35"/>
<path d="M241 5 L226.6 52.5 L207.8 115 L241 115Z" fill="rgb(128,244,234)" stroke="rgb(40,80,110)" stroke-opacity="0.55" stroke-width="0.35"/>
<path d="M204 -53L158 115" fill="none" stroke="rgb(40,80,110)" stroke-opacity="0.55" stroke-width="0.35"/>
<path d="M212 -53L166 115" fill="none" stroke="rgb(40,80,110)" stroke-opacity="0.55" stroke-width="0.35"/>
<path d="M232 -53L186 115" fill="none" stroke="rgb(40,80,110)" stroke-opacity="0.55" stroke-width="0.35"/>
<g transform="translate(0 -83)">
<path d="M66.8 33.6C67.9 32.4 67.5 32.4 70 30C72.5 27.6 71.1 29 74.3 26.5C77.5 24 75.9 25.2 79.5 22.5C83.1 19.8 81.3 21.1 85 18.5C88.7 15.9 85.5 19.4 90.5 14.8C95.5 10.2 94.7 10.7 100 4.7C105.3 -1.3 102.7 1.8 106.5 -3.2C110.3 -8.2 108.7 -5.1 111.5 -10.2C114.3 -15.3 112.8 -13.1 115 -18.5C117.2 -23.9 116 -21.7 118 -26.5C120 -31.3 118.7 -28.4 121.1 -32.9C123.5 -37.4 122.7 -35.1 125.2 -39.9C127.7 -44.7 126.4 -42.5 128.5 -47.2C130.6 -51.9 129.6 -49.5 131.4 -53.9C133.2 -58.3 131.8 -55.1 134 -60.5C136.2 -65.9 135.5 -64.3 138 -70C140.5 -75.7 138.8 -71.5 141.5 -77.5C144.2 -83.5 143.2 -81.8 146 -88C148.8 -94.2 147.7 -91.1 150 -96C152.3 -100.9 150.7 -97.4 153 -102.6C155.3 -107.8 154.3 -105.6 157 -111.5C159.7 -117.4 158.3 -114.7 161 -120.4C163.7 -126.1 162.5 -123.6 165 -128.5C167.5 -133.4 165.5 -128.8 168.5 -135C171.5 -141.2 170.3 -139.2 174 -147C177.7 -154.8 177.7 -154.7 179.5 -158.5L179.5 -75.5C177.7 -71.7 177.7 -71.8 174 -64C170.3 -56.2 171.5 -58.2 168.5 -52C165.5 -45.8 167.5 -50.4 165 -45.5C162.5 -40.6 163.7 -43.1 161 -37.4C158.3 -31.7 159.7 -34.4 157 -28.5C154.3 -22.6 155.3 -24.8 153 -19.6C150.7 -14.4 152.3 -17.9 150 -13C147.7 -8.1 148.8 -11.2 146 -5C143.2 1.2 144.2 -0.5 141.5 5.5C138.8 11.5 140.5 7.3 138 13C135.5 18.7 136.2 17.1 134 22.5C131.8 27.9 133.2 24.7 131.4 29.1C129.6 33.5 130.6 31.1 128.5 35.8C126.4 40.5 127.7 38.3 125.2 43.1C122.7 47.9 123.5 45.6 121.1 50.1C118.7 54.6 120 51.7 118 56.5C116 61.3 117.2 59.1 115 64.5C112.8 69.9 114.3 67.7 111.5 72.8C108.7 77.9 110.3 74.8 106.5 79.8C102.7 84.8 105.3 81.7 100 87.7C94.7 93.7 95.5 93.2 90.5 97.8C85.5 102.4 88.7 98.9 85 101.5C81.3 104.1 83.1 102.8 79.5 105.5C75.9 108.2 77.5 107 74.3 109.5C71.1 112 72.5 110.6 70 113C67.5 115.4 67.9 115.4 66.8 116.6L69 114C71 111.8 71 111.5 75 107.3C79 103.1 77.4 106 81.1 101.3C84.8 96.6 84.8 98.2 86.1 93.1C87.4 88 87.8 90.1 85.1 86.1C82.4 82.1 84.4 84.7 78 81C71.6 77.3 73 80.3 65.9 74.9C58.8 69.5 60.4 72.2 56.7 64.8C53 57.4 54.3 60 54.7 52.6C55.1 45.2 56.2 46.9 57.8 42.5C59.4 38.1 57.8 41.5 59.5 39.5C61.2 37.5 61.8 37.5 63 36.5Z" fill="rgb(132,240,250)"/>
<path d="M146 -85.5C146.6 -84.4 145.8 -87 149.7 -86.8C153.6 -86.6 151.7 -84.5 157.8 -84.8C163.9 -85.1 162.5 -84.1 167.9 -87.8C173.3 -91.5 170 -88.5 174 -95.9C178 -103.3 176.3 -100.6 180 -110.1C183.7 -119.6 181.8 -114.3 185.1 -124.3C188.4 -134.3 187.7 -131.4 190 -140C192.3 -148.6 196.7 -146.7 192 -150C187.3 -153.3 183.6 -154 176 -150C168.4 -146 175 -150 169.2 -138C163.4 -126 165.6 -130 158.5 -114C151.4 -98 152 -99.5 147.8 -90C143.6 -80.5 145.4 -86.6 146 -85.5Z" fill="rgb(122,246,212)"/>
<path d="M78 -3C86 -6.3 95 -8.3 104 -8C113 -7.7 106.3 -6.2 105 -2C103.7 2.2 104.8 -0.9 100 4.7C95.2 10.3 95.5 10.2 90.5 14.8C85.5 19.4 88.5 16.4 85 18.5C81.5 20.6 81.2 21.8 80 21C78.8 20.2 80 20 81.5 16C83 12 85 13.7 84.5 9C84 4.3 82.2 6 80 2C77.8 -2 70 0.3 78 -3Z" fill="rgb(132,240,250)" stroke="rgb(40,80,110)" stroke-opacity="0.55" stroke-width="0.35"/>
<path d="M70.5 36.5C72.2 32.8 72.7 33.8 77 30C81.3 26.2 78.3 28.1 83.5 25C88.7 21.9 86.1 24 92.5 20.8C98.9 17.6 95.8 18.6 102.6 15.5C109.4 12.4 106.4 13.9 112.8 11.4C119.2 8.9 117.4 8.8 121.9 8.1C126.4 7.4 124.2 8.1 126.4 9.4C128.6 10.7 128.7 10.3 128.5 12C128.3 13.7 129.5 11 125.9 14.6C122.3 18.2 123.9 17.3 117.8 22.7C111.7 28.1 114.2 26.2 107.6 30.8C101 35.4 104.5 33.4 98 36.5C91.5 39.6 94.7 38.5 88 40C81.3 41.5 83.3 40.7 78 41C72.7 41.3 74.5 42.5 72 41C69.5 39.5 68.8 40.2 70.5 36.5Z" fill="rgb(127,203,250)" stroke="rgb(40,80,110)" stroke-opacity="0.55" stroke-width="0.35"/>
<path d="M106.5 24C108.2 20.4 108 21.4 112 17.5C116 13.6 114.5 15 118.5 12.4C122.5 9.8 121 10.2 124 9.6C127 9 126.1 9.5 127.4 10.5C128.7 11.5 128.5 11.2 128 12.6C127.5 14 129.3 11.4 125.9 14.8C122.5 18.2 122.8 18.4 117.8 22.9C112.8 27.4 114.6 26.5 111 28.3C107.4 30.1 108.5 29.8 107 28.4C105.5 27 104.8 27.6 106.5 24Z" fill="rgb(131,186,249)" stroke="rgb(40,80,110)" stroke-opacity="0.55" stroke-width="0.35"/>
<ellipse cx="56.7" cy="26.3" rx="16.5" ry="13.6" transform="rotate(-8 56.7 26.3)" fill="rgb(134,160,248)" stroke="rgb(40,80,110)" stroke-opacity="0.55" stroke-width="0.35"/>
<path d="M69.2 41.5C69.9 40 70.4 39.6 75 37C79.6 34.4 77.6 35.5 82.9 33.6C88.2 31.7 85.9 32.3 91 31.3C96.1 30.3 93.8 30.8 98.1 30.6C102.4 30.4 100.5 30.8 104 30.8C107.5 30.8 108.8 29.6 108.5 30.6C108.2 31.6 106.6 31.7 103.1 33.7C99.6 35.7 101.5 35 98.1 36.7C94.7 38.4 96.4 37.7 93 38.9C89.6 40.1 91.4 39.6 88 40.4C84.6 41.2 86.3 41 82.9 41.4C79.5 41.8 81.2 41.6 77.8 41.6C74.4 41.6 75.7 41.4 72.8 41.4C69.9 41.4 68.5 43 69.2 41.5Z" fill="rgb(134,160,248)" stroke="rgb(40,80,110)" stroke-opacity="0.55" stroke-width="0.35"/>
<path d="M92.3 17C93.5 17.3 95.8 15 102.6 8.9C109.4 2.8 106 4.8 112.8 -1.3C119.6 -7.4 116.2 -5.5 122.9 -9.4C129.6 -13.3 127.3 -11.2 133 -12.9C138.7 -14.6 136.1 -12.5 140.1 -14.4C144.1 -16.3 141.7 -13.3 145 -18.5C148.3 -23.7 146 -21.2 150 -30C154 -38.8 152.7 -35.7 157 -45C161.3 -54.3 159 -49.3 163 -58C167 -66.7 166.3 -65.3 169 -71C171.7 -76.7 171.3 -75.3 171 -75C170.7 -74.7 170.7 -74.7 168 -70C165.3 -65.3 167 -66.3 163 -61C159 -55.7 161 -61.2 155.9 -54C150.8 -46.8 154.8 -48.8 147.8 -39.5C140.8 -30.2 143.3 -33.5 135 -26C126.7 -18.5 130.5 -22.7 122.8 -17C115.1 -11.3 117.6 -14.3 112 -9C106.4 -3.7 110.3 -6.7 106 -1C101.7 4.7 103.6 2 99 8C94.4 14 91.1 16.7 92.3 17Z" fill="rgb(122,246,212)" stroke="rgb(40,80,110)" stroke-opacity="0.55" stroke-width="0.35"/>
<path d="M114.5 -8.8C116.4 -11.3 116.7 -13.2 119 -18.5C121.3 -23.8 121 -23.5 123.3 -28.7C125.6 -33.9 125.1 -33.5 127.7 -38C130.3 -42.5 130.1 -39.9 133 -45.5C135.9 -51.1 135.2 -51.3 138.6 -59C142 -66.7 143.8 -67.4 145.8 -74.5C147.8 -81.6 145 -81.6 146 -85.5C147 -89.4 147.4 -87.5 149.7 -89C152 -90.5 151.1 -90.2 154.6 -91.1C158.1 -92 158.4 -90.3 162.7 -92.2C167 -94.1 166.5 -92.3 170.8 -98.2C175.1 -104.1 175.4 -105.8 178.9 -114.4C182.4 -123 182.2 -124 184 -130.6C185.8 -137.2 184 -136.8 185.5 -139C187 -141.2 189.1 -144.5 189.5 -139C189.9 -133.5 189 -128.3 187 -118.5C185 -108.7 184.5 -109.9 182 -102.3C179.5 -94.7 179.5 -95.5 177.5 -90.1C175.5 -84.7 175.8 -87 174.5 -82C173.2 -77 174.2 -76.4 172.5 -71.3C170.8 -66.2 170.8 -67.7 168 -63C165.2 -58.3 165.7 -58.8 162 -53.5C158.3 -48.2 157.8 -46.7 154 -43C150.2 -39.3 152.9 -44 147.8 -39.5C142.7 -35 141.7 -32 135 -26C128.3 -20 128.9 -21.5 122.8 -17C116.7 -12.5 114.2 -11.2 112 -9C109.8 -6.8 112.6 -6.3 114.5 -8.8Z" fill="rgb(112,240,132)" stroke="rgb(40,80,110)" stroke-opacity="0.55" stroke-width="0.35"/>
<path d="M196 -70.5C196.6 -70.1 193.8 -63.7 192.5 -58.5C191.2 -53.3 190.8 -50.1 189.5 -44.5C188.2 -38.9 187.5 -35.7 186 -30.5C184.5 -25.3 184.4 -20.9 182 -18.5C179.6 -16.1 174.6 -15.3 174 -18.5C173.4 -21.7 176.9 -28.5 179 -34.5C181.1 -40.5 182.4 -43.3 184.5 -48.5C186.6 -53.7 187.2 -56.1 189.5 -60.5C191.8 -64.9 195.4 -70.9 196 -70.5Z" fill="rgb(112,240,132)" stroke="rgb(40,80,110)" stroke-opacity="0.55" stroke-width="0.35"/>
<path d="M114 -8C114.3 -5 115.2 -8.7 117.9 -10.9C120.6 -13.1 117.4 -11.1 122.2 -14.5C127 -17.9 126.1 -15.9 132.4 -21C138.7 -26.1 135.8 -23 141.1 -29.8C146.4 -36.6 144.3 -34.1 148.4 -41.4C152.5 -48.7 151.3 -45.8 153.5 -51.6C155.7 -57.4 156.2 -53.4 155 -58.9C153.8 -64.4 153.5 -63.5 150 -68C146.5 -72.5 147.5 -71.2 144.5 -72.5C141.5 -73.8 144.5 -77.2 141 -72C137.5 -66.8 138.3 -65.7 134 -57C129.7 -48.3 132 -53.7 128 -46C124 -38.3 125.7 -42.7 122 -34C118.3 -25.3 119.7 -28.7 117 -20C114.3 -11.3 113.7 -11 114 -8Z" fill="rgb(190,240,110)" stroke="rgb(40,80,110)" stroke-opacity="0.55" stroke-width="0.35"/>
<path d="M165.4 -70.2 L164 -50 L157.8 -50 L162 -61Z" fill="rgb(190,240,110)" stroke="rgb(40,80,110)" stroke-opacity="0.55" stroke-width="0.35"/>
<path d="M121.8 -20.5C123.2 -19.8 122.9 -18.6 127 -22.8C131.1 -27 129.7 -25.6 134.1 -33C138.5 -40.4 136.8 -37.7 140.2 -45.1C143.6 -52.5 142.3 -48.8 144.3 -55.2C146.3 -61.6 146.7 -58.9 146.3 -64.4C145.9 -69.9 144.8 -70.6 143.1 -71.6C141.4 -72.6 143.1 -72.2 141.1 -67.4C139.1 -62.6 139.7 -64.4 137 -57.3C134.3 -50.2 136 -53.5 133 -46.1C130 -38.7 131.3 -42.1 127.9 -35C124.5 -27.9 124.8 -29.7 122.8 -24.9C120.8 -20.1 120.4 -21.2 121.8 -20.5Z" fill="rgb(240,245,120)" stroke="rgb(40,80,110)" stroke-opacity="0.55" stroke-width="0.35"/>
<path d="M84.1 66.8C85.1 64.7 86.3 65.8 91 66.5C95.7 67.2 93.8 65.3 98.3 68.8C102.8 72.3 104.4 72.8 104.4 76.9C104.4 81 103.7 82.3 98.3 81C92.9 79.7 92.8 77.6 88.1 72.9C83.4 68.2 83.1 68.9 84.1 66.8Z" fill="rgb(122,246,212)" stroke="rgb(40,80,110)" stroke-opacity="0.55" stroke-width="0.35"/>
<path d="M63.7 43.9C63.3 45.3 62.6 44.9 62.5 48C62.4 51.2 62.1 49.6 63.5 53.4C64.9 57.2 63.8 55.8 66.6 59.5C69.5 63.3 67.8 62 72 64.6C76.2 67.2 73.9 66.4 79.3 67.4C84.7 68.4 82.5 68.6 88.1 67.7C93.8 66.8 93.5 65.7 96.1 64.7L95.9 63.7C93.2 64.3 93.2 65.1 87.9 65.5C82.5 65.9 84.6 66 79.7 65C74.9 64 77 64.9 73.2 62.6C69.5 60.3 71.1 61.4 68.6 58.1C66.1 54.7 67 56 65.7 52.6C64.4 49.2 65 50.8 64.7 48C64.4 45.1 64.7 45.4 64.7 44.1Z" fill="rgb(112,240,132)" stroke="rgb(40,80,110)" stroke-opacity="0.55" stroke-width="0.35"/>
</g>
<g transform="translate(0 0)">
<path d="M66.8 33.6C67.9 32.4 67.5 32.4 70 30C72.5 27.6 71.1 29 74.3 26.5C77.5 24 75.9 25.2 79.5 22.5C83.1 19.8 81.3 21.1 85 18.5C88.7 15.9 85.5 19.4 90.5 14.8C95.5 10.2 94.7 10.7 100 4.7C105.3 -1.3 102.7 1.8 106.5 -3.2C110.3 -8.2 108.7 -5.1 111.5 -10.2C114.3 -15.3 112.8 -13.1 115 -18.5C117.2 -23.9 116 -21.7 118 -26.5C120 -31.3 118.7 -28.4 121.1 -32.9C123.5 -37.4 122.7 -35.1 125.2 -39.9C127.7 -44.7 126.4 -42.5 128.5 -47.2C130.6 -51.9 129.6 -49.5 131.4 -53.9C133.2 -58.3 131.8 -55.1 134 -60.5C136.2 -65.9 135.5 -64.3 138 -70C140.5 -75.7 138.8 -71.5 141.5 -77.5C144.2 -83.5 143.2 -81.8 146 -88C148.8 -94.2 147.7 -91.1 150 -96C152.3 -100.9 150.7 -97.4 153 -102.6C155.3 -107.8 154.3 -105.6 157 -111.5C159.7 -117.4 158.3 -114.7 161 -120.4C163.7 -126.1 162.5 -123.6 165 -128.5C167.5 -133.4 165.5 -128.8 168.5 -135C171.5 -141.2 170.3 -139.2 174 -147C177.7 -154.8 177.7 -154.7 179.5 -158.5L179.5 -75.5C177.7 -71.7 177.7 -71.8 174 -64C170.3 -56.2 171.5 -58.2 168.5 -52C165.5 -45.8 167.5 -50.4 165 -45.5C162.5 -40.6 163.7 -43.1 161 -37.4C158.3 -31.7 159.7 -34.4 157 -28.5C154.3 -22.6 155.3 -24.8 153 -19.6C150.7 -14.4 152.3 -17.9 150 -13C147.7 -8.1 148.8 -11.2 146 -5C143.2 1.2 144.2 -0.5 141.5 5.5C138.8 11.5 140.5 7.3 138 13C135.5 18.7 136.2 17.1 134 22.5C131.8 27.9 133.2 24.7 131.4 29.1C129.6 33.5 130.6 31.1 128.5 35.8C126.4 40.5 127.7 38.3 125.2 43.1C122.7 47.9 123.5 45.6 121.1 50.1C118.7 54.6 120 51.7 118 56.5C116 61.3 117.2 59.1 115 64.5C112.8 69.9 114.3 67.7 111.5 72.8C108.7 77.9 110.3 74.8 106.5 79.8C102.7 84.8 105.3 81.7 100 87.7C94.7 93.7 95.5 93.2 90.5 97.8C85.5 102.4 88.7 98.9 85 101.5C81.3 104.1 83.1 102.8 79.5 105.5C75.9 108.2 77.5 107 74.3 109.5C71.1 112 72.5 110.6 70 113C67.5 115.4 67.9 115.4 66.8 116.6L69 114C71 111.8 71 111.5 75 107.3C79 103.1 77.4 106 81.1 101.3C84.8 96.6 84.8 98.2 86.1 93.1C87.4 88 87.8 90.1 85.1 86.1C82.4 82.1 84.4 84.7 78 81C71.6 77.3 73 80.3 65.9 74.9C58.8 69.5 60.4 72.2 56.7 64.8C53 57.4 54.3 60 54.7 52.6C55.1 45.2 56.2 46.9 57.8 42.5C59.4 38.1 57.8 41.5 59.5 39.5C61.2 37.5 61.8 37.5 63 36.5Z" fill="rgb(132,240,250)"/>
<path d="M146 -85.5C146.6 -84.4 145.8 -87 149.7 -86.8C153.6 -86.6 151.7 -84.5 157.8 -84.8C163.9 -85.1 162.5 -84.1 167.9 -87.8C173.3 -91.5 170 -88.5 174 -95.9C178 -103.3 176.3 -100.6 180 -110.1C183.7 -119.6 181.8 -114.3 185.1 -124.3C188.4 -134.3 187.7 -131.4 190 -140C192.3 -148.6 196.7 -146.7 192 -150C187.3 -153.3 183.6 -154 176 -150C168.4 -146 175 -150 169.2 -138C163.4 -126 165.6 -130 158.5 -114C151.4 -98 152 -99.5 147.8 -90C143.6 -80.5 145.4 -86.6 146 -85.5Z" fill="rgb(122,246,212)"/>
<path d="M78 -3C86 -6.3 95 -8.3 104 -8C113 -7.7 106.3 -6.2 105 -2C103.7 2.2 104.8 -0.9 100 4.7C95.2 10.3 95.5 10.2 90.5 14.8C85.5 19.4 88.5 16.4 85 18.5C81.5 20.6 81.2 21.8 80 21C78.8 20.2 80 20 81.5 16C83 12 85 13.7 84.5 9C84 4.3 82.2 6 80 2C77.8 -2 70 0.3 78 -3Z" fill="rgb(132,240,250)" stroke="rgb(40,80,110)" stroke-opacity="0.55" stroke-width="0.35"/>
<path d="M70.5 36.5C72.2 32.8 72.7 33.8 77 30C81.3 26.2 78.3 28.1 83.5 25C88.7 21.9 86.1 24 92.5 20.8C98.9 17.6 95.8 18.6 102.6 15.5C109.4 12.4 106.4 13.9 112.8 11.4C119.2 8.9 117.4 8.8 121.9 8.1C126.4 7.4 124.2 8.1 126.4 9.4C128.6 10.7 128.7 10.3 128.5 12C128.3 13.7 129.5 11 125.9 14.6C122.3 18.2 123.9 17.3 117.8 22.7C111.7 28.1 114.2 26.2 107.6 30.8C101 35.4 104.5 33.4 98 36.5C91.5 39.6 94.7 38.5 88 40C81.3 41.5 83.3 40.7 78 41C72.7 41.3 74.5 42.5 72 41C69.5 39.5 68.8 40.2 70.5 36.5Z" fill="rgb(127,203,250)" stroke="rgb(40,80,110)" stroke-opacity="0.55" stroke-width="0.35"/>
<path d="M106.5 24C108.2 20.4 108 21.4 112 17.5C116 13.6 114.5 15 118.5 12.4C122.5 9.8 121 10.2 124 9.6C127 9 126.1 9.5 127.4 10.5C128.7 11.5 128.5 11.2 128 12.6C127.5 14 129.3 11.4 125.9 14.8C122.5 18.2 122.8 18.4 117.8 22.9C112.8 27.4 114.6 26.5 111 28.3C107.4 30.1 108.5 29.8 107 28.4C105.5 27 104.8 27.6 106.5 24Z" fill="rgb(131,186,249)" stroke="rgb(40,80,110)" stroke-opacity="0.55" stroke-width="0.35"/>
<ellipse cx="56.7" cy="26.3" rx="16.5" ry="13.6" transform="rotate(-8 56.7 26.3)" fill="rgb(134,160,248)" stroke="rgb(40,80,110)" stroke-opacity="0.55" stroke-width="0.35"/>
<path d="M69.2 41.5C69.9 40 70.4 39.6 75 37C79.6 34.4 77.6 35.5 82.9 33.6C88.2 31.7 85.9 32.3 91 31.3C96.1 30.3 93.8 30.8 98.1 30.6C102.4 30.4 100.5 30.8 104 30.8C107.5 30.8 108.8 29.6 108.5 30.6C108.2 31.6 106.6 31.7 103.1 33.7C99.6 35.7 101.5 35 98.1 36.7C94.7 38.4 96.4 37.7 93 38.9C89.6 40.1 91.4 39.6 88 40.4C84.6 41.2 86.3 41 82.9 41.4C79.5 41.8 81.2 41.6 77.8 41.6C74.4 41.6 75.7 41.4 72.8 41.4C69.9 41.4 68.5 43 69.2 41.5Z" fill="rgb(134,160,248)" stroke="rgb(40,80,110)" stroke-opacity="0.55" stroke-width="0.35"/>
<path d="M92.3 17C93.5 17.3 95.8 15 102.6 8.9C109.4 2.8 106 4.8 112.8 -1.3C119.6 -7.4 116.2 -5.5 122.9 -9.4C129.6 -13.3 127.3 -11.2 133 -12.9C138.7 -14.6 136.1 -12.5 140.1 -14.4C144.1 -16.3 141.7 -13.3 145 -18.5C148.3 -23.7 146 -21.2 150 -30C154 -38.8 152.7 -35.7 157 -45C161.3 -54.3 159 -49.3 163 -58C167 -66.7 166.3 -65.3 169 -71C171.7 -76.7 171.3 -75.3 171 -75C170.7 -74.7 170.7 -74.7 168 -70C165.3 -65.3 167 -66.3 163 -61C159 -55.7 161 -61.2 155.9 -54C150.8 -46.8 154.8 -48.8 147.8 -39.5C140.8 -30.2 143.3 -33.5 135 -26C126.7 -18.5 130.5 -22.7 122.8 -17C115.1 -11.3 117.6 -14.3 112 -9C106.4 -3.7 110.3 -6.7 106 -1C101.7 4.7 103.6 2 99 8C94.4 14 91.1 16.7 92.3 17Z" fill="rgb(122,246,212)" stroke="rgb(40,80,110)" stroke-opacity="0.55" stroke-width="0.35"/>
<path d="M114.5 -8.8C116.4 -11.3 116.7 -13.2 119 -18.5C121.3 -23.8 121 -23.5 123.3 -28.7C125.6 -33.9 125.1 -33.5 127.7 -38C130.3 -42.5 130.1 -39.9 133 -45.5C135.9 -51.1 135.2 -51.3 138.6 -59C142 -66.7 143.8 -67.4 145.8 -74.5C147.8 -81.6 145 -81.6 146 -85.5C147 -89.4 147.4 -87.5 149.7 -89C152 -90.5 151.1 -90.2 154.6 -91.1C158.1 -92 158.4 -90.3 162.7 -92.2C167 -94.1 166.5 -92.3 170.8 -98.2C175.1 -104.1 175.4 -105.8 178.9 -114.4C182.4 -123 182.2 -124 184 -130.6C185.8 -137.2 184 -136.8 185.5 -139C187 -141.2 189.1 -144.5 189.5 -139C189.9 -133.5 189 -128.3 187 -118.5C185 -108.7 184.5 -109.9 182 -102.3C179.5 -94.7 179.5 -95.5 177.5 -90.1C175.5 -84.7 175.8 -87 174.5 -82C173.2 -77 174.2 -76.4 172.5 -71.3C170.8 -66.2 170.8 -67.7 168 -63C165.2 -58.3 165.7 -58.8 162 -53.5C158.3 -48.2 157.8 -46.7 154 -43C150.2 -39.3 152.9 -44 147.8 -39.5C142.7 -35 141.7 -32 135 -26C128.3 -20 128.9 -21.5 122.8 -17C116.7 -12.5 114.2 -11.2 112 -9C109.8 -6.8 112.6 -6.3 114.5 -8.8Z" fill="rgb(112,240,132)" stroke="rgb(40,80,110)" stroke-opacity="0.55" stroke-width="0.35"/>
<path d="M196 -70.5C196.6 -70.1 193.8 -63.7 192.5 -58.5C191.2 -53.3 190.8 -50.1 189.5 -44.5C188.2 -38.9 187.5 -35.7 186 -30.5C184.5 -25.3 184.4 -20.9 182 -18.5C179.6 -16.1 174.6 -15.3 174 -18.5C173.4 -21.7 176.9 -28.5 179 -34.5C181.1 -40.5 182.4 -43.3 184.5 -48.5C186.6 -53.7 187.2 -56.1 189.5 -60.5C191.8 -64.9 195.4 -70.9 196 -70.5Z" fill="rgb(112,240,132)" stroke="rgb(40,80,110)" stroke-opacity="0.55" stroke-width="0.35"/>
<path d="M114 -8C114.3 -5 115.2 -8.7 117.9 -10.9C120.6 -13.1 117.4 -11.1 122.2 -14.5C127 -17.9 126.1 -15.9 132.4 -21C138.7 -26.1 135.8 -23 141.1 -29.8C146.4 -36.6 144.3 -34.1 148.4 -41.4C152.5 -48.7 151.3 -45.8 153.5 -51.6C155.7 -57.4 156.2 -53.4 155 -58.9C153.8 -64.4 153.5 -63.5 150 -68C146.5 -72.5 147.5 -71.2 144.5 -72.5C141.5 -73.8 144.5 -77.2 141 -72C137.5 -66.8 138.3 -65.7 134 -57C129.7 -48.3 132 -53.7 128 -46C124 -38.3 125.7 -42.7 122 -34C118.3 -25.3 119.7 -28.7 117 -20C114.3 -11.3 113.7 -11 114 -8Z" fill="rgb(190,240,110)" stroke="rgb(40,80,110)" stroke-opacity="0.55" stroke-width="0.35"/>
<path d="M165.4 -70.2 L164 -50 L157.8 -50 L162 -61Z" fill="rgb(190,240,110)" stroke="rgb(40,80,110)" stroke-opacity="0.55" stroke-width="0.35"/>
<path d="M121.8 -20.5C123.2 -19.8 122.9 -18.6 127 -22.8C131.1 -27 129.7 -25.6 134.1 -33C138.5 -40.4 136.8 -37.7 140.2 -45.1C143.6 -52.5 142.3 -48.8 144.3 -55.2C146.3 -61.6 146.7 -58.9 146.3 -64.4C145.9 -69.9 144.8 -70.6 143.1 -71.6C141.4 -72.6 143.1 -72.2 141.1 -67.4C139.1 -62.6 139.7 -64.4 137 -57.3C134.3 -50.2 136 -53.5 133 -46.1C130 -38.7 131.3 -42.1 127.9 -35C124.5 -27.9 124.8 -29.7 122.8 -24.9C120.8 -20.1 120.4 -21.2 121.8 -20.5Z" fill="rgb(240,245,120)" stroke="rgb(40,80,110)" stroke-opacity="0.55" stroke-width="0.35"/>
<path d="M84.1 66.8C85.1 64.7 86.3 65.8 91 66.5C95.7 67.2 93.8 65.3 98.3 68.8C102.8 72.3 104.4 72.8 104.4 76.9C104.4 81 103.7 82.3 98.3 81C92.9 79.7 92.8 77.6 88.1 72.9C83.4 68.2 83.1 68.9 84.1 66.8Z" fill="rgb(122,246,212)" stroke="rgb(40,80,110)" stroke-opacity="0.55" stroke-width="0.35"/>
<path d="M63.7 43.9C63.3 45.3 62.6 44.9 62.5 48C62.4 51.2 62.1 49.6 63.5 53.4C64.9 57.2 63.8 55.8 66.6 59.5C69.5 63.3 67.8 62 72 64.6C76.2 67.2 73.9 66.4 79.3 67.4C84.7 68.4 82.5 68.6 88.1 67.7C93.8 66.8 93.5 65.7 96.1 64.7L95.9 63.7C93.2 64.3 93.2 65.1 87.9 65.5C82.5 65.9 84.6 66 79.7 65C74.9 64 77 64.9 73.2 62.6C69.5 60.3 71.1 61.4 68.6 58.1C66.1 54.7 67 56 65.7 52.6C64.4 49.2 65 50.8 64.7 48C64.4 45.1 64.7 45.4 64.7 44.1Z" fill="rgb(112,240,132)" stroke="rgb(40,80,110)" stroke-opacity="0.55" stroke-width="0.35"/>
</g>
<g transform="translate(0 83)">
<path d="M66.8 33.6C67.9 32.4 67.5 32.4 70 30C72.5 27.6 71.1 29 74.3 26.5C77.5 24 75.9 25.2 79.5 22.5C83.1 19.8 81.3 21.1 85 18.5C88.7 15.9 85.5 19.4 90.5 14.8C95.5 10.2 94.7 10.7 100 4.7C105.3 -1.3 102.7 1.8 106.5 -3.2C110.3 -8.2 108.7 -5.1 111.5 -10.2C114.3 -15.3 112.8 -13.1 115 -18.5C117.2 -23.9 116 -21.7 118 -26.5C120 -31.3 118.7 -28.4 121.1 -32.9C123.5 -37.4 122.7 -35.1 125.2 -39.9C127.7 -44.7 126.4 -42.5 128.5 -47.2C130.6 -51.9 129.6 -49.5 131.4 -53.9C133.2 -58.3 131.8 -55.1 134 -60.5C136.2 -65.9 135.5 -64.3 138 -70C140.5 -75.7 138.8 -71.5 141.5 -77.5C144.2 -83.5 143.2 -81.8 146 -88C148.8 -94.2 147.7 -91.1 150 -96C152.3 -100.9 150.7 -97.4 153 -102.6C155.3 -107.8 154.3 -105.6 157 -111.5C159.7 -117.4 158.3 -114.7 161 -120.4C163.7 -126.1 162.5 -123.6 165 -128.5C167.5 -133.4 165.5 -128.8 168.5 -135C171.5 -141.2 170.3 -139.2 174 -147C177.7 -154.8 177.7 -154.7 179.5 -158.5L179.5 -75.5C177.7 -71.7 177.7 -71.8 174 -64C170.3 -56.2 171.5 -58.2 168.5 -52C165.5 -45.8 167.5 -50.4 165 -45.5C162.5 -40.6 163.7 -43.1 161 -37.4C158.3 -31.7 159.7 -34.4 157 -28.5C154.3 -22.6 155.3 -24.8 153 -19.6C150.7 -14.4 152.3 -17.9 150 -13C147.7 -8.1 148.8 -11.2 146 -5C143.2 1.2 144.2 -0.5 141.5 5.5C138.8 11.5 140.5 7.3 138 13C135.5 18.7 136.2 17.1 134 22.5C131.8 27.9 133.2 24.7 131.4 29.1C129.6 33.5 130.6 31.1 128.5 35.8C126.4 40.5 127.7 38.3 125.2 43.1C122.7 47.9 123.5 45.6 121.1 50.1C118.7 54.6 120 51.7 118 56.5C116 61.3 117.2 59.1 115 64.5C112.8 69.9 114.3 67.7 111.5 72.8C108.7 77.9 110.3 74.8 106.5 79.8C102.7 84.8 105.3 81.7 100 87.7C94.7 93.7 95.5 93.2 90.5 97.8C85.5 102.4 88.7 98.9 85 101.5C81.3 104.1 83.1 102.8 79.5 105.5C75.9 108.2 77.5 107 74.3 109.5C71.1 112 72.5 110.6 70 113C67.5 115.4 67.9 115.4 66.8 116.6L69 114C71 111.8 71 111.5 75 107.3C79 103.1 77.4 106 81.1 101.3C84.8 96.6 84.8 98.2 86.1 93.1C87.4 88 87.8 90.1 85.1 86.1C82.4 82.1 84.4 84.7 78 81C71.6 77.3 73 80.3 65.9 74.9C58.8 69.5 60.4 72.2 56.7 64.8C53 57.4 54.3 60 54.7 52.6C55.1 45.2 56.2 46.9 57.8 42.5C59.4 38.1 57.8 41.5 59.5 39.5C61.2 37.5 61.8 37.5 63 36.5Z" fill="rgb(132,240,250)"/>
<path d="M146 -85.5C146.6 -84.4 145.8 -87 149.7 -86.8C153.6 -86.6 151.7 -84.5 157.8 -84.8C163.9 -85.1 162.5 -84.1 167.9 -87.8C173.3 -91.5 170 -88.5 174 -95.9C178 -103.3 176.3 -100.6 180 -110.1C183.7 -119.6 181.8 -114.3 185.1 -124.3C188.4 -134.3 187.7 -131.4 190 -140C192.3 -148.6 196.7 -146.7 192 -150C187.3 -153.3 183.6 -154 176 -150C168.4 -146 175 -150 169.2 -138C163.4 -126 165.6 -130 158.5 -114C151.4 -98 152 -99.5 147.8 -90C143.6 -80.5 145.4 -86.6 146 -85.5Z" fill="rgb(122,246,212)"/>
<path d="M78 -3C86 -6.3 95 -8.3 104 -8C113 -7.7 106.3 -6.2 105 -2C103.7 2.2 104.8 -0.9 100 4.7C95.2 10.3 95.5 10.2 90.5 14.8C85.5 19.4 88.5 16.4 85 18.5C81.5 20.6 81.2 21.8 80 21C78.8 20.2 80 20 81.5 16C83 12 85 13.7 84.5 9C84 4.3 82.2 6 80 2C77.8 -2 70 0.3 78 -3Z" fill="rgb(132,240,250)" stroke="rgb(40,80,110)" stroke-opacity="0.55" stroke-width="0.35"/>
<path d="M70.5 36.5C72.2 32.8 72.7 33.8 77 30C81.3 26.2 78.3 28.1 83.5 25C88.7 21.9 86.1 24 92.5 20.8C98.9 17.6 95.8 18.6 102.6 15.5C109.4 12.4 106.4 13.9 112.8 11.4C119.2 8.9 117.4 8.8 121.9 8.1C126.4 7.4 124.2 8.1 126.4 9.4C128.6 10.7 128.7 10.3 128.5 12C128.3 13.7 129.5 11 125.9 14.6C122.3 18.2 123.9 17.3 117.8 22.7C111.7 28.1 114.2 26.2 107.6 30.8C101 35.4 104.5 33.4 98 36.5C91.5 39.6 94.7 38.5 88 40C81.3 41.5 83.3 40.7 78 41C72.7 41.3 74.5 42.5 72 41C69.5 39.5 68.8 40.2 70.5 36.5Z" fill="rgb(127,203,250)" stroke="rgb(40,80,110)" stroke-opacity="0.55" stroke-width="0.35"/>
<path d="M106.5 24C108.2 20.4 108 21.4 112 17.5C116 13.6 114.5 15 118.5 12.4C122.5 9.8 121 10.2 124 9.6C127 9 126.1 9.5 127.4 10.5C128.7 11.5 128.5 11.2 128 12.6C127.5 14 129.3 11.4 125.9 14.8C122.5 18.2 122.8 18.4 117.8 22.9C112.8 27.4 114.6 26.5 111 28.3C107.4 30.1 108.5 29.8 107 28.4C105.5 27 104.8 27.6 106.5 24Z" fill="rgb(131,186,249)" stroke="rgb(40,80,110)" stroke-opacity="0.55" stroke-width="0.35"/>
<ellipse cx="56.7" cy="26.3" rx="16.5" ry="13.6" transform="rotate(-8 56.7 26.3)" fill="rgb(134,160,248)" stroke="rgb(40,80,110)" stroke-opacity="0.55" stroke-width="0.35"/>
<path d="M69.2 41.5C69.9 40 70.4 39.6 75 37C79.6 34.4 77.6 35.5 82.9 33.6C88.2 31.7 85.9 32.3 91 31.3C96.1 30.3 93.8 30.8 98.1 30.6C102.4 30.4 100.5 30.8 104 30.8C107.5 30.8 108.8 29.6 108.5 30.6C108.2 31.6 106.6 31.7 103.1 33.7C99.6 35.7 101.5 35 98.1 36.7C94.7 38.4 96.4 37.7 93 38.9C89.6 40.1 91.4 39.6 88 40.4C84.6 41.2 86.3 41 82.9 41.4C79.5 41.8 81.2 41.6 77.8 41.6C74.4 41.6 75.7 41.4 72.8 41.4C69.9 41.4 68.5 43 69.2 41.5Z" fill="rgb(134,160,248)" stroke="rgb(40,80,110)" stroke-opacity="0.55" stroke-width="0.35"/>
<path d="M92.3 17C93.5 17.3 95.8 15 102.6 8.9C109.4 2.8 106 4.8 112.8 -1.3C119.6 -7.4 116.2 -5.5 122.9 -9.4C129.6 -13.3 127.3 -11.2 133 -12.9C138.7 -14.6 136.1 -12.5 140.1 -14.4C144.1 -16.3 141.7 -13.3 145 -18.5C148.3 -23.7 146 -21.2 150 -30C154 -38.8 152.7 -35.7 157 -45C161.3 -54.3 159 -49.3 163 -58C167 -66.7 166.3 -65.3 169 -71C171.7 -76.7 171.3 -75.3 171 -75C170.7 -74.7 170.7 -74.7 168 -70C165.3 -65.3 167 -66.3 163 -61C159 -55.7 161 -61.2 155.9 -54C150.8 -46.8 154.8 -48.8 147.8 -39.5C140.8 -30.2 143.3 -33.5 135 -26C126.7 -18.5 130.5 -22.7 122.8 -17C115.1 -11.3 117.6 -14.3 112 -9C106.4 -3.7 110.3 -6.7 106 -1C101.7 4.7 103.6 2 99 8C94.4 14 91.1 16.7 92.3 17Z" fill="rgb(122,246,212)" stroke="rgb(40,80,110)" stroke-opacity="0.55" stroke-width="0.35"/>
<path d="M114.5 -8.8C116.4 -11.3 116.7 -13.2 119 -18.5C121.3 -23.8 121 -23.5 123.3 -28.7C125.6 -33.9 125.1 -33.5 127.7 -38C130.3 -42.5 130.1 -39.9 133 -45.5C135.9 -51.1 135.2 -51.3 138.6 -59C142 -66.7 143.8 -67.4 145.8 -74.5C147.8 -81.6 145 -81.6 146 -85.5C147 -89.4 147.4 -87.5 149.7 -89C152 -90.5 151.1 -90.2 154.6 -91.1C158.1 -92 158.4 -90.3 162.7 -92.2C167 -94.1 166.5 -92.3 170.8 -98.2C175.1 -104.1 175.4 -105.8 178.9 -114.4C182.4 -123 182.2 -124 184 -130.6C185.8 -137.2 184 -136.8 185.5 -139C187 -141.2 189.1 -144.5 189.5 -139C189.9 -133.5 189 -128.3 187 -118.5C185 -108.7 184.5 -109.9 182 -102.3C179.5 -94.7 179.5 -95.5 177.5 -90.1C175.5 -84.7 175.8 -87 174.5 -82C173.2 -77 174.2 -76.4 172.5 -71.3C170.8 -66.2 170.8 -67.7 168 -63C165.2 -58.3 165.7 -58.8 162 -53.5C158.3 -48.2 157.8 -46.7 154 -43C150.2 -39.3 152.9 -44 147.8 -39.5C142.7 -35 141.7 -32 135 -26C128.3 -20 128.9 -21.5 122.8 -17C116.7 -12.5 114.2 -11.2 112 -9C109.8 -6.8 112.6 -6.3 114.5 -8.8Z" fill="rgb(112,240,132)" stroke="rgb(40,80,110)" stroke-opacity="0.55" stroke-width="0.35"/>
<path d="M196 -70.5C196.6 -70.1 193.8 -63.7 192.5 -58.5C191.2 -53.3 190.8 -50.1 189.5 -44.5C188.2 -38.9 187.5 -35.7 186 -30.5C184.5 -25.3 184.4 -20.9 182 -18.5C179.6 -16.1 174.6 -15.3 174 -18.5C173.4 -21.7 176.9 -28.5 179 -34.5C181.1 -40.5 182.4 -43.3 184.5 -48.5C186.6 -53.7 187.2 -56.1 189.5 -60.5C191.8 -64.9 195.4 -70.9 196 -70.5Z" fill="rgb(112,240,132)" stroke="rgb(40,80,110)" stroke-opacity="0.55" stroke-width="0.35"/>
<path d="M114 -8C114.3 -5 115.2 -8.7 117.9 -10.9C120.6 -13.1 117.4 -11.1 122.2 -14.5C127 -17.9 126.1 -15.9 132.4 -21C138.7 -26.1 135.8 -23 141.1 -29.8C146.4 -36.6 144.3 -34.1 148.4 -41.4C152.5 -48.7 151.3 -45.8 153.5 -51.6C155.7 -57.4 156.2 -53.4 155 -58.9C153.8 -64.4 153.5 -63.5 150 -68C146.5 -72.5 147.5 -71.2 144.5 -72.5C141.5 -73.8 144.5 -77.2 141 -72C137.5 -66.8 138.3 -65.7 134 -57C129.7 -48.3 132 -53.7 128 -46C124 -38.3 125.7 -42.7 122 -34C118.3 -25.3 119.7 -28.7 117 -20C114.3 -11.3 113.7 -11 114 -8Z" fill="rgb(190,240,110)" stroke="rgb(40,80,110)" stroke-opacity="0.55" stroke-width="0.35"/>
<path d="M165.4 -70.2 L164 -50 L157.8 -50 L162 -61Z" fill="rgb(190,240,110)" stroke="rgb(40,80,110)" stroke-opacity="0.55" stroke-width="0.35"/>
<path d="M121.8 -20.5C123.2 -19.8 122.9 -18.6 127 -22.8C131.1 -27 129.7 -25.6 134.1 -33C138.5 -40.4 136.8 -37.7 140.2 -45.1C143.6 -52.5 142.3 -48.8 144.3 -55.2C146.3 -61.6 146.7 -58.9 146.3 -64.4C145.9 -69.9 144.8 -70.6 143.1 -71.6C141.4 -72.6 143.1 -72.2 141.1 -67.4C139.1 -62.6 139.7 -64.4 137 -57.3C134.3 -50.2 136 -53.5 133 -46.1C130 -38.7 131.3 -42.1 127.9 -35C124.5 -27.9 124.8 -29.7 122.8 -24.9C120.8 -20.1 120.4 -21.2 121.8 -20.5Z" fill="rgb(240,245,120)" stroke="rgb(40,80,110)" stroke-opacity="0.55" stroke-width="0.35"/>
<path d="M84.1 66.8C85.1 64.7 86.3 65.8 91 66.5C95.7 67.2 93.8 65.3 98.3 68.8C102.8 72.3 104.4 72.8 104.4 76.9C104.4 81 103.7 82.3 98.3 81C92.9 79.7 92.8 77.6 88.1 72.9C83.4 68.2 83.1 68.9 84.1 66.8Z" fill="rgb(122,246,212)" stroke="rgb(40,80,110)" stroke-opacity="0.55" stroke-width="0.35"/>
<path d="M63.7 43.9C63.3 45.3 62.6 44.9 62.5 48C62.4 51.2 62.1 49.6 63.5 53.4C64.9 57.2 63.8 55.8 66.6 59.5C69.5 63.3 67.8 62 72 64.6C76.2 67.2 73.9 66.4 79.3 67.4C84.7 68.4 82.5 68.6 88.1 67.7C93.8 66.8 93.5 65.7 96.1 64.7L95.9 63.7C93.2 64.3 93.2 65.1 87.9 65.5C82.5 65.9 84.6 66 79.7 65C74.9 64 77 64.9 73.2 62.6C69.5 60.3 71.1 61.4 68.6 58.1C66.1 54.7 67 56 65.7 52.6C64.4 49.2 65 50.8 64.7 48C64.4 45.1 64.7 45.4 64.7 44.1Z" fill="rgb(112,240,132)" stroke="rgb(40,80,110)" stroke-opacity="0.55" stroke-width="0.35"/>
</g>
<g transform="translate(0 166)">
<path d="M66.8 33.6C67.9 32.4 67.5 32.4 70 30C72.5 27.6 71.1 29 74.3 26.5C77.5 24 75.9 25.2 79.5 22.5C83.1 19.8 81.3 21.1 85 18.5C88.7 15.9 85.5 19.4 90.5 14.8C95.5 10.2 94.7 10.7 100 4.7C105.3 -1.3 102.7 1.8 106.5 -3.2C110.3 -8.2 108.7 -5.1 111.5 -10.2C114.3 -15.3 112.8 -13.1 115 -18.5C117.2 -23.9 116 -21.7 118 -26.5C120 -31.3 118.7 -28.4 121.1 -32.9C123.5 -37.4 122.7 -35.1 125.2 -39.9C127.7 -44.7 126.4 -42.5 128.5 -47.2C130.6 -51.9 129.6 -49.5 131.4 -53.9C133.2 -58.3 131.8 -55.1 134 -60.5C136.2 -65.9 135.5 -64.3 138 -70C140.5 -75.7 138.8 -71.5 141.5 -77.5C144.2 -83.5 143.2 -81.8 146 -88C148.8 -94.2 147.7 -91.1 150 -96C152.3 -100.9 150.7 -97.4 153 -102.6C155.3 -107.8 154.3 -105.6 157 -111.5C159.7 -117.4 158.3 -114.7 161 -120.4C163.7 -126.1 162.5 -123.6 165 -128.5C167.5 -133.4 165.5 -128.8 168.5 -135C171.5 -141.2 170.3 -139.2 174 -147C177.7 -154.8 177.7 -154.7 179.5 -158.5L179.5 -75.5C177.7 -71.7 177.7 -71.8 174 -64C170.3 -56.2 171.5 -58.2 168.5 -52C165.5 -45.8 167.5 -50.4 165 -45.5C162.5 -40.6 163.7 -43.1 161 -37.4C158.3 -31.7 159.7 -34.4 157 -28.5C154.3 -22.6 155.3 -24.8 153 -19.6C150.7 -14.4 152.3 -17.9 150 -13C147.7 -8.1 148.8 -11.2 146 -5C143.2 1.2 144.2 -0.5 141.5 5.5C138.8 11.5 140.5 7.3 138 13C135.5 18.7 136.2 17.1 134 22.5C131.8 27.9 133.2 24.7 131.4 29.1C129.6 33.5 130.6 31.1 128.5 35.8C126.4 40.5 127.7 38.3 125.2 43.1C122.7 47.9 123.5 45.6 121.1 50.1C118.7 54.6 120 51.7 118 56.5C116 61.3 117.2 59.1 115 64.5C112.8 69.9 114.3 67.7 111.5 72.8C108.7 77.9 110.3 74.8 106.5 79.8C102.7 84.8 105.3 81.7 100 87.7C94.7 93.7 95.5 93.2 90.5 97.8C85.5 102.4 88.7 98.9 85 101.5C81.3 104.1 83.1 102.8 79.5 105.5C75.9 108.2 77.5 107 74.3 109.5C71.1 112 72.5 110.6 70 113C67.5 115.4 67.9 115.4 66.8 116.6L69 114C71 111.8 71 111.5 75 107.3C79 103.1 77.4 106 81.1 101.3C84.8 96.6 84.8 98.2 86.1 93.1C87.4 88 87.8 90.1 85.1 86.1C82.4 82.1 84.4 84.7 78 81C71.6 77.3 73 80.3 65.9 74.9C58.8 69.5 60.4 72.2 56.7 64.8C53 57.4 54.3 60 54.7 52.6C55.1 45.2 56.2 46.9 57.8 42.5C59.4 38.1 57.8 41.5 59.5 39.5C61.2 37.5 61.8 37.5 63 36.5Z" fill="rgb(132,240,250)"/>
<path d="M146 -85.5C146.6 -84.4 145.8 -87 149.7 -86.8C153.6 -86.6 151.7 -84.5 157.8 -84.8C163.9 -85.1 162.5 -84.1 167.9 -87.8C173.3 -91.5 170 -88.5 174 -95.9C178 -103.3 176.3 -100.6 180 -110.1C183.7 -119.6 181.8 -114.3 185.1 -124.3C188.4 -134.3 187.7 -131.4 190 -140C192.3 -148.6 196.7 -146.7 192 -150C187.3 -153.3 183.6 -154 176 -150C168.4 -146 175 -150 169.2 -138C163.4 -126 165.6 -130 158.5 -114C151.4 -98 152 -99.5 147.8 -90C143.6 -80.5 145.4 -86.6 146 -85.5Z" fill="rgb(122,246,212)"/>
<path d="M78 -3C86 -6.3 95 -8.3 104 -8C113 -7.7 106.3 -6.2 105 -2C103.7 2.2 104.8 -0.9 100 4.7C95.2 10.3 95.5 10.2 90.5 14.8C85.5 19.4 88.5 16.4 85 18.5C81.5 20.6 81.2 21.8 80 21C78.8 20.2 80 20 81.5 16C83 12 85 13.7 84.5 9C84 4.3 82.2 6 80 2C77.8 -2 70 0.3 78 -3Z" fill="rgb(132,240,250)" stroke="rgb(40,80,110)" stroke-opacity="0.55" stroke-width="0.35"/>
<path d="M70.5 36.5C72.2 32.8 72.7 33.8 77 30C81.3 26.2 78.3 28.1 83.5 25C88.7 21.9 86.1 24 92.5 20.8C98.9 17.6 95.8 18.6 102.6 15.5C109.4 12.4 106.4 13.9 112.8 11.4C119.2 8.9 117.4 8.8 121.9 8.1C126.4 7.4 124.2 8.1 126.4 9.4C128.6 10.7 128.7 10.3 128.5 12C128.3 13.7 129.5 11 125.9 14.6C122.3 18.2 123.9 17.3 117.8 22.7C111.7 28.1 114.2 26.2 107.6 30.8C101 35.4 104.5 33.4 98 36.5C91.5 39.6 94.7 38.5 88 40C81.3 41.5 83.3 40.7 78 41C72.7 41.3 74.5 42.5 72 41C69.5 39.5 68.8 40.2 70.5 36.5Z" fill="rgb(127,203,250)" stroke="rgb(40,80,110)" stroke-opacity="0.55" stroke-width="0.35"/>
<path d="M106.5 24C108.2 20.4 108 21.4 112 17.5C116 13.6 114.5 15 118.5 12.4C122.5 9.8 121 10.2 124 9.6C127 9 126.1 9.5 127.4 10.5C128.7 11.5 128.5 11.2 128 12.6C127.5 14 129.3 11.4 125.9 14.8C122.5 18.2 122.8 18.4 117.8 22.9C112.8 27.4 114.6 26.5 111 28.3C107.4 30.1 108.5 29.8 107 28.4C105.5 27 104.8 27.6 106.5 24Z" fill="rgb(131,186,249)" stroke="rgb(40,80,110)" stroke-opacity="0.55" stroke-width="0.35"/>
<ellipse cx="56.7" cy="26.3" rx="16.5" ry="13.6" transform="rotate(-8 56.7 26.3)" fill="rgb(134,160,248)" stroke="rgb(40,80,110)" stroke-opacity="0.55" stroke-width="0.35"/>
<path d="M69.2 41.5C69.9 40 70.4 39.6 75 37C79.6 34.4 77.6 35.5 82.9 33.6C88.2 31.7 85.9 32.3 91 31.3C96.1 30.3 93.8 30.8 98.1 30.6C102.4 30.4 100.5 30.8 104 30.8C107.5 30.8 108.8 29.6 108.5 30.6C108.2 31.6 106.6 31.7 103.1 33.7C99.6 35.7 101.5 35 98.1 36.7C94.7 38.4 96.4 37.7 93 38.9C89.6 40.1 91.4 39.6 88 40.4C84.6 41.2 86.3 41 82.9 41.4C79.5 41.8 81.2 41.6 77.8 41.6C74.4 41.6 75.7 41.4 72.8 41.4C69.9 41.4 68.5 43 69.2 41.5Z" fill="rgb(134,160,248)" stroke="rgb(40,80,110)" stroke-opacity="0.55" stroke-width="0.35"/>
<path d="M92.3 17C93.5 17.3 95.8 15 102.6 8.9C109.4 2.8 106 4.8 112.8 -1.3C119.6 -7.4 116.2 -5.5 122.9 -9.4C129.6 -13.3 127.3 -11.2 133 -12.9C138.7 -14.6 136.1 -12.5 140.1 -14.4C144.1 -16.3 141.7 -13.3 145 -18.5C148.3 -23.7 146 -21.2 150 -30C154 -38.8 152.7 -35.7 157 -45C161.3 -54.3 159 -49.3 163 -58C167 -66.7 166.3 -65.3 169 -71C171.7 -76.7 171.3 -75.3 171 -75C170.7 -74.7 170.7 -74.7 168 -70C165.3 -65.3 167 -66.3 163 -61C159 -55.7 161 -61.2 155.9 -54C150.8 -46.8 154.8 -48.8 147.8 -39.5C140.8 -30.2 143.3 -33.5 135 -26C126.7 -18.5 130.5 -22.7 122.8 -17C115.1 -11.3 117.6 -14.3 112 -9C106.4 -3.7 110.3 -6.7 106 -1C101.7 4.7 103.6 2 99 8C94.4 14 91.1 16.7 92.3 17Z" fill="rgb(122,246,212)" stroke="rgb(40,80,110)" stroke-opacity="0.55" stroke-width="0.35"/>
<path d="M114.5 -8.8C116.4 -11.3 116.7 -13.2 119 -18.5C121.3 -23.8 121 -23.5 123.3 -28.7C125.6 -33.9 125.1 -33.5 127.7 -38C130.3 -42.5 130.1 -39.9 133 -45.5C135.9 -51.1 135.2 -51.3 138.6 -59C142 -66.7 143.8 -67.4 145.8 -74.5C147.8 -81.6 145 -81.6 146 -85.5C147 -89.4 147.4 -87.5 149.7 -89C152 -90.5 151.1 -90.2 154.6 -91.1C158.1 -92 158.4 -90.3 162.7 -92.2C167 -94.1 166.5 -92.3 170.8 -98.2C175.1 -104.1 175.4 -105.8 178.9 -114.4C182.4 -123 182.2 -124 184 -130.6C185.8 -137.2 184 -136.8 185.5 -139C187 -141.2 189.1 -144.5 189.5 -139C189.9 -133.5 189 -128.3 187 -118.5C185 -108.7 184.5 -109.9 182 -102.3C179.5 -94.7 179.5 -95.5 177.5 -90.1C175.5 -84.7 175.8 -87 174.5 -82C173.2 -77 174.2 -76.4 172.5 -71.3C170.8 -66.2 170.8 -67.7 168 -63C165.2 -58.3 165.7 -58.8 162 -53.5C158.3 -48.2 157.8 -46.7 154 -43C150.2 -39.3 152.9 -44 147.8 -39.5C142.7 -35 141.7 -32 135 -26C128.3 -20 128.9 -21.5 122.8 -17C116.7 -12.5 114.2 -11.2 112 -9C109.8 -6.8 112.6 -6.3 114.5 -8.8Z" fill="rgb(112,240,132)" stroke="rgb(40,80,110)" stroke-opacity="0.55" stroke-width="0.35"/>
<path d="M196 -70.5C196.6 -70.1 193.8 -63.7 192.5 -58.5C191.2 -53.3 190.8 -50.1 189.5 -44.5C188.2 -38.9 187.5 -35.7 186 -30.5C184.5 -25.3 184.4 -20.9 182 -18.5C179.6 -16.1 174.6 -15.3 174 -18.5C173.4 -21.7 176.9 -28.5 179 -34.5C181.1 -40.5 182.4 -43.3 184.5 -48.5C186.6 -53.7 187.2 -56.1 189.5 -60.5C191.8 -64.9 195.4 -70.9 196 -70.5Z" fill="rgb(112,240,132)" stroke="rgb(40,80,110)" stroke-opacity="0.55" stroke-width="0.35"/>
<path d="M114 -8C114.3 -5 115.2 -8.7 117.9 -10.9C120.6 -13.1 117.4 -11.1 122.2 -14.5C127 -17.9 126.1 -15.9 132.4 -21C138.7 -26.1 135.8 -23 141.1 -29.8C146.4 -36.6 144.3 -34.1 148.4 -41.4C152.5 -48.7 151.3 -45.8 153.5 -51.6C155.7 -57.4 156.2 -53.4 155 -58.9C153.8 -64.4 153.5 -63.5 150 -68C146.5 -72.5 147.5 -71.2 144.5 -72.5C141.5 -73.8 144.5 -77.2 141 -72C137.5 -66.8 138.3 -65.7 134 -57C129.7 -48.3 132 -53.7 128 -46C124 -38.3 125.7 -42.7 122 -34C118.3 -25.3 119.7 -28.7 117 -20C114.3 -11.3 113.7 -11 114 -8Z" fill="rgb(190,240,110)" stroke="rgb(40,80,110)" stroke-opacity="0.55" stroke-width="0.35"/>
<path d="M165.4 -70.2 L164 -50 L157.8 -50 L162 -61Z" fill="rgb(190,240,110)" stroke="rgb(40,80,110)" stroke-opacity="0.55" stroke-width="0.35"/>
<path d="M121.8 -20.5C123.2 -19.8 122.9 -18.6 127 -22.8C131.1 -27 129.7 -25.6 134.1 -33C138.5 -40.4 136.8 -37.7 140.2 -45.1C143.6 -52.5 142.3 -48.8 144.3 -55.2C146.3 -61.6 146.7 -58.9 146.3 -64.4C145.9 -69.9 144.8 -70.6 143.1 -71.6C141.4 -72.6 143.1 -72.2 141.1 -67.4C139.1 -62.6 139.7 -64.4 137 -57.3C134.3 -50.2 136 -53.5 133 -46.1C130 -38.7 131.3 -42.1 127.9 -35C124.5 -27.9 124.8 -29.7 122.8 -24.9C120.8 -20.1 120.4 -21.2 121.8 -20.5Z" fill="rgb(240,245,120)" stroke="rgb(40,80,110)" stroke-opacity="0.55" stroke-width="0.35"/>
<path d="M84.1 66.8C85.1 64.7 86.3 65.8 91 66.5C95.7 67.2 93.8 65.3 98.3 68.8C102.8 72.3 104.4 72.8 104.4 76.9C104.4 81 103.7 82.3 98.3 81C92.9 79.7 92.8 77.6 88.1 72.9C83.4 68.2 83.1 68.9 84.1 66.8Z" fill="rgb(122,246,212)" stroke="rgb(40,80,110)" stroke-opacity="0.55" stroke-width="0.35"/>
<path d="M63.7 43.9C63.3 45.3 62.6 44.9 62.5 48C62.4 51.2 62.1 49.6 63.5 53.4C64.9 57.2 63.8 55.8 66.6 59.5C69.5 63.3 67.8 62 72 64.6C76.2 67.2 73.9 66.4 79.3 67.4C84.7 68.4 82.5 68.6 88.1 67.7C93.8 66.8 93.5 65.7 96.1 64.7L95.9 63.7C93.2 64.3 93.2 65.1 87.9 65.5C82.5 65.9 84.6 66 79.7 65C74.9 64 77 64.9 73.2 62.6C69.5 60.3 71.1 61.4 68.6 58.1C66.1 54.7 67 56 65.7 52.6C64.4 49.2 65 50.8 64.7 48C64.4 45.1 64.7 45.4 64.7 44.1Z" fill="rgb(112,240,132)" stroke="rgb(40,80,110)" stroke-opacity="0.55" stroke-width="0.35"/>
</g>
<g transform="translate(0 249)">
<path d="M66.8 33.6C67.9 32.4 67.5 32.4 70 30C72.5 27.6 71.1 29 74.3 26.5C77.5 24 75.9 25.2 79.5 22.5C83.1 19.8 81.3 21.1 85 18.5C88.7 15.9 85.5 19.4 90.5 14.8C95.5 10.2 94.7 10.7 100 4.7C105.3 -1.3 102.7 1.8 106.5 -3.2C110.3 -8.2 108.7 -5.1 111.5 -10.2C114.3 -15.3 112.8 -13.1 115 -18.5C117.2 -23.9 116 -21.7 118 -26.5C120 -31.3 118.7 -28.4 121.1 -32.9C123.5 -37.4 122.7 -35.1 125.2 -39.9C127.7 -44.7 126.4 -42.5 128.5 -47.2C130.6 -51.9 129.6 -49.5 131.4 -53.9C133.2 -58.3 131.8 -55.1 134 -60.5C136.2 -65.9 135.5 -64.3 138 -70C140.5 -75.7 138.8 -71.5 141.5 -77.5C144.2 -83.5 143.2 -81.8 146 -88C148.8 -94.2 147.7 -91.1 150 -96C152.3 -100.9 150.7 -97.4 153 -102.6C155.3 -107.8 154.3 -105.6 157 -111.5C159.7 -117.4 158.3 -114.7 161 -120.4C163.7 -126.1 162.5 -123.6 165 -128.5C167.5 -133.4 165.5 -128.8 168.5 -135C171.5 -141.2 170.3 -139.2 174 -147C177.7 -154.8 177.7 -154.7 179.5 -158.5L179.5 -75.5C177.7 -71.7 177.7 -71.8 174 -64C170.3 -56.2 171.5 -58.2 168.5 -52C165.5 -45.8 167.5 -50.4 165 -45.5C162.5 -40.6 163.7 -43.1 161 -37.4C158.3 -31.7 159.7 -34.4 157 -28.5C154.3 -22.6 155.3 -24.8 153 -19.6C150.7 -14.4 152.3 -17.9 150 -13C147.7 -8.1 148.8 -11.2 146 -5C143.2 1.2 144.2 -0.5 141.5 5.5C138.8 11.5 140.5 7.3 138 13C135.5 18.7 136.2 17.1 134 22.5C131.8 27.9 133.2 24.7 131.4 29.1C129.6 33.5 130.6 31.1 128.5 35.8C126.4 40.5 127.7 38.3 125.2 43.1C122.7 47.9 123.5 45.6 121.1 50.1C118.7 54.6 120 51.7 118 56.5C116 61.3 117.2 59.1 115 64.5C112.8 69.9 114.3 67.7 111.5 72.8C108.7 77.9 110.3 74.8 106.5 79.8C102.7 84.8 105.3 81.7 100 87.7C94.7 93.7 95.5 93.2 90.5 97.8C85.5 102.4 88.7 98.9 85 101.5C81.3 104.1 83.1 102.8 79.5 105.5C75.9 108.2 77.5 107 74.3 109.5C71.1 112 72.5 110.6 70 113C67.5 115.4 67.9 115.4 66.8 116.6L69 114C71 111.8 71 111.5 75 107.3C79 103.1 77.4 106 81.1 101.3C84.8 96.6 84.8 98.2 86.1 93.1C87.4 88 87.8 90.1 85.1 86.1C82.4 82.1 84.4 84.7 78 81C71.6 77.3 73 80.3 65.9 74.9C58.8 69.5 60.4 72.2 56.7 64.8C53 57.4 54.3 60 54.7 52.6C55.1 45.2 56.2 46.9 57.8 42.5C59.4 38.1 57.8 41.5 59.5 39.5C61.2 37.5 61.8 37.5 63 36.5Z" fill="rgb(132,240,250)"/>
<path d="M146 -85.5C146.6 -84.4 145.8 -87 149.7 -86.8C153.6 -86.6 151.7 -84.5 157.8 -84.8C163.9 -85.1 162.5 -84.1 167.9 -87.8C173.3 -91.5 170 -88.5 174 -95.9C178 -103.3 176.3 -100.6 180 -110.1C183.7 -119.6 181.8 -114.3 185.1 -124.3C188.4 -134.3 187.7 -131.4 190 -140C192.3 -148.6 196.7 -146.7 192 -150C187.3 -153.3 183.6 -154 176 -150C168.4 -146 175 -150 169.2 -138C163.4 -126 165.6 -130 158.5 -114C151.4 -98 152 -99.5 147.8 -90C143.6 -80.5 145.4 -86.6 146 -85.5Z" fill="rgb(122,246,212)"/>
<path d="M78 -3C86 -6.3 95 -8.3 104 -8C113 -7.7 106.3 -6.2 105 -2C103.7 2.2 104.8 -0.9 100 4.7C95.2 10.3 95.5 10.2 90.5 14.8C85.5 19.4 88.5 16.4 85 18.5C81.5 20.6 81.2 21.8 80 21C78.8 20.2 80 20 81.5 16C83 12 85 13.7 84.5 9C84 4.3 82.2 6 80 2C77.8 -2 70 0.3 78 -3Z" fill="rgb(132,240,250)" stroke="rgb(40,80,110)" stroke-opacity="0.55" stroke-width="0.35"/>
<path d="M70.5 36.5C72.2 32.8 72.7 33.8 77 30C81.3 26.2 78.3 28.1 83.5 25C88.7 21.9 86.1 24 92.5 20.8C98.9 17.6 95.8 18.6 102.6 15.5C109.4 12.4 106.4 13.9 112.8 11.4C119.2 8.9 117.4 8.8 121.9 8.1C126.4 7.4 124.2 8.1 126.4 9.4C128.6 10.7 128.7 10.3 128.5 12C128.3 13.7 129.5 11 125.9 14.6C122.3 18.2 123.9 17.3 117.8 22.7C111.7 28.1 114.2 26.2 107.6 30.8C101 35.4 104.5 33.4 98 36.5C91.5 39.6 94.7 38.5 88 40C81.3 41.5 83.3 40.7 78 41C72.7 41.3 74.5 42.5 72 41C69.5 39.5 68.8 40.2 70.5 36.5Z" fill="rgb(127,203,250)" stroke="rgb(40,80,110)" stroke-opacity="0.55" stroke-width="0.35"/>
<path d="M106.5 24C108.2 20.4 108 21.4 112 17.5C116 13.6 114.5 15 118.5 12.4C122.5 9.8 121 10.2 124 9.6C127 9 126.1 9.5 127.4 10.5C128.7 11.5 128.5 11.2 128 12.6C127.5 14 129.3 11.4 125.9 14.8C122.5 18.2 122.8 18.4 117.8 22.9C112.8 27.4 114.6 26.5 111 28.3C107.4 30.1 108.5 29.8 107 28.4C105.5 27 104.8 27.6 106.5 24Z" fill="rgb(131,186,249)" stroke="rgb(40,80,110)" stroke-opacity="0.55" stroke-width="0.35"/>
<ellipse cx="56.7" cy="26.3" rx="16.5" ry="13.6" transform="rotate(-8 56.7 26.3)" fill="rgb(134,160,248)" stroke="rgb(40,80,110)" stroke-opacity="0.55" stroke-width="0.35"/>
<path d="M69.2 41.5C69.9 40 70.4 39.6 75 37C79.6 34.4 77.6 35.5 82.9 33.6C88.2 31.7 85.9 32.3 91 31.3C96.1 30.3 93.8 30.8 98.1 30.6C102.4 30.4 100.5 30.8 104 30.8C107.5 30.8 108.8 29.6 108.5 30.6C108.2 31.6 106.6 31.7 103.1 33.7C99.6 35.7 101.5 35 98.1 36.7C94.7 38.4 96.4 37.7 93 38.9C89.6 40.1 91.4 39.6 88 40.4C84.6 41.2 86.3 41 82.9 41.4C79.5 41.8 81.2 41.6 77.8 41.6C74.4 41.6 75.7 41.4 72.8 41.4C69.9 41.4 68.5 43 69.2 41.5Z" fill="rgb(134,160,248)" stroke="rgb(40,80,110)" stroke-opacity="0.55" stroke-width="0.35"/>
<path d="M92.3 17C93.5 17.3 95.8 15 102.6 8.9C109.4 2.8 106 4.8 112.8 -1.3C119.6 -7.4 116.2 -5.5 122.9 -9.4C129.6 -13.3 127.3 -11.2 133 -12.9C138.7 -14.6 136.1 -12.5 140.1 -14.4C144.1 -16.3 141.7 -13.3 145 -18.5C148.3 -23.7 146 -21.2 150 -30C154 -38.8 152.7 -35.7 157 -45C161.3 -54.3 159 -49.3 163 -58C167 -66.7 166.3 -65.3 169 -71C171.7 -76.7 171.3 -75.3 171 -75C170.7 -74.7 170.7 -74.7 168 -70C165.3 -65.3 167 -66.3 163 -61C159 -55.7 161 -61.2 155.9 -54C150.8 -46.8 154.8 -48.8 147.8 -39.5C140.8 -30.2 143.3 -33.5 135 -26C126.7 -18.5 130.5 -22.7 122.8 -17C115.1 -11.3 117.6 -14.3 112 -9C106.4 -3.7 110.3 -6.7 106 -1C101.7 4.7 103.6 2 99 8C94.4 14 91.1 16.7 92.3 17Z" fill="rgb(122,246,212)" stroke="rgb(40,80,110)" stroke-opacity="0.55" stroke-width="0.35"/>
<path d="M114.5 -8.8C116.4 -11.3 116.7 -13.2 119 -18.5C121.3 -23.8 121 -23.5 123.3 -28.7C125.6 -33.9 125.1 -33.5 127.7 -38C130.3 -42.5 130.1 -39.9 133 -45.5C135.9 -51.1 135.2 -51.3 138.6 -59C142 -66.7 143.8 -67.4 145.8 -74.5C147.8 -81.6 145 -81.6 146 -85.5C147 -89.4 147.4 -87.5 149.7 -89C152 -90.5 151.1 -90.2 154.6 -91.1C158.1 -92 158.4 -90.3 162.7 -92.2C167 -94.1 166.5 -92.3 170.8 -98.2C175.1 -104.1 175.4 -105.8 178.9 -114.4C182.4 -123 182.2 -124 184 -130.6C185.8 -137.2 184 -136.8 185.5 -139C187 -141.2 189.1 -144.5 189.5 -139C189.9 -133.5 189 -128.3 187 -118.5C185 -108.7 184.5 -109.9 182 -102.3C179.5 -94.7 179.5 -95.5 177.5 -90.1C175.5 -84.7 175.8 -87 174.5 -82C173.2 -77 174.2 -76.4 172.5 -71.3C170.8 -66.2 170.8 -67.7 168 -63C165.2 -58.3 165.7 -58.8 162 -53.5C158.3 -48.2 157.8 -46.7 154 -43C150.2 -39.3 152.9 -44 147.8 -39.5C142.7 -35 141.7 -32 135 -26C128.3 -20 128.9 -21.5 122.8 -17C116.7 -12.5 114.2 -11.2 112 -9C109.8 -6.8 112.6 -6.3 114.5 -8.8Z" fill="rgb(112,240,132)" stroke="rgb(40,80,110)" stroke-opacity="0.55" stroke-width="0.35"/>
<path d="M196 -70.5C196.6 -70.1 193.8 -63.7 192.5 -58.5C191.2 -53.3 190.8 -50.1 189.5 -44.5C188.2 -38.9 187.5 -35.7 186 -30.5C184.5 -25.3 184.4 -20.9 182 -18.5C179.6 -16.1 174.6 -15.3 174 -18.5C173.4 -21.7 176.9 -28.5 179 -34.5C181.1 -40.5 182.4 -43.3 184.5 -48.5C186.6 -53.7 187.2 -56.1 189.5 -60.5C191.8 -64.9 195.4 -70.9 196 -70.5Z" fill="rgb(112,240,132)" stroke="rgb(40,80,110)" stroke-opacity="0.55" stroke-width="0.35"/>
<path d="M114 -8C114.3 -5 115.2 -8.7 117.9 -10.9C120.6 -13.1 117.4 -11.1 122.2 -14.5C127 -17.9 126.1 -15.9 132.4 -21C138.7 -26.1 135.8 -23 141.1 -29.8C146.4 -36.6 144.3 -34.1 148.4 -41.4C152.5 -48.7 151.3 -45.8 153.5 -51.6C155.7 -57.4 156.2 -53.4 155 -58.9C153.8 -64.4 153.5 -63.5 150 -68C146.5 -72.5 147.5 -71.2 144.5 -72.5C141.5 -73.8 144.5 -77.2 141 -72C137.5 -66.8 138.3 -65.7 134 -57C129.7 -48.3 132 -53.7 128 -46C124 -38.3 125.7 -42.7 122 -34C118.3 -25.3 119.7 -28.7 117 -20C114.3 -11.3 113.7 -11 114 -8Z" fill="rgb(190,240,110)" stroke="rgb(40,80,110)" stroke-opacity="0.55" stroke-width="0.35"/>
<path d="M165.4 -70.2 L164 -50 L157.8 -50 L162 -61Z" fill="rgb(190,240,110)" stroke="rgb(40,80,110)" stroke-opacity="0.55" stroke-width="0.35"/>
<path d="M121.8 -20.5C123.2 -19.8 122.9 -18.6 127 -22.8C131.1 -27 129.7 -25.6 134.1 -33C138.5 -40.4 136.8 -37.7 140.2 -45.1C143.6 -52.5 142.3 -48.8 144.3 -55.2C146.3 -61.6 146.7 -58.9 146.3 -64.4C145.9 -69.9 144.8 -70.6 143.1 -71.6C141.4 -72.6 143.1 -72.2 141.1 -67.4C139.1 -62.6 139.7 -64.4 137 -57.3C134.3 -50.2 136 -53.5 133 -46.1C130 -38.7 131.3 -42.1 127.9 -35C124.5 -27.9 124.8 -29.7 122.8 -24.9C120.8 -20.1 120.4 -21.2 121.8 -20.5Z" fill="rgb(240,245,120)" stroke="rgb(40,80,110)" stroke-opacity="0.55" stroke-width="0.35"/>
<path d="M84.1 66.8C85.1 64.7 86.3 65.8 91 66.5C95.7 67.2 93.8 65.3 98.3 68.8C102.8 72.3 104.4 72.8 104.4 76.9C104.4 81 103.7 82.3 98.3 81C92.9 79.7 92.8 77.6 88.1 72.9C83.4 68.2 83.1 68.9 84.1 66.8Z" fill="rgb(122,246,212)" stroke="rgb(40,80,110)" stroke-opacity="0.55" stroke-width="0.35"/>
<path d="M63.7 43.9C63.3 45.3 62.6 44.9 62.5 48C62.4 51.2 62.1 49.6 63.5 53.4C64.9 57.2 63.8 55.8 66.6 59.5C69.5 63.3 67.8 62 72 64.6C76.2 67.2 73.9 66.4 79.3 67.4C84.7 68.4 82.5 68.6 88.1 67.7C93.8 66.8 93.5 65.7 96.1 64.7L95.9 63.7C93.2 64.3 93.2 65.1 87.9 65.5C82.5 65.9 84.6 66 79.7 65C74.9 64 77 64.9 73.2 62.6C69.5 60.3 71.1 61.4 68.6 58.1C66.1 54.7 67 56 65.7 52.6C64.4 49.2 65 50.8 64.7 48C64.4 45.1 64.7 45.4 64.7 44.1Z" fill="rgb(112,240,132)" stroke="rgb(40,80,110)" stroke-opacity="0.55" stroke-width="0.35"/>
</g>
<path d="M112.7 -9.8C115 -9.6 114.4 -7.3 119.8 -9.4C125.1 -11.5 123.9 -12 128.7 -16.2C133.6 -20.3 130.9 -18.5 134.3 -21.8C137.7 -25.1 135.4 -23.1 139 -26C142.6 -28.9 141.2 -27.7 145 -30.5C148.8 -33.3 147 -32.1 150.4 -34.5C153.8 -36.8 152.7 -35.9 155.1 -37.5C157.6 -39.1 155.3 -37.6 157.9 -39.3C160.4 -41.1 161.2 -41.7 162.9 -42.8L157.1 -62C154.1 -61.7 153.7 -63.1 148.1 -61.3C142.6 -59.4 144.8 -60.1 140.5 -56.5C136.1 -52.8 138.3 -54.3 135.2 -50.3C132 -46.4 134 -48.6 131 -44.7C128 -40.8 129.3 -42.5 126.2 -38.6C123.1 -34.8 124.8 -37.1 121.7 -33.2C118.6 -29.3 120.3 -32 116.9 -26.8C113.4 -21.7 113.1 -23 111.2 -17.8C109.4 -12.6 111.3 -13.4 111.3 -11.2Z" fill="rgb(122,246,212)" stroke="rgb(40,80,110)" stroke-opacity="0.55" stroke-width="0.35"/>
<path d="M112.3 -10.1C114.1 -10.6 113.3 -8.5 117.6 -11.5C122 -14.5 121.1 -14.6 125.4 -19.2C129.7 -23.7 127.2 -21.7 130.6 -25.1C133.9 -28.6 131.8 -26.5 135.4 -29.5C139.1 -32.5 137.7 -31.2 141.5 -34C145.4 -36.9 143.5 -35.5 147 -38.1C150.4 -40.7 148.9 -39.8 151.8 -41.9C154.7 -44 152.4 -42.4 155.6 -44.4C158.8 -46.3 159.5 -46.5 161.4 -47.6L158.6 -57.2C155.8 -56.9 155.3 -57.9 150.4 -56.2C145.5 -54.6 147.7 -55.3 143.8 -52.1C139.9 -49 141.8 -50.4 138.6 -46.7C135.5 -43.1 137.4 -45 134.5 -41.2C131.5 -37.3 132.8 -38.9 129.8 -35.1C126.7 -31.3 128.6 -33.6 125.4 -29.9C122.2 -26.1 124.2 -28.6 120.2 -23.8C116.2 -19.1 116.2 -20 113.4 -15.7C110.5 -11.4 112.2 -12.5 111.7 -10.9Z" fill="rgb(112,240,132)" stroke="rgb(40,80,110)" stroke-opacity="0.55" stroke-width="0.35"/>
<path d="M132.7 -32.2C135.1 -33.4 135.7 -33.2 139.7 -35.9C143.7 -38.6 141.5 -37.4 144.7 -40.4C148 -43.3 146.4 -42.2 149.5 -44.8C152.6 -47.4 150.4 -45.7 154 -48.1C157.5 -50.5 158.1 -50.7 160.1 -52L159.9 -52.8C157.3 -52.7 156.6 -53.7 152 -52.5C147.4 -51.3 149.8 -51.9 146.1 -49.2C142.4 -46.5 144.1 -47.7 140.9 -44.4C137.6 -41.1 139.1 -43.3 136.3 -39.3C133.5 -35.3 133.7 -34.7 132.5 -32.4Z" fill="rgb(190,240,110)" stroke="rgb(40,80,110)" stroke-opacity="0.55" stroke-width="0.35"/>
<g transform="translate(0 -83)">
<path d="M68.7 35.3C69.7 34.1 69.3 34.1 71.7 31.8C74.1 29.5 72.8 30.9 75.8 28.5C78.9 26 77.5 27.1 81 24.5C84.5 21.9 82.7 23.1 86.4 20.5C90.2 18 87.1 21.4 92.3 16.7C97.5 12 96.5 12.5 102.1 6.5C107.6 0.5 104.8 3.7 109 -1.2C113.3 -6.2 111.5 -3.2 114.7 -8.4C118 -13.6 116.4 -11.5 118.8 -17C121.2 -22.5 119.9 -20.2 122 -24.8C124 -29.5 122.6 -26.5 124.9 -30.9C127.2 -35.3 126.4 -33.1 128.8 -38C131.2 -42.9 130.1 -40.8 132.1 -45.6C134.1 -50.4 133.1 -48 134.8 -52.5C136.6 -57 135.2 -53.8 137.3 -59.1C139.5 -64.5 138.8 -63 141.2 -68.6C143.6 -74.2 143.5 -73.5 144.7 -76L138.3 -79C137.2 -76.5 137.4 -77.1 134.8 -71.4C132.2 -65.7 132.9 -67.2 130.7 -61.9C128.4 -56.5 129.9 -59.7 128 -55.3C126.1 -51 127.1 -53.3 124.9 -48.8C122.8 -44.3 124.1 -46.4 121.6 -41.8C119 -37.2 119.8 -39.5 117.3 -34.9C114.8 -30.4 116.1 -33.1 114 -28.2C112 -23.2 113.1 -25.4 111.2 -20C109.3 -14.6 110.7 -17 108.3 -12C105.9 -7 107.4 -10.1 104 -5.2C100.5 -0.2 103 -3.1 97.9 2.9C92.9 8.9 93.5 8.4 88.7 12.9C83.9 17.4 87.1 13.9 83.6 16.5C80 19 81.6 17.8 78 20.5C74.4 23.2 76 22 72.8 24.5C69.5 27.1 70.9 25.7 68.3 28.2C65.7 30.7 66 30.7 64.9 31.9Z" fill="rgb(14,44,224)"/>
<path d="M116.6 -27.2C117.8 -29.3 117.5 -29.1 120 -33.5C122.6 -37.9 121.7 -35.7 124.2 -40.4C126.7 -45.1 125.4 -43 127.5 -47.6C129.5 -52.3 128.6 -49.9 130.4 -54.3C132.2 -58.7 130.7 -55.6 133 -60.9C135.2 -66.3 134.5 -64.7 137.1 -70.4C139.7 -76.1 139.5 -75.4 140.7 -77.9L138.1 -79.1C137 -76.5 137.2 -77.2 134.7 -71.5C132.2 -65.7 132.9 -67.2 130.8 -61.8C128.6 -56.4 130 -59.6 128.2 -55.2C126.3 -50.8 127.3 -53.2 125.3 -48.6C123.3 -44 124.5 -46.2 122.1 -41.5C119.7 -36.8 120.4 -39.1 118.1 -34.5C115.8 -29.9 116.2 -30.1 115.3 -27.8Z" fill="rgb(10,20,150)"/>
<path d="M144.7 -76.1C146.3 -79.6 146.4 -80.4 149.4 -86.4C152.4 -92.4 151.3 -89.4 153.8 -94.2C156.4 -98.9 154.8 -95.5 157.1 -100.7C159.4 -105.9 158.4 -103.8 160.9 -109.8C163.4 -115.8 162.1 -113 164.5 -118.7C166.9 -124.5 165.8 -122 168.1 -126.9C170.4 -131.8 168.8 -127.2 171.5 -133.6C174.1 -139.9 173.3 -137.7 176.1 -146C178.8 -154.3 178.5 -154.3 179.7 -158.4L179.3 -158.6C176.9 -155 176.5 -155.4 171.9 -148C167.3 -140.6 168.9 -142.4 165.5 -136.4C162.2 -130.5 164.6 -134.9 161.9 -130.1C159.2 -125.3 160.4 -127.7 157.5 -122.1C154.6 -116.4 156 -119.1 153.1 -113.2C150.3 -107.4 151.2 -109.6 148.9 -104.5C146.6 -99.3 148.3 -102.8 146.2 -97.8C144.1 -92.9 145.2 -95.9 142.6 -89.6C140 -83.2 139.7 -82.4 138.3 -78.9Z" fill="rgb(14,44,224)"/>
<path d="M142.4 -77.1C143.9 -80.6 144.1 -81.4 147 -87.5C150 -93.6 148.8 -90.6 151.3 -95.4C153.8 -100.2 152.1 -96.8 154.4 -101.9C156.8 -107.1 155.8 -104.9 158.3 -110.9C160.9 -116.9 159.6 -114.2 162.1 -119.9C164.6 -125.6 163.5 -123.1 165.9 -128.1C168.2 -133 166.5 -128.3 169.3 -134.6C172 -140.9 171.1 -138.8 174.2 -146.9C177.3 -155 177.1 -154.9 178.5 -159L178.3 -159.1C176.1 -155.4 175.9 -155.7 171.6 -148.1C167.4 -140.6 168.8 -142.4 165.6 -136.4C162.4 -130.4 164.6 -134.9 162 -130C159.4 -125.2 160.6 -127.6 157.7 -121.9C154.9 -116.3 156.3 -119 153.5 -113.1C150.7 -107.2 151.7 -109.4 149.4 -104.2C147 -99.1 148.7 -102.6 146.5 -97.7C144.4 -92.7 145.5 -95.7 142.8 -89.5C140.1 -83.2 139.9 -82.4 138.4 -78.8Z" fill="rgb(10,20,150)"/>
<path d="M147.1 -103.5C149 -107 149.2 -107.1 152.8 -113.9C156.4 -120.6 154.7 -117.5 158.1 -123.8C161.4 -130.2 159.6 -126.3 162.8 -132.9C165.9 -139.4 164.5 -136 167.6 -143.5C170.6 -151 170.5 -151.5 171.9 -155.4L171.7 -155.6C169.6 -151.9 169.2 -151.7 165.4 -144.5C161.6 -137.4 163.5 -140.6 160.2 -134.1C157 -127.6 158.8 -131.4 155.7 -125C152.7 -118.5 154.2 -121.7 151 -114.7C147.8 -107.8 147.7 -107.6 146.1 -104.1Z" fill="rgb(226,30,28)"/>
<path d="M104 64.5 L116 58 L112 70 L106 68Z" fill="rgb(190,240,110)"/>
<path d="M101 66.5 L110 64 L108 69 L103 69.5Z" fill="rgb(112,240,132)"/>
<path d="M90.5 68.6C90.5 67.4 92.2 67.1 95 65C97.8 62.9 96.3 64.1 99 62.4C101.7 60.7 100.2 61.6 103 60C105.8 58.4 104.5 59.4 107.5 57.5C110.5 55.6 108.7 57.4 111.9 54.4C115.1 51.4 114.1 49.6 117.1 48.5C120.1 47.4 121.4 47.5 121 51C120.6 54.5 119.7 55.1 116 59C112.3 62.9 113.7 60.8 110 62.6C106.3 64.4 108.3 63.2 105 64.4C101.7 65.6 103.3 64.9 100 66.3C96.7 67.7 98.2 67.8 95 68.6C91.8 69.4 90.5 69.8 90.5 68.6Z" fill="rgb(14,44,224)"/>
<path d="M90 74.2C89.3 73.3 91.7 73.2 96 71.5C100.3 69.8 98.8 70.8 103 69C107.2 67.2 105.5 65.7 108.5 66C111.5 66.3 111.8 67.8 112 70C112.2 72.2 111.3 71.8 109 72.5C106.7 73.2 108.7 71.6 105 72.2C101.3 72.8 103 73.6 98 74.3C93 75 90.7 75.1 90 74.2Z" fill="rgb(14,44,224)"/>
<path d="M64.9 32.6C63.4 34.9 62.3 34.3 60.2 39.3C58.1 44.3 58.7 42.2 58.7 47.8C58.7 53.4 58 50.8 60.2 56.1C62.5 61.4 61.3 59.7 65.5 63.7C69.6 67.7 68.1 65.9 72.7 68.1C77.3 70.2 75.4 69.3 79.3 70C83.2 70.7 82.7 70.1 84.5 70.1L84.5 69.5C82.9 69.1 83.3 69.6 79.7 68.4C76.2 67.1 77.8 68.1 73.9 65.7C70 63.4 71.2 65 67.9 61.3C64.6 57.6 65.6 59.2 64 54.7C62.4 50.2 62.9 52.3 63.1 47.8C63.3 43.3 62.6 45.3 64.4 41.1C66.3 36.9 67.2 37.3 68.7 35.4Z" fill="rgb(226,30,28)"/>
<path d="M65.2 45.5C65.5 44 65 44.6 66.2 43.3C67.4 42 66.5 42.4 68.7 41.7C70.9 41 69.8 41.3 72.8 41.2C75.8 41.1 74.4 41.4 77.8 41.4C81.2 41.4 79.5 41.6 82.9 41.2C86.3 40.8 84.6 41 88 40.2C91.4 39.4 89.6 39.9 93 38.7C96.4 37.5 94.7 38.2 98.1 36.5C101.5 34.8 99.9 35.4 103.1 33.5C106.3 31.6 102.7 34.4 107.6 30.8C112.5 27.2 111.7 28.1 117.8 22.7C123.9 17.3 121.2 19.7 125.9 14.6C130.6 9.5 128.3 12.3 131.9 7.5C135.5 2.7 133.4 5.6 136.7 0.1C140 -5.4 138.5 -2.4 141.7 -9C144.9 -15.6 145.2 -17.9 146.3 -19.6C147.4 -21.3 146.2 -18.2 145 -14C143.8 -9.8 145.1 -14.2 142.8 -7C140.5 0.2 141 0.2 138.2 7.5C135.4 14.8 137.1 10 134.5 15C131.9 20 132.4 18 130.3 22.5C128.2 27 129.8 24.5 128.1 28.4C126.4 32.3 127.4 29.9 125.2 34.3C123 38.7 124.2 37 121.5 41.7C118.8 46.4 120.3 44.1 117.1 48.3C113.9 52.5 115.1 51.2 111.9 54.2C108.7 57.2 110.5 55.4 107.5 57.3C104.5 59.2 105.8 58.3 103 59.8C100.2 61.3 101.7 60.7 99 61.8C96.3 62.9 98 62.5 95 63.2C92 63.9 94 63.7 90 64C86 64.3 87.6 64.7 82.9 64C78.2 63.3 80 64 75.8 62C71.6 60 73.2 61 70.2 58C67.2 55 68.4 56.3 66.7 52.9C65 49.5 65.7 50.3 65.2 47.8C64.7 45.3 64.9 47 65.2 45.5Z" fill="#fff" stroke="#444" stroke-width="0.5"/>
</g>
<g transform="translate(0 0)">
<path d="M68.7 35.3C69.7 34.1 69.3 34.1 71.7 31.8C74.1 29.5 72.8 30.9 75.8 28.5C78.9 26 77.5 27.1 81 24.5C84.5 21.9 82.7 23.1 86.4 20.5C90.2 18 87.1 21.4 92.3 16.7C97.5 12 96.5 12.5 102.1 6.5C107.6 0.5 104.8 3.7 109 -1.2C113.3 -6.2 111.5 -3.2 114.7 -8.4C118 -13.6 116.4 -11.5 118.8 -17C121.2 -22.5 119.9 -20.2 122 -24.8C124 -29.5 122.6 -26.5 124.9 -30.9C127.2 -35.3 126.4 -33.1 128.8 -38C131.2 -42.9 130.1 -40.8 132.1 -45.6C134.1 -50.4 133.1 -48 134.8 -52.5C136.6 -57 135.2 -53.8 137.3 -59.1C139.5 -64.5 138.8 -63 141.2 -68.6C143.6 -74.2 143.5 -73.5 144.7 -76L138.3 -79C137.2 -76.5 137.4 -77.1 134.8 -71.4C132.2 -65.7 132.9 -67.2 130.7 -61.9C128.4 -56.5 129.9 -59.7 128 -55.3C126.1 -51 127.1 -53.3 124.9 -48.8C122.8 -44.3 124.1 -46.4 121.6 -41.8C119 -37.2 119.8 -39.5 117.3 -34.9C114.8 -30.4 116.1 -33.1 114 -28.2C112 -23.2 113.1 -25.4 111.2 -20C109.3 -14.6 110.7 -17 108.3 -12C105.9 -7 107.4 -10.1 104 -5.2C100.5 -0.2 103 -3.1 97.9 2.9C92.9 8.9 93.5 8.4 88.7 12.9C83.9 17.4 87.1 13.9 83.6 16.5C80 19 81.6 17.8 78 20.5C74.4 23.2 76 22 72.8 24.5C69.5 27.1 70.9 25.7 68.3 28.2C65.7 30.7 66 30.7 64.9 31.9Z" fill="rgb(14,44,224)"/>
<path d="M116.6 -27.2C117.8 -29.3 117.5 -29.1 120 -33.5C122.6 -37.9 121.7 -35.7 124.2 -40.4C126.7 -45.1 125.4 -43 127.5 -47.6C129.5 -52.3 128.6 -49.9 130.4 -54.3C132.2 -58.7 130.7 -55.6 133 -60.9C135.2 -66.3 134.5 -64.7 137.1 -70.4C139.7 -76.1 139.5 -75.4 140.7 -77.9L138.1 -79.1C137 -76.5 137.2 -77.2 134.7 -71.5C132.2 -65.7 132.9 -67.2 130.8 -61.8C128.6 -56.4 130 -59.6 128.2 -55.2C126.3 -50.8 127.3 -53.2 125.3 -48.6C123.3 -44 124.5 -46.2 122.1 -41.5C119.7 -36.8 120.4 -39.1 118.1 -34.5C115.8 -29.9 116.2 -30.1 115.3 -27.8Z" fill="rgb(10,20,150)"/>
<path d="M144.7 -76.1C146.3 -79.6 146.4 -80.4 149.4 -86.4C152.4 -92.4 151.3 -89.4 153.8 -94.2C156.4 -98.9 154.8 -95.5 157.1 -100.7C159.4 -105.9 158.4 -103.8 160.9 -109.8C163.4 -115.8 162.1 -113 164.5 -118.7C166.9 -124.5 165.8 -122 168.1 -126.9C170.4 -131.8 168.8 -127.2 171.5 -133.6C174.1 -139.9 173.3 -137.7 176.1 -146C178.8 -154.3 178.5 -154.3 179.7 -158.4L179.3 -158.6C176.9 -155 176.5 -155.4 171.9 -148C167.3 -140.6 168.9 -142.4 165.5 -136.4C162.2 -130.5 164.6 -134.9 161.9 -130.1C159.2 -125.3 160.4 -127.7 157.5 -122.1C154.6 -116.4 156 -119.1 153.1 -113.2C150.3 -107.4 151.2 -109.6 148.9 -104.5C146.6 -99.3 148.3 -102.8 146.2 -97.8C144.1 -92.9 145.2 -95.9 142.6 -89.6C140 -83.2 139.7 -82.4 138.3 -78.9Z" fill="rgb(14,44,224)"/>
<path d="M142.4 -77.1C143.9 -80.6 144.1 -81.4 147 -87.5C150 -93.6 148.8 -90.6 151.3 -95.4C153.8 -100.2 152.1 -96.8 154.4 -101.9C156.8 -107.1 155.8 -104.9 158.3 -110.9C160.9 -116.9 159.6 -114.2 162.1 -119.9C164.6 -125.6 163.5 -123.1 165.9 -128.1C168.2 -133 166.5 -128.3 169.3 -134.6C172 -140.9 171.1 -138.8 174.2 -146.9C177.3 -155 177.1 -154.9 178.5 -159L178.3 -159.1C176.1 -155.4 175.9 -155.7 171.6 -148.1C167.4 -140.6 168.8 -142.4 165.6 -136.4C162.4 -130.4 164.6 -134.9 162 -130C159.4 -125.2 160.6 -127.6 157.7 -121.9C154.9 -116.3 156.3 -119 153.5 -113.1C150.7 -107.2 151.7 -109.4 149.4 -104.2C147 -99.1 148.7 -102.6 146.5 -97.7C144.4 -92.7 145.5 -95.7 142.8 -89.5C140.1 -83.2 139.9 -82.4 138.4 -78.8Z" fill="rgb(10,20,150)"/>
<path d="M147.1 -103.5C149 -107 149.2 -107.1 152.8 -113.9C156.4 -120.6 154.7 -117.5 158.1 -123.8C161.4 -130.2 159.6 -126.3 162.8 -132.9C165.9 -139.4 164.5 -136 167.6 -143.5C170.6 -151 170.5 -151.5 171.9 -155.4L171.7 -155.6C169.6 -151.9 169.2 -151.7 165.4 -144.5C161.6 -137.4 163.5 -140.6 160.2 -134.1C157 -127.6 158.8 -131.4 155.7 -125C152.7 -118.5 154.2 -121.7 151 -114.7C147.8 -107.8 147.7 -107.6 146.1 -104.1Z" fill="rgb(226,30,28)"/>
<path d="M104 64.5 L116 58 L112 70 L106 68Z" fill="rgb(190,240,110)"/>
<path d="M101 66.5 L110 64 L108 69 L103 69.5Z" fill="rgb(112,240,132)"/>
<path d="M90.5 68.6C90.5 67.4 92.2 67.1 95 65C97.8 62.9 96.3 64.1 99 62.4C101.7 60.7 100.2 61.6 103 60C105.8 58.4 104.5 59.4 107.5 57.5C110.5 55.6 108.7 57.4 111.9 54.4C115.1 51.4 114.1 49.6 117.1 48.5C120.1 47.4 121.4 47.5 121 51C120.6 54.5 119.7 55.1 116 59C112.3 62.9 113.7 60.8 110 62.6C106.3 64.4 108.3 63.2 105 64.4C101.7 65.6 103.3 64.9 100 66.3C96.7 67.7 98.2 67.8 95 68.6C91.8 69.4 90.5 69.8 90.5 68.6Z" fill="rgb(14,44,224)"/>
<path d="M90 74.2C89.3 73.3 91.7 73.2 96 71.5C100.3 69.8 98.8 70.8 103 69C107.2 67.2 105.5 65.7 108.5 66C111.5 66.3 111.8 67.8 112 70C112.2 72.2 111.3 71.8 109 72.5C106.7 73.2 108.7 71.6 105 72.2C101.3 72.8 103 73.6 98 74.3C93 75 90.7 75.1 90 74.2Z" fill="rgb(14,44,224)"/>
<path d="M64.9 32.6C63.4 34.9 62.3 34.3 60.2 39.3C58.1 44.3 58.7 42.2 58.7 47.8C58.7 53.4 58 50.8 60.2 56.1C62.5 61.4 61.3 59.7 65.5 63.7C69.6 67.7 68.1 65.9 72.7 68.1C77.3 70.2 75.4 69.3 79.3 70C83.2 70.7 82.7 70.1 84.5 70.1L84.5 69.5C82.9 69.1 83.3 69.6 79.7 68.4C76.2 67.1 77.8 68.1 73.9 65.7C70 63.4 71.2 65 67.9 61.3C64.6 57.6 65.6 59.2 64 54.7C62.4 50.2 62.9 52.3 63.1 47.8C63.3 43.3 62.6 45.3 64.4 41.1C66.3 36.9 67.2 37.3 68.7 35.4Z" fill="rgb(226,30,28)"/>
<path d="M65.2 45.5C65.5 44 65 44.6 66.2 43.3C67.4 42 66.5 42.4 68.7 41.7C70.9 41 69.8 41.3 72.8 41.2C75.8 41.1 74.4 41.4 77.8 41.4C81.2 41.4 79.5 41.6 82.9 41.2C86.3 40.8 84.6 41 88 40.2C91.4 39.4 89.6 39.9 93 38.7C96.4 37.5 94.7 38.2 98.1 36.5C101.5 34.8 99.9 35.4 103.1 33.5C106.3 31.6 102.7 34.4 107.6 30.8C112.5 27.2 111.7 28.1 117.8 22.7C123.9 17.3 121.2 19.7 125.9 14.6C130.6 9.5 128.3 12.3 131.9 7.5C135.5 2.7 133.4 5.6 136.7 0.1C140 -5.4 138.5 -2.4 141.7 -9C144.9 -15.6 145.2 -17.9 146.3 -19.6C147.4 -21.3 146.2 -18.2 145 -14C143.8 -9.8 145.1 -14.2 142.8 -7C140.5 0.2 141 0.2 138.2 7.5C135.4 14.8 137.1 10 134.5 15C131.9 20 132.4 18 130.3 22.5C128.2 27 129.8 24.5 128.1 28.4C126.4 32.3 127.4 29.9 125.2 34.3C123 38.7 124.2 37 121.5 41.7C118.8 46.4 120.3 44.1 117.1 48.3C113.9 52.5 115.1 51.2 111.9 54.2C108.7 57.2 110.5 55.4 107.5 57.3C104.5 59.2 105.8 58.3 103 59.8C100.2 61.3 101.7 60.7 99 61.8C96.3 62.9 98 62.5 95 63.2C92 63.9 94 63.7 90 64C86 64.3 87.6 64.7 82.9 64C78.2 63.3 80 64 75.8 62C71.6 60 73.2 61 70.2 58C67.2 55 68.4 56.3 66.7 52.9C65 49.5 65.7 50.3 65.2 47.8C64.7 45.3 64.9 47 65.2 45.5Z" fill="#fff" stroke="#444" stroke-width="0.5"/>
</g>
<g transform="translate(0 83)">
<path d="M68.7 35.3C69.7 34.1 69.3 34.1 71.7 31.8C74.1 29.5 72.8 30.9 75.8 28.5C78.9 26 77.5 27.1 81 24.5C84.5 21.9 82.7 23.1 86.4 20.5C90.2 18 87.1 21.4 92.3 16.7C97.5 12 96.5 12.5 102.1 6.5C107.6 0.5 104.8 3.7 109 -1.2C113.3 -6.2 111.5 -3.2 114.7 -8.4C118 -13.6 116.4 -11.5 118.8 -17C121.2 -22.5 119.9 -20.2 122 -24.8C124 -29.5 122.6 -26.5 124.9 -30.9C127.2 -35.3 126.4 -33.1 128.8 -38C131.2 -42.9 130.1 -40.8 132.1 -45.6C134.1 -50.4 133.1 -48 134.8 -52.5C136.6 -57 135.2 -53.8 137.3 -59.1C139.5 -64.5 138.8 -63 141.2 -68.6C143.6 -74.2 143.5 -73.5 144.7 -76L138.3 -79C137.2 -76.5 137.4 -77.1 134.8 -71.4C132.2 -65.7 132.9 -67.2 130.7 -61.9C128.4 -56.5 129.9 -59.7 128 -55.3C126.1 -51 127.1 -53.3 124.9 -48.8C122.8 -44.3 124.1 -46.4 121.6 -41.8C119 -37.2 119.8 -39.5 117.3 -34.9C114.8 -30.4 116.1 -33.1 114 -28.2C112 -23.2 113.1 -25.4 111.2 -20C109.3 -14.6 110.7 -17 108.3 -12C105.9 -7 107.4 -10.1 104 -5.2C100.5 -0.2 103 -3.1 97.9 2.9C92.9 8.9 93.5 8.4 88.7 12.9C83.9 17.4 87.1 13.9 83.6 16.5C80 19 81.6 17.8 78 20.5C74.4 23.2 76 22 72.8 24.5C69.5 27.1 70.9 25.7 68.3 28.2C65.7 30.7 66 30.7 64.9 31.9Z" fill="rgb(14,44,224)"/>
<path d="M116.6 -27.2C117.8 -29.3 117.5 -29.1 120 -33.5C122.6 -37.9 121.7 -35.7 124.2 -40.4C126.7 -45.1 125.4 -43 127.5 -47.6C129.5 -52.3 128.6 -49.9 130.4 -54.3C132.2 -58.7 130.7 -55.6 133 -60.9C135.2 -66.3 134.5 -64.7 137.1 -70.4C139.7 -76.1 139.5 -75.4 140.7 -77.9L138.1 -79.1C137 -76.5 137.2 -77.2 134.7 -71.5C132.2 -65.7 132.9 -67.2 130.8 -61.8C128.6 -56.4 130 -59.6 128.2 -55.2C126.3 -50.8 127.3 -53.2 125.3 -48.6C123.3 -44 124.5 -46.2 122.1 -41.5C119.7 -36.8 120.4 -39.1 118.1 -34.5C115.8 -29.9 116.2 -30.1 115.3 -27.8Z" fill="rgb(10,20,150)"/>
<path d="M144.7 -76.1C146.3 -79.6 146.4 -80.4 149.4 -86.4C152.4 -92.4 151.3 -89.4 153.8 -94.2C156.4 -98.9 154.8 -95.5 157.1 -100.7C159.4 -105.9 158.4 -103.8 160.9 -109.8C163.4 -115.8 162.1 -113 164.5 -118.7C166.9 -124.5 165.8 -122 168.1 -126.9C170.4 -131.8 168.8 -127.2 171.5 -133.6C174.1 -139.9 173.3 -137.7 176.1 -146C178.8 -154.3 178.5 -154.3 179.7 -158.4L179.3 -158.6C176.9 -155 176.5 -155.4 171.9 -148C167.3 -140.6 168.9 -142.4 165.5 -136.4C162.2 -130.5 164.6 -134.9 161.9 -130.1C159.2 -125.3 160.4 -127.7 157.5 -122.1C154.6 -116.4 156 -119.1 153.1 -113.2C150.3 -107.4 151.2 -109.6 148.9 -104.5C146.6 -99.3 148.3 -102.8 146.2 -97.8C144.1 -92.9 145.2 -95.9 142.6 -89.6C140 -83.2 139.7 -82.4 138.3 -78.9Z" fill="rgb(14,44,224)"/>
<path d="M142.4 -77.1C143.9 -80.6 144.1 -81.4 147 -87.5C150 -93.6 148.8 -90.6 151.3 -95.4C153.8 -100.2 152.1 -96.8 154.4 -101.9C156.8 -107.1 155.8 -104.9 158.3 -110.9C160.9 -116.9 159.6 -114.2 162.1 -119.9C164.6 -125.6 163.5 -123.1 165.9 -128.1C168.2 -133 166.5 -128.3 169.3 -134.6C172 -140.9 171.1 -138.8 174.2 -146.9C177.3 -155 177.1 -154.9 178.5 -159L178.3 -159.1C176.1 -155.4 175.9 -155.7 171.6 -148.1C167.4 -140.6 168.8 -142.4 165.6 -136.4C162.4 -130.4 164.6 -134.9 162 -130C159.4 -125.2 160.6 -127.6 157.7 -121.9C154.9 -116.3 156.3 -119 153.5 -113.1C150.7 -107.2 151.7 -109.4 149.4 -104.2C147 -99.1 148.7 -102.6 146.5 -97.7C144.4 -92.7 145.5 -95.7 142.8 -89.5C140.1 -83.2 139.9 -82.4 138.4 -78.8Z" fill="rgb(10,20,150)"/>
<path d="M147.1 -103.5C149 -107 149.2 -107.1 152.8 -113.9C156.4 -120.6 154.7 -117.5 158.1 -123.8C161.4 -130.2 159.6 -126.3 162.8 -132.9C165.9 -139.4 164.5 -136 167.6 -143.5C170.6 -151 170.5 -151.5 171.9 -155.4L171.7 -155.6C169.6 -151.9 169.2 -151.7 165.4 -144.5C161.6 -137.4 163.5 -140.6 160.2 -134.1C157 -127.6 158.8 -131.4 155.7 -125C152.7 -118.5 154.2 -121.7 151 -114.7C147.8 -107.8 147.7 -107.6 146.1 -104.1Z" fill="rgb(226,30,28)"/>
<path d="M104 64.5 L116 58 L112 70 L106 68Z" fill="rgb(190,240,110)"/>
<path d="M101 66.5 L110 64 L108 69 L103 69.5Z" fill="rgb(112,240,132)"/>
<path d="M90.5 68.6C90.5 67.4 92.2 67.1 95 65C97.8 62.9 96.3 64.1 99 62.4C101.7 60.7 100.2 61.6 103 60C105.8 58.4 104.5 59.4 107.5 57.5C110.5 55.6 108.7 57.4 111.9 54.4C115.1 51.4 114.1 49.6 117.1 48.5C120.1 47.4 121.4 47.5 121 51C120.6 54.5 119.7 55.1 116 59C112.3 62.9 113.7 60.8 110 62.6C106.3 64.4 108.3 63.2 105 64.4C101.7 65.6 103.3 64.9 100 66.3C96.7 67.7 98.2 67.8 95 68.6C91.8 69.4 90.5 69.8 90.5 68.6Z" fill="rgb(14,44,224)"/>
<path d="M90 74.2C89.3 73.3 91.7 73.2 96 71.5C100.3 69.8 98.8 70.8 103 69C107.2 67.2 105.5 65.7 108.5 66C111.5 66.3 111.8 67.8 112 70C112.2 72.2 111.3 71.8 109 72.5C106.7 73.2 108.7 71.6 105 72.2C101.3 72.8 103 73.6 98 74.3C93 75 90.7 75.1 90 74.2Z" fill="rgb(14,44,224)"/>
<path d="M64.9 32.6C63.4 34.9 62.3 34.3 60.2 39.3C58.1 44.3 58.7 42.2 58.7 47.8C58.7 53.4 58 50.8 60.2 56.1C62.5 61.4 61.3 59.7 65.5 63.7C69.6 67.7 68.1 65.9 72.7 68.1C77.3 70.2 75.4 69.3 79.3 70C83.2 70.7 82.7 70.1 84.5 70.1L84.5 69.5C82.9 69.1 83.3 69.6 79.7 68.4C76.2 67.1 77.8 68.1 73.9 65.7C70 63.4 71.2 65 67.9 61.3C64.6 57.6 65.6 59.2 64 54.7C62.4 50.2 62.9 52.3 63.1 47.8C63.3 43.3 62.6 45.3 64.4 41.1C66.3 36.9 67.2 37.3 68.7 35.4Z" fill="rgb(226,30,28)"/>
<path d="M65.2 45.5C65.5 44 65 44.6 66.2 43.3C67.4 42 66.5 42.4 68.7 41.7C70.9 41 69.8 41.3 72.8 41.2C75.8 41.1 74.4 41.4 77.8 41.4C81.2 41.4 79.5 41.6 82.9 41.2C86.3 40.8 84.6 41 88 40.2C91.4 39.4 89.6 39.9 93 38.7C96.4 37.5 94.7 38.2 98.1 36.5C101.5 34.8 99.9 35.4 103.1 33.5C106.3 31.6 102.7 34.4 107.6 30.8C112.5 27.2 111.7 28.1 117.8 22.7C123.9 17.3 121.2 19.7 125.9 14.6C130.6 9.5 128.3 12.3 131.9 7.5C135.5 2.7 133.4 5.6 136.7 0.1C140 -5.4 138.5 -2.4 141.7 -9C144.9 -15.6 145.2 -17.9 146.3 -19.6C147.4 -21.3 146.2 -18.2 145 -14C143.8 -9.8 145.1 -14.2 142.8 -7C140.5 0.2 141 0.2 138.2 7.5C135.4 14.8 137.1 10 134.5 15C131.9 20 132.4 18 130.3 22.5C128.2 27 129.8 24.5 128.1 28.4C126.4 32.3 127.4 29.9 125.2 34.3C123 38.7 124.2 37 121.5 41.7C118.8 46.4 120.3 44.1 117.1 48.3C113.9 52.5 115.1 51.2 111.9 54.2C108.7 57.2 110.5 55.4 107.5 57.3C104.5 59.2 105.8 58.3 103 59.8C100.2 61.3 101.7 60.7 99 61.8C96.3 62.9 98 62.5 95 63.2C92 63.9 94 63.7 90 64C86 64.3 87.6 64.7 82.9 64C78.2 63.3 80 64 75.8 62C71.6 60 73.2 61 70.2 58C67.2 55 68.4 56.3 66.7 52.9C65 49.5 65.7 50.3 65.2 47.8C64.7 45.3 64.9 47 65.2 45.5Z" fill="#fff" stroke="#444" stroke-width="0.5"/>
</g>
<g transform="translate(0 166)">
<path d="M68.7 35.3C69.7 34.1 69.3 34.1 71.7 31.8C74.1 29.5 72.8 30.9 75.8 28.5C78.9 26 77.5 27.1 81 24.5C84.5 21.9 82.7 23.1 86.4 20.5C90.2 18 87.1 21.4 92.3 16.7C97.5 12 96.5 12.5 102.1 6.5C107.6 0.5 104.8 3.7 109 -1.2C113.3 -6.2 111.5 -3.2 114.7 -8.4C118 -13.6 116.4 -11.5 118.8 -17C121.2 -22.5 119.9 -20.2 122 -24.8C124 -29.5 122.6 -26.5 124.9 -30.9C127.2 -35.3 126.4 -33.1 128.8 -38C131.2 -42.9 130.1 -40.8 132.1 -45.6C134.1 -50.4 133.1 -48 134.8 -52.5C136.6 -57 135.2 -53.8 137.3 -59.1C139.5 -64.5 138.8 -63 141.2 -68.6C143.6 -74.2 143.5 -73.5 144.7 -76L138.3 -79C137.2 -76.5 137.4 -77.1 134.8 -71.4C132.2 -65.7 132.9 -67.2 130.7 -61.9C128.4 -56.5 129.9 -59.7 128 -55.3C126.1 -51 127.1 -53.3 124.9 -48.8C122.8 -44.3 124.1 -46.4 121.6 -41.8C119 -37.2 119.8 -39.5 117.3 -34.9C114.8 -30.4 116.1 -33.1 114 -28.2C112 -23.2 113.1 -25.4 111.2 -20C109.3 -14.6 110.7 -17 108.3 -12C105.9 -7 107.4 -10.1 104 -5.2C100.5 -0.2 103 -3.1 97.9 2.9C92.9 8.9 93.5 8.4 88.7 12.9C83.9 17.4 87.1 13.9 83.6 16.5C80 19 81.6 17.8 78 20.5C74.4 23.2 76 22 72.8 24.5C69.5 27.1 70.9 25.7 68.3 28.2C65.7 30.7 66 30.7 64.9 31.9Z" fill="rgb(14,44,224)"/>
<path d="M116.6 -27.2C117.8 -29.3 117.5 -29.1 120 -33.5C122.6 -37.9 121.7 -35.7 124.2 -40.4C126.7 -45.1 125.4 -43 127.5 -47.6C129.5 -52.3 128.6 -49.9 130.4 -54.3C132.2 -58.7 130.7 -55.6 133 -60.9C135.2 -66.3 134.5 -64.7 137.1 -70.4C139.7 -76.1 139.5 -75.4 140.7 -77.9L138.1 -79.1C137 -76.5 137.2 -77.2 134.7 -71.5C132.2 -65.7 132.9 -67.2 130.8 -61.8C128.6 -56.4 130 -59.6 128.2 -55.2C126.3 -50.8 127.3 -53.2 125.3 -48.6C123.3 -44 124.5 -46.2 122.1 -41.5C119.7 -36.8 120.4 -39.1 118.1 -34.5C115.8 -29.9 116.2 -30.1 115.3 -27.8Z" fill="rgb(10,20,150)"/>
<path d="M144.7 -76.1C146.3 -79.6 146.4 -80.4 149.4 -86.4C152.4 -92.4 151.3 -89.4 153.8 -94.2C156.4 -98.9 154.8 -95.5 157.1 -100.7C159.4 -105.9 158.4 -103.8 160.9 -109.8C163.4 -115.8 162.1 -113 164.5 -118.7C166.9 -124.5 165.8 -122 168.1 -126.9C170.4 -131.8 168.8 -127.2 171.5 -133.6C174.1 -139.9 173.3 -137.7 176.1 -146C178.8 -154.3 178.5 -154.3 179.7 -158.4L179.3 -158.6C176.9 -155 176.5 -155.4 171.9 -148C167.3 -140.6 168.9 -142.4 165.5 -136.4C162.2 -130.5 164.6 -134.9 161.9 -130.1C159.2 -125.3 160.4 -127.7 157.5 -122.1C154.6 -116.4 156 -119.1 153.1 -113.2C150.3 -107.4 151.2 -109.6 148.9 -104.5C146.6 -99.3 148.3 -102.8 146.2 -97.8C144.1 -92.9 145.2 -95.9 142.6 -89.6C140 -83.2 139.7 -82.4 138.3 -78.9Z" fill="rgb(14,44,224)"/>
<path d="M142.4 -77.1C143.9 -80.6 144.1 -81.4 147 -87.5C150 -93.6 148.8 -90.6 151.3 -95.4C153.8 -100.2 152.1 -96.8 154.4 -101.9C156.8 -107.1 155.8 -104.9 158.3 -110.9C160.9 -116.9 159.6 -114.2 162.1 -119.9C164.6 -125.6 163.5 -123.1 165.9 -128.1C168.2 -133 166.5 -128.3 169.3 -134.6C172 -140.9 171.1 -138.8 174.2 -146.9C177.3 -155 177.1 -154.9 178.5 -159L178.3 -159.1C176.1 -155.4 175.9 -155.7 171.6 -148.1C167.4 -140.6 168.8 -142.4 165.6 -136.4C162.4 -130.4 164.6 -134.9 162 -130C159.4 -125.2 160.6 -127.6 157.7 -121.9C154.9 -116.3 156.3 -119 153.5 -113.1C150.7 -107.2 151.7 -109.4 149.4 -104.2C147 -99.1 148.7 -102.6 146.5 -97.7C144.4 -92.7 145.5 -95.7 142.8 -89.5C140.1 -83.2 139.9 -82.4 138.4 -78.8Z" fill="rgb(10,20,150)"/>
<path d="M147.1 -103.5C149 -107 149.2 -107.1 152.8 -113.9C156.4 -120.6 154.7 -117.5 158.1 -123.8C161.4 -130.2 159.6 -126.3 162.8 -132.9C165.9 -139.4 164.5 -136 167.6 -143.5C170.6 -151 170.5 -151.5 171.9 -155.4L171.7 -155.6C169.6 -151.9 169.2 -151.7 165.4 -144.5C161.6 -137.4 163.5 -140.6 160.2 -134.1C157 -127.6 158.8 -131.4 155.7 -125C152.7 -118.5 154.2 -121.7 151 -114.7C147.8 -107.8 147.7 -107.6 146.1 -104.1Z" fill="rgb(226,30,28)"/>
<path d="M104 64.5 L116 58 L112 70 L106 68Z" fill="rgb(190,240,110)"/>
<path d="M101 66.5 L110 64 L108 69 L103 69.5Z" fill="rgb(112,240,132)"/>
<path d="M90.5 68.6C90.5 67.4 92.2 67.1 95 65C97.8 62.9 96.3 64.1 99 62.4C101.7 60.7 100.2 61.6 103 60C105.8 58.4 104.5 59.4 107.5 57.5C110.5 55.6 108.7 57.4 111.9 54.4C115.1 51.4 114.1 49.6 117.1 48.5C120.1 47.4 121.4 47.5 121 51C120.6 54.5 119.7 55.1 116 59C112.3 62.9 113.7 60.8 110 62.6C106.3 64.4 108.3 63.2 105 64.4C101.7 65.6 103.3 64.9 100 66.3C96.7 67.7 98.2 67.8 95 68.6C91.8 69.4 90.5 69.8 90.5 68.6Z" fill="rgb(14,44,224)"/>
<path d="M90 74.2C89.3 73.3 91.7 73.2 96 71.5C100.3 69.8 98.8 70.8 103 69C107.2 67.2 105.5 65.7 108.5 66C111.5 66.3 111.8 67.8 112 70C112.2 72.2 111.3 71.8 109 72.5C106.7 73.2 108.7 71.6 105 72.2C101.3 72.8 103 73.6 98 74.3C93 75 90.7 75.1 90 74.2Z" fill="rgb(14,44,224)"/>
<path d="M64.9 32.6C63.4 34.9 62.3 34.3 60.2 39.3C58.1 44.3 58.7 42.2 58.7 47.8C58.7 53.4 58 50.8 60.2 56.1C62.5 61.4 61.3 59.7 65.5 63.7C69.6 67.7 68.1 65.9 72.7 68.1C77.3 70.2 75.4 69.3 79.3 70C83.2 70.7 82.7 70.1 84.5 70.1L84.5 69.5C82.9 69.1 83.3 69.6 79.7 68.4C76.2 67.1 77.8 68.1 73.9 65.7C70 63.4 71.2 65 67.9 61.3C64.6 57.6 65.6 59.2 64 54.7C62.4 50.2 62.9 52.3 63.1 47.8C63.3 43.3 62.6 45.3 64.4 41.1C66.3 36.9 67.2 37.3 68.7 35.4Z" fill="rgb(226,30,28)"/>
<path d="M65.2 45.5C65.5 44 65 44.6 66.2 43.3C67.4 42 66.5 42.4 68.7 41.7C70.9 41 69.8 41.3 72.8 41.2C75.8 41.1 74.4 41.4 77.8 41.4C81.2 41.4 79.5 41.6 82.9 41.2C86.3 40.8 84.6 41 88 40.2C91.4 39.4 89.6 39.9 93 38.7C96.4 37.5 94.7 38.2 98.1 36.5C101.5 34.8 99.9 35.4 103.1 33.5C106.3 31.6 102.7 34.4 107.6 30.8C112.5 27.2 111.7 28.1 117.8 22.7C123.9 17.3 121.2 19.7 125.9 14.6C130.6 9.5 128.3 12.3 131.9 7.5C135.5 2.7 133.4 5.6 136.7 0.1C140 -5.4 138.5 -2.4 141.7 -9C144.9 -15.6 145.2 -17.9 146.3 -19.6C147.4 -21.3 146.2 -18.2 145 -14C143.8 -9.8 145.1 -14.2 142.8 -7C140.5 0.2 141 0.2 138.2 7.5C135.4 14.8 137.1 10 134.5 15C131.9 20 132.4 18 130.3 22.5C128.2 27 129.8 24.5 128.1 28.4C126.4 32.3 127.4 29.9 125.2 34.3C123 38.7 124.2 37 121.5 41.7C118.8 46.4 120.3 44.1 117.1 48.3C113.9 52.5 115.1 51.2 111.9 54.2C108.7 57.2 110.5 55.4 107.5 57.3C104.5 59.2 105.8 58.3 103 59.8C100.2 61.3 101.7 60.7 99 61.8C96.3 62.9 98 62.5 95 63.2C92 63.9 94 63.7 90 64C86 64.3 87.6 64.7 82.9 64C78.2 63.3 80 64 75.8 62C71.6 60 73.2 61 70.2 58C67.2 55 68.4 56.3 66.7 52.9C65 49.5 65.7 50.3 65.2 47.8C64.7 45.3 64.9 47 65.2 45.5Z" fill="#fff" stroke="#444" stroke-width="0.5"/>
</g>
<g transform="translate(0 249)">
<path d="M68.7 35.3C69.7 34.1 69.3 34.1 71.7 31.8C74.1 29.5 72.8 30.9 75.8 28.5C78.9 26 77.5 27.1 81 24.5C84.5 21.9 82.7 23.1 86.4 20.5C90.2 18 87.1 21.4 92.3 16.7C97.5 12 96.5 12.5 102.1 6.5C107.6 0.5 104.8 3.7 109 -1.2C113.3 -6.2 111.5 -3.2 114.7 -8.4C118 -13.6 116.4 -11.5 118.8 -17C121.2 -22.5 119.9 -20.2 122 -24.8C124 -29.5 122.6 -26.5 124.9 -30.9C127.2 -35.3 126.4 -33.1 128.8 -38C131.2 -42.9 130.1 -40.8 132.1 -45.6C134.1 -50.4 133.1 -48 134.8 -52.5C136.6 -57 135.2 -53.8 137.3 -59.1C139.5 -64.5 138.8 -63 141.2 -68.6C143.6 -74.2 143.5 -73.5 144.7 -76L138.3 -79C137.2 -76.5 137.4 -77.1 134.8 -71.4C132.2 -65.7 132.9 -67.2 130.7 -61.9C128.4 -56.5 129.9 -59.7 128 -55.3C126.1 -51 127.1 -53.3 124.9 -48.8C122.8 -44.3 124.1 -46.4 121.6 -41.8C119 -37.2 119.8 -39.5 117.3 -34.9C114.8 -30.4 116.1 -33.1 114 -28.2C112 -23.2 113.1 -25.4 111.2 -20C109.3 -14.6 110.7 -17 108.3 -12C105.9 -7 107.4 -10.1 104 -5.2C100.5 -0.2 103 -3.1 97.9 2.9C92.9 8.9 93.5 8.4 88.7 12.9C83.9 17.4 87.1 13.9 83.6 16.5C80 19 81.6 17.8 78 20.5C74.4 23.2 76 22 72.8 24.5C69.5 27.1 70.9 25.7 68.3 28.2C65.7 30.7 66 30.7 64.9 31.9Z" fill="rgb(14,44,224)"/>
<path d="M116.6 -27.2C117.8 -29.3 117.5 -29.1 120 -33.5C122.6 -37.9 121.7 -35.7 124.2 -40.4C126.7 -45.1 125.4 -43 127.5 -47.6C129.5 -52.3 128.6 -49.9 130.4 -54.3C132.2 -58.7 130.7 -55.6 133 -60.9C135.2 -66.3 134.5 -64.7 137.1 -70.4C139.7 -76.1 139.5 -75.4 140.7 -77.9L138.1 -79.1C137 -76.5 137.2 -77.2 134.7 -71.5C132.2 -65.7 132.9 -67.2 130.8 -61.8C128.6 -56.4 130 -59.6 128.2 -55.2C126.3 -50.8 127.3 -53.2 125.3 -48.6C123.3 -44 124.5 -46.2 122.1 -41.5C119.7 -36.8 120.4 -39.1 118.1 -34.5C115.8 -29.9 116.2 -30.1 115.3 -27.8Z" fill="rgb(10,20,150)"/>
<path d="M144.7 -76.1C146.3 -79.6 146.4 -80.4 149.4 -86.4C152.4 -92.4 151.3 -89.4 153.8 -94.2C156.4 -98.9 154.8 -95.5 157.1 -100.7C159.4 -105.9 158.4 -103.8 160.9 -109.8C163.4 -115.8 162.1 -113 164.5 -118.7C166.9 -124.5 165.8 -122 168.1 -126.9C170.4 -131.8 168.8 -127.2 171.5 -133.6C174.1 -139.9 173.3 -137.7 176.1 -146C178.8 -154.3 178.5 -154.3 179.7 -158.4L179.3 -158.6C176.9 -155 176.5 -155.4 171.9 -148C167.3 -140.6 168.9 -142.4 165.5 -136.4C162.2 -130.5 164.6 -134.9 161.9 -130.1C159.2 -125.3 160.4 -127.7 157.5 -122.1C154.6 -116.4 156 -119.1 153.1 -113.2C150.3 -107.4 151.2 -109.6 148.9 -104.5C146.6 -99.3 148.3 -102.8 146.2 -97.8C144.1 -92.9 145.2 -95.9 142.6 -89.6C140 -83.2 139.7 -82.4 138.3 -78.9Z" fill="rgb(14,44,224)"/>
<path d="M142.4 -77.1C143.9 -80.6 144.1 -81.4 147 -87.5C150 -93.6 148.8 -90.6 151.3 -95.4C153.8 -100.2 152.1 -96.8 154.4 -101.9C156.8 -107.1 155.8 -104.9 158.3 -110.9C160.9 -116.9 159.6 -114.2 162.1 -119.9C164.6 -125.6 163.5 -123.1 165.9 -128.1C168.2 -133 166.5 -128.3 169.3 -134.6C172 -140.9 171.1 -138.8 174.2 -146.9C177.3 -155 177.1 -154.9 178.5 -159L178.3 -159.1C176.1 -155.4 175.9 -155.7 171.6 -148.1C167.4 -140.6 168.8 -142.4 165.6 -136.4C162.4 -130.4 164.6 -134.9 162 -130C159.4 -125.2 160.6 -127.6 157.7 -121.9C154.9 -116.3 156.3 -119 153.5 -113.1C150.7 -107.2 151.7 -109.4 149.4 -104.2C147 -99.1 148.7 -102.6 146.5 -97.7C144.4 -92.7 145.5 -95.7 142.8 -89.5C140.1 -83.2 139.9 -82.4 138.4 -78.8Z" fill="rgb(10,20,150)"/>
<path d="M147.1 -103.5C149 -107 149.2 -107.1 152.8 -113.9C156.4 -120.6 154.7 -117.5 158.1 -123.8C161.4 -130.2 159.6 -126.3 162.8 -132.9C165.9 -139.4 164.5 -136 167.6 -143.5C170.6 -151 170.5 -151.5 171.9 -155.4L171.7 -155.6C169.6 -151.9 169.2 -151.7 165.4 -144.5C161.6 -137.4 163.5 -140.6 160.2 -134.1C157 -127.6 158.8 -131.4 155.7 -125C152.7 -118.5 154.2 -121.7 151 -114.7C147.8 -107.8 147.7 -107.6 146.1 -104.1Z" fill="rgb(226,30,28)"/>
<path d="M104 64.5 L116 58 L112 70 L106 68Z" fill="rgb(190,240,110)"/>
<path d="M101 66.5 L110 64 L108 69 L103 69.5Z" fill="rgb(112,240,132)"/>
<path d="M90.5 68.6C90.5 67.4 92.2 67.1 95 65C97.8 62.9 96.3 64.1 99 62.4C101.7 60.7 100.2 61.6 103 60C105.8 58.4 104.5 59.4 107.5 57.5C110.5 55.6 108.7 57.4 111.9 54.4C115.1 51.4 114.1 49.6 117.1 48.5C120.1 47.4 121.4 47.5 121 51C120.6 54.5 119.7 55.1 116 59C112.3 62.9 113.7 60.8 110 62.6C106.3 64.4 108.3 63.2 105 64.4C101.7 65.6 103.3 64.9 100 66.3C96.7 67.7 98.2 67.8 95 68.6C91.8 69.4 90.5 69.8 90.5 68.6Z" fill="rgb(14,44,224)"/>
<path d="M90 74.2C89.3 73.3 91.7 73.2 96 71.5C100.3 69.8 98.8 70.8 103 69C107.2 67.2 105.5 65.7 108.5 66C111.5 66.3 111.8 67.8 112 70C112.2 72.2 111.3 71.8 109 72.5C106.7 73.2 108.7 71.6 105 72.2C101.3 72.8 103 73.6 98 74.3C93 75 90.7 75.1 90 74.2Z" fill="rgb(14,44,224)"/>
<path d="M64.9 32.6C63.4 34.9 62.3 34.3 60.2 39.3C58.1 44.3 58.7 42.2 58.7 47.8C58.7 53.4 58 50.8 60.2 56.1C62.5 61.4 61.3 59.7 65.5 63.7C69.6 67.7 68.1 65.9 72.7 68.1C77.3 70.2 75.4 69.3 79.3 70C83.2 70.7 82.7 70.1 84.5 70.1L84.5 69.5C82.9 69.1 83.3 69.6 79.7 68.4C76.2 67.1 77.8 68.1 73.9 65.7C70 63.4 71.2 65 67.9 61.3C64.6 57.6 65.6 59.2 64 54.7C62.4 50.2 62.9 52.3 63.1 47.8C63.3 43.3 62.6 45.3 64.4 41.1C66.3 36.9 67.2 37.3 68.7 35.4Z" fill="rgb(226,30,28)"/>
<path d="M65.2 45.5C65.5 44 65 44.6 66.2 43.3C67.4 42 66.5 42.4 68.7 41.7C70.9 41 69.8 41.3 72.8 41.2C75.8 41.1 74.4 41.4 77.8 41.4C81.2 41.4 79.5 41.6 82.9 41.2C86.3 40.8 84.6 41 88 40.2C91.4 39.4 89.6 39.9 93 38.7C96.4 37.5 94.7 38.2 98.1 36.5C101.5 34.8 99.9 35.4 103.1 33.5C106.3 31.6 102.7 34.4 107.6 30.8C112.5 27.2 111.7 28.1 117.8 22.7C123.9 17.3 121.2 19.7 125.9 14.6C130.6 9.5 128.3 12.3 131.9 7.5C135.5 2.7 133.4 5.6 136.7 0.1C140 -5.4 138.5 -2.4 141.7 -9C144.9 -15.6 145.2 -17.9 146.3 -19.6C147.4 -21.3 146.2 -18.2 145 -14C143.8 -9.8 145.1 -14.2 142.8 -7C140.5 0.2 141 0.2 138.2 7.5C135.4 14.8 137.1 10 134.5 15C131.9 20 132.4 18 130.3 22.5C128.2 27 129.8 24.5 128.1 28.4C126.4 32.3 127.4 29.9 125.2 34.3C123 38.7 124.2 37 121.5 41.7C118.8 46.4 120.3 44.1 117.1 48.3C113.9 52.5 115.1 51.2 111.9 54.2C108.7 57.2 110.5 55.4 107.5 57.3C104.5 59.2 105.8 58.3 103 59.8C100.2 61.3 101.7 60.7 99 61.8C96.3 62.9 98 62.5 95 63.2C92 63.9 94 63.7 90 64C86 64.3 87.6 64.7 82.9 64C78.2 63.3 80 64 75.8 62C71.6 60 73.2 61 70.2 58C67.2 55 68.4 56.3 66.7 52.9C65 49.5 65.7 50.3 65.2 47.8C64.7 45.3 64.9 47 65.2 45.5Z" fill="#fff" stroke="#444" stroke-width="0.5"/>
</g>
</g>
</g>
<rect x="7.9" y="73.2" width="93.6" height="33.1" fill="#fff" stroke="#1f2d5c" stroke-width="1.2"/><text x="55.2" y="99.8" font-size="25.3" text-anchor="middle" class="s">Tu=1%</text>
<rect x="301.1" y="73.6" width="93.4" height="32.6" fill="#fff" stroke="#1f2d5c" stroke-width="1.2"/><text x="348.3" y="100" font-size="25.3" text-anchor="middle" class="s">Tu=2%</text>
<rect x="6.7" y="310.5" width="94" height="33.7" fill="#fff" stroke="#1f2d5c" stroke-width="1.2"/><text x="54.2" y="337.5" font-size="25.3" text-anchor="middle" class="s">Tu=4%</text>
<rect x="301.1" y="307.5" width="93.6" height="33" fill="#fff" stroke="#1f2d5c" stroke-width="1.2"/><text x="348.4" y="334.1" font-size="25.3" text-anchor="middle" class="s">Tu=6%</text>
</svg></body></html>
